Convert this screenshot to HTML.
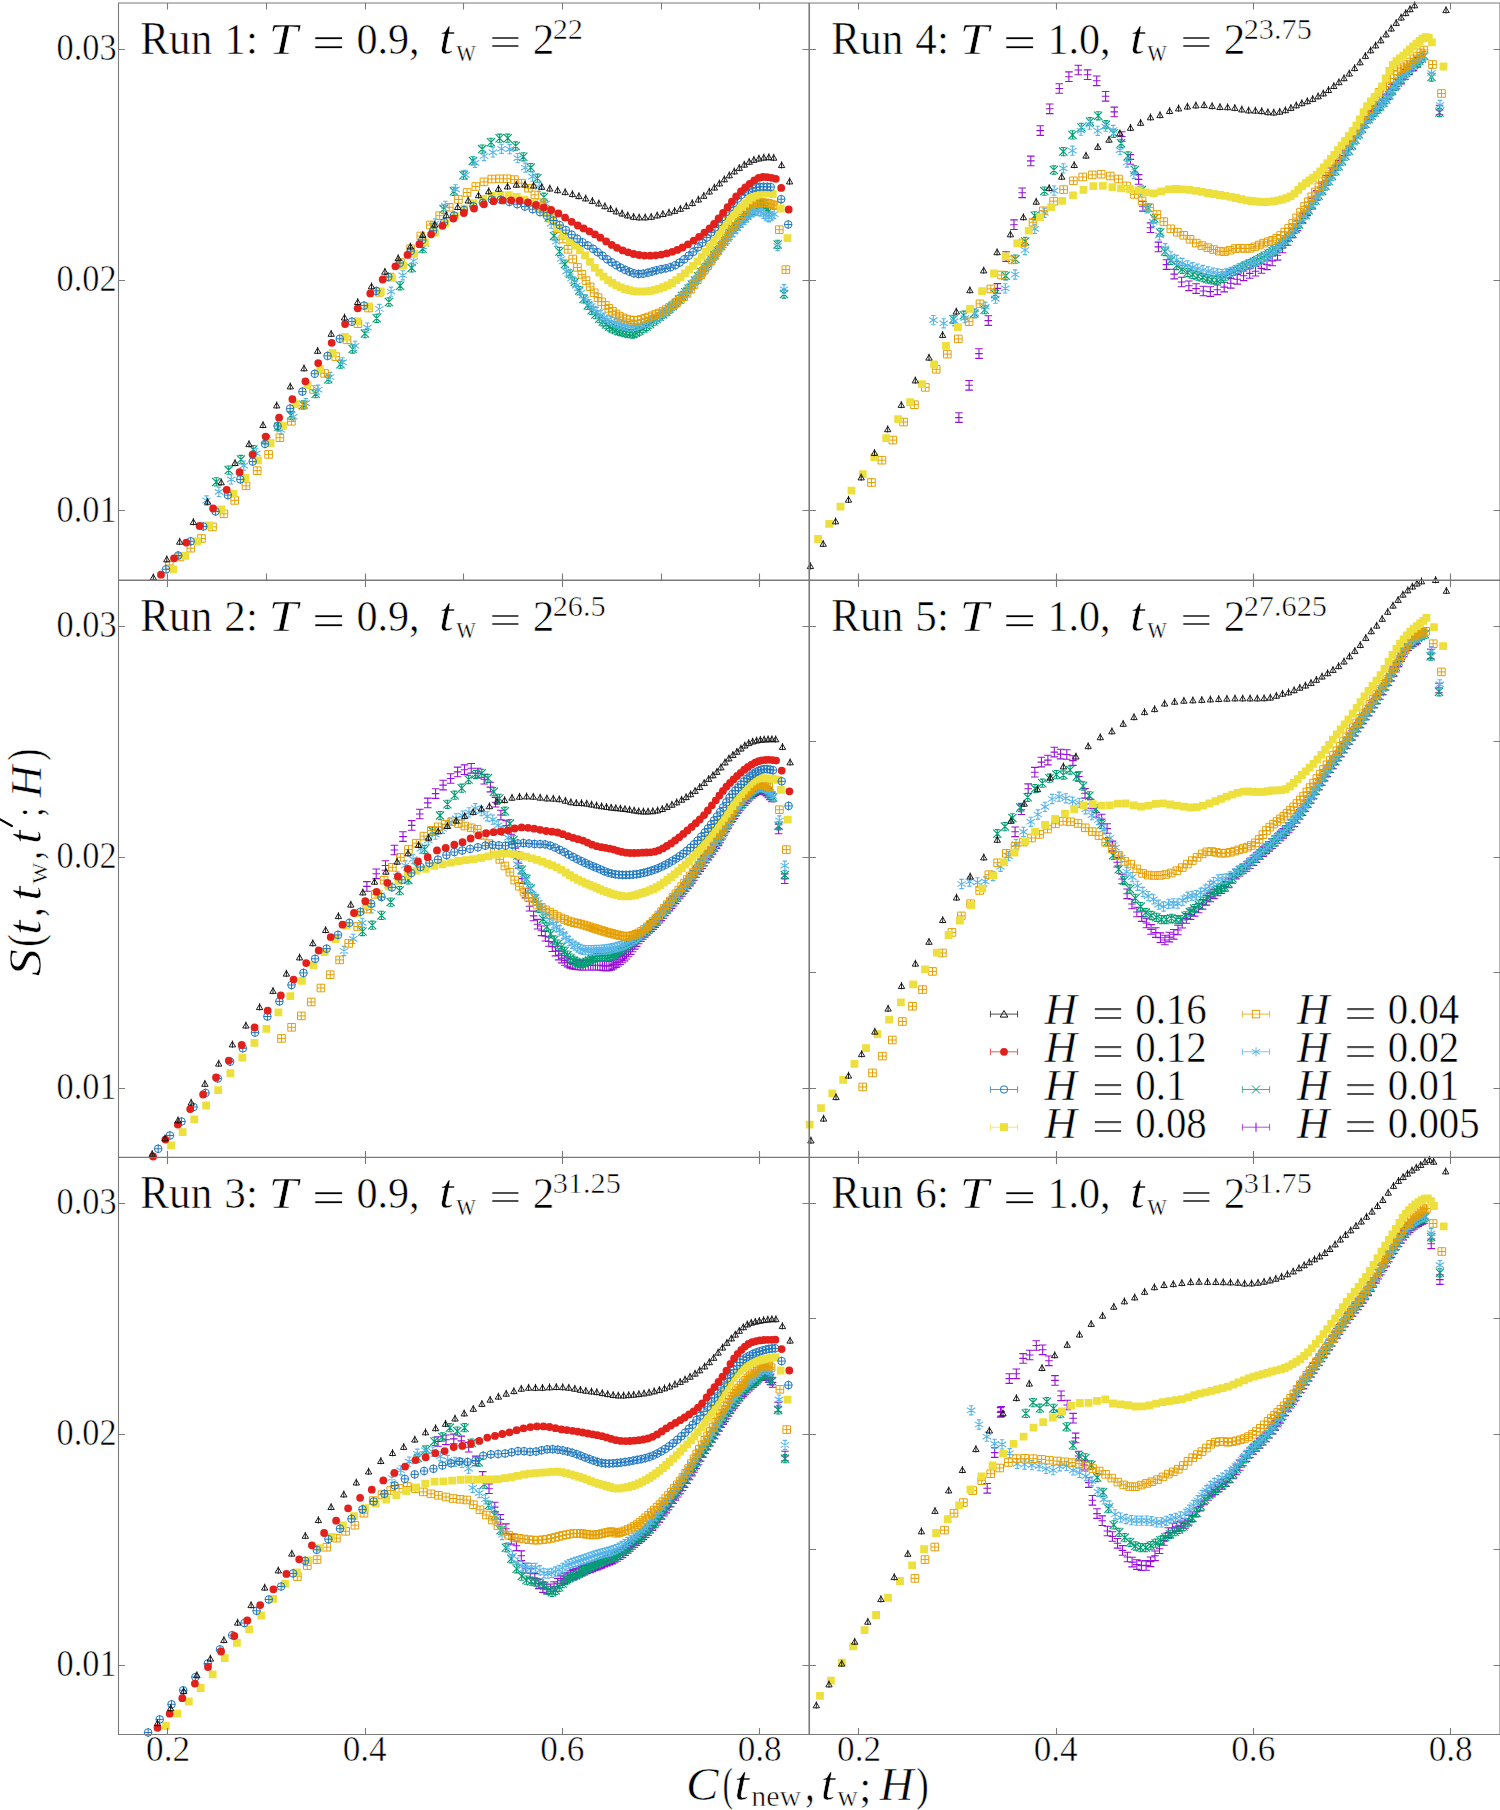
<!DOCTYPE html>
<html><head><meta charset="utf-8"><style>html,body{margin:0;padding:0;background:#fff;}svg{display:block;}</style></head>
<body><svg width="1500" height="1810" viewBox="0 0 1500 1810" font-family="Liberation Serif">
<defs><clipPath id="clipall"><rect x="100" y="0" width="1400" height="1750"/></clipPath></defs>
<g clip-path="url(#clipall)"><path fill="none" stroke="#009e73" stroke-width="1.1" d="M212.2 477.8l8.2 8.2m-8.2 0 8.2-8.2m-4.1 0v8.2m-2.4-8.2h4.8m-4.8 8.2h4.8M224.6 466l8.2 8.2m-8.2 0 8.2-8.2m-4.1 0v8.2m-2.4-8.2h4.8m-4.8 8.2h4.8M236.8 455.4l8.2 8.2m-8.2 0 8.2-8.2m-4.1 0v8.2m-2.4-8.2h4.8m-4.8 8.2h4.8M249.2 445.5l8.2 8.2m-8.2 0 8.2-8.2m-4.1 0v8.2m-2.4-8.2h4.8m-4.8 8.2h4.8M261.8 435.5l8.2 8.2m-8.2 0 8.2-8.2m-4.1 0v8.2m-2.4-8.2h4.8m-4.8 8.2h4.8M274.5 422.7l8.2 8.2m-8.2 0 8.2-8.2m-4.1 0v8.2m-2.4-8.2h4.8m-4.8 8.2h4.8M286.8 411.2l8.2 8.2m-8.2 0 8.2-8.2m-4.1 0v8.2m-2.4-8.2h4.8m-4.8 8.2h4.8M299.3 400.7l8.2 8.2m-8.2 0 8.2-8.2m-4.1 0v8.2m-2.4-8.2h4.8m-4.8 8.2h4.8M311.5 389.6l8.2 8.2m-8.2 0 8.2-8.2m-4.1 0v8.2m-2.4-8.2h4.8m-4.8 8.2h4.8M324.1 375.1l8.2 8.2m-8.2 0 8.2-8.2m-4.1 0v8.2m-2.4-8.2h4.8m-4.8 8.2h4.8M336.4 360.1l8.2 8.2m-8.2 0 8.2-8.2m-4.1 0v8.2m-2.4-8.2h4.8m-4.8 8.2h4.8M348.5 344.9l8.2 8.2m-8.2 0 8.2-8.2m-4.1 0v8.2m-2.4-8.2h4.8m-4.8 8.2h4.8M360.8 329.5l8.2 8.2m-8.2 0 8.2-8.2m-4.1 0v8.2m-2.4-8.2h4.8m-4.8 8.2h4.8M372.6 314.2l8.2 8.2m-8.2 0 8.2-8.2m-4.1 0v8.2m-2.4-8.2h4.8m-4.8 8.2h4.8M384.8 297.9l8.2 8.2m-8.2 0 8.2-8.2m-4.1 0v8.2m-2.4-8.2h4.8m-4.8 8.2h4.8M396 281.7l8.2 8.2m-8.2 0 8.2-8.2m-4.1 0v8.2m-2.4-8.2h4.8m-4.8 8.2h4.8M407.5 263.8l8.2 8.2m-8.2 0 8.2-8.2m-4.1 0v8.2m-2.4-8.2h4.8m-4.8 8.2h4.8M418.5 244.6l8.2 8.2m-8.2 0 8.2-8.2m-4.1 0v8.2m-2.4-8.2h4.8m-4.8 8.2h4.8M429.4 223.2l8.2 8.2m-8.2 0 8.2-8.2m-4.1 0v8.2m-2.4-8.2h4.8m-4.8 8.2h4.8M439.5 205l8.2 8.2m-8.2 0 8.2-8.2m-4.1 0v8.2m-2.4-8.2h4.8m-4.8 8.2h4.8M449.8 187.2l8.2 8.2m-8.2 0 8.2-8.2m-4.1 0v8.2m-2.4-8.2h4.8m-4.8 8.2h4.8M459.4 171.1l8.2 8.2m-8.2 0 8.2-8.2m-4.1 0v8.2m-2.4-8.2h4.8m-4.8 8.2h4.8M468.8 156.8l8.2 8.2m-8.2 0 8.2-8.2m-4.1 0v8.2m-2.4-8.2h4.8m-4.8 8.2h4.8M478.1 145l8.2 8.2m-8.2 0 8.2-8.2m-4.1 0v8.2m-2.4-8.2h4.8m-4.8 8.2h4.8M486.9 138.2l8.2 8.2m-8.2 0 8.2-8.2m-4.1 0v8.2m-2.4-8.2h4.8m-4.8 8.2h4.8M495.5 134.1l8.2 8.2m-8.2 0 8.2-8.2m-4.1 0v8.2m-2.4-8.2h4.8m-4.8 8.2h4.8M503.7 134.1l8.2 8.2m-8.2 0 8.2-8.2m-4.1 0v8.2m-2.4-8.2h4.8m-4.8 8.2h4.8M511.6 141.9l8.2 8.2m-8.2 0 8.2-8.2m-4.1 0v8.2m-2.4-8.2h4.8m-4.8 8.2h4.8M519.2 152.7l8.2 8.2m-8.2 0 8.2-8.2m-4.1 0v8.2m-2.4-8.2h4.8m-4.8 8.2h4.8M526.6 163.5l8.2 8.2m-8.2 0 8.2-8.2m-4.1 0v8.2m-2.4-8.2h4.8m-4.8 8.2h4.8M533.3 174.1l8.2 8.2m-8.2 0 8.2-8.2m-4.1 0v8.2m-2.4-8.2h4.8m-4.8 8.2h4.8M539.8 193.1l8.2 8.2m-8.2 0 8.2-8.2m-4.1 0v8.2m-2.4-8.2h4.8m-4.8 8.2h4.8M544.6 213.4l8.2 8.2m-8.2 0 8.2-8.2m-4.1 0v8.2m-2.4-8.2h4.8m-4.8 8.2h4.8M549.9 231.8l8.2 8.2m-8.2 0 8.2-8.2m-4.1 0v8.2m-2.4-8.2h4.8m-4.8 8.2h4.8M555.4 247.4l8.2 8.2m-8.2 0 8.2-8.2m-4.1 0v8.2m-2.4-8.2h4.8m-4.8 8.2h4.8M560.8 260l8.2 8.2m-8.2 0 8.2-8.2m-4.1 0v8.2m-2.4-8.2h4.8m-4.8 8.2h4.8M565.9 269.7l8.2 8.2m-8.2 0 8.2-8.2m-4.1 0v8.2m-2.4-8.2h4.8m-4.8 8.2h4.8M570.6 278l8.2 8.2m-8.2 0 8.2-8.2m-4.1 0v8.2m-2.4-8.2h4.8m-4.8 8.2h4.8M575.1 286.5l8.2 8.2m-8.2 0 8.2-8.2m-4.1 0v8.2m-2.4-8.2h4.8m-4.8 8.2h4.8M579.5 294.8l8.2 8.2m-8.2 0 8.2-8.2m-4.1 0v8.2m-2.4-8.2h4.8m-4.8 8.2h4.8M583.7 301.3l8.2 8.2m-8.2 0 8.2-8.2m-4.1 0v8.2m-2.4-8.2h4.8m-4.8 8.2h4.8M587.5 306.2l8.2 8.2m-8.2 0 8.2-8.2m-4.1 0v8.2m-2.4-8.2h4.8m-4.8 8.2h4.8M591.3 310.5l8.2 8.2m-8.2 0 8.2-8.2m-4.1 0v8.2m-2.4-8.2h4.8m-4.8 8.2h4.8M595.2 314.6l8.2 8.2m-8.2 0 8.2-8.2m-4.1 0v8.2m-2.4-8.2h4.8m-4.8 8.2h4.8M598.6 317.7l8.2 8.2m-8.2 0 8.2-8.2m-4.1 0v8.2m-2.4-8.2h4.8m-4.8 8.2h4.8M602 320.5l8.2 8.2m-8.2 0 8.2-8.2m-4.1 0v8.2m-2.4-8.2h4.8m-4.8 8.2h4.8M605.2 322.7l8.2 8.2m-8.2 0 8.2-8.2m-4.1 0v8.2m-2.4-8.2h4.8m-4.8 8.2h4.8M608.6 324.6l8.2 8.2m-8.2 0 8.2-8.2m-4.1 0v8.2m-2.4-8.2h4.8m-4.8 8.2h4.8M612 326l8.2 8.2m-8.2 0 8.2-8.2m-4.1 0v8.2m-2.4-8.2h4.8m-4.8 8.2h4.8M615.4 327.2l8.2 8.2m-8.2 0 8.2-8.2m-4.1 0v8.2m-2.4-8.2h4.8m-4.8 8.2h4.8M618.7 328.1l8.2 8.2m-8.2 0 8.2-8.2m-4.1 0v8.2m-2.4-8.2h4.8m-4.8 8.2h4.8M622.1 328.9l8.2 8.2m-8.2 0 8.2-8.2m-4.1 0v8.2m-2.4-8.2h4.8m-4.8 8.2h4.8M625.5 329.6l8.2 8.2m-8.2 0 8.2-8.2m-4.1 0v8.2m-2.4-8.2h4.8m-4.8 8.2h4.8M628.6 329.9l8.2 8.2m-8.2 0 8.2-8.2m-4.1 0v8.2m-2.4-8.2h4.8m-4.8 8.2h4.8M631.8 328.7l8.2 8.2m-8.2 0 8.2-8.2m-4.1 0v8.2m-2.4-8.2h4.8m-4.8 8.2h4.8M635.3 326.9l8.2 8.2m-8.2 0 8.2-8.2m-4.1 0v8.2m-2.4-8.2h4.8m-4.8 8.2h4.8M639 324.6l8.2 8.2m-8.2 0 8.2-8.2m-4.1 0v8.2m-2.4-8.2h4.8m-4.8 8.2h4.8M642.4 322.4l8.2 8.2m-8.2 0 8.2-8.2m-4.1 0v8.2m-2.4-8.2h4.8m-4.8 8.2h4.8M645.8 320l8.2 8.2m-8.2 0 8.2-8.2m-4.1 0v8.2m-2.4-8.2h4.8m-4.8 8.2h4.8M649.3 317.5l8.2 8.2m-8.2 0 8.2-8.2m-4.1 0v8.2m-2.4-8.2h4.8m-4.8 8.2h4.8M652.5 315l8.2 8.2m-8.2 0 8.2-8.2m-4.1 0v8.2m-2.4-8.2h4.8m-4.8 8.2h4.8M655.7 312.6l8.2 8.2m-8.2 0 8.2-8.2m-4.1 0v8.2m-2.4-8.2h4.8m-4.8 8.2h4.8M658.9 310.1l8.2 8.2m-8.2 0 8.2-8.2m-4.1 0v8.2m-2.4-8.2h4.8m-4.8 8.2h4.8M662.1 307.6l8.2 8.2m-8.2 0 8.2-8.2m-4.1 0v8.2m-2.4-8.2h4.8m-4.8 8.2h4.8M665.3 304.9l8.2 8.2m-8.2 0 8.2-8.2m-4.1 0v8.2m-2.4-8.2h4.8m-4.8 8.2h4.8M668.5 302l8.2 8.2m-8.2 0 8.2-8.2m-4.1 0v8.2m-2.4-8.2h4.8m-4.8 8.2h4.8M671.7 298.9l8.2 8.2m-8.2 0 8.2-8.2m-4.1 0v8.2m-2.4-8.2h4.8m-4.8 8.2h4.8M674.9 295.5l8.2 8.2m-8.2 0 8.2-8.2m-4.1 0v8.2m-2.4-8.2h4.8m-4.8 8.2h4.8M678.1 291.9l8.2 8.2m-8.2 0 8.2-8.2m-4.1 0v8.2m-2.4-8.2h4.8m-4.8 8.2h4.8M681.3 288.1l8.2 8.2m-8.2 0 8.2-8.2m-4.1 0v8.2m-2.4-8.2h4.8m-4.8 8.2h4.8M684.5 284.3l8.2 8.2m-8.2 0 8.2-8.2m-4.1 0v8.2m-2.4-8.2h4.8m-4.8 8.2h4.8M687.7 280.3l8.2 8.2m-8.2 0 8.2-8.2m-4.1 0v8.2m-2.4-8.2h4.8m-4.8 8.2h4.8M690.9 276.3l8.2 8.2m-8.2 0 8.2-8.2m-4.1 0v8.2m-2.4-8.2h4.8m-4.8 8.2h4.8M694.1 272.2l8.2 8.2m-8.2 0 8.2-8.2m-4.1 0v8.2m-2.4-8.2h4.8m-4.8 8.2h4.8M697.3 267.9l8.2 8.2m-8.2 0 8.2-8.2m-4.1 0v8.2m-2.4-8.2h4.8m-4.8 8.2h4.8M700.5 263.6l8.2 8.2m-8.2 0 8.2-8.2m-4.1 0v8.2m-2.4-8.2h4.8m-4.8 8.2h4.8M703.7 259.3l8.2 8.2m-8.2 0 8.2-8.2m-4.1 0v8.2m-2.4-8.2h4.8m-4.8 8.2h4.8M706.9 254.9l8.2 8.2m-8.2 0 8.2-8.2m-4.1 0v8.2m-2.4-8.2h4.8m-4.8 8.2h4.8M710.1 250.6l8.2 8.2m-8.2 0 8.2-8.2m-4.1 0v8.2m-2.4-8.2h4.8m-4.8 8.2h4.8M713.3 246.3l8.2 8.2m-8.2 0 8.2-8.2m-4.1 0v8.2m-2.4-8.2h4.8m-4.8 8.2h4.8M716.5 241.8l8.2 8.2m-8.2 0 8.2-8.2m-4.1 0v8.2m-2.4-8.2h4.8m-4.8 8.2h4.8M719.7 237.4l8.2 8.2m-8.2 0 8.2-8.2m-4.1 0v8.2m-2.4-8.2h4.8m-4.8 8.2h4.8M722.9 233.1l8.2 8.2m-8.2 0 8.2-8.2m-4.1 0v8.2m-2.4-8.2h4.8m-4.8 8.2h4.8M726.1 229l8.2 8.2m-8.2 0 8.2-8.2m-4.1 0v8.2m-2.4-8.2h4.8m-4.8 8.2h4.8M729.3 225.2l8.2 8.2m-8.2 0 8.2-8.2m-4.1 0v8.2m-2.4-8.2h4.8m-4.8 8.2h4.8M732 222.2l8.2 8.2m-8.2 0 8.2-8.2m-4.1 0v8.2m-2.4-8.2h4.8m-4.8 8.2h4.8M734.8 219.3l8.2 8.2m-8.2 0 8.2-8.2m-4.1 0v8.2m-2.4-8.2h4.8m-4.8 8.2h4.8M737.5 216.5l8.2 8.2m-8.2 0 8.2-8.2m-4.1 0v8.2m-2.4-8.2h4.8m-4.8 8.2h4.8M740.2 213.9l8.2 8.2m-8.2 0 8.2-8.2m-4.1 0v8.2m-2.4-8.2h4.8m-4.8 8.2h4.8M742.8 211.4l8.2 8.2m-8.2 0 8.2-8.2m-4.1 0v8.2m-2.4-8.2h4.8m-4.8 8.2h4.8M745.8 208.6l8.2 8.2m-8.2 0 8.2-8.2m-4.1 0v8.2m-2.4-8.2h4.8m-4.8 8.2h4.8M748.4 206.2l8.2 8.2m-8.2 0 8.2-8.2m-4.1 0v8.2m-2.4-8.2h4.8m-4.8 8.2h4.8M751.1 203.2l8.2 8.2m-8.2 0 8.2-8.2m-4.1 0v8.2m-2.4-8.2h4.8m-4.8 8.2h4.8M753.9 200.1l8.2 8.2m-8.2 0 8.2-8.2m-4.1 0v8.2m-2.4-8.2h4.8m-4.8 8.2h4.8M756.6 198.6l8.2 8.2m-8.2 0 8.2-8.2m-4.1 0v8.2m-2.4-8.2h4.8m-4.8 8.2h4.8M759.2 199.8l8.2 8.2m-8.2 0 8.2-8.2m-4.1 0v8.2m-2.4-8.2h4.8m-4.8 8.2h4.8M761.8 202.9l8.2 8.2m-8.2 0 8.2-8.2m-4.1 0v8.2m-2.4-8.2h4.8m-4.8 8.2h4.8M764.6 207.4l8.2 8.2m-8.2 0 8.2-8.2m-4.1 0v8.2m-2.4-8.2h4.8m-4.8 8.2h4.8M773.5 240.3l8.2 8.2m-8.2 0 8.2-8.2m-4.1 0v8.2m-2.4-8.2h4.8m-4.8 8.2h4.8M779.9 289.9l8.2 8.2m-8.2 0 8.2-8.2m-4.1 0v8.2m-2.4-8.2h4.8m-4.8 8.2h4.8"/>
<path fill="none" stroke="#56b4e9" stroke-width="1.1" d="M206.5 495.9v9.2m-4.2-7.2 8.4 5.2m-8.4 0 8.4-5.2m-6.4-2h4.4m-4.4 9.2h4.4M218.9 487.3v9.2m-4.2-7.2 8.4 5.2m-8.4 0 8.4-5.2m-6.4-2h4.4m-4.4 9.2h4.4M231.2 474.8v9.2m-4.2-7.2 8.4 5.2m-8.4 0 8.4-5.2m-6.4-2h4.4m-4.4 9.2h4.4M243.8 461v9.2m-4.2-7.2 8.4 5.2m-8.4 0 8.4-5.2m-6.4-2h4.4m-4.4 9.2h4.4M256.3 448.7v9.2m-4.2-7.2 8.4 5.2m-8.4 0 8.4-5.2m-6.4-2h4.4m-4.4 9.2h4.4M268.8 437.2v9.2m-4.2-7.2 8.4 5.2m-8.4 0 8.4-5.2m-6.4-2h4.4m-4.4 9.2h4.4M281 425.2v9.2m-4.2-7.2 8.4 5.2m-8.4 0 8.4-5.2m-6.4-2h4.4m-4.4 9.2h4.4M293.3 412.2v9.2m-4.2-7.2 8.4 5.2m-8.4 0 8.4-5.2m-6.4-2h4.4m-4.4 9.2h4.4M305.8 398.5v9.2m-4.2-7.2 8.4 5.2m-8.4 0 8.4-5.2m-6.4-2h4.4m-4.4 9.2h4.4M318.1 385.1v9.2m-4.2-7.2 8.4 5.2m-8.4 0 8.4-5.2m-6.4-2h4.4m-4.4 9.2h4.4M330.2 372.4v9.2m-4.2-7.2 8.4 5.2m-8.4 0 8.4-5.2m-6.4-2h4.4m-4.4 9.2h4.4M342.6 357.8v9.2m-4.2-7.2 8.4 5.2m-8.4 0 8.4-5.2m-6.4-2h4.4m-4.4 9.2h4.4M355.1 341.2v9.2m-4.2-7.2 8.4 5.2m-8.4 0 8.4-5.2m-6.4-2h4.4m-4.4 9.2h4.4M367.4 323v9.2m-4.2-7.2 8.4 5.2m-8.4 0 8.4-5.2m-6.4-2h4.4m-4.4 9.2h4.4M379.4 304.4v9.2m-4.2-7.2 8.4 5.2m-8.4 0 8.4-5.2m-6.4-2h4.4m-4.4 9.2h4.4M391.1 287.1v9.2m-4.2-7.2 8.4 5.2m-8.4 0 8.4-5.2m-6.4-2h4.4m-4.4 9.2h4.4M402.8 270.7v9.2m-4.2-7.2 8.4 5.2m-8.4 0 8.4-5.2m-6.4-2h4.4m-4.4 9.2h4.4M413.8 256.4v9.2m-4.2-7.2 8.4 5.2m-8.4 0 8.4-5.2m-6.4-2h4.4m-4.4 9.2h4.4M424.7 239.3v9.2m-4.2-7.2 8.4 5.2m-8.4 0 8.4-5.2m-6.4-2h4.4m-4.4 9.2h4.4M435.3 218.9v9.2m-4.2-7.2 8.4 5.2m-8.4 0 8.4-5.2m-6.4-2h4.4m-4.4 9.2h4.4M445.4 201.2v9.2m-4.2-7.2 8.4 5.2m-8.4 0 8.4-5.2m-6.4-2h4.4m-4.4 9.2h4.4M455.5 184.8v9.2m-4.2-7.2 8.4 5.2m-8.4 0 8.4-5.2m-6.4-2h4.4m-4.4 9.2h4.4M465.4 170.3v9.2m-4.2-7.2 8.4 5.2m-8.4 0 8.4-5.2m-6.4-2h4.4m-4.4 9.2h4.4M475 158.3v9.2m-4.2-7.2 8.4 5.2m-8.4 0 8.4-5.2m-6.4-2h4.4m-4.4 9.2h4.4M484.1 151.4v9.2m-4.2-7.2 8.4 5.2m-8.4 0 8.4-5.2m-6.4-2h4.4m-4.4 9.2h4.4M492.9 147.8v9.2m-4.2-7.2 8.4 5.2m-8.4 0 8.4-5.2m-6.4-2h4.4m-4.4 9.2h4.4M501.5 144.2v9.2m-4.2-7.2 8.4 5.2m-8.4 0 8.4-5.2m-6.4-2h4.4m-4.4 9.2h4.4M509.7 144.6v9.2m-4.2-7.2 8.4 5.2m-8.4 0 8.4-5.2m-6.4-2h4.4m-4.4 9.2h4.4M517.7 153.5v9.2m-4.2-7.2 8.4 5.2m-8.4 0 8.4-5.2m-6.4-2h4.4m-4.4 9.2h4.4M525.3 163.1v9.2m-4.2-7.2 8.4 5.2m-8.4 0 8.4-5.2m-6.4-2h4.4m-4.4 9.2h4.4M532.5 172v9.2m-4.2-7.2 8.4 5.2m-8.4 0 8.4-5.2m-6.4-2h4.4m-4.4 9.2h4.4M539.1 182.4v9.2m-4.2-7.2 8.4 5.2m-8.4 0 8.4-5.2m-6.4-2h4.4m-4.4 9.2h4.4M545.6 199v9.2m-4.2-7.2 8.4 5.2m-8.4 0 8.4-5.2m-6.4-2h4.4m-4.4 9.2h4.4M551.2 219v9.2m-4.2-7.2 8.4 5.2m-8.4 0 8.4-5.2m-6.4-2h4.4m-4.4 9.2h4.4M556 237.2v9.2m-4.2-7.2 8.4 5.2m-8.4 0 8.4-5.2m-6.4-2h4.4m-4.4 9.2h4.4M561.1 254.4v9.2m-4.2-7.2 8.4 5.2m-8.4 0 8.4-5.2m-6.4-2h4.4m-4.4 9.2h4.4M566.5 266.8v9.2m-4.2-7.2 8.4 5.2m-8.4 0 8.4-5.2m-6.4-2h4.4m-4.4 9.2h4.4M571.4 273.9v9.2m-4.2-7.2 8.4 5.2m-8.4 0 8.4-5.2m-6.4-2h4.4m-4.4 9.2h4.4M576.2 281.1v9.2m-4.2-7.2 8.4 5.2m-8.4 0 8.4-5.2m-6.4-2h4.4m-4.4 9.2h4.4M580.9 288.4v9.2m-4.2-7.2 8.4 5.2m-8.4 0 8.4-5.2m-6.4-2h4.4m-4.4 9.2h4.4M585.3 294.6v9.2m-4.2-7.2 8.4 5.2m-8.4 0 8.4-5.2m-6.4-2h4.4m-4.4 9.2h4.4M589.3 299.6v9.2m-4.2-7.2 8.4 5.2m-8.4 0 8.4-5.2m-6.4-2h4.4m-4.4 9.2h4.4M593.4 304v9.2m-4.2-7.2 8.4 5.2m-8.4 0 8.4-5.2m-6.4-2h4.4m-4.4 9.2h4.4M597 307.5v9.2m-4.2-7.2 8.4 5.2m-8.4 0 8.4-5.2m-6.4-2h4.4m-4.4 9.2h4.4M600.8 310.7v9.2m-4.2-7.2 8.4 5.2m-8.4 0 8.4-5.2m-6.4-2h4.4m-4.4 9.2h4.4M604.2 313v9.2m-4.2-7.2 8.4 5.2m-8.4 0 8.4-5.2m-6.4-2h4.4m-4.4 9.2h4.4M607.9 315.1v9.2m-4.2-7.2 8.4 5.2m-8.4 0 8.4-5.2m-6.4-2h4.4m-4.4 9.2h4.4M611.3 316.6v9.2m-4.2-7.2 8.4 5.2m-8.4 0 8.4-5.2m-6.4-2h4.4m-4.4 9.2h4.4M614.8 317.8v9.2m-4.2-7.2 8.4 5.2m-8.4 0 8.4-5.2m-6.4-2h4.4m-4.4 9.2h4.4M618.2 318.9v9.2m-4.2-7.2 8.4 5.2m-8.4 0 8.4-5.2m-6.4-2h4.4m-4.4 9.2h4.4M621.3 319.9v9.2m-4.2-7.2 8.4 5.2m-8.4 0 8.4-5.2m-6.4-2h4.4m-4.4 9.2h4.4M624.5 320.7v9.2m-4.2-7.2 8.4 5.2m-8.4 0 8.4-5.2m-6.4-2h4.4m-4.4 9.2h4.4M627.6 321.6v9.2m-4.2-7.2 8.4 5.2m-8.4 0 8.4-5.2m-6.4-2h4.4m-4.4 9.2h4.4M630.9 321.8v9.2m-4.2-7.2 8.4 5.2m-8.4 0 8.4-5.2m-6.4-2h4.4m-4.4 9.2h4.4M634.1 321.3v9.2m-4.2-7.2 8.4 5.2m-8.4 0 8.4-5.2m-6.4-2h4.4m-4.4 9.2h4.4M637.4 320.5v9.2m-4.2-7.2 8.4 5.2m-8.4 0 8.4-5.2m-6.4-2h4.4m-4.4 9.2h4.4M640.6 319.7v9.2m-4.2-7.2 8.4 5.2m-8.4 0 8.4-5.2m-6.4-2h4.4m-4.4 9.2h4.4M644 318.6v9.2m-4.2-7.2 8.4 5.2m-8.4 0 8.4-5.2m-6.4-2h4.4m-4.4 9.2h4.4M647.4 317.4v9.2m-4.2-7.2 8.4 5.2m-8.4 0 8.4-5.2m-6.4-2h4.4m-4.4 9.2h4.4M650.8 315.9v9.2m-4.2-7.2 8.4 5.2m-8.4 0 8.4-5.2m-6.4-2h4.4m-4.4 9.2h4.4M654.1 314.3v9.2m-4.2-7.2 8.4 5.2m-8.4 0 8.4-5.2m-6.4-2h4.4m-4.4 9.2h4.4M657.3 312.6v9.2m-4.2-7.2 8.4 5.2m-8.4 0 8.4-5.2m-6.4-2h4.4m-4.4 9.2h4.4M660.5 310.7v9.2m-4.2-7.2 8.4 5.2m-8.4 0 8.4-5.2m-6.4-2h4.4m-4.4 9.2h4.4M663.7 308.6v9.2m-4.2-7.2 8.4 5.2m-8.4 0 8.4-5.2m-6.4-2h4.4m-4.4 9.2h4.4M666.9 306.4v9.2m-4.2-7.2 8.4 5.2m-8.4 0 8.4-5.2m-6.4-2h4.4m-4.4 9.2h4.4M670.1 303.8v9.2m-4.2-7.2 8.4 5.2m-8.4 0 8.4-5.2m-6.4-2h4.4m-4.4 9.2h4.4M673.3 301.1v9.2m-4.2-7.2 8.4 5.2m-8.4 0 8.4-5.2m-6.4-2h4.4m-4.4 9.2h4.4M676.5 298v9.2m-4.2-7.2 8.4 5.2m-8.4 0 8.4-5.2m-6.4-2h4.4m-4.4 9.2h4.4M679.7 294.6v9.2m-4.2-7.2 8.4 5.2m-8.4 0 8.4-5.2m-6.4-2h4.4m-4.4 9.2h4.4M682.9 291.1v9.2m-4.2-7.2 8.4 5.2m-8.4 0 8.4-5.2m-6.4-2h4.4m-4.4 9.2h4.4M686.1 287.4v9.2m-4.2-7.2 8.4 5.2m-8.4 0 8.4-5.2m-6.4-2h4.4m-4.4 9.2h4.4M689.3 283.6v9.2m-4.2-7.2 8.4 5.2m-8.4 0 8.4-5.2m-6.4-2h4.4m-4.4 9.2h4.4M692.5 279.9v9.2m-4.2-7.2 8.4 5.2m-8.4 0 8.4-5.2m-6.4-2h4.4m-4.4 9.2h4.4M695.7 276.1v9.2m-4.2-7.2 8.4 5.2m-8.4 0 8.4-5.2m-6.4-2h4.4m-4.4 9.2h4.4M698.9 272.1v9.2m-4.2-7.2 8.4 5.2m-8.4 0 8.4-5.2m-6.4-2h4.4m-4.4 9.2h4.4M702.1 268.1v9.2m-4.2-7.2 8.4 5.2m-8.4 0 8.4-5.2m-6.4-2h4.4m-4.4 9.2h4.4M705.3 264v9.2m-4.2-7.2 8.4 5.2m-8.4 0 8.4-5.2m-6.4-2h4.4m-4.4 9.2h4.4M708.5 259.9v9.2m-4.2-7.2 8.4 5.2m-8.4 0 8.4-5.2m-6.4-2h4.4m-4.4 9.2h4.4M711.7 255.7v9.2m-4.2-7.2 8.4 5.2m-8.4 0 8.4-5.2m-6.4-2h4.4m-4.4 9.2h4.4M714.9 251.4v9.2m-4.2-7.2 8.4 5.2m-8.4 0 8.4-5.2m-6.4-2h4.4m-4.4 9.2h4.4M718.1 247v9.2m-4.2-7.2 8.4 5.2m-8.4 0 8.4-5.2m-6.4-2h4.4m-4.4 9.2h4.4M721.3 242.6v9.2m-4.2-7.2 8.4 5.2m-8.4 0 8.4-5.2m-6.4-2h4.4m-4.4 9.2h4.4M724.5 238.3v9.2m-4.2-7.2 8.4 5.2m-8.4 0 8.4-5.2m-6.4-2h4.4m-4.4 9.2h4.4M727.7 234.2v9.2m-4.2-7.2 8.4 5.2m-8.4 0 8.4-5.2m-6.4-2h4.4m-4.4 9.2h4.4M730.9 230.2v9.2m-4.2-7.2 8.4 5.2m-8.4 0 8.4-5.2m-6.4-2h4.4m-4.4 9.2h4.4M733.6 227.1v9.2m-4.2-7.2 8.4 5.2m-8.4 0 8.4-5.2m-6.4-2h4.4m-4.4 9.2h4.4M736.4 223.9v9.2m-4.2-7.2 8.4 5.2m-8.4 0 8.4-5.2m-6.4-2h4.4m-4.4 9.2h4.4M739.1 220.8v9.2m-4.2-7.2 8.4 5.2m-8.4 0 8.4-5.2m-6.4-2h4.4m-4.4 9.2h4.4M741.8 217.9v9.2m-4.2-7.2 8.4 5.2m-8.4 0 8.4-5.2m-6.4-2h4.4m-4.4 9.2h4.4M744.4 215.3v9.2m-4.2-7.2 8.4 5.2m-8.4 0 8.4-5.2m-6.4-2h4.4m-4.4 9.2h4.4M747.3 212.4v9.2m-4.2-7.2 8.4 5.2m-8.4 0 8.4-5.2m-6.4-2h4.4m-4.4 9.2h4.4M750.1 209.8v9.2m-4.2-7.2 8.4 5.2m-8.4 0 8.4-5.2m-6.4-2h4.4m-4.4 9.2h4.4M752.7 207.8v9.2m-4.2-7.2 8.4 5.2m-8.4 0 8.4-5.2m-6.4-2h4.4m-4.4 9.2h4.4M755.3 206.5v9.2m-4.2-7.2 8.4 5.2m-8.4 0 8.4-5.2m-6.4-2h4.4m-4.4 9.2h4.4M758.1 206.2v9.2m-4.2-7.2 8.4 5.2m-8.4 0 8.4-5.2m-6.4-2h4.4m-4.4 9.2h4.4M760.7 207.1v9.2m-4.2-7.2 8.4 5.2m-8.4 0 8.4-5.2m-6.4-2h4.4m-4.4 9.2h4.4M763.4 209.3v9.2m-4.2-7.2 8.4 5.2m-8.4 0 8.4-5.2m-6.4-2h4.4m-4.4 9.2h4.4M766 211.5v9.2m-4.2-7.2 8.4 5.2m-8.4 0 8.4-5.2m-6.4-2h4.4m-4.4 9.2h4.4M768.8 212.7v9.2m-4.2-7.2 8.4 5.2m-8.4 0 8.4-5.2m-6.4-2h4.4m-4.4 9.2h4.4M771.6 211.6v9.2m-4.2-7.2 8.4 5.2m-8.4 0 8.4-5.2m-6.4-2h4.4m-4.4 9.2h4.4M774.2 209.5v9.2m-4.2-7.2 8.4 5.2m-8.4 0 8.4-5.2m-6.4-2h4.4m-4.4 9.2h4.4M777.6 241.4v9.2m-4.2-7.2 8.4 5.2m-8.4 0 8.4-5.2m-6.4-2h4.4m-4.4 9.2h4.4M784 284.6v9.2m-4.2-7.2 8.4 5.2m-8.4 0 8.4-5.2m-6.4-2h4.4m-4.4 9.2h4.4"/>
<path fill="none" stroke="#e69f00" stroke-width="1.0" d="M165.5 561.2h7.6v7.6h-7.6zm3.8 0v7.6m-3.8-3.8h7.6M176.2 553.2h7.6v7.6h-7.6zm3.8 0v7.6m-3.8-3.8h7.6M187 544.4h7.6v7.6h-7.6zm3.8 0v7.6m-3.8-3.8h7.6M197.7 534.7h7.6v7.6h-7.6zm3.8 0v7.6m-3.8-3.8h7.6M208.7 523.1h7.6v7.6h-7.6zm3.8 0v7.6m-3.8-3.8h7.6M220.1 510h7.6v7.6h-7.6zm3.8 0v7.6m-3.8-3.8h7.6M230.9 496.6h7.6v7.6h-7.6zm3.8 0v7.6m-3.8-3.8h7.6M242.2 482h7.6v7.6h-7.6zm3.8 0v7.6m-3.8-3.8h7.6M253.4 466.9h7.6v7.6h-7.6zm3.8 0v7.6m-3.8-3.8h7.6M264.8 450.6h7.6v7.6h-7.6zm3.8 0v7.6m-3.8-3.8h7.6M276.1 433.9h7.6v7.6h-7.6zm3.8 0v7.6m-3.8-3.8h7.6M287.6 417.5h7.6v7.6h-7.6zm3.8 0v7.6m-3.8-3.8h7.6M298.7 401.6h7.6v7.6h-7.6zm3.8 0v7.6m-3.8-3.8h7.6M309.8 385.7h7.6v7.6h-7.6zm3.8 0v7.6m-3.8-3.8h7.6M320.8 369.6h7.6v7.6h-7.6zm3.8 0v7.6m-3.8-3.8h7.6M332 352.8h7.6v7.6h-7.6zm3.8 0v7.6m-3.8-3.8h7.6M343.2 336h7.6v7.6h-7.6zm3.8 0v7.6m-3.8-3.8h7.6M354.1 319.9h7.6v7.6h-7.6zm3.8 0v7.6m-3.8-3.8h7.6M364.8 304.2h7.6v7.6h-7.6zm3.8 0v7.6m-3.8-3.8h7.6M375.6 288.5h7.6v7.6h-7.6zm3.8 0v7.6m-3.8-3.8h7.6M386.3 273.3h7.6v7.6h-7.6zm3.8 0v7.6m-3.8-3.8h7.6M396.7 258.7h7.6v7.6h-7.6zm3.8 0v7.6m-3.8-3.8h7.6M406.8 245h7.6v7.6h-7.6zm3.8 0v7.6m-3.8-3.8h7.6M417 232.2h7.6v7.6h-7.6zm3.8 0v7.6m-3.8-3.8h7.6M426.6 221.2h7.6v7.6h-7.6zm3.8 0v7.6m-3.8-3.8h7.6M435.9 211.9h7.6v7.6h-7.6zm3.8 0v7.6m-3.8-3.8h7.6M445.4 203.5h7.6v7.6h-7.6zm3.8 0v7.6m-3.8-3.8h7.6M454.6 195.7h7.6v7.6h-7.6zm3.8 0v7.6m-3.8-3.8h7.6M463.3 188.7h7.6v7.6h-7.6zm3.8 0v7.6m-3.8-3.8h7.6M472 182.7h7.6v7.6h-7.6zm3.8 0v7.6m-3.8-3.8h7.6M480.2 178.1h7.6v7.6h-7.6zm3.8 0v7.6m-3.8-3.8h7.6M488 175.2h7.6v7.6h-7.6zm3.8 0v7.6m-3.8-3.8h7.6M495.8 175h7.6v7.6h-7.6zm3.8 0v7.6m-3.8-3.8h7.6M503.3 175h7.6v7.6h-7.6zm3.8 0v7.6m-3.8-3.8h7.6M510.6 175.8h7.6v7.6h-7.6zm3.8 0v7.6m-3.8-3.8h7.6M517.8 179.4h7.6v7.6h-7.6zm3.8 0v7.6m-3.8-3.8h7.6M524.6 184.4h7.6v7.6h-7.6zm3.8 0v7.6m-3.8-3.8h7.6M531.1 191.1h7.6v7.6h-7.6zm3.8 0v7.6m-3.8-3.8h7.6M537.1 199h7.6v7.6h-7.6zm3.8 0v7.6m-3.8-3.8h7.6M542.9 206.7h7.6v7.6h-7.6zm3.8 0v7.6m-3.8-3.8h7.6M548.4 214.9h7.6v7.6h-7.6zm3.8 0v7.6m-3.8-3.8h7.6M554 225h7.6v7.6h-7.6zm3.8 0v7.6m-3.8-3.8h7.6M559.1 235.2h7.6v7.6h-7.6zm3.8 0v7.6m-3.8-3.8h7.6M564.2 245.5h7.6v7.6h-7.6zm3.8 0v7.6m-3.8-3.8h7.6M568.9 255.2h7.6v7.6h-7.6zm3.8 0v7.6m-3.8-3.8h7.6M573.6 263.6h7.6v7.6h-7.6zm3.8 0v7.6m-3.8-3.8h7.6M578.1 270.6h7.6v7.6h-7.6zm3.8 0v7.6m-3.8-3.8h7.6M582.2 276.8h7.6v7.6h-7.6zm3.8 0v7.6m-3.8-3.8h7.6M586.3 283h7.6v7.6h-7.6zm3.8 0v7.6m-3.8-3.8h7.6M590.4 289h7.6v7.6h-7.6zm3.8 0v7.6m-3.8-3.8h7.6M594.2 293.8h7.6v7.6h-7.6zm3.8 0v7.6m-3.8-3.8h7.6M597.8 298h7.6v7.6h-7.6zm3.8 0v7.6m-3.8-3.8h7.6M601.5 301.6h7.6v7.6h-7.6zm3.8 0v7.6m-3.8-3.8h7.6M605 304.6h7.6v7.6h-7.6zm3.8 0v7.6m-3.8-3.8h7.6M608.7 307.6h7.6v7.6h-7.6zm3.8 0v7.6m-3.8-3.8h7.6M612.1 310.1h7.6v7.6h-7.6zm3.8 0v7.6m-3.8-3.8h7.6M615.6 312.3h7.6v7.6h-7.6zm3.8 0v7.6m-3.8-3.8h7.6M619.1 314h7.6v7.6h-7.6zm3.8 0v7.6m-3.8-3.8h7.6M622.8 315.3h7.6v7.6h-7.6zm3.8 0v7.6m-3.8-3.8h7.6M626.4 316.1h7.6v7.6h-7.6zm3.8 0v7.6m-3.8-3.8h7.6M630.1 316.6h7.6v7.6h-7.6zm3.8 0v7.6m-3.8-3.8h7.6M633.6 316.5h7.6v7.6h-7.6zm3.8 0v7.6m-3.8-3.8h7.6M637.3 315.7h7.6v7.6h-7.6zm3.8 0v7.6m-3.8-3.8h7.6M641.1 314.4h7.6v7.6h-7.6zm3.8 0v7.6m-3.8-3.8h7.6M644.7 313.3h7.6v7.6h-7.6zm3.8 0v7.6m-3.8-3.8h7.6M648.5 312h7.6v7.6h-7.6zm3.8 0v7.6m-3.8-3.8h7.6M651.9 310.7h7.6v7.6h-7.6zm3.8 0v7.6m-3.8-3.8h7.6M655.3 309.3h7.6v7.6h-7.6zm3.8 0v7.6m-3.8-3.8h7.6M659.1 307.6h7.6v7.6h-7.6zm3.8 0v7.6m-3.8-3.8h7.6M662.6 305.7h7.6v7.6h-7.6zm3.8 0v7.6m-3.8-3.8h7.6M665.9 303.6h7.6v7.6h-7.6zm3.8 0v7.6m-3.8-3.8h7.6M669.7 301h7.6v7.6h-7.6zm3.8 0v7.6m-3.8-3.8h7.6M673.1 298.5h7.6v7.6h-7.6zm3.8 0v7.6m-3.8-3.8h7.6M676.5 295.9h7.6v7.6h-7.6zm3.8 0v7.6m-3.8-3.8h7.6M679.9 292.9h7.6v7.6h-7.6zm3.8 0v7.6m-3.8-3.8h7.6M683.3 289.5h7.6v7.6h-7.6zm3.8 0v7.6m-3.8-3.8h7.6M686.8 285.5h7.6v7.6h-7.6zm3.8 0v7.6m-3.8-3.8h7.6M690.2 280.8h7.6v7.6h-7.6zm3.8 0v7.6m-3.8-3.8h7.6M693.6 275.9h7.6v7.6h-7.6zm3.8 0v7.6m-3.8-3.8h7.6M697 271h7.6v7.6h-7.6zm3.8 0v7.6m-3.8-3.8h7.6M700.4 266.4h7.6v7.6h-7.6zm3.8 0v7.6m-3.8-3.8h7.6M703.8 261.8h7.6v7.6h-7.6zm3.8 0v7.6m-3.8-3.8h7.6M707.2 257.1h7.6v7.6h-7.6zm3.8 0v7.6m-3.8-3.8h7.6M710.7 252.1h7.6v7.6h-7.6zm3.8 0v7.6m-3.8-3.8h7.6M713.6 247.3h7.6v7.6h-7.6zm3.8 0v7.6m-3.8-3.8h7.6M716.6 242.4h7.6v7.6h-7.6zm3.8 0v7.6m-3.8-3.8h7.6M719.6 237.4h7.6v7.6h-7.6zm3.8 0v7.6m-3.8-3.8h7.6M722.6 232.6h7.6v7.6h-7.6zm3.8 0v7.6m-3.8-3.8h7.6M725.6 227.9h7.6v7.6h-7.6zm3.8 0v7.6m-3.8-3.8h7.6M728.6 223.2h7.6v7.6h-7.6zm3.8 0v7.6m-3.8-3.8h7.6M731.6 218.6h7.6v7.6h-7.6zm3.8 0v7.6m-3.8-3.8h7.6M734.5 214.5h7.6v7.6h-7.6zm3.8 0v7.6m-3.8-3.8h7.6M737.5 210.8h7.6v7.6h-7.6zm3.8 0v7.6m-3.8-3.8h7.6M740.5 207.3h7.6v7.6h-7.6zm3.8 0v7.6m-3.8-3.8h7.6M743.5 204.2h7.6v7.6h-7.6zm3.8 0v7.6m-3.8-3.8h7.6M746.5 201.7h7.6v7.6h-7.6zm3.8 0v7.6m-3.8-3.8h7.6M749.5 200h7.6v7.6h-7.6zm3.8 0v7.6m-3.8-3.8h7.6M752.5 199.1h7.6v7.6h-7.6zm3.8 0v7.6m-3.8-3.8h7.6M755.5 198.8h7.6v7.6h-7.6zm3.8 0v7.6m-3.8-3.8h7.6M758.4 198.8h7.6v7.6h-7.6zm3.8 0v7.6m-3.8-3.8h7.6M761.4 199h7.6v7.6h-7.6zm3.8 0v7.6m-3.8-3.8h7.6M764.3 199.5h7.6v7.6h-7.6zm3.8 0v7.6m-3.8-3.8h7.6M767.2 200.2h7.6v7.6h-7.6zm3.8 0v7.6m-3.8-3.8h7.6M770 201.1h7.6v7.6h-7.6zm3.8 0v7.6m-3.8-3.8h7.6M773 202h7.6v7.6h-7.6zm3.8 0v7.6m-3.8-3.8h7.6M775.5 225.9h7.6v7.6h-7.6zm3.8 0v7.6m-3.8-3.8h7.6M782.1 265.8h7.6v7.6h-7.6zm3.8 0v7.6m-3.8-3.8h7.6"/>
<path fill="#eee03c" stroke="none" d="M169.4 565.4h7.8v7.8h-7.8zM181.4 551.9h7.8v7.8h-7.8zM193.3 537.6h7.8v7.8h-7.8zM205.1 521.6h7.8v7.8h-7.8zM217.3 505.4h7.8v7.8h-7.8zM229.6 490h7.8v7.8h-7.8zM241.6 473.9h7.8v7.8h-7.8zM254.1 456.4h7.8v7.8h-7.8zM266.7 439.1h7.8v7.8h-7.8zM279.1 422h7.8v7.8h-7.8zM291.4 400.3h7.8v7.8h-7.8zM303.6 381.3h7.8v7.8h-7.8zM316.1 365.1h7.8v7.8h-7.8zM328.6 348.9h7.8v7.8h-7.8zM341 332.9h7.8v7.8h-7.8zM353.3 317.2h7.8v7.8h-7.8zM364.9 302.4h7.8v7.8h-7.8zM376.9 287.6h7.8v7.8h-7.8zM388.1 274.3h7.8v7.8h-7.8zM399.3 261.8h7.8v7.8h-7.8zM410.2 249.9h7.8v7.8h-7.8zM421 238.6h7.8v7.8h-7.8zM431.1 228.7h7.8v7.8h-7.8zM441.4 219.4h7.8v7.8h-7.8zM451 211.7h7.8v7.8h-7.8zM460.3 204.8h7.8v7.8h-7.8zM469.7 199.2h7.8v7.8h-7.8zM479.2 195h7.8v7.8h-7.8zM488.1 192.1h7.8v7.8h-7.8zM496.4 190.9h7.8v7.8h-7.8zM504.8 191.3h7.8v7.8h-7.8zM512.9 193h7.8v7.8h-7.8zM520.4 195.7h7.8v7.8h-7.8zM527.7 199.3h7.8v7.8h-7.8zM534.5 203.3h7.8v7.8h-7.8zM541.4 208.8h7.8v7.8h-7.8zM547.6 215.7h7.8v7.8h-7.8zM553.9 223.9h7.8v7.8h-7.8zM560.1 231.4h7.8v7.8h-7.8zM565.9 237.1h7.8v7.8h-7.8zM571.1 241.7h7.8v7.8h-7.8zM576 246.1h7.8v7.8h-7.8zM581.2 251.5h7.8v7.8h-7.8zM586.1 258h7.8v7.8h-7.8zM590.9 264h7.8v7.8h-7.8zM595.4 268.7h7.8v7.8h-7.8zM599.7 272.7h7.8v7.8h-7.8zM604.2 276.2h7.8v7.8h-7.8zM608.3 279h7.8v7.8h-7.8zM612.5 281.4h7.8v7.8h-7.8zM616.8 283.5h7.8v7.8h-7.8zM621.2 285.1h7.8v7.8h-7.8zM625.4 286.3h7.8v7.8h-7.8zM629.7 287.2h7.8v7.8h-7.8zM634 287.6h7.8v7.8h-7.8zM638.2 287.7h7.8v7.8h-7.8zM642.5 287.5h7.8v7.8h-7.8zM646.8 286.9h7.8v7.8h-7.8zM651 286h7.8v7.8h-7.8zM655.3 284.8h7.8v7.8h-7.8zM659.6 283.3h7.8v7.8h-7.8zM663.8 281.4h7.8v7.8h-7.8zM668.1 279.1h7.8v7.8h-7.8zM672.4 276.3h7.8v7.8h-7.8zM676.7 273.1h7.8v7.8h-7.8zM681 269.5h7.8v7.8h-7.8zM685.2 265.8h7.8v7.8h-7.8zM689.2 262h7.8v7.8h-7.8zM693.6 257.5h7.8v7.8h-7.8zM697.8 252.8h7.8v7.8h-7.8zM701.9 247.9h7.8v7.8h-7.8zM705.8 242.6h7.8v7.8h-7.8zM709.6 237.1h7.8v7.8h-7.8zM713.3 231.9h7.8v7.8h-7.8zM716.7 226.9h7.8v7.8h-7.8zM720.3 221.5h7.8v7.8h-7.8zM723.7 217h7.8v7.8h-7.8zM727.4 212.8h7.8v7.8h-7.8zM730.8 209.4h7.8v7.8h-7.8zM734.3 206.1h7.8v7.8h-7.8zM737.8 202.9h7.8v7.8h-7.8zM741.2 199.6h7.8v7.8h-7.8zM744.6 196.3h7.8v7.8h-7.8zM748 193.6h7.8v7.8h-7.8zM751.5 191.6h7.8v7.8h-7.8zM755.1 190.5h7.8v7.8h-7.8zM758.7 189.8h7.8v7.8h-7.8zM762.2 189.3h7.8v7.8h-7.8zM765.6 189.3h7.8v7.8h-7.8zM768.9 190.1h7.8v7.8h-7.8zM776.8 204.6h7.8v7.8h-7.8zM783.6 234.2h7.8v7.8h-7.8z"/>
<path fill="none" stroke="#1f78c1" stroke-width="1.0" d="M162.2 569.3a3.8 3.8 0 1 0 7.6 0a3.8 3.8 0 1 0-7.6 0zh7.6m-3.8-4.4v8.8M174.4 555.5a3.8 3.8 0 1 0 7.6 0a3.8 3.8 0 1 0-7.6 0zh7.6m-3.8-4.4v8.8M186.9 541.3a3.8 3.8 0 1 0 7.6 0a3.8 3.8 0 1 0-7.6 0zh7.6m-3.8-4.4v8.8M199.5 526.5a3.8 3.8 0 1 0 7.6 0a3.8 3.8 0 1 0-7.6 0zh7.6m-3.8-4.4v8.8M211.8 511.4a3.8 3.8 0 1 0 7.6 0a3.8 3.8 0 1 0-7.6 0zh7.6m-3.8-4.4v8.8M224.1 495.1a3.8 3.8 0 1 0 7.6 0a3.8 3.8 0 1 0-7.6 0zh7.6m-3.8-4.4v8.8M236.5 479.4a3.8 3.8 0 1 0 7.6 0a3.8 3.8 0 1 0-7.6 0zh7.6m-3.8-4.4v8.8M248.9 461.6a3.8 3.8 0 1 0 7.6 0a3.8 3.8 0 1 0-7.6 0zh7.6m-3.8-4.4v8.8M261.2 443.9a3.8 3.8 0 1 0 7.6 0a3.8 3.8 0 1 0-7.6 0zh7.6m-3.8-4.4v8.8M273.8 426a3.8 3.8 0 1 0 7.6 0a3.8 3.8 0 1 0-7.6 0zh7.6m-3.8-4.4v8.8M286.3 408.6a3.8 3.8 0 1 0 7.6 0a3.8 3.8 0 1 0-7.6 0zh7.6m-3.8-4.4v8.8M298.6 391.6a3.8 3.8 0 1 0 7.6 0a3.8 3.8 0 1 0-7.6 0zh7.6m-3.8-4.4v8.8M311 373.8a3.8 3.8 0 1 0 7.6 0a3.8 3.8 0 1 0-7.6 0zh7.6m-3.8-4.4v8.8M323.8 355.9a3.8 3.8 0 1 0 7.6 0a3.8 3.8 0 1 0-7.6 0zh7.6m-3.8-4.4v8.8M336 338.8a3.8 3.8 0 1 0 7.6 0a3.8 3.8 0 1 0-7.6 0zh7.6m-3.8-4.4v8.8M348.1 321.7a3.8 3.8 0 1 0 7.6 0a3.8 3.8 0 1 0-7.6 0zh7.6m-3.8-4.4v8.8M360.2 305.6a3.8 3.8 0 1 0 7.6 0a3.8 3.8 0 1 0-7.6 0zh7.6m-3.8-4.4v8.8M372.5 290.9a3.8 3.8 0 1 0 7.6 0a3.8 3.8 0 1 0-7.6 0zh7.6m-3.8-4.4v8.8M384.5 276.9a3.8 3.8 0 1 0 7.6 0a3.8 3.8 0 1 0-7.6 0zh7.6m-3.8-4.4v8.8M396 263.1a3.8 3.8 0 1 0 7.6 0a3.8 3.8 0 1 0-7.6 0zh7.6m-3.8-4.4v8.8M407 251.1a3.8 3.8 0 1 0 7.6 0a3.8 3.8 0 1 0-7.6 0zh7.6m-3.8-4.4v8.8M418.5 240a3.8 3.8 0 1 0 7.6 0a3.8 3.8 0 1 0-7.6 0zh7.6m-3.8-4.4v8.8M429.4 230.7a3.8 3.8 0 1 0 7.6 0a3.8 3.8 0 1 0-7.6 0zh7.6m-3.8-4.4v8.8M440.3 222.3a3.8 3.8 0 1 0 7.6 0a3.8 3.8 0 1 0-7.6 0zh7.6m-3.8-4.4v8.8M450.2 215.5a3.8 3.8 0 1 0 7.6 0a3.8 3.8 0 1 0-7.6 0zh7.6m-3.8-4.4v8.8M460.2 210a3.8 3.8 0 1 0 7.6 0a3.8 3.8 0 1 0-7.6 0zh7.6m-3.8-4.4v8.8M469.6 206.3a3.8 3.8 0 1 0 7.6 0a3.8 3.8 0 1 0-7.6 0zh7.6m-3.8-4.4v8.8M479.1 202.9a3.8 3.8 0 1 0 7.6 0a3.8 3.8 0 1 0-7.6 0zh7.6m-3.8-4.4v8.8M488.1 199.6a3.8 3.8 0 1 0 7.6 0a3.8 3.8 0 1 0-7.6 0zh7.6m-3.8-4.4v8.8M497 199.8a3.8 3.8 0 1 0 7.6 0a3.8 3.8 0 1 0-7.6 0zh7.6m-3.8-4.4v8.8M505.5 201.9a3.8 3.8 0 1 0 7.6 0a3.8 3.8 0 1 0-7.6 0zh7.6m-3.8-4.4v8.8M513.4 204.2a3.8 3.8 0 1 0 7.6 0a3.8 3.8 0 1 0-7.6 0zh7.6m-3.8-4.4v8.8M521.1 206.6a3.8 3.8 0 1 0 7.6 0a3.8 3.8 0 1 0-7.6 0zh7.6m-3.8-4.4v8.8M528.9 209.2a3.8 3.8 0 1 0 7.6 0a3.8 3.8 0 1 0-7.6 0zh7.6m-3.8-4.4v8.8M536.2 212.1a3.8 3.8 0 1 0 7.6 0a3.8 3.8 0 1 0-7.6 0zh7.6m-3.8-4.4v8.8M543.2 215.9a3.8 3.8 0 1 0 7.6 0a3.8 3.8 0 1 0-7.6 0zh7.6m-3.8-4.4v8.8M549.7 220.5a3.8 3.8 0 1 0 7.6 0a3.8 3.8 0 1 0-7.6 0zh7.6m-3.8-4.4v8.8M555.9 225.1a3.8 3.8 0 1 0 7.6 0a3.8 3.8 0 1 0-7.6 0zh7.6m-3.8-4.4v8.8M562.1 230.1a3.8 3.8 0 1 0 7.6 0a3.8 3.8 0 1 0-7.6 0zh7.6m-3.8-4.4v8.8M567.9 234.7a3.8 3.8 0 1 0 7.6 0a3.8 3.8 0 1 0-7.6 0zh7.6m-3.8-4.4v8.8M573.4 238.8a3.8 3.8 0 1 0 7.6 0a3.8 3.8 0 1 0-7.6 0zh7.6m-3.8-4.4v8.8M578.7 242.3a3.8 3.8 0 1 0 7.6 0a3.8 3.8 0 1 0-7.6 0zh7.6m-3.8-4.4v8.8M584 245.5a3.8 3.8 0 1 0 7.6 0a3.8 3.8 0 1 0-7.6 0zh7.6m-3.8-4.4v8.8M589.2 248.8a3.8 3.8 0 1 0 7.6 0a3.8 3.8 0 1 0-7.6 0zh7.6m-3.8-4.4v8.8M593.9 252.2a3.8 3.8 0 1 0 7.6 0a3.8 3.8 0 1 0-7.6 0zh7.6m-3.8-4.4v8.8M598.7 255.7a3.8 3.8 0 1 0 7.6 0a3.8 3.8 0 1 0-7.6 0zh7.6m-3.8-4.4v8.8M603.4 259.3a3.8 3.8 0 1 0 7.6 0a3.8 3.8 0 1 0-7.6 0zh7.6m-3.8-4.4v8.8M608 262.4a3.8 3.8 0 1 0 7.6 0a3.8 3.8 0 1 0-7.6 0zh7.6m-3.8-4.4v8.8M612.4 265.1a3.8 3.8 0 1 0 7.6 0a3.8 3.8 0 1 0-7.6 0zh7.6m-3.8-4.4v8.8M616.8 267.6a3.8 3.8 0 1 0 7.6 0a3.8 3.8 0 1 0-7.6 0zh7.6m-3.8-4.4v8.8M621.4 269.9a3.8 3.8 0 1 0 7.6 0a3.8 3.8 0 1 0-7.6 0zh7.6m-3.8-4.4v8.8M625.7 271.7a3.8 3.8 0 1 0 7.6 0a3.8 3.8 0 1 0-7.6 0zh7.6m-3.8-4.4v8.8M630.1 273.3a3.8 3.8 0 1 0 7.6 0a3.8 3.8 0 1 0-7.6 0zh7.6m-3.8-4.4v8.8M634.7 274a3.8 3.8 0 1 0 7.6 0a3.8 3.8 0 1 0-7.6 0zh7.6m-3.8-4.4v8.8M639.4 273.7a3.8 3.8 0 1 0 7.6 0a3.8 3.8 0 1 0-7.6 0zh7.6m-3.8-4.4v8.8M644.1 272.7a3.8 3.8 0 1 0 7.6 0a3.8 3.8 0 1 0-7.6 0zh7.6m-3.8-4.4v8.8M648.4 271.5a3.8 3.8 0 1 0 7.6 0a3.8 3.8 0 1 0-7.6 0zh7.6m-3.8-4.4v8.8M652.6 270.3a3.8 3.8 0 1 0 7.6 0a3.8 3.8 0 1 0-7.6 0zh7.6m-3.8-4.4v8.8M657.3 269.2a3.8 3.8 0 1 0 7.6 0a3.8 3.8 0 1 0-7.6 0zh7.6m-3.8-4.4v8.8M661.9 268.4a3.8 3.8 0 1 0 7.6 0a3.8 3.8 0 1 0-7.6 0zh7.6m-3.8-4.4v8.8M666.6 267.2a3.8 3.8 0 1 0 7.6 0a3.8 3.8 0 1 0-7.6 0zh7.6m-3.8-4.4v8.8M671.4 265.2a3.8 3.8 0 1 0 7.6 0a3.8 3.8 0 1 0-7.6 0zh7.6m-3.8-4.4v8.8M675.8 262.6a3.8 3.8 0 1 0 7.6 0a3.8 3.8 0 1 0-7.6 0zh7.6m-3.8-4.4v8.8M680.4 259.3a3.8 3.8 0 1 0 7.6 0a3.8 3.8 0 1 0-7.6 0zh7.6m-3.8-4.4v8.8M685 255.7a3.8 3.8 0 1 0 7.6 0a3.8 3.8 0 1 0-7.6 0zh7.6m-3.8-4.4v8.8M689.4 251.9a3.8 3.8 0 1 0 7.6 0a3.8 3.8 0 1 0-7.6 0zh7.6m-3.8-4.4v8.8M694.1 247.4a3.8 3.8 0 1 0 7.6 0a3.8 3.8 0 1 0-7.6 0zh7.6m-3.8-4.4v8.8M698.6 242.7a3.8 3.8 0 1 0 7.6 0a3.8 3.8 0 1 0-7.6 0zh7.6m-3.8-4.4v8.8M703 237.6a3.8 3.8 0 1 0 7.6 0a3.8 3.8 0 1 0-7.6 0zh7.6m-3.8-4.4v8.8M707.4 232.4a3.8 3.8 0 1 0 7.6 0a3.8 3.8 0 1 0-7.6 0zh7.6m-3.8-4.4v8.8M711.2 227.5a3.8 3.8 0 1 0 7.6 0a3.8 3.8 0 1 0-7.6 0zh7.6m-3.8-4.4v8.8M714.9 222.3a3.8 3.8 0 1 0 7.6 0a3.8 3.8 0 1 0-7.6 0zh7.6m-3.8-4.4v8.8M718.6 217.1a3.8 3.8 0 1 0 7.6 0a3.8 3.8 0 1 0-7.6 0zh7.6m-3.8-4.4v8.8M722.3 212.1a3.8 3.8 0 1 0 7.6 0a3.8 3.8 0 1 0-7.6 0zh7.6m-3.8-4.4v8.8M726.1 207.5a3.8 3.8 0 1 0 7.6 0a3.8 3.8 0 1 0-7.6 0zh7.6m-3.8-4.4v8.8M730 202.9a3.8 3.8 0 1 0 7.6 0a3.8 3.8 0 1 0-7.6 0zh7.6m-3.8-4.4v8.8M733.8 198.6a3.8 3.8 0 1 0 7.6 0a3.8 3.8 0 1 0-7.6 0zh7.6m-3.8-4.4v8.8M737.5 194.9a3.8 3.8 0 1 0 7.6 0a3.8 3.8 0 1 0-7.6 0zh7.6m-3.8-4.4v8.8M741.2 191.8a3.8 3.8 0 1 0 7.6 0a3.8 3.8 0 1 0-7.6 0zh7.6m-3.8-4.4v8.8M744.9 189.7a3.8 3.8 0 1 0 7.6 0a3.8 3.8 0 1 0-7.6 0zh7.6m-3.8-4.4v8.8M748.7 188.3a3.8 3.8 0 1 0 7.6 0a3.8 3.8 0 1 0-7.6 0zh7.6m-3.8-4.4v8.8M752.2 187.4a3.8 3.8 0 1 0 7.6 0a3.8 3.8 0 1 0-7.6 0zh7.6m-3.8-4.4v8.8M756 186.9a3.8 3.8 0 1 0 7.6 0a3.8 3.8 0 1 0-7.6 0zh7.6m-3.8-4.4v8.8M759.8 186.8a3.8 3.8 0 1 0 7.6 0a3.8 3.8 0 1 0-7.6 0zh7.6m-3.8-4.4v8.8M763.4 186.8a3.8 3.8 0 1 0 7.6 0a3.8 3.8 0 1 0-7.6 0zh7.6m-3.8-4.4v8.8M766.9 187.1a3.8 3.8 0 1 0 7.6 0a3.8 3.8 0 1 0-7.6 0zh7.6m-3.8-4.4v8.8M777.4 199.2a3.8 3.8 0 1 0 7.6 0a3.8 3.8 0 1 0-7.6 0zh7.6m-3.8-4.4v8.8M784.4 224.5a3.8 3.8 0 1 0 7.6 0a3.8 3.8 0 1 0-7.6 0zh7.6m-3.8-4.4v8.8"/>
<path fill="#e3211c" stroke="none" d="M157.1 574.7a3.9 3.9 0 1 0 7.8 0a3.9 3.9 0 1 0-7.8 0zM170.1 558.3a3.9 3.9 0 1 0 7.8 0a3.9 3.9 0 1 0-7.8 0zM182.4 542.6a3.9 3.9 0 1 0 7.8 0a3.9 3.9 0 1 0-7.8 0zM195.7 526a3.9 3.9 0 1 0 7.8 0a3.9 3.9 0 1 0-7.8 0zM209.2 508.5a3.9 3.9 0 1 0 7.8 0a3.9 3.9 0 1 0-7.8 0zM222.8 489.8a3.9 3.9 0 1 0 7.8 0a3.9 3.9 0 1 0-7.8 0zM235.7 472.2a3.9 3.9 0 1 0 7.8 0a3.9 3.9 0 1 0-7.8 0zM248.7 454.6a3.9 3.9 0 1 0 7.8 0a3.9 3.9 0 1 0-7.8 0zM261.8 436.6a3.9 3.9 0 1 0 7.8 0a3.9 3.9 0 1 0-7.8 0zM275.2 417.7a3.9 3.9 0 1 0 7.8 0a3.9 3.9 0 1 0-7.8 0zM288.5 399.2a3.9 3.9 0 1 0 7.8 0a3.9 3.9 0 1 0-7.8 0zM301.5 381.3a3.9 3.9 0 1 0 7.8 0a3.9 3.9 0 1 0-7.8 0zM314.3 363.1a3.9 3.9 0 1 0 7.8 0a3.9 3.9 0 1 0-7.8 0zM327.8 342.8a3.9 3.9 0 1 0 7.8 0a3.9 3.9 0 1 0-7.8 0zM341.2 324.1a3.9 3.9 0 1 0 7.8 0a3.9 3.9 0 1 0-7.8 0zM353.8 308.3a3.9 3.9 0 1 0 7.8 0a3.9 3.9 0 1 0-7.8 0zM366.4 293.4a3.9 3.9 0 1 0 7.8 0a3.9 3.9 0 1 0-7.8 0zM378.8 279.5a3.9 3.9 0 1 0 7.8 0a3.9 3.9 0 1 0-7.8 0zM391.5 266.3a3.9 3.9 0 1 0 7.8 0a3.9 3.9 0 1 0-7.8 0zM403.6 254.9a3.9 3.9 0 1 0 7.8 0a3.9 3.9 0 1 0-7.8 0zM415.5 244.2a3.9 3.9 0 1 0 7.8 0a3.9 3.9 0 1 0-7.8 0zM427.2 234.3a3.9 3.9 0 1 0 7.8 0a3.9 3.9 0 1 0-7.8 0zM438.5 225.8a3.9 3.9 0 1 0 7.8 0a3.9 3.9 0 1 0-7.8 0zM449.4 218.6a3.9 3.9 0 1 0 7.8 0a3.9 3.9 0 1 0-7.8 0zM459.9 213a3.9 3.9 0 1 0 7.8 0a3.9 3.9 0 1 0-7.8 0zM470.1 208.6a3.9 3.9 0 1 0 7.8 0a3.9 3.9 0 1 0-7.8 0zM480 204.3a3.9 3.9 0 1 0 7.8 0a3.9 3.9 0 1 0-7.8 0zM489.6 201.2a3.9 3.9 0 1 0 7.8 0a3.9 3.9 0 1 0-7.8 0zM498.7 200.4a3.9 3.9 0 1 0 7.8 0a3.9 3.9 0 1 0-7.8 0zM507.3 200.4a3.9 3.9 0 1 0 7.8 0a3.9 3.9 0 1 0-7.8 0zM515.7 200.7a3.9 3.9 0 1 0 7.8 0a3.9 3.9 0 1 0-7.8 0zM524.1 202.3a3.9 3.9 0 1 0 7.8 0a3.9 3.9 0 1 0-7.8 0zM532.1 205a3.9 3.9 0 1 0 7.8 0a3.9 3.9 0 1 0-7.8 0zM539.8 207.5a3.9 3.9 0 1 0 7.8 0a3.9 3.9 0 1 0-7.8 0zM547.3 210a3.9 3.9 0 1 0 7.8 0a3.9 3.9 0 1 0-7.8 0zM554.5 213.5a3.9 3.9 0 1 0 7.8 0a3.9 3.9 0 1 0-7.8 0zM561.2 217.6a3.9 3.9 0 1 0 7.8 0a3.9 3.9 0 1 0-7.8 0zM567.8 221.8a3.9 3.9 0 1 0 7.8 0a3.9 3.9 0 1 0-7.8 0zM573.9 225.5a3.9 3.9 0 1 0 7.8 0a3.9 3.9 0 1 0-7.8 0zM579.7 228.4a3.9 3.9 0 1 0 7.8 0a3.9 3.9 0 1 0-7.8 0zM585.5 231.3a3.9 3.9 0 1 0 7.8 0a3.9 3.9 0 1 0-7.8 0zM591.1 234.4a3.9 3.9 0 1 0 7.8 0a3.9 3.9 0 1 0-7.8 0zM596.5 237.7a3.9 3.9 0 1 0 7.8 0a3.9 3.9 0 1 0-7.8 0zM602.3 241.4a3.9 3.9 0 1 0 7.8 0a3.9 3.9 0 1 0-7.8 0zM607.9 244.9a3.9 3.9 0 1 0 7.8 0a3.9 3.9 0 1 0-7.8 0zM613.2 247.8a3.9 3.9 0 1 0 7.8 0a3.9 3.9 0 1 0-7.8 0zM618.8 250.4a3.9 3.9 0 1 0 7.8 0a3.9 3.9 0 1 0-7.8 0zM624.3 252.4a3.9 3.9 0 1 0 7.8 0a3.9 3.9 0 1 0-7.8 0zM629.7 254a3.9 3.9 0 1 0 7.8 0a3.9 3.9 0 1 0-7.8 0zM635.2 255a3.9 3.9 0 1 0 7.8 0a3.9 3.9 0 1 0-7.8 0zM640.7 255.6a3.9 3.9 0 1 0 7.8 0a3.9 3.9 0 1 0-7.8 0zM646.3 255.7a3.9 3.9 0 1 0 7.8 0a3.9 3.9 0 1 0-7.8 0zM651.8 255.3a3.9 3.9 0 1 0 7.8 0a3.9 3.9 0 1 0-7.8 0zM657.4 254.6a3.9 3.9 0 1 0 7.8 0a3.9 3.9 0 1 0-7.8 0zM662.9 253.4a3.9 3.9 0 1 0 7.8 0a3.9 3.9 0 1 0-7.8 0zM668.3 251.8a3.9 3.9 0 1 0 7.8 0a3.9 3.9 0 1 0-7.8 0zM673.4 249.9a3.9 3.9 0 1 0 7.8 0a3.9 3.9 0 1 0-7.8 0zM678.6 247.5a3.9 3.9 0 1 0 7.8 0a3.9 3.9 0 1 0-7.8 0zM684.1 244.4a3.9 3.9 0 1 0 7.8 0a3.9 3.9 0 1 0-7.8 0zM689.8 240.6a3.9 3.9 0 1 0 7.8 0a3.9 3.9 0 1 0-7.8 0zM695.2 236.8a3.9 3.9 0 1 0 7.8 0a3.9 3.9 0 1 0-7.8 0zM700.5 232.7a3.9 3.9 0 1 0 7.8 0a3.9 3.9 0 1 0-7.8 0zM705.7 228.4a3.9 3.9 0 1 0 7.8 0a3.9 3.9 0 1 0-7.8 0zM710.2 224a3.9 3.9 0 1 0 7.8 0a3.9 3.9 0 1 0-7.8 0zM714.7 218.5a3.9 3.9 0 1 0 7.8 0a3.9 3.9 0 1 0-7.8 0zM719.2 212.9a3.9 3.9 0 1 0 7.8 0a3.9 3.9 0 1 0-7.8 0zM723.7 207.2a3.9 3.9 0 1 0 7.8 0a3.9 3.9 0 1 0-7.8 0zM728 201.7a3.9 3.9 0 1 0 7.8 0a3.9 3.9 0 1 0-7.8 0zM732.3 196.5a3.9 3.9 0 1 0 7.8 0a3.9 3.9 0 1 0-7.8 0zM737.1 191.4a3.9 3.9 0 1 0 7.8 0a3.9 3.9 0 1 0-7.8 0zM741.4 187.4a3.9 3.9 0 1 0 7.8 0a3.9 3.9 0 1 0-7.8 0zM745.8 183.8a3.9 3.9 0 1 0 7.8 0a3.9 3.9 0 1 0-7.8 0zM750.4 180.4a3.9 3.9 0 1 0 7.8 0a3.9 3.9 0 1 0-7.8 0zM754.7 177.9a3.9 3.9 0 1 0 7.8 0a3.9 3.9 0 1 0-7.8 0zM759 177a3.9 3.9 0 1 0 7.8 0a3.9 3.9 0 1 0-7.8 0zM763.3 177.2a3.9 3.9 0 1 0 7.8 0a3.9 3.9 0 1 0-7.8 0zM767.7 177.8a3.9 3.9 0 1 0 7.8 0a3.9 3.9 0 1 0-7.8 0zM771.9 178.8a3.9 3.9 0 1 0 7.8 0a3.9 3.9 0 1 0-7.8 0zM777.3 187.9a3.9 3.9 0 1 0 7.8 0a3.9 3.9 0 1 0-7.8 0zM784.8 209.5a3.9 3.9 0 1 0 7.8 0a3.9 3.9 0 1 0-7.8 0z"/>
<path fill="none" stroke="#111111" stroke-width="0.95" d="M150.1 579.9l3.2-5.4 3.2 5.4zm3.2-6.4v7.2M163.6 561.8l3.2-5.4 3.2 5.4zm3.2-6.4v7.2M176.5 544.2l3.2-5.4 3.2 5.4zm3.2-6.4v7.2M190.2 524.5l3.2-5.4 3.2 5.4zm3.2-6.4v7.2M204.4 504.2l3.2-5.4 3.2 5.4zm3.2-6.4v7.2M218 484.8l3.2-5.4 3.2 5.4zm3.2-6.4v7.2M231.8 465.5l3.2-5.4 3.2 5.4zm3.2-6.4v7.2M245.8 446.6l3.2-5.4 3.2 5.4zm3.2-6.4v7.2M259.8 427.5l3.2-5.4 3.2 5.4zm3.2-6.4v7.2M273.5 407.9l3.2-5.4 3.2 5.4zm3.2-6.4v7.2M287.1 388.9l3.2-5.4 3.2 5.4zm3.2-6.4v7.2M300.8 370.8l3.2-5.4 3.2 5.4zm3.2-6.4v7.2M314.4 353.3l3.2-5.4 3.2 5.4zm3.2-6.4v7.2M328 336.3l3.2-5.4 3.2 5.4zm3.2-6.4v7.2M341.3 320l3.2-5.4 3.2 5.4zm3.2-6.4v7.2M354.5 304.5l3.2-5.4 3.2 5.4zm3.2-6.4v7.2M368.3 288.8l3.2-5.4 3.2 5.4zm3.2-6.4v7.2M381.7 274.2l3.2-5.4 3.2 5.4zm3.2-6.4v7.2M395 260.7l3.2-5.4 3.2 5.4zm3.2-6.4v7.2M407.2 249l3.2-5.4 3.2 5.4zm3.2-6.4v7.2M419.6 237.5l3.2-5.4 3.2 5.4zm3.2-6.4v7.2M431.5 227.1l3.2-5.4 3.2 5.4zm3.2-6.4v7.2M443.1 217.8l3.2-5.4 3.2 5.4zm3.2-6.4v7.2M454.5 209.5l3.2-5.4 3.2 5.4zm3.2-6.4v7.2M465 203l3.2-5.4 3.2 5.4zm3.2-6.4v7.2M475.3 197.7l3.2-5.4 3.2 5.4zm3.2-6.4v7.2M485.5 193.8l3.2-5.4 3.2 5.4zm3.2-6.4v7.2M495.3 191.2l3.2-5.4 3.2 5.4zm3.2-6.4v7.2M504.3 188.9l3.2-5.4 3.2 5.4zm3.2-6.4v7.2M513.1 187.2l3.2-5.4 3.2 5.4zm3.2-6.4v7.2M521.8 187l3.2-5.4 3.2 5.4zm3.2-6.4v7.2M530.4 188l3.2-5.4 3.2 5.4zm3.2-6.4v7.2M538.5 189.3l3.2-5.4 3.2 5.4zm3.2-6.4v7.2M546.6 191l3.2-5.4 3.2 5.4zm3.2-6.4v7.2M554.4 192.7l3.2-5.4 3.2 5.4zm3.2-6.4v7.2M562 194.6l3.2-5.4 3.2 5.4zm3.2-6.4v7.2M569.2 196.6l3.2-5.4 3.2 5.4zm3.2-6.4v7.2M575.7 198.6l3.2-5.4 3.2 5.4zm3.2-6.4v7.2M582.5 200.9l3.2-5.4 3.2 5.4zm3.2-6.4v7.2M589.2 203.4l3.2-5.4 3.2 5.4zm3.2-6.4v7.2M595.6 205.9l3.2-5.4 3.2 5.4zm3.2-6.4v7.2M601.7 208.7l3.2-5.4 3.2 5.4zm3.2-6.4v7.2M607.4 211.4l3.2-5.4 3.2 5.4zm3.2-6.4v7.2M613.1 213.9l3.2-5.4 3.2 5.4zm3.2-6.4v7.2M618.9 216l3.2-5.4 3.2 5.4zm3.2-6.4v7.2M624.5 217.9l3.2-5.4 3.2 5.4zm3.2-6.4v7.2M630.4 219.3l3.2-5.4 3.2 5.4zm3.2-6.4v7.2M636 219.9l3.2-5.4 3.2 5.4zm3.2-6.4v7.2M642 219.9l3.2-5.4 3.2 5.4zm3.2-6.4v7.2M648 219.3l3.2-5.4 3.2 5.4zm3.2-6.4v7.2M654 217.9l3.2-5.4 3.2 5.4zm3.2-6.4v7.2M659.7 216.5l3.2-5.4 3.2 5.4zm3.2-6.4v7.2M665.8 215l3.2-5.4 3.2 5.4zm3.2-6.4v7.2M671.4 213.4l3.2-5.4 3.2 5.4zm3.2-6.4v7.2M677.2 211.3l3.2-5.4 3.2 5.4zm3.2-6.4v7.2M683.1 208.6l3.2-5.4 3.2 5.4zm3.2-6.4v7.2M689.1 205.6l3.2-5.4 3.2 5.4zm3.2-6.4v7.2M695.2 202l3.2-5.4 3.2 5.4zm3.2-6.4v7.2M700.6 198.3l3.2-5.4 3.2 5.4zm3.2-6.4v7.2M706.1 194l3.2-5.4 3.2 5.4zm3.2-6.4v7.2M711.2 190l3.2-5.4 3.2 5.4zm3.2-6.4v7.2M716.2 185.9l3.2-5.4 3.2 5.4zm3.2-6.4v7.2M721.1 181.8l3.2-5.4 3.2 5.4zm3.2-6.4v7.2M726.1 177.8l3.2-5.4 3.2 5.4zm3.2-6.4v7.2M731.1 173.9l3.2-5.4 3.2 5.4zm3.2-6.4v7.2M736.1 170.4l3.2-5.4 3.2 5.4zm3.2-6.4v7.2M741.1 167.1l3.2-5.4 3.2 5.4zm3.2-6.4v7.2M746 164.3l3.2-5.4 3.2 5.4zm3.2-6.4v7.2M750.7 162.3l3.2-5.4 3.2 5.4zm3.2-6.4v7.2M755.7 161l3.2-5.4 3.2 5.4zm3.2-6.4v7.2M760.6 160.1l3.2-5.4 3.2 5.4zm3.2-6.4v7.2M765.6 159.7l3.2-5.4 3.2 5.4zm3.2-6.4v7.2M770.5 160.2l3.2-5.4 3.2 5.4zm3.2-6.4v7.2M778.4 167.6l3.2-5.4 3.2 5.4zm3.2-6.4v7.2M786.4 183.9l3.2-5.4 3.2 5.4zm3.2-6.4v7.2"/>
<path fill="none" stroke="#9a0fd6" stroke-width="1.1" d="M958.9 412.8v9.6m-3.8-9.6h7.6m-7.6 9.6h7.6m-7.6-4.8h7.6M969.1 380.5v9.6m-3.8-9.6h7.6m-7.6 9.6h7.6m-7.6-4.8h7.6M979 348.8v9.6m-3.8-9.6h7.6m-7.6 9.6h7.6m-7.6-4.8h7.6M988.3 315.8v9.6m-3.8-9.6h7.6m-7.6 9.6h7.6m-7.6-4.8h7.6M997.4 283.6v9.6m-3.8-9.6h7.6m-7.6 9.6h7.6m-7.6-4.8h7.6M1006.1 251.8v9.6m-3.8-9.6h7.6m-7.6 9.6h7.6m-7.6-4.8h7.6M1014 219.9v9.6m-3.8-9.6h7.6m-7.6 9.6h7.6m-7.6-4.8h7.6M1022.2 188v9.6m-3.8-9.6h7.6m-7.6 9.6h7.6m-7.6-4.8h7.6M1030.8 156.1v9.6m-3.8-9.6h7.6m-7.6 9.6h7.6m-7.6-4.8h7.6M1040.3 125.8v9.6m-3.8-9.6h7.6m-7.6 9.6h7.6m-7.6-4.8h7.6M1049.7 104v9.6m-3.8-9.6h7.6m-7.6 9.6h7.6m-7.6-4.8h7.6M1059.3 83.7v9.6m-3.8-9.6h7.6m-7.6 9.6h7.6m-7.6-4.8h7.6M1068.9 71.9v9.6m-3.8-9.6h7.6m-7.6 9.6h7.6m-7.6-4.8h7.6M1078.3 65.2v9.6m-3.8-9.6h7.6m-7.6 9.6h7.6m-7.6-4.8h7.6M1087.6 69.9v9.6m-3.8-9.6h7.6m-7.6 9.6h7.6m-7.6-4.8h7.6M1096.7 76v9.6m-3.8-9.6h7.6m-7.6 9.6h7.6m-7.6-4.8h7.6M1105.6 91.5v9.6m-3.8-9.6h7.6m-7.6 9.6h7.6m-7.6-4.8h7.6M1114.3 107.1v9.6m-3.8-9.6h7.6m-7.6 9.6h7.6m-7.6-4.8h7.6M1121.8 131.7v9.6m-3.8-9.6h7.6m-7.6 9.6h7.6m-7.6-4.8h7.6M1130.4 154.6v9.6m-3.8-9.6h7.6m-7.6 9.6h7.6m-7.6-4.8h7.6M1138.6 174.6v9.6m-3.8-9.6h7.6m-7.6 9.6h7.6m-7.6-4.8h7.6M1142.9 201.5v9.6m-3.8-9.6h7.6m-7.6 9.6h7.6m-7.6-4.8h7.6M1150.5 222.9v9.6m-3.8-9.6h7.6m-7.6 9.6h7.6m-7.6-4.8h7.6M1158.4 242.1v9.6m-3.8-9.6h7.6m-7.6 9.6h7.6m-7.6-4.8h7.6M1166.5 259.8v9.6m-3.8-9.6h7.6m-7.6 9.6h7.6m-7.6-4.8h7.6M1174.2 269.3v9.6m-3.8-9.6h7.6m-7.6 9.6h7.6m-7.6-4.8h7.6M1181.6 277.2v9.6m-3.8-9.6h7.6m-7.6 9.6h7.6m-7.6-4.8h7.6M1188.9 281v9.6m-3.8-9.6h7.6m-7.6 9.6h7.6m-7.6-4.8h7.6M1196.1 283.8v9.6m-3.8-9.6h7.6m-7.6 9.6h7.6m-7.6-4.8h7.6M1203.3 286.2v9.6m-3.8-9.6h7.6m-7.6 9.6h7.6m-7.6-4.8h7.6M1210.3 286.8v9.6m-3.8-9.6h7.6m-7.6 9.6h7.6m-7.6-4.8h7.6M1217.3 285v9.6m-3.8-9.6h7.6m-7.6 9.6h7.6m-7.6-4.8h7.6M1224.2 282.3v9.6m-3.8-9.6h7.6m-7.6 9.6h7.6m-7.6-4.8h7.6M1230.8 278.5v9.6m-3.8-9.6h7.6m-7.6 9.6h7.6m-7.6-4.8h7.6M1237.2 274.5v9.6m-3.8-9.6h7.6m-7.6 9.6h7.6m-7.6-4.8h7.6M1243.6 271v9.6m-3.8-9.6h7.6m-7.6 9.6h7.6m-7.6-4.8h7.6M1249.7 268.6v9.6m-3.8-9.6h7.6m-7.6 9.6h7.6m-7.6-4.8h7.6M1255.5 266.4v9.6m-3.8-9.6h7.6m-7.6 9.6h7.6m-7.6-4.8h7.6M1261.4 263.6v9.6m-3.8-9.6h7.6m-7.6 9.6h7.6m-7.6-4.8h7.6M1267 260v9.6m-3.8-9.6h7.6m-7.6 9.6h7.6m-7.6-4.8h7.6M1272.2 256.2v9.6m-3.8-9.6h7.6m-7.6 9.6h7.6m-7.6-4.8h7.6M1277.5 250.5v9.6m-3.8-9.6h7.6m-7.6 9.6h7.6m-7.6-4.8h7.6M1282.5 243.1v9.6m-3.8-9.6h7.6m-7.6 9.6h7.6m-7.6-4.8h7.6M1287.6 235.7v9.6m-3.8-9.6h7.6m-7.6 9.6h7.6m-7.6-4.8h7.6M1292.7 228.2v9.6m-3.8-9.6h7.6m-7.6 9.6h7.6m-7.6-4.8h7.6M1297.5 221v9.6m-3.8-9.6h7.6m-7.6 9.6h7.6m-7.6-4.8h7.6M1302.5 213.3v9.6m-3.8-9.6h7.6m-7.6 9.6h7.6m-7.6-4.8h7.6M1307.1 206v9.6m-3.8-9.6h7.6m-7.6 9.6h7.6m-7.6-4.8h7.6M1311.8 198.4v9.6m-3.8-9.6h7.6m-7.6 9.6h7.6m-7.6-4.8h7.6M1316.6 190.6v9.6m-3.8-9.6h7.6m-7.6 9.6h7.6m-7.6-4.8h7.6M1321.3 183.1v9.6m-3.8-9.6h7.6m-7.6 9.6h7.6m-7.6-4.8h7.6M1326 175.5v9.6m-3.8-9.6h7.6m-7.6 9.6h7.6m-7.6-4.8h7.6M1330.7 168v9.6m-3.8-9.6h7.6m-7.6 9.6h7.6m-7.6-4.8h7.6M1335.3 160.5v9.6m-3.8-9.6h7.6m-7.6 9.6h7.6m-7.6-4.8h7.6M1340 153.2v9.6m-3.8-9.6h7.6m-7.6 9.6h7.6m-7.6-4.8h7.6M1344.7 146v9.6m-3.8-9.6h7.6m-7.6 9.6h7.6m-7.6-4.8h7.6M1349.3 138.8v9.6m-3.8-9.6h7.6m-7.6 9.6h7.6m-7.6-4.8h7.6M1354 131.8v9.6m-3.8-9.6h7.6m-7.6 9.6h7.6m-7.6-4.8h7.6M1358.7 125.1v9.6m-3.8-9.6h7.6m-7.6 9.6h7.6m-7.6-4.8h7.6M1363.4 118.5v9.6m-3.8-9.6h7.6m-7.6 9.6h7.6m-7.6-4.8h7.6M1368.2 112.1v9.6m-3.8-9.6h7.6m-7.6 9.6h7.6m-7.6-4.8h7.6M1372.9 106v9.6m-3.8-9.6h7.6m-7.6 9.6h7.6m-7.6-4.8h7.6M1377.5 100.2v9.6m-3.8-9.6h7.6m-7.6 9.6h7.6m-7.6-4.8h7.6M1382.4 94.4v9.6m-3.8-9.6h7.6m-7.6 9.6h7.6m-7.6-4.8h7.6M1387.1 89.3v9.6m-3.8-9.6h7.6m-7.6 9.6h7.6m-7.6-4.8h7.6M1392 84.1v9.6m-3.8-9.6h7.6m-7.6 9.6h7.6m-7.6-4.8h7.6M1396.7 79.2v9.6m-3.8-9.6h7.6m-7.6 9.6h7.6m-7.6-4.8h7.6M1401.1 74.3v9.6m-3.8-9.6h7.6m-7.6 9.6h7.6m-7.6-4.8h7.6M1405.2 69.6v9.6m-3.8-9.6h7.6m-7.6 9.6h7.6m-7.6-4.8h7.6M1409.2 65v9.6m-3.8-9.6h7.6m-7.6 9.6h7.6m-7.6-4.8h7.6M1413.3 61v9.6m-3.8-9.6h7.6m-7.6 9.6h7.6m-7.6-4.8h7.6M1417.4 57.6v9.6m-3.8-9.6h7.6m-7.6 9.6h7.6m-7.6-4.8h7.6M1439.5 105.2v9.6m-3.8-9.6h7.6m-7.6 9.6h7.6m-7.6-4.8h7.6"/>
<path fill="none" stroke="#009e73" stroke-width="1.1" d="M949.4 315.2l8.2 8.2m-8.2 0 8.2-8.2m-4.1 0v8.2m-2.4-8.2h4.8m-4.8 8.2h4.8M959.7 311.1l8.2 8.2m-8.2 0 8.2-8.2m-4.1 0v8.2m-2.4-8.2h4.8m-4.8 8.2h4.8M970.2 309.3l8.2 8.2m-8.2 0 8.2-8.2m-4.1 0v8.2m-2.4-8.2h4.8m-4.8 8.2h4.8M980.5 305.6l8.2 8.2m-8.2 0 8.2-8.2m-4.1 0v8.2m-2.4-8.2h4.8m-4.8 8.2h4.8M991 289.9l8.2 8.2m-8.2 0 8.2-8.2m-4.1 0v8.2m-2.4-8.2h4.8m-4.8 8.2h4.8M1001.5 271.7l8.2 8.2m-8.2 0 8.2-8.2m-4.1 0v8.2m-2.4-8.2h4.8m-4.8 8.2h4.8M1011.3 255l8.2 8.2m-8.2 0 8.2-8.2m-4.1 0v8.2m-2.4-8.2h4.8m-4.8 8.2h4.8M1021.1 237.3l8.2 8.2m-8.2 0 8.2-8.2m-4.1 0v8.2m-2.4-8.2h4.8m-4.8 8.2h4.8M1030.6 211.7l8.2 8.2m-8.2 0 8.2-8.2m-4.1 0v8.2m-2.4-8.2h4.8m-4.8 8.2h4.8M1040.2 187l8.2 8.2m-8.2 0 8.2-8.2m-4.1 0v8.2m-2.4-8.2h4.8m-4.8 8.2h4.8M1049.8 165.9l8.2 8.2m-8.2 0 8.2-8.2m-4.1 0v8.2m-2.4-8.2h4.8m-4.8 8.2h4.8M1059.2 147.5l8.2 8.2m-8.2 0 8.2-8.2m-4.1 0v8.2m-2.4-8.2h4.8m-4.8 8.2h4.8M1068.4 130.8l8.2 8.2m-8.2 0 8.2-8.2m-4.1 0v8.2m-2.4-8.2h4.8m-4.8 8.2h4.8M1077.3 123.3l8.2 8.2m-8.2 0 8.2-8.2m-4.1 0v8.2m-2.4-8.2h4.8m-4.8 8.2h4.8M1085.9 117.6l8.2 8.2m-8.2 0 8.2-8.2m-4.1 0v8.2m-2.4-8.2h4.8m-4.8 8.2h4.8M1094.1 111.7l8.2 8.2m-8.2 0 8.2-8.2m-4.1 0v8.2m-2.4-8.2h4.8m-4.8 8.2h4.8M1101.9 120.6l8.2 8.2m-8.2 0 8.2-8.2m-4.1 0v8.2m-2.4-8.2h4.8m-4.8 8.2h4.8M1109.5 129.2l8.2 8.2m-8.2 0 8.2-8.2m-4.1 0v8.2m-2.4-8.2h4.8m-4.8 8.2h4.8M1116.9 139.2l8.2 8.2m-8.2 0 8.2-8.2m-4.1 0v8.2m-2.4-8.2h4.8m-4.8 8.2h4.8M1123.9 151.9l8.2 8.2m-8.2 0 8.2-8.2m-4.1 0v8.2m-2.4-8.2h4.8m-4.8 8.2h4.8M1130.7 165.8l8.2 8.2m-8.2 0 8.2-8.2m-4.1 0v8.2m-2.4-8.2h4.8m-4.8 8.2h4.8M1137.6 186l8.2 8.2m-8.2 0 8.2-8.2m-4.1 0v8.2m-2.4-8.2h4.8m-4.8 8.2h4.8M1143.9 203.8l8.2 8.2m-8.2 0 8.2-8.2m-4.1 0v8.2m-2.4-8.2h4.8m-4.8 8.2h4.8M1150.2 214.4l8.2 8.2m-8.2 0 8.2-8.2m-4.1 0v8.2m-2.4-8.2h4.8m-4.8 8.2h4.8M1156.1 228.3l8.2 8.2m-8.2 0 8.2-8.2m-4.1 0v8.2m-2.4-8.2h4.8m-4.8 8.2h4.8M1160.9 247.4l8.2 8.2m-8.2 0 8.2-8.2m-4.1 0v8.2m-2.4-8.2h4.8m-4.8 8.2h4.8M1166.8 256.3l8.2 8.2m-8.2 0 8.2-8.2m-4.1 0v8.2m-2.4-8.2h4.8m-4.8 8.2h4.8M1172.7 261.4l8.2 8.2m-8.2 0 8.2-8.2m-4.1 0v8.2m-2.4-8.2h4.8m-4.8 8.2h4.8M1178.1 265.2l8.2 8.2m-8.2 0 8.2-8.2m-4.1 0v8.2m-2.4-8.2h4.8m-4.8 8.2h4.8M1183.6 268.4l8.2 8.2m-8.2 0 8.2-8.2m-4.1 0v8.2m-2.4-8.2h4.8m-4.8 8.2h4.8M1188.7 270.4l8.2 8.2m-8.2 0 8.2-8.2m-4.1 0v8.2m-2.4-8.2h4.8m-4.8 8.2h4.8M1193.7 271.9l8.2 8.2m-8.2 0 8.2-8.2m-4.1 0v8.2m-2.4-8.2h4.8m-4.8 8.2h4.8M1198.7 273.5l8.2 8.2m-8.2 0 8.2-8.2m-4.1 0v8.2m-2.4-8.2h4.8m-4.8 8.2h4.8M1203.3 274.8l8.2 8.2m-8.2 0 8.2-8.2m-4.1 0v8.2m-2.4-8.2h4.8m-4.8 8.2h4.8M1207.8 275.8l8.2 8.2m-8.2 0 8.2-8.2m-4.1 0v8.2m-2.4-8.2h4.8m-4.8 8.2h4.8M1212.6 275.9l8.2 8.2m-8.2 0 8.2-8.2m-4.1 0v8.2m-2.4-8.2h4.8m-4.8 8.2h4.8M1216.8 274.6l8.2 8.2m-8.2 0 8.2-8.2m-4.1 0v8.2m-2.4-8.2h4.8m-4.8 8.2h4.8M1221.2 272.1l8.2 8.2m-8.2 0 8.2-8.2m-4.1 0v8.2m-2.4-8.2h4.8m-4.8 8.2h4.8M1225.5 269.4l8.2 8.2m-8.2 0 8.2-8.2m-4.1 0v8.2m-2.4-8.2h4.8m-4.8 8.2h4.8M1229.7 267.3l8.2 8.2m-8.2 0 8.2-8.2m-4.1 0v8.2m-2.4-8.2h4.8m-4.8 8.2h4.8M1233.8 265.3l8.2 8.2m-8.2 0 8.2-8.2m-4.1 0v8.2m-2.4-8.2h4.8m-4.8 8.2h4.8M1238.1 263.1l8.2 8.2m-8.2 0 8.2-8.2m-4.1 0v8.2m-2.4-8.2h4.8m-4.8 8.2h4.8M1242.1 261.2l8.2 8.2m-8.2 0 8.2-8.2m-4.1 0v8.2m-2.4-8.2h4.8m-4.8 8.2h4.8M1245.9 259.5l8.2 8.2m-8.2 0 8.2-8.2m-4.1 0v8.2m-2.4-8.2h4.8m-4.8 8.2h4.8M1249.9 257.6l8.2 8.2m-8.2 0 8.2-8.2m-4.1 0v8.2m-2.4-8.2h4.8m-4.8 8.2h4.8M1253.4 255.8l8.2 8.2m-8.2 0 8.2-8.2m-4.1 0v8.2m-2.4-8.2h4.8m-4.8 8.2h4.8M1257 253.9l8.2 8.2m-8.2 0 8.2-8.2m-4.1 0v8.2m-2.4-8.2h4.8m-4.8 8.2h4.8M1260.7 251.7l8.2 8.2m-8.2 0 8.2-8.2m-4.1 0v8.2m-2.4-8.2h4.8m-4.8 8.2h4.8M1264.5 249.4l8.2 8.2m-8.2 0 8.2-8.2m-4.1 0v8.2m-2.4-8.2h4.8m-4.8 8.2h4.8M1268.5 246.9l8.2 8.2m-8.2 0 8.2-8.2m-4.1 0v8.2m-2.4-8.2h4.8m-4.8 8.2h4.8M1271.7 244.8l8.2 8.2m-8.2 0 8.2-8.2m-4.1 0v8.2m-2.4-8.2h4.8m-4.8 8.2h4.8M1274.9 242.5l8.2 8.2m-8.2 0 8.2-8.2m-4.1 0v8.2m-2.4-8.2h4.8m-4.8 8.2h4.8M1278.1 240l8.2 8.2m-8.2 0 8.2-8.2m-4.1 0v8.2m-2.4-8.2h4.8m-4.8 8.2h4.8M1281.1 237.3l8.2 8.2m-8.2 0 8.2-8.2m-4.1 0v8.2m-2.4-8.2h4.8m-4.8 8.2h4.8M1284.7 233.6l8.2 8.2m-8.2 0 8.2-8.2m-4.1 0v8.2m-2.4-8.2h4.8m-4.8 8.2h4.8M1288.2 229.5l8.2 8.2m-8.2 0 8.2-8.2m-4.1 0v8.2m-2.4-8.2h4.8m-4.8 8.2h4.8M1291.5 225l8.2 8.2m-8.2 0 8.2-8.2m-4.1 0v8.2m-2.4-8.2h4.8m-4.8 8.2h4.8M1294.8 220.3l8.2 8.2m-8.2 0 8.2-8.2m-4.1 0v8.2m-2.4-8.2h4.8m-4.8 8.2h4.8M1298 215.6l8.2 8.2m-8.2 0 8.2-8.2m-4.1 0v8.2m-2.4-8.2h4.8m-4.8 8.2h4.8M1301.3 210.8l8.2 8.2m-8.2 0 8.2-8.2m-4.1 0v8.2m-2.4-8.2h4.8m-4.8 8.2h4.8M1304.6 206.1l8.2 8.2m-8.2 0 8.2-8.2m-4.1 0v8.2m-2.4-8.2h4.8m-4.8 8.2h4.8M1307.9 201.3l8.2 8.2m-8.2 0 8.2-8.2m-4.1 0v8.2m-2.4-8.2h4.8m-4.8 8.2h4.8M1311.3 196.5l8.2 8.2m-8.2 0 8.2-8.2m-4.1 0v8.2m-2.4-8.2h4.8m-4.8 8.2h4.8M1314.6 191.7l8.2 8.2m-8.2 0 8.2-8.2m-4.1 0v8.2m-2.4-8.2h4.8m-4.8 8.2h4.8M1317.9 186.8l8.2 8.2m-8.2 0 8.2-8.2m-4.1 0v8.2m-2.4-8.2h4.8m-4.8 8.2h4.8M1321.3 181.9l8.2 8.2m-8.2 0 8.2-8.2m-4.1 0v8.2m-2.4-8.2h4.8m-4.8 8.2h4.8M1324.6 176.9l8.2 8.2m-8.2 0 8.2-8.2m-4.1 0v8.2m-2.4-8.2h4.8m-4.8 8.2h4.8M1327.9 172l8.2 8.2m-8.2 0 8.2-8.2m-4.1 0v8.2m-2.4-8.2h4.8m-4.8 8.2h4.8M1331.3 167.1l8.2 8.2m-8.2 0 8.2-8.2m-4.1 0v8.2m-2.4-8.2h4.8m-4.8 8.2h4.8M1334.6 162.1l8.2 8.2m-8.2 0 8.2-8.2m-4.1 0v8.2m-2.4-8.2h4.8m-4.8 8.2h4.8M1337.9 157.1l8.2 8.2m-8.2 0 8.2-8.2m-4.1 0v8.2m-2.4-8.2h4.8m-4.8 8.2h4.8M1341.3 152l8.2 8.2m-8.2 0 8.2-8.2m-4.1 0v8.2m-2.4-8.2h4.8m-4.8 8.2h4.8M1344.6 146.7l8.2 8.2m-8.2 0 8.2-8.2m-4.1 0v8.2m-2.4-8.2h4.8m-4.8 8.2h4.8M1347.9 141.3l8.2 8.2m-8.2 0 8.2-8.2m-4.1 0v8.2m-2.4-8.2h4.8m-4.8 8.2h4.8M1351.3 135.7l8.2 8.2m-8.2 0 8.2-8.2m-4.1 0v8.2m-2.4-8.2h4.8m-4.8 8.2h4.8M1354.6 130.1l8.2 8.2m-8.2 0 8.2-8.2m-4.1 0v8.2m-2.4-8.2h4.8m-4.8 8.2h4.8M1357.9 124.8l8.2 8.2m-8.2 0 8.2-8.2m-4.1 0v8.2m-2.4-8.2h4.8m-4.8 8.2h4.8M1361.3 119.8l8.2 8.2m-8.2 0 8.2-8.2m-4.1 0v8.2m-2.4-8.2h4.8m-4.8 8.2h4.8M1364.6 115.2l8.2 8.2m-8.2 0 8.2-8.2m-4.1 0v8.2m-2.4-8.2h4.8m-4.8 8.2h4.8M1367.5 111.7l8.2 8.2m-8.2 0 8.2-8.2m-4.1 0v8.2m-2.4-8.2h4.8m-4.8 8.2h4.8M1370.4 108.5l8.2 8.2m-8.2 0 8.2-8.2m-4.1 0v8.2m-2.4-8.2h4.8m-4.8 8.2h4.8M1373.2 105.3l8.2 8.2m-8.2 0 8.2-8.2m-4.1 0v8.2m-2.4-8.2h4.8m-4.8 8.2h4.8M1376 102.4l8.2 8.2m-8.2 0 8.2-8.2m-4.1 0v8.2m-2.4-8.2h4.8m-4.8 8.2h4.8M1379.2 98.8l8.2 8.2m-8.2 0 8.2-8.2m-4.1 0v8.2m-2.4-8.2h4.8m-4.8 8.2h4.8M1382.1 95.5l8.2 8.2m-8.2 0 8.2-8.2m-4.1 0v8.2m-2.4-8.2h4.8m-4.8 8.2h4.8M1385.2 91.4l8.2 8.2m-8.2 0 8.2-8.2m-4.1 0v8.2m-2.4-8.2h4.8m-4.8 8.2h4.8M1388 86.9l8.2 8.2m-8.2 0 8.2-8.2m-4.1 0v8.2m-2.4-8.2h4.8m-4.8 8.2h4.8M1390.9 82.3l8.2 8.2m-8.2 0 8.2-8.2m-4.1 0v8.2m-2.4-8.2h4.8m-4.8 8.2h4.8M1393.8 78.4l8.2 8.2m-8.2 0 8.2-8.2m-4.1 0v8.2m-2.4-8.2h4.8m-4.8 8.2h4.8M1396.5 75.2l8.2 8.2m-8.2 0 8.2-8.2m-4.1 0v8.2m-2.4-8.2h4.8m-4.8 8.2h4.8M1399.3 72l8.2 8.2m-8.2 0 8.2-8.2m-4.1 0v8.2m-2.4-8.2h4.8m-4.8 8.2h4.8M1402.1 68.9l8.2 8.2m-8.2 0 8.2-8.2m-4.1 0v8.2m-2.4-8.2h4.8m-4.8 8.2h4.8M1404.7 66.1l8.2 8.2m-8.2 0 8.2-8.2m-4.1 0v8.2m-2.4-8.2h4.8m-4.8 8.2h4.8M1407.3 63.5l8.2 8.2m-8.2 0 8.2-8.2m-4.1 0v8.2m-2.4-8.2h4.8m-4.8 8.2h4.8M1410 61.1l8.2 8.2m-8.2 0 8.2-8.2m-4.1 0v8.2m-2.4-8.2h4.8m-4.8 8.2h4.8M1412.6 58.9l8.2 8.2m-8.2 0 8.2-8.2m-4.1 0v8.2m-2.4-8.2h4.8m-4.8 8.2h4.8M1415.1 56.7l8.2 8.2m-8.2 0 8.2-8.2m-4.1 0v8.2m-2.4-8.2h4.8m-4.8 8.2h4.8M1417.6 54.3l8.2 8.2m-8.2 0 8.2-8.2m-4.1 0v8.2m-2.4-8.2h4.8m-4.8 8.2h4.8M1420 51.8l8.2 8.2m-8.2 0 8.2-8.2m-4.1 0v8.2m-2.4-8.2h4.8m-4.8 8.2h4.8M1427.4 72.9l8.2 8.2m-8.2 0 8.2-8.2m-4.1 0v8.2m-2.4-8.2h4.8m-4.8 8.2h4.8M1435.4 108.4l8.2 8.2m-8.2 0 8.2-8.2m-4.1 0v8.2m-2.4-8.2h4.8m-4.8 8.2h4.8"/>
<path fill="none" stroke="#56b4e9" stroke-width="1.1" d="M933.4 315.5v9.2m-4.2-7.2 8.4 5.2m-8.4 0 8.4-5.2m-6.4-2h4.4m-4.4 9.2h4.4M943.7 318.7v9.2m-4.2-7.2 8.4 5.2m-8.4 0 8.4-5.2m-6.4-2h4.4m-4.4 9.2h4.4M954.2 316.7v9.2m-4.2-7.2 8.4 5.2m-8.4 0 8.4-5.2m-6.4-2h4.4m-4.4 9.2h4.4M964.7 313.5v9.2m-4.2-7.2 8.4 5.2m-8.4 0 8.4-5.2m-6.4-2h4.4m-4.4 9.2h4.4M975 308.7v9.2m-4.2-7.2 8.4 5.2m-8.4 0 8.4-5.2m-6.4-2h4.4m-4.4 9.2h4.4M985.3 302.1v9.2m-4.2-7.2 8.4 5.2m-8.4 0 8.4-5.2m-6.4-2h4.4m-4.4 9.2h4.4M995.4 294v9.2m-4.2-7.2 8.4 5.2m-8.4 0 8.4-5.2m-6.4-2h4.4m-4.4 9.2h4.4M1005.3 283.8v9.2m-4.2-7.2 8.4 5.2m-8.4 0 8.4-5.2m-6.4-2h4.4m-4.4 9.2h4.4M1015.2 269.9v9.2m-4.2-7.2 8.4 5.2m-8.4 0 8.4-5.2m-6.4-2h4.4m-4.4 9.2h4.4M1025 245.4v9.2m-4.2-7.2 8.4 5.2m-8.4 0 8.4-5.2m-6.4-2h4.4m-4.4 9.2h4.4M1034.8 224.3v9.2m-4.2-7.2 8.4 5.2m-8.4 0 8.4-5.2m-6.4-2h4.4m-4.4 9.2h4.4M1044.4 208.2v9.2m-4.2-7.2 8.4 5.2m-8.4 0 8.4-5.2m-6.4-2h4.4m-4.4 9.2h4.4M1054.1 186v9.2m-4.2-7.2 8.4 5.2m-8.4 0 8.4-5.2m-6.4-2h4.4m-4.4 9.2h4.4M1063.3 163.8v9.2m-4.2-7.2 8.4 5.2m-8.4 0 8.4-5.2m-6.4-2h4.4m-4.4 9.2h4.4M1072.4 146.1v9.2m-4.2-7.2 8.4 5.2m-8.4 0 8.4-5.2m-6.4-2h4.4m-4.4 9.2h4.4M1081 126.1v9.2m-4.2-7.2 8.4 5.2m-8.4 0 8.4-5.2m-6.4-2h4.4m-4.4 9.2h4.4M1089.5 120v9.2m-4.2-7.2 8.4 5.2m-8.4 0 8.4-5.2m-6.4-2h4.4m-4.4 9.2h4.4M1097.7 126.2v9.2m-4.2-7.2 8.4 5.2m-8.4 0 8.4-5.2m-6.4-2h4.4m-4.4 9.2h4.4M1105.6 122v9.2m-4.2-7.2 8.4 5.2m-8.4 0 8.4-5.2m-6.4-2h4.4m-4.4 9.2h4.4M1113.2 125.4v9.2m-4.2-7.2 8.4 5.2m-8.4 0 8.4-5.2m-6.4-2h4.4m-4.4 9.2h4.4M1120 145.5v9.2m-4.2-7.2 8.4 5.2m-8.4 0 8.4-5.2m-6.4-2h4.4m-4.4 9.2h4.4M1127.1 157.9v9.2m-4.2-7.2 8.4 5.2m-8.4 0 8.4-5.2m-6.4-2h4.4m-4.4 9.2h4.4M1133.9 169.2v9.2m-4.2-7.2 8.4 5.2m-8.4 0 8.4-5.2m-6.4-2h4.4m-4.4 9.2h4.4M1140.5 187.1v9.2m-4.2-7.2 8.4 5.2m-8.4 0 8.4-5.2m-6.4-2h4.4m-4.4 9.2h4.4M1146.9 203.8v9.2m-4.2-7.2 8.4 5.2m-8.4 0 8.4-5.2m-6.4-2h4.4m-4.4 9.2h4.4M1153.2 217.3v9.2m-4.2-7.2 8.4 5.2m-8.4 0 8.4-5.2m-6.4-2h4.4m-4.4 9.2h4.4M1159.4 230.8v9.2m-4.2-7.2 8.4 5.2m-8.4 0 8.4-5.2m-6.4-2h4.4m-4.4 9.2h4.4M1165.3 243.6v9.2m-4.2-7.2 8.4 5.2m-8.4 0 8.4-5.2m-6.4-2h4.4m-4.4 9.2h4.4M1171 251.7v9.2m-4.2-7.2 8.4 5.2m-8.4 0 8.4-5.2m-6.4-2h4.4m-4.4 9.2h4.4M1176.7 255.4v9.2m-4.2-7.2 8.4 5.2m-8.4 0 8.4-5.2m-6.4-2h4.4m-4.4 9.2h4.4M1182.3 258.4v9.2m-4.2-7.2 8.4 5.2m-8.4 0 8.4-5.2m-6.4-2h4.4m-4.4 9.2h4.4M1187.7 260.8v9.2m-4.2-7.2 8.4 5.2m-8.4 0 8.4-5.2m-6.4-2h4.4m-4.4 9.2h4.4M1192.6 262.5v9.2m-4.2-7.2 8.4 5.2m-8.4 0 8.4-5.2m-6.4-2h4.4m-4.4 9.2h4.4M1197.8 264v9.2m-4.2-7.2 8.4 5.2m-8.4 0 8.4-5.2m-6.4-2h4.4m-4.4 9.2h4.4M1203 265.4v9.2m-4.2-7.2 8.4 5.2m-8.4 0 8.4-5.2m-6.4-2h4.4m-4.4 9.2h4.4M1208.2 266.8v9.2m-4.2-7.2 8.4 5.2m-8.4 0 8.4-5.2m-6.4-2h4.4m-4.4 9.2h4.4M1213.2 268v9.2m-4.2-7.2 8.4 5.2m-8.4 0 8.4-5.2m-6.4-2h4.4m-4.4 9.2h4.4M1217.6 268.9v9.2m-4.2-7.2 8.4 5.2m-8.4 0 8.4-5.2m-6.4-2h4.4m-4.4 9.2h4.4M1222 269.5v9.2m-4.2-7.2 8.4 5.2m-8.4 0 8.4-5.2m-6.4-2h4.4m-4.4 9.2h4.4M1226.2 268.8v9.2m-4.2-7.2 8.4 5.2m-8.4 0 8.4-5.2m-6.4-2h4.4m-4.4 9.2h4.4M1230.7 267.3v9.2m-4.2-7.2 8.4 5.2m-8.4 0 8.4-5.2m-6.4-2h4.4m-4.4 9.2h4.4M1234.7 265.7v9.2m-4.2-7.2 8.4 5.2m-8.4 0 8.4-5.2m-6.4-2h4.4m-4.4 9.2h4.4M1238.9 263.8v9.2m-4.2-7.2 8.4 5.2m-8.4 0 8.4-5.2m-6.4-2h4.4m-4.4 9.2h4.4M1243.3 261.9v9.2m-4.2-7.2 8.4 5.2m-8.4 0 8.4-5.2m-6.4-2h4.4m-4.4 9.2h4.4M1247.4 260.1v9.2m-4.2-7.2 8.4 5.2m-8.4 0 8.4-5.2m-6.4-2h4.4m-4.4 9.2h4.4M1251.4 258.7v9.2m-4.2-7.2 8.4 5.2m-8.4 0 8.4-5.2m-6.4-2h4.4m-4.4 9.2h4.4M1255.4 257.3v9.2m-4.2-7.2 8.4 5.2m-8.4 0 8.4-5.2m-6.4-2h4.4m-4.4 9.2h4.4M1259.4 255.9v9.2m-4.2-7.2 8.4 5.2m-8.4 0 8.4-5.2m-6.4-2h4.4m-4.4 9.2h4.4M1263.4 254.1v9.2m-4.2-7.2 8.4 5.2m-8.4 0 8.4-5.2m-6.4-2h4.4m-4.4 9.2h4.4M1266.7 252.1v9.2m-4.2-7.2 8.4 5.2m-8.4 0 8.4-5.2m-6.4-2h4.4m-4.4 9.2h4.4M1270 249.7v9.2m-4.2-7.2 8.4 5.2m-8.4 0 8.4-5.2m-6.4-2h4.4m-4.4 9.2h4.4M1273.4 247v9.2m-4.2-7.2 8.4 5.2m-8.4 0 8.4-5.2m-6.4-2h4.4m-4.4 9.2h4.4M1276.7 244v9.2m-4.2-7.2 8.4 5.2m-8.4 0 8.4-5.2m-6.4-2h4.4m-4.4 9.2h4.4M1280 240.8v9.2m-4.2-7.2 8.4 5.2m-8.4 0 8.4-5.2m-6.4-2h4.4m-4.4 9.2h4.4M1283.4 237.4v9.2m-4.2-7.2 8.4 5.2m-8.4 0 8.4-5.2m-6.4-2h4.4m-4.4 9.2h4.4M1286.7 233.7v9.2m-4.2-7.2 8.4 5.2m-8.4 0 8.4-5.2m-6.4-2h4.4m-4.4 9.2h4.4M1290 229.8v9.2m-4.2-7.2 8.4 5.2m-8.4 0 8.4-5.2m-6.4-2h4.4m-4.4 9.2h4.4M1293.4 225.5v9.2m-4.2-7.2 8.4 5.2m-8.4 0 8.4-5.2m-6.4-2h4.4m-4.4 9.2h4.4M1296.7 221v9.2m-4.2-7.2 8.4 5.2m-8.4 0 8.4-5.2m-6.4-2h4.4m-4.4 9.2h4.4M1300 216.4v9.2m-4.2-7.2 8.4 5.2m-8.4 0 8.4-5.2m-6.4-2h4.4m-4.4 9.2h4.4M1303.4 211.7v9.2m-4.2-7.2 8.4 5.2m-8.4 0 8.4-5.2m-6.4-2h4.4m-4.4 9.2h4.4M1306.7 207.1v9.2m-4.2-7.2 8.4 5.2m-8.4 0 8.4-5.2m-6.4-2h4.4m-4.4 9.2h4.4M1310 202.5v9.2m-4.2-7.2 8.4 5.2m-8.4 0 8.4-5.2m-6.4-2h4.4m-4.4 9.2h4.4M1313.4 197.8v9.2m-4.2-7.2 8.4 5.2m-8.4 0 8.4-5.2m-6.4-2h4.4m-4.4 9.2h4.4M1316.7 193.1v9.2m-4.2-7.2 8.4 5.2m-8.4 0 8.4-5.2m-6.4-2h4.4m-4.4 9.2h4.4M1320 188.4v9.2m-4.2-7.2 8.4 5.2m-8.4 0 8.4-5.2m-6.4-2h4.4m-4.4 9.2h4.4M1323.4 183.5v9.2m-4.2-7.2 8.4 5.2m-8.4 0 8.4-5.2m-6.4-2h4.4m-4.4 9.2h4.4M1326.7 178.7v9.2m-4.2-7.2 8.4 5.2m-8.4 0 8.4-5.2m-6.4-2h4.4m-4.4 9.2h4.4M1330 173.8v9.2m-4.2-7.2 8.4 5.2m-8.4 0 8.4-5.2m-6.4-2h4.4m-4.4 9.2h4.4M1333.4 168.9v9.2m-4.2-7.2 8.4 5.2m-8.4 0 8.4-5.2m-6.4-2h4.4m-4.4 9.2h4.4M1336.7 163.9v9.2m-4.2-7.2 8.4 5.2m-8.4 0 8.4-5.2m-6.4-2h4.4m-4.4 9.2h4.4M1340 158.9v9.2m-4.2-7.2 8.4 5.2m-8.4 0 8.4-5.2m-6.4-2h4.4m-4.4 9.2h4.4M1343.4 153.8v9.2m-4.2-7.2 8.4 5.2m-8.4 0 8.4-5.2m-6.4-2h4.4m-4.4 9.2h4.4M1346.7 148.7v9.2m-4.2-7.2 8.4 5.2m-8.4 0 8.4-5.2m-6.4-2h4.4m-4.4 9.2h4.4M1350 143.4v9.2m-4.2-7.2 8.4 5.2m-8.4 0 8.4-5.2m-6.4-2h4.4m-4.4 9.2h4.4M1353.4 138v9.2m-4.2-7.2 8.4 5.2m-8.4 0 8.4-5.2m-6.4-2h4.4m-4.4 9.2h4.4M1356.7 132.5v9.2m-4.2-7.2 8.4 5.2m-8.4 0 8.4-5.2m-6.4-2h4.4m-4.4 9.2h4.4M1360 127.1v9.2m-4.2-7.2 8.4 5.2m-8.4 0 8.4-5.2m-6.4-2h4.4m-4.4 9.2h4.4M1363.4 121.9v9.2m-4.2-7.2 8.4 5.2m-8.4 0 8.4-5.2m-6.4-2h4.4m-4.4 9.2h4.4M1366.7 117.1v9.2m-4.2-7.2 8.4 5.2m-8.4 0 8.4-5.2m-6.4-2h4.4m-4.4 9.2h4.4M1370.1 112.6v9.2m-4.2-7.2 8.4 5.2m-8.4 0 8.4-5.2m-6.4-2h4.4m-4.4 9.2h4.4M1373 109.2v9.2m-4.2-7.2 8.4 5.2m-8.4 0 8.4-5.2m-6.4-2h4.4m-4.4 9.2h4.4M1375.9 105.9v9.2m-4.2-7.2 8.4 5.2m-8.4 0 8.4-5.2m-6.4-2h4.4m-4.4 9.2h4.4M1378.7 102.8v9.2m-4.2-7.2 8.4 5.2m-8.4 0 8.4-5.2m-6.4-2h4.4m-4.4 9.2h4.4M1382.1 99.1v9.2m-4.2-7.2 8.4 5.2m-8.4 0 8.4-5.2m-6.4-2h4.4m-4.4 9.2h4.4M1385.1 95.7v9.2m-4.2-7.2 8.4 5.2m-8.4 0 8.4-5.2m-6.4-2h4.4m-4.4 9.2h4.4M1388.1 91.9v9.2m-4.2-7.2 8.4 5.2m-8.4 0 8.4-5.2m-6.4-2h4.4m-4.4 9.2h4.4M1391 87.6v9.2m-4.2-7.2 8.4 5.2m-8.4 0 8.4-5.2m-6.4-2h4.4m-4.4 9.2h4.4M1393.8 83v9.2m-4.2-7.2 8.4 5.2m-8.4 0 8.4-5.2m-6.4-2h4.4m-4.4 9.2h4.4M1396.7 78.7v9.2m-4.2-7.2 8.4 5.2m-8.4 0 8.4-5.2m-6.4-2h4.4m-4.4 9.2h4.4M1399.7 75v9.2m-4.2-7.2 8.4 5.2m-8.4 0 8.4-5.2m-6.4-2h4.4m-4.4 9.2h4.4M1402.5 71.7v9.2m-4.2-7.2 8.4 5.2m-8.4 0 8.4-5.2m-6.4-2h4.4m-4.4 9.2h4.4M1405.3 68.5v9.2m-4.2-7.2 8.4 5.2m-8.4 0 8.4-5.2m-6.4-2h4.4m-4.4 9.2h4.4M1408 65.5v9.2m-4.2-7.2 8.4 5.2m-8.4 0 8.4-5.2m-6.4-2h4.4m-4.4 9.2h4.4M1410.4 63v9.2m-4.2-7.2 8.4 5.2m-8.4 0 8.4-5.2m-6.4-2h4.4m-4.4 9.2h4.4M1412.8 60.7v9.2m-4.2-7.2 8.4 5.2m-8.4 0 8.4-5.2m-6.4-2h4.4m-4.4 9.2h4.4M1415.2 58.6v9.2m-4.2-7.2 8.4 5.2m-8.4 0 8.4-5.2m-6.4-2h4.4m-4.4 9.2h4.4M1417.7 56.5v9.2m-4.2-7.2 8.4 5.2m-8.4 0 8.4-5.2m-6.4-2h4.4m-4.4 9.2h4.4M1420.2 54.2v9.2m-4.2-7.2 8.4 5.2m-8.4 0 8.4-5.2m-6.4-2h4.4m-4.4 9.2h4.4M1422.8 51.7v9.2m-4.2-7.2 8.4 5.2m-8.4 0 8.4-5.2m-6.4-2h4.4m-4.4 9.2h4.4M1431.5 68.4v9.2m-4.2-7.2 8.4 5.2m-8.4 0 8.4-5.2m-6.4-2h4.4m-4.4 9.2h4.4M1440 100.4v9.2m-4.2-7.2 8.4 5.2m-8.4 0 8.4-5.2m-6.4-2h4.4m-4.4 9.2h4.4"/>
<path fill="none" stroke="#e69f00" stroke-width="1.0" d="M867.7 478.7h7.6v7.6h-7.6zm3.8 0v7.6m-3.8-3.8h7.6M878.1 456.4h7.6v7.6h-7.6zm3.8 0v7.6m-3.8-3.8h7.6M889 436.3h7.6v7.6h-7.6zm3.8 0v7.6m-3.8-3.8h7.6M899.8 418.2h7.6v7.6h-7.6zm3.8 0v7.6m-3.8-3.8h7.6M910.6 400.9h7.6v7.6h-7.6zm3.8 0v7.6m-3.8-3.8h7.6M921.5 383.6h7.6v7.6h-7.6zm3.8 0v7.6m-3.8-3.8h7.6M932.4 365.5h7.6v7.6h-7.6zm3.8 0v7.6m-3.8-3.8h7.6M943.5 350.3h7.6v7.6h-7.6zm3.8 0v7.6m-3.8-3.8h7.6M954.5 335.1h7.6v7.6h-7.6zm3.8 0v7.6m-3.8-3.8h7.6M965.3 317.9h7.6v7.6h-7.6zm3.8 0v7.6m-3.8-3.8h7.6M976.2 300h7.6v7.6h-7.6zm3.8 0v7.6m-3.8-3.8h7.6M987 285.1h7.6v7.6h-7.6zm3.8 0v7.6m-3.8-3.8h7.6M997.7 271.2h7.6v7.6h-7.6zm3.8 0v7.6m-3.8-3.8h7.6M1008.3 256.1h7.6v7.6h-7.6zm3.8 0v7.6m-3.8-3.8h7.6M1018.8 239.1h7.6v7.6h-7.6zm3.8 0v7.6m-3.8-3.8h7.6M1029.2 218.4h7.6v7.6h-7.6zm3.8 0v7.6m-3.8-3.8h7.6M1039.5 207h7.6v7.6h-7.6zm3.8 0v7.6m-3.8-3.8h7.6M1049.8 197.4h7.6v7.6h-7.6zm3.8 0v7.6m-3.8-3.8h7.6M1059.8 185.8h7.6v7.6h-7.6zm3.8 0v7.6m-3.8-3.8h7.6M1069.6 177h7.6v7.6h-7.6zm3.8 0v7.6m-3.8-3.8h7.6M1078.9 173.2h7.6v7.6h-7.6zm3.8 0v7.6m-3.8-3.8h7.6M1088.4 171.1h7.6v7.6h-7.6zm3.8 0v7.6m-3.8-3.8h7.6M1097.4 170.4h7.6v7.6h-7.6zm3.8 0v7.6m-3.8-3.8h7.6M1106.4 172.2h7.6v7.6h-7.6zm3.8 0v7.6m-3.8-3.8h7.6M1114.7 175.2h7.6v7.6h-7.6zm3.8 0v7.6m-3.8-3.8h7.6M1122.8 182.1h7.6v7.6h-7.6zm3.8 0v7.6m-3.8-3.8h7.6M1130.7 190.6h7.6v7.6h-7.6zm3.8 0v7.6m-3.8-3.8h7.6M1138.3 197.1h7.6v7.6h-7.6zm3.8 0v7.6m-3.8-3.8h7.6M1145.8 203.8h7.6v7.6h-7.6zm3.8 0v7.6m-3.8-3.8h7.6M1153.1 210.7h7.6v7.6h-7.6zm3.8 0v7.6m-3.8-3.8h7.6M1160 217.8h7.6v7.6h-7.6zm3.8 0v7.6m-3.8-3.8h7.6M1167 225h7.6v7.6h-7.6zm3.8 0v7.6m-3.8-3.8h7.6M1173.5 228.4h7.6v7.6h-7.6zm3.8 0v7.6m-3.8-3.8h7.6M1179.9 231.5h7.6v7.6h-7.6zm3.8 0v7.6m-3.8-3.8h7.6M1186.2 235.5h7.6v7.6h-7.6zm3.8 0v7.6m-3.8-3.8h7.6M1192.5 239.3h7.6v7.6h-7.6zm3.8 0v7.6m-3.8-3.8h7.6M1198.2 241.8h7.6v7.6h-7.6zm3.8 0v7.6m-3.8-3.8h7.6M1204 243.8h7.6v7.6h-7.6zm3.8 0v7.6m-3.8-3.8h7.6M1209.7 245.7h7.6v7.6h-7.6zm3.8 0v7.6m-3.8-3.8h7.6M1215.5 247.4h7.6v7.6h-7.6zm3.8 0v7.6m-3.8-3.8h7.6M1220.8 247.8h7.6v7.6h-7.6zm3.8 0v7.6m-3.8-3.8h7.6M1226.2 246.4h7.6v7.6h-7.6zm3.8 0v7.6m-3.8-3.8h7.6M1231.6 244.7h7.6v7.6h-7.6zm3.8 0v7.6m-3.8-3.8h7.6M1236.5 244.4h7.6v7.6h-7.6zm3.8 0v7.6m-3.8-3.8h7.6M1241.3 244.7h7.6v7.6h-7.6zm3.8 0v7.6m-3.8-3.8h7.6M1246.2 244.5h7.6v7.6h-7.6zm3.8 0v7.6m-3.8-3.8h7.6M1251.1 243h7.6v7.6h-7.6zm3.8 0v7.6m-3.8-3.8h7.6M1255.5 241.2h7.6v7.6h-7.6zm3.8 0v7.6m-3.8-3.8h7.6M1259.9 239.3h7.6v7.6h-7.6zm3.8 0v7.6m-3.8-3.8h7.6M1264.4 237.9h7.6v7.6h-7.6zm3.8 0v7.6m-3.8-3.8h7.6M1268.9 236.5h7.6v7.6h-7.6zm3.8 0v7.6m-3.8-3.8h7.6M1272.9 234.5h7.6v7.6h-7.6zm3.8 0v7.6m-3.8-3.8h7.6M1276.9 231.7h7.6v7.6h-7.6zm3.8 0v7.6m-3.8-3.8h7.6M1280.9 228.3h7.6v7.6h-7.6zm3.8 0v7.6m-3.8-3.8h7.6M1284.9 224.4h7.6v7.6h-7.6zm3.8 0v7.6m-3.8-3.8h7.6M1288.9 219.7h7.6v7.6h-7.6zm3.8 0v7.6m-3.8-3.8h7.6M1292.8 214.1h7.6v7.6h-7.6zm3.8 0v7.6m-3.8-3.8h7.6M1296.8 208.3h7.6v7.6h-7.6zm3.8 0v7.6m-3.8-3.8h7.6M1300.8 202.7h7.6v7.6h-7.6zm3.8 0v7.6m-3.8-3.8h7.6M1304.4 197.9h7.6v7.6h-7.6zm3.8 0v7.6m-3.8-3.8h7.6M1308 193h7.6v7.6h-7.6zm3.8 0v7.6m-3.8-3.8h7.6M1311.6 188.1h7.6v7.6h-7.6zm3.8 0v7.6m-3.8-3.8h7.6M1315.1 183h7.6v7.6h-7.6zm3.8 0v7.6m-3.8-3.8h7.6M1318.7 177.7h7.6v7.6h-7.6zm3.8 0v7.6m-3.8-3.8h7.6M1322.2 172.4h7.6v7.6h-7.6zm3.8 0v7.6m-3.8-3.8h7.6M1325.8 166.9h7.6v7.6h-7.6zm3.8 0v7.6m-3.8-3.8h7.6M1329.3 161.2h7.6v7.6h-7.6zm3.8 0v7.6m-3.8-3.8h7.6M1332.8 155.3h7.6v7.6h-7.6zm3.8 0v7.6m-3.8-3.8h7.6M1336.4 149.5h7.6v7.6h-7.6zm3.8 0v7.6m-3.8-3.8h7.6M1339.9 143.8h7.6v7.6h-7.6zm3.8 0v7.6m-3.8-3.8h7.6M1343.5 138.4h7.6v7.6h-7.6zm3.8 0v7.6m-3.8-3.8h7.6M1347.1 133.2h7.6v7.6h-7.6zm3.8 0v7.6m-3.8-3.8h7.6M1350.7 127.9h7.6v7.6h-7.6zm3.8 0v7.6m-3.8-3.8h7.6M1354.2 122.4h7.6v7.6h-7.6zm3.8 0v7.6m-3.8-3.8h7.6M1357.8 116.6h7.6v7.6h-7.6zm3.8 0v7.6m-3.8-3.8h7.6M1361.3 110.8h7.6v7.6h-7.6zm3.8 0v7.6m-3.8-3.8h7.6M1364.9 105h7.6v7.6h-7.6zm3.8 0v7.6m-3.8-3.8h7.6M1368.4 99.4h7.6v7.6h-7.6zm3.8 0v7.6m-3.8-3.8h7.6M1372 93.9h7.6v7.6h-7.6zm3.8 0v7.6m-3.8-3.8h7.6M1375.5 88.5h7.6v7.6h-7.6zm3.8 0v7.6m-3.8-3.8h7.6M1379.1 83.5h7.6v7.6h-7.6zm3.8 0v7.6m-3.8-3.8h7.6M1382.7 78.9h7.6v7.6h-7.6zm3.8 0v7.6m-3.8-3.8h7.6M1386.4 74.6h7.6v7.6h-7.6zm3.8 0v7.6m-3.8-3.8h7.6M1390 70.7h7.6v7.6h-7.6zm3.8 0v7.6m-3.8-3.8h7.6M1393.7 67.2h7.6v7.6h-7.6zm3.8 0v7.6m-3.8-3.8h7.6M1397.1 65h7.6v7.6h-7.6zm3.8 0v7.6m-3.8-3.8h7.6M1400.6 63.1h7.6v7.6h-7.6zm3.8 0v7.6m-3.8-3.8h7.6M1403.7 60.8h7.6v7.6h-7.6zm3.8 0v7.6m-3.8-3.8h7.6M1406.7 58.2h7.6v7.6h-7.6zm3.8 0v7.6m-3.8-3.8h7.6M1410.3 55h7.6v7.6h-7.6zm3.8 0v7.6m-3.8-3.8h7.6M1413.3 52.3h7.6v7.6h-7.6zm3.8 0v7.6m-3.8-3.8h7.6M1417 49h7.6v7.6h-7.6zm3.8 0v7.6m-3.8-3.8h7.6M1420 46.2h7.6v7.6h-7.6zm3.8 0v7.6m-3.8-3.8h7.6M1428.7 60.7h7.6v7.6h-7.6zm3.8 0v7.6m-3.8-3.8h7.6M1437.7 89.7h7.6v7.6h-7.6zm3.8 0v7.6m-3.8-3.8h7.6"/>
<path fill="#eee03c" stroke="none" d="M814.2 535.1h7.8v7.8h-7.8zM825.3 519.9h7.8v7.8h-7.8zM836.6 502.7h7.8v7.8h-7.8zM847.6 486.8h7.8v7.8h-7.8zM858.9 470.2h7.8v7.8h-7.8zM870.4 453.2h7.8v7.8h-7.8zM882.3 434.3h7.8v7.8h-7.8zM894.2 415.3h7.8v7.8h-7.8zM906.2 398.2h7.8v7.8h-7.8zM918.1 380.3h7.8v7.8h-7.8zM930.2 360.5h7.8v7.8h-7.8zM942.1 341.9h7.8v7.8h-7.8zM954 323.3h7.8v7.8h-7.8zM966.1 304.9h7.8v7.8h-7.8zM978.2 287.2h7.8v7.8h-7.8zM990.1 269.6h7.8v7.8h-7.8zM1001.7 252.4h7.8v7.8h-7.8zM1013.3 239.5h7.8v7.8h-7.8zM1024.8 226.8h7.8v7.8h-7.8zM1036.1 213.3h7.8v7.8h-7.8zM1047.3 203.3h7.8v7.8h-7.8zM1058.3 197h7.8v7.8h-7.8zM1069.1 191.4h7.8v7.8h-7.8zM1079.6 185.9h7.8v7.8h-7.8zM1089.5 182.2h7.8v7.8h-7.8zM1099 181.9h7.8v7.8h-7.8zM1108.4 183.2h7.8v7.8h-7.8zM1117.2 184.5h7.8v7.8h-7.8zM1126.1 185.3h7.8v7.8h-7.8zM1134.5 186.4h7.8v7.8h-7.8zM1142.2 188.4h7.8v7.8h-7.8zM1150 189.4h7.8v7.8h-7.8zM1157.5 187.5h7.8v7.8h-7.8zM1164.9 185.4h7.8v7.8h-7.8zM1171.9 185.1h7.8v7.8h-7.8zM1178.6 185.4h7.8v7.8h-7.8zM1185.4 186h7.8v7.8h-7.8zM1192.1 186.9h7.8v7.8h-7.8zM1198.1 188h7.8v7.8h-7.8zM1204.1 189.1h7.8v7.8h-7.8zM1210.1 190.1h7.8v7.8h-7.8zM1216.1 191.1h7.8v7.8h-7.8zM1221.4 192h7.8v7.8h-7.8zM1226.8 192.9h7.8v7.8h-7.8zM1232.1 194.1h7.8v7.8h-7.8zM1237.4 195.3h7.8v7.8h-7.8zM1242.8 196.4h7.8v7.8h-7.8zM1247.4 197.1h7.8v7.8h-7.8zM1252.1 197.6h7.8v7.8h-7.8zM1256.8 198h7.8v7.8h-7.8zM1261.4 198.1h7.8v7.8h-7.8zM1266.1 197.8h7.8v7.8h-7.8zM1270.2 197.3h7.8v7.8h-7.8zM1274.4 196.5h7.8v7.8h-7.8zM1278.6 195.6h7.8v7.8h-7.8zM1282.5 194.3h7.8v7.8h-7.8zM1286.6 192.5h7.8v7.8h-7.8zM1290.6 189.7h7.8v7.8h-7.8zM1294.4 186h7.8v7.8h-7.8zM1298.1 182.2h7.8v7.8h-7.8zM1302.1 179.1h7.8v7.8h-7.8zM1305.7 176.6h7.8v7.8h-7.8zM1309.2 174.1h7.8v7.8h-7.8zM1312.8 171.1h7.8v7.8h-7.8zM1316.4 167.5h7.8v7.8h-7.8zM1319.9 163.5h7.8v7.8h-7.8zM1323.4 159.3h7.8v7.8h-7.8zM1327 155h7.8v7.8h-7.8zM1330.5 150.7h7.8v7.8h-7.8zM1334.1 146.3h7.8v7.8h-7.8zM1337.6 141.7h7.8v7.8h-7.8zM1341.2 137h7.8v7.8h-7.8zM1344.9 132.2h7.8v7.8h-7.8zM1348.6 127.3h7.8v7.8h-7.8zM1352.4 121.7h7.8v7.8h-7.8zM1355.9 115.6h7.8v7.8h-7.8zM1359.7 108.2h7.8v7.8h-7.8zM1363.2 102.2h7.8v7.8h-7.8zM1367 97.4h7.8v7.8h-7.8zM1370.7 93.2h7.8v7.8h-7.8zM1374.4 88.7h7.8v7.8h-7.8zM1378.2 82.4h7.8v7.8h-7.8zM1381.8 74.6h7.8v7.8h-7.8zM1385.4 66.9h7.8v7.8h-7.8zM1388.9 61h7.8v7.8h-7.8zM1392.5 57.2h7.8v7.8h-7.8zM1396 54.5h7.8v7.8h-7.8zM1399.5 51.7h7.8v7.8h-7.8zM1402.9 48.5h7.8v7.8h-7.8zM1406 45.5h7.8v7.8h-7.8zM1409.2 42.6h7.8v7.8h-7.8zM1412.5 39.8h7.8v7.8h-7.8zM1415.7 37.1h7.8v7.8h-7.8zM1418.7 34.8h7.8v7.8h-7.8zM1421.8 33.2h7.8v7.8h-7.8zM1424.9 34h7.8v7.8h-7.8zM1428 38.4h7.8v7.8h-7.8zM1439.6 62.6h7.8v7.8h-7.8z"/>
<path fill="none" stroke="#111111" stroke-width="0.95" d="M807.2 568.6l3.2-5.4 3.2 5.4zm3.2-6.4v7.2M820 546.3l3.2-5.4 3.2 5.4zm3.2-6.4v7.2M832.4 523.8l3.2-5.4 3.2 5.4zm3.2-6.4v7.2M845.3 502.2l3.2-5.4 3.2 5.4zm3.2-6.4v7.2M858 479.9l3.2-5.4 3.2 5.4zm3.2-6.4v7.2M871.3 455.4l3.2-5.4 3.2 5.4zm3.2-6.4v7.2M884.5 431.7l3.2-5.4 3.2 5.4zm3.2-6.4v7.2M898.1 407.4l3.2-5.4 3.2 5.4zm3.2-6.4v7.2M912.1 382.9l3.2-5.4 3.2 5.4zm3.2-6.4v7.2M925.8 360.1l3.2-5.4 3.2 5.4zm3.2-6.4v7.2M939.4 337.4l3.2-5.4 3.2 5.4zm3.2-6.4v7.2M953.1 314l3.2-5.4 3.2 5.4zm3.2-6.4v7.2M966.7 292.7l3.2-5.4 3.2 5.4zm3.2-6.4v7.2M980.5 272.9l3.2-5.4 3.2 5.4zm3.2-6.4v7.2M993.9 254.7l3.2-5.4 3.2 5.4zm3.2-6.4v7.2M1007.2 236.8l3.2-5.4 3.2 5.4zm3.2-6.4v7.2M1020.2 219.7l3.2-5.4 3.2 5.4zm3.2-6.4v7.2M1033 204.2l3.2-5.4 3.2 5.4zm3.2-6.4v7.2M1046 190.6l3.2-5.4 3.2 5.4zm3.2-6.4v7.2M1058.5 179.2l3.2-5.4 3.2 5.4zm3.2-6.4v7.2M1071 167.5l3.2-5.4 3.2 5.4zm3.2-6.4v7.2M1082.8 158.1l3.2-5.4 3.2 5.4zm3.2-6.4v7.2M1094.6 149.4l3.2-5.4 3.2 5.4zm3.2-6.4v7.2M1105.8 142.2l3.2-5.4 3.2 5.4zm3.2-6.4v7.2M1116.7 135.8l3.2-5.4 3.2 5.4zm3.2-6.4v7.2M1127.3 130.3l3.2-5.4 3.2 5.4zm3.2-6.4v7.2M1137.4 125.3l3.2-5.4 3.2 5.4zm3.2-6.4v7.2M1147.3 119.8l3.2-5.4 3.2 5.4zm3.2-6.4v7.2M1156.8 117.6l3.2-5.4 3.2 5.4zm3.2-6.4v7.2M1166.4 113.5l3.2-5.4 3.2 5.4zm3.2-6.4v7.2M1175.4 110.9l3.2-5.4 3.2 5.4zm3.2-6.4v7.2M1184.2 109l3.2-5.4 3.2 5.4zm3.2-6.4v7.2M1192.7 107.9l3.2-5.4 3.2 5.4zm3.2-6.4v7.2M1200.9 107.6l3.2-5.4 3.2 5.4zm3.2-6.4v7.2M1208.9 108.6l3.2-5.4 3.2 5.4zm3.2-6.4v7.2M1216.8 109.5l3.2-5.4 3.2 5.4zm3.2-6.4v7.2M1224.4 109.7l3.2-5.4 3.2 5.4zm3.2-6.4v7.2M1231.6 110.4l3.2-5.4 3.2 5.4zm3.2-6.4v7.2M1238.6 111.9l3.2-5.4 3.2 5.4zm3.2-6.4v7.2M1245.4 112.9l3.2-5.4 3.2 5.4zm3.2-6.4v7.2M1252.2 113.1l3.2-5.4 3.2 5.4zm3.2-6.4v7.2M1258.5 113.6l3.2-5.4 3.2 5.4zm3.2-6.4v7.2M1264.7 114.7l3.2-5.4 3.2 5.4zm3.2-6.4v7.2M1270.6 115l3.2-5.4 3.2 5.4zm3.2-6.4v7.2M1276.5 114.2l3.2-5.4 3.2 5.4zm3.2-6.4v7.2M1282.2 112.7l3.2-5.4 3.2 5.4zm3.2-6.4v7.2M1287.7 110.4l3.2-5.4 3.2 5.4zm3.2-6.4v7.2M1293.1 107.8l3.2-5.4 3.2 5.4zm3.2-6.4v7.2M1298.6 105.7l3.2-5.4 3.2 5.4zm3.2-6.4v7.2M1304.1 103.7l3.2-5.4 3.2 5.4zm3.2-6.4v7.2M1309.5 101.4l3.2-5.4 3.2 5.4zm3.2-6.4v7.2M1314.9 98.8l3.2-5.4 3.2 5.4zm3.2-6.4v7.2M1320.1 95.9l3.2-5.4 3.2 5.4zm3.2-6.4v7.2M1325.3 92.5l3.2-5.4 3.2 5.4zm3.2-6.4v7.2M1330.6 88.5l3.2-5.4 3.2 5.4zm3.2-6.4v7.2M1335.7 84.7l3.2-5.4 3.2 5.4zm3.2-6.4v7.2M1340.8 80.7l3.2-5.4 3.2 5.4zm3.2-6.4v7.2M1346.1 76l3.2-5.4 3.2 5.4zm3.2-6.4v7.2M1351.4 70.6l3.2-5.4 3.2 5.4zm3.2-6.4v7.2M1356.8 64.8l3.2-5.4 3.2 5.4zm3.2-6.4v7.2M1362.2 58.4l3.2-5.4 3.2 5.4zm3.2-6.4v7.2M1367.4 52.8l3.2-5.4 3.2 5.4zm3.2-6.4v7.2M1372.4 47.9l3.2-5.4 3.2 5.4zm3.2-6.4v7.2M1377.6 42.8l3.2-5.4 3.2 5.4zm3.2-6.4v7.2M1382.8 36.9l3.2-5.4 3.2 5.4zm3.2-6.4v7.2M1388 31l3.2-5.4 3.2 5.4zm3.2-6.4v7.2M1393 25.4l3.2-5.4 3.2 5.4zm3.2-6.4v7.2M1397.9 20l3.2-5.4 3.2 5.4zm3.2-6.4v7.2M1402.5 15.6l3.2-5.4 3.2 5.4zm3.2-6.4v7.2M1406.8 11.7l3.2-5.4 3.2 5.4zm3.2-6.4v7.2M1411.4 7.8l3.2-5.4 3.2 5.4zm3.2-6.4v7.2M1442.8 12.6l3.2-5.4 3.2 5.4zm3.2-6.4v7.2"/>
<path fill="none" stroke="#9a0fd6" stroke-width="1.1" d="M366.9 881.6v9.6m-3.8-9.6h7.6m-7.6 9.6h7.6m-7.6-4.8h7.6M376.2 869v9.6m-3.8-9.6h7.6m-7.6 9.6h7.6m-7.6-4.8h7.6M385.5 860.7v9.6m-3.8-9.6h7.6m-7.6 9.6h7.6m-7.6-4.8h7.6M394.4 845.2v9.6m-3.8-9.6h7.6m-7.6 9.6h7.6m-7.6-4.8h7.6M403 831.8v9.6m-3.8-9.6h7.6m-7.6 9.6h7.6m-7.6-4.8h7.6M411.7 820.6v9.6m-3.8-9.6h7.6m-7.6 9.6h7.6m-7.6-4.8h7.6M419.8 809.2v9.6m-3.8-9.6h7.6m-7.6 9.6h7.6m-7.6-4.8h7.6M427.8 798.1v9.6m-3.8-9.6h7.6m-7.6 9.6h7.6m-7.6-4.8h7.6M435.6 788.8v9.6m-3.8-9.6h7.6m-7.6 9.6h7.6m-7.6-4.8h7.6M443.1 780.3v9.6m-3.8-9.6h7.6m-7.6 9.6h7.6m-7.6-4.8h7.6M450.6 773.7v9.6m-3.8-9.6h7.6m-7.6 9.6h7.6m-7.6-4.8h7.6M457.6 767.1v9.6m-3.8-9.6h7.6m-7.6 9.6h7.6m-7.6-4.8h7.6M464.5 764.9v9.6m-3.8-9.6h7.6m-7.6 9.6h7.6m-7.6-4.8h7.6M471.2 763.5v9.6m-3.8-9.6h7.6m-7.6 9.6h7.6m-7.6-4.8h7.6M477.9 768.3v9.6m-3.8-9.6h7.6m-7.6 9.6h7.6m-7.6-4.8h7.6M484.3 774.4v9.6m-3.8-9.6h7.6m-7.6 9.6h7.6m-7.6-4.8h7.6M490.4 782.3v9.6m-3.8-9.6h7.6m-7.6 9.6h7.6m-7.6-4.8h7.6M495.5 797.4v9.6m-3.8-9.6h7.6m-7.6 9.6h7.6m-7.6-4.8h7.6M500.9 810.2v9.6m-3.8-9.6h7.6m-7.6 9.6h7.6m-7.6-4.8h7.6M506.2 820.7v9.6m-3.8-9.6h7.6m-7.6 9.6h7.6m-7.6-4.8h7.6M511.1 829.4v9.6m-3.8-9.6h7.6m-7.6 9.6h7.6m-7.6-4.8h7.6M515.3 843.5v9.6m-3.8-9.6h7.6m-7.6 9.6h7.6m-7.6-4.8h7.6M518.6 858.5v9.6m-3.8-9.6h7.6m-7.6 9.6h7.6m-7.6-4.8h7.6M522 873.8v9.6m-3.8-9.6h7.6m-7.6 9.6h7.6m-7.6-4.8h7.6M525.4 888.3v9.6m-3.8-9.6h7.6m-7.6 9.6h7.6m-7.6-4.8h7.6M529.5 901.4v9.6m-3.8-9.6h7.6m-7.6 9.6h7.6m-7.6-4.8h7.6M533.6 911.1v9.6m-3.8-9.6h7.6m-7.6 9.6h7.6m-7.6-4.8h7.6M537.6 919.4v9.6m-3.8-9.6h7.6m-7.6 9.6h7.6m-7.6-4.8h7.6M541.5 926v9.6m-3.8-9.6h7.6m-7.6 9.6h7.6m-7.6-4.8h7.6M545.3 931.4v9.6m-3.8-9.6h7.6m-7.6 9.6h7.6m-7.6-4.8h7.6M548.8 936.7v9.6m-3.8-9.6h7.6m-7.6 9.6h7.6m-7.6-4.8h7.6M552.3 941.9v9.6m-3.8-9.6h7.6m-7.6 9.6h7.6m-7.6-4.8h7.6M555.5 946.3v9.6m-3.8-9.6h7.6m-7.6 9.6h7.6m-7.6-4.8h7.6M558.7 950.3v9.6m-3.8-9.6h7.6m-7.6 9.6h7.6m-7.6-4.8h7.6M561.7 953.3v9.6m-3.8-9.6h7.6m-7.6 9.6h7.6m-7.6-4.8h7.6M564.7 955.6v9.6m-3.8-9.6h7.6m-7.6 9.6h7.6m-7.6-4.8h7.6M567.5 957.3v9.6m-3.8-9.6h7.6m-7.6 9.6h7.6m-7.6-4.8h7.6M570.2 958.5v9.6m-3.8-9.6h7.6m-7.6 9.6h7.6m-7.6-4.8h7.6M572.7 959.3v9.6m-3.8-9.6h7.6m-7.6 9.6h7.6m-7.6-4.8h7.6M575.2 959.9v9.6m-3.8-9.6h7.6m-7.6 9.6h7.6m-7.6-4.8h7.6M577.7 960.2v9.6m-3.8-9.6h7.6m-7.6 9.6h7.6m-7.6-4.8h7.6M580.3 960.4v9.6m-3.8-9.6h7.6m-7.6 9.6h7.6m-7.6-4.8h7.6M583 960.5v9.6m-3.8-9.6h7.6m-7.6 9.6h7.6m-7.6-4.8h7.6M585.5 960.6v9.6m-3.8-9.6h7.6m-7.6 9.6h7.6m-7.6-4.8h7.6M588.3 960.6v9.6m-3.8-9.6h7.6m-7.6 9.6h7.6m-7.6-4.8h7.6M590.7 960.6v9.6m-3.8-9.6h7.6m-7.6 9.6h7.6m-7.6-4.8h7.6M593.1 960.5v9.6m-3.8-9.6h7.6m-7.6 9.6h7.6m-7.6-4.8h7.6M595.4 960.5v9.6m-3.8-9.6h7.6m-7.6 9.6h7.6m-7.6-4.8h7.6M597.6 960.5v9.6m-3.8-9.6h7.6m-7.6 9.6h7.6m-7.6-4.8h7.6M600 960.5v9.6m-3.8-9.6h7.6m-7.6 9.6h7.6m-7.6-4.8h7.6M602.4 960.8v9.6m-3.8-9.6h7.6m-7.6 9.6h7.6m-7.6-4.8h7.6M604.6 961.2v9.6m-3.8-9.6h7.6m-7.6 9.6h7.6m-7.6-4.8h7.6M606.7 961.4v9.6m-3.8-9.6h7.6m-7.6 9.6h7.6m-7.6-4.8h7.6M609 961.1v9.6m-3.8-9.6h7.6m-7.6 9.6h7.6m-7.6-4.8h7.6M611.2 960.4v9.6m-3.8-9.6h7.6m-7.6 9.6h7.6m-7.6-4.8h7.6M613.5 959.3v9.6m-3.8-9.6h7.6m-7.6 9.6h7.6m-7.6-4.8h7.6M616 957.8v9.6m-3.8-9.6h7.6m-7.6 9.6h7.6m-7.6-4.8h7.6M618.1 956.4v9.6m-3.8-9.6h7.6m-7.6 9.6h7.6m-7.6-4.8h7.6M620.2 954.9v9.6m-3.8-9.6h7.6m-7.6 9.6h7.6m-7.6-4.8h7.6M622.4 953.2v9.6m-3.8-9.6h7.6m-7.6 9.6h7.6m-7.6-4.8h7.6M624.5 951.3v9.6m-3.8-9.6h7.6m-7.6 9.6h7.6m-7.6-4.8h7.6M626.5 949.4v9.6m-3.8-9.6h7.6m-7.6 9.6h7.6m-7.6-4.8h7.6M628.5 947.2v9.6m-3.8-9.6h7.6m-7.6 9.6h7.6m-7.6-4.8h7.6M630.6 944.8v9.6m-3.8-9.6h7.6m-7.6 9.6h7.6m-7.6-4.8h7.6M632.6 942.2v9.6m-3.8-9.6h7.6m-7.6 9.6h7.6m-7.6-4.8h7.6M634.7 939.5v9.6m-3.8-9.6h7.6m-7.6 9.6h7.6m-7.6-4.8h7.6M636.7 936.8v9.6m-3.8-9.6h7.6m-7.6 9.6h7.6m-7.6-4.8h7.6M638.7 934.2v9.6m-3.8-9.6h7.6m-7.6 9.6h7.6m-7.6-4.8h7.6M640.8 931.8v9.6m-3.8-9.6h7.6m-7.6 9.6h7.6m-7.6-4.8h7.6M642.8 929.6v9.6m-3.8-9.6h7.6m-7.6 9.6h7.6m-7.6-4.8h7.6M644.9 927.5v9.6m-3.8-9.6h7.6m-7.6 9.6h7.6m-7.6-4.8h7.6M646.9 925.6v9.6m-3.8-9.6h7.6m-7.6 9.6h7.6m-7.6-4.8h7.6M649 923.7v9.6m-3.8-9.6h7.6m-7.6 9.6h7.6m-7.6-4.8h7.6M651.1 921.8v9.6m-3.8-9.6h7.6m-7.6 9.6h7.6m-7.6-4.8h7.6M653.1 919.8v9.6m-3.8-9.6h7.6m-7.6 9.6h7.6m-7.6-4.8h7.6M655.2 917.8v9.6m-3.8-9.6h7.6m-7.6 9.6h7.6m-7.6-4.8h7.6M657.2 915.6v9.6m-3.8-9.6h7.6m-7.6 9.6h7.6m-7.6-4.8h7.6M659.3 913.4v9.6m-3.8-9.6h7.6m-7.6 9.6h7.6m-7.6-4.8h7.6M661.3 911v9.6m-3.8-9.6h7.6m-7.6 9.6h7.6m-7.6-4.8h7.6M663.3 908.6v9.6m-3.8-9.6h7.6m-7.6 9.6h7.6m-7.6-4.8h7.6M665.4 906.2v9.6m-3.8-9.6h7.6m-7.6 9.6h7.6m-7.6-4.8h7.6M667.4 903.7v9.6m-3.8-9.6h7.6m-7.6 9.6h7.6m-7.6-4.8h7.6M669.4 901.3v9.6m-3.8-9.6h7.6m-7.6 9.6h7.6m-7.6-4.8h7.6M671.5 898.8v9.6m-3.8-9.6h7.6m-7.6 9.6h7.6m-7.6-4.8h7.6M673.5 896.4v9.6m-3.8-9.6h7.6m-7.6 9.6h7.6m-7.6-4.8h7.6M675.6 894v9.6m-3.8-9.6h7.6m-7.6 9.6h7.6m-7.6-4.8h7.6M677.6 891.6v9.6m-3.8-9.6h7.6m-7.6 9.6h7.6m-7.6-4.8h7.6M679.7 889.2v9.6m-3.8-9.6h7.6m-7.6 9.6h7.6m-7.6-4.8h7.6M681.8 886.7v9.6m-3.8-9.6h7.6m-7.6 9.6h7.6m-7.6-4.8h7.6M683.8 884.2v9.6m-3.8-9.6h7.6m-7.6 9.6h7.6m-7.6-4.8h7.6M685.9 881.7v9.6m-3.8-9.6h7.6m-7.6 9.6h7.6m-7.6-4.8h7.6M687.9 879v9.6m-3.8-9.6h7.6m-7.6 9.6h7.6m-7.6-4.8h7.6M690 876.3v9.6m-3.8-9.6h7.6m-7.6 9.6h7.6m-7.6-4.8h7.6M692 873.5v9.6m-3.8-9.6h7.6m-7.6 9.6h7.6m-7.6-4.8h7.6M694 870.6v9.6m-3.8-9.6h7.6m-7.6 9.6h7.6m-7.6-4.8h7.6M696.1 867.7v9.6m-3.8-9.6h7.6m-7.6 9.6h7.6m-7.6-4.8h7.6M698.1 864.7v9.6m-3.8-9.6h7.6m-7.6 9.6h7.6m-7.6-4.8h7.6M700.2 861.8v9.6m-3.8-9.6h7.6m-7.6 9.6h7.6m-7.6-4.8h7.6M702.2 858.9v9.6m-3.8-9.6h7.6m-7.6 9.6h7.6m-7.6-4.8h7.6M704.2 856.1v9.6m-3.8-9.6h7.6m-7.6 9.6h7.6m-7.6-4.8h7.6M706.3 853.2v9.6m-3.8-9.6h7.6m-7.6 9.6h7.6m-7.6-4.8h7.6M708.4 850.3v9.6m-3.8-9.6h7.6m-7.6 9.6h7.6m-7.6-4.8h7.6M710.5 847.5v9.6m-3.8-9.6h7.6m-7.6 9.6h7.6m-7.6-4.8h7.6M712.6 844.6v9.6m-3.8-9.6h7.6m-7.6 9.6h7.6m-7.6-4.8h7.6M714.6 841.7v9.6m-3.8-9.6h7.6m-7.6 9.6h7.6m-7.6-4.8h7.6M716.6 838.9v9.6m-3.8-9.6h7.6m-7.6 9.6h7.6m-7.6-4.8h7.6M718.5 836v9.6m-3.8-9.6h7.6m-7.6 9.6h7.6m-7.6-4.8h7.6M720.2 833.1v9.6m-3.8-9.6h7.6m-7.6 9.6h7.6m-7.6-4.8h7.6M722.3 829.4v9.6m-3.8-9.6h7.6m-7.6 9.6h7.6m-7.6-4.8h7.6M724.3 825.7v9.6m-3.8-9.6h7.6m-7.6 9.6h7.6m-7.6-4.8h7.6M726.3 822v9.6m-3.8-9.6h7.6m-7.6 9.6h7.6m-7.6-4.8h7.6M728.3 818.5v9.6m-3.8-9.6h7.6m-7.6 9.6h7.6m-7.6-4.8h7.6M730.3 815.2v9.6m-3.8-9.6h7.6m-7.6 9.6h7.6m-7.6-4.8h7.6M732.4 812v9.6m-3.8-9.6h7.6m-7.6 9.6h7.6m-7.6-4.8h7.6M734.4 809v9.6m-3.8-9.6h7.6m-7.6 9.6h7.6m-7.6-4.8h7.6M736.5 806.1v9.6m-3.8-9.6h7.6m-7.6 9.6h7.6m-7.6-4.8h7.6M738.5 803.3v9.6m-3.8-9.6h7.6m-7.6 9.6h7.6m-7.6-4.8h7.6M740.6 800.7v9.6m-3.8-9.6h7.6m-7.6 9.6h7.6m-7.6-4.8h7.6M742.6 798.2v9.6m-3.8-9.6h7.6m-7.6 9.6h7.6m-7.6-4.8h7.6M744.7 795.8v9.6m-3.8-9.6h7.6m-7.6 9.6h7.6m-7.6-4.8h7.6M746.4 793.9v9.6m-3.8-9.6h7.6m-7.6 9.6h7.6m-7.6-4.8h7.6M748.1 792.1v9.6m-3.8-9.6h7.6m-7.6 9.6h7.6m-7.6-4.8h7.6M749.7 790.4v9.6m-3.8-9.6h7.6m-7.6 9.6h7.6m-7.6-4.8h7.6M751.8 788.5v9.6m-3.8-9.6h7.6m-7.6 9.6h7.6m-7.6-4.8h7.6M753.7 787v9.6m-3.8-9.6h7.6m-7.6 9.6h7.6m-7.6-4.8h7.6M755.5 785.8v9.6m-3.8-9.6h7.6m-7.6 9.6h7.6m-7.6-4.8h7.6M757.5 784.8v9.6m-3.8-9.6h7.6m-7.6 9.6h7.6m-7.6-4.8h7.6M759.3 784.2v9.6m-3.8-9.6h7.6m-7.6 9.6h7.6m-7.6-4.8h7.6M761 784v9.6m-3.8-9.6h7.6m-7.6 9.6h7.6m-7.6-4.8h7.6M762.8 784.3v9.6m-3.8-9.6h7.6m-7.6 9.6h7.6m-7.6-4.8h7.6M764.6 785v9.6m-3.8-9.6h7.6m-7.6 9.6h7.6m-7.6-4.8h7.6M766.4 786.3v9.6m-3.8-9.6h7.6m-7.6 9.6h7.6m-7.6-4.8h7.6M768.2 788.1v9.6m-3.8-9.6h7.6m-7.6 9.6h7.6m-7.6-4.8h7.6M769.9 790v9.6m-3.8-9.6h7.6m-7.6 9.6h7.6m-7.6-4.8h7.6M771.8 792.2v9.6m-3.8-9.6h7.6m-7.6 9.6h7.6m-7.6-4.8h7.6M778.6 824.1v9.6m-3.8-9.6h7.6m-7.6 9.6h7.6m-7.6-4.8h7.6M784.8 873.9v9.6m-3.8-9.6h7.6m-7.6 9.6h7.6m-7.6-4.8h7.6"/>
<path fill="none" stroke="#009e73" stroke-width="1.1" d="M358.4 927.4l8.2 8.2m-8.2 0 8.2-8.2m-4.1 0v8.2m-2.4-8.2h4.8m-4.8 8.2h4.8M368.1 921.1l8.2 8.2m-8.2 0 8.2-8.2m-4.1 0v8.2m-2.4-8.2h4.8m-4.8 8.2h4.8M377.4 911.3l8.2 8.2m-8.2 0 8.2-8.2m-4.1 0v8.2m-2.4-8.2h4.8m-4.8 8.2h4.8M386.6 898l8.2 8.2m-8.2 0 8.2-8.2m-4.1 0v8.2m-2.4-8.2h4.8m-4.8 8.2h4.8M395.5 886.5l8.2 8.2m-8.2 0 8.2-8.2m-4.1 0v8.2m-2.4-8.2h4.8m-4.8 8.2h4.8M404.2 875.8l8.2 8.2m-8.2 0 8.2-8.2m-4.1 0v8.2m-2.4-8.2h4.8m-4.8 8.2h4.8M412.5 862.6l8.2 8.2m-8.2 0 8.2-8.2m-4.1 0v8.2m-2.4-8.2h4.8m-4.8 8.2h4.8M420.5 845.4l8.2 8.2m-8.2 0 8.2-8.2m-4.1 0v8.2m-2.4-8.2h4.8m-4.8 8.2h4.8M428.5 827l8.2 8.2m-8.2 0 8.2-8.2m-4.1 0v8.2m-2.4-8.2h4.8m-4.8 8.2h4.8M436 811.5l8.2 8.2m-8.2 0 8.2-8.2m-4.1 0v8.2m-2.4-8.2h4.8m-4.8 8.2h4.8M443.3 800.2l8.2 8.2m-8.2 0 8.2-8.2m-4.1 0v8.2m-2.4-8.2h4.8m-4.8 8.2h4.8M450.6 791.1l8.2 8.2m-8.2 0 8.2-8.2m-4.1 0v8.2m-2.4-8.2h4.8m-4.8 8.2h4.8M457.6 784.1l8.2 8.2m-8.2 0 8.2-8.2m-4.1 0v8.2m-2.4-8.2h4.8m-4.8 8.2h4.8M464.5 775.4l8.2 8.2m-8.2 0 8.2-8.2m-4.1 0v8.2m-2.4-8.2h4.8m-4.8 8.2h4.8M471.3 770.4l8.2 8.2m-8.2 0 8.2-8.2m-4.1 0v8.2m-2.4-8.2h4.8m-4.8 8.2h4.8M477.7 769.2l8.2 8.2m-8.2 0 8.2-8.2m-4.1 0v8.2m-2.4-8.2h4.8m-4.8 8.2h4.8M483.8 774.2l8.2 8.2m-8.2 0 8.2-8.2m-4.1 0v8.2m-2.4-8.2h4.8m-4.8 8.2h4.8M489.7 787.6l8.2 8.2m-8.2 0 8.2-8.2m-4.1 0v8.2m-2.4-8.2h4.8m-4.8 8.2h4.8M495.3 794.3l8.2 8.2m-8.2 0 8.2-8.2m-4.1 0v8.2m-2.4-8.2h4.8m-4.8 8.2h4.8M500.8 807.1l8.2 8.2m-8.2 0 8.2-8.2m-4.1 0v8.2m-2.4-8.2h4.8m-4.8 8.2h4.8M505.8 819.5l8.2 8.2m-8.2 0 8.2-8.2m-4.1 0v8.2m-2.4-8.2h4.8m-4.8 8.2h4.8M509.5 835.8l8.2 8.2m-8.2 0 8.2-8.2m-4.1 0v8.2m-2.4-8.2h4.8m-4.8 8.2h4.8M513.4 851.5l8.2 8.2m-8.2 0 8.2-8.2m-4.1 0v8.2m-2.4-8.2h4.8m-4.8 8.2h4.8M517.7 865.7l8.2 8.2m-8.2 0 8.2-8.2m-4.1 0v8.2m-2.4-8.2h4.8m-4.8 8.2h4.8M522.3 874.7l8.2 8.2m-8.2 0 8.2-8.2m-4.1 0v8.2m-2.4-8.2h4.8m-4.8 8.2h4.8M526.6 884.4l8.2 8.2m-8.2 0 8.2-8.2m-4.1 0v8.2m-2.4-8.2h4.8m-4.8 8.2h4.8M530.9 894.3l8.2 8.2m-8.2 0 8.2-8.2m-4.1 0v8.2m-2.4-8.2h4.8m-4.8 8.2h4.8M534.9 904.2l8.2 8.2m-8.2 0 8.2-8.2m-4.1 0v8.2m-2.4-8.2h4.8m-4.8 8.2h4.8M538.9 914.8l8.2 8.2m-8.2 0 8.2-8.2m-4.1 0v8.2m-2.4-8.2h4.8m-4.8 8.2h4.8M542.8 922.7l8.2 8.2m-8.2 0 8.2-8.2m-4.1 0v8.2m-2.4-8.2h4.8m-4.8 8.2h4.8M546.5 929.8l8.2 8.2m-8.2 0 8.2-8.2m-4.1 0v8.2m-2.4-8.2h4.8m-4.8 8.2h4.8M550.1 935.9l8.2 8.2m-8.2 0 8.2-8.2m-4.1 0v8.2m-2.4-8.2h4.8m-4.8 8.2h4.8M553.6 940l8.2 8.2m-8.2 0 8.2-8.2m-4.1 0v8.2m-2.4-8.2h4.8m-4.8 8.2h4.8M557 943.2l8.2 8.2m-8.2 0 8.2-8.2m-4.1 0v8.2m-2.4-8.2h4.8m-4.8 8.2h4.8M560.3 947.1l8.2 8.2m-8.2 0 8.2-8.2m-4.1 0v8.2m-2.4-8.2h4.8m-4.8 8.2h4.8M563.3 951l8.2 8.2m-8.2 0 8.2-8.2m-4.1 0v8.2m-2.4-8.2h4.8m-4.8 8.2h4.8M566.3 954l8.2 8.2m-8.2 0 8.2-8.2m-4.1 0v8.2m-2.4-8.2h4.8m-4.8 8.2h4.8M569.3 956.3l8.2 8.2m-8.2 0 8.2-8.2m-4.1 0v8.2m-2.4-8.2h4.8m-4.8 8.2h4.8M572 957.9l8.2 8.2m-8.2 0 8.2-8.2m-4.1 0v8.2m-2.4-8.2h4.8m-4.8 8.2h4.8M574.7 959.3l8.2 8.2m-8.2 0 8.2-8.2m-4.1 0v8.2m-2.4-8.2h4.8m-4.8 8.2h4.8M577.3 959.7l8.2 8.2m-8.2 0 8.2-8.2m-4.1 0v8.2m-2.4-8.2h4.8m-4.8 8.2h4.8M579.9 959.1l8.2 8.2m-8.2 0 8.2-8.2m-4.1 0v8.2m-2.4-8.2h4.8m-4.8 8.2h4.8M582.6 957.7l8.2 8.2m-8.2 0 8.2-8.2m-4.1 0v8.2m-2.4-8.2h4.8m-4.8 8.2h4.8M585.2 956.3l8.2 8.2m-8.2 0 8.2-8.2m-4.1 0v8.2m-2.4-8.2h4.8m-4.8 8.2h4.8M587.9 954.8l8.2 8.2m-8.2 0 8.2-8.2m-4.1 0v8.2m-2.4-8.2h4.8m-4.8 8.2h4.8M590.7 953.7l8.2 8.2m-8.2 0 8.2-8.2m-4.1 0v8.2m-2.4-8.2h4.8m-4.8 8.2h4.8M593.1 953.2l8.2 8.2m-8.2 0 8.2-8.2m-4.1 0v8.2m-2.4-8.2h4.8m-4.8 8.2h4.8M595.6 953.1l8.2 8.2m-8.2 0 8.2-8.2m-4.1 0v8.2m-2.4-8.2h4.8m-4.8 8.2h4.8M598.2 953.1l8.2 8.2m-8.2 0 8.2-8.2m-4.1 0v8.2m-2.4-8.2h4.8m-4.8 8.2h4.8M600.8 953l8.2 8.2m-8.2 0 8.2-8.2m-4.1 0v8.2m-2.4-8.2h4.8m-4.8 8.2h4.8M603.5 952.8l8.2 8.2m-8.2 0 8.2-8.2m-4.1 0v8.2m-2.4-8.2h4.8m-4.8 8.2h4.8M606.1 952.3l8.2 8.2m-8.2 0 8.2-8.2m-4.1 0v8.2m-2.4-8.2h4.8m-4.8 8.2h4.8M608.6 951.3l8.2 8.2m-8.2 0 8.2-8.2m-4.1 0v8.2m-2.4-8.2h4.8m-4.8 8.2h4.8M611.2 950l8.2 8.2m-8.2 0 8.2-8.2m-4.1 0v8.2m-2.4-8.2h4.8m-4.8 8.2h4.8M613.7 948.5l8.2 8.2m-8.2 0 8.2-8.2m-4.1 0v8.2m-2.4-8.2h4.8m-4.8 8.2h4.8M616.3 946.8l8.2 8.2m-8.2 0 8.2-8.2m-4.1 0v8.2m-2.4-8.2h4.8m-4.8 8.2h4.8M618.8 945l8.2 8.2m-8.2 0 8.2-8.2m-4.1 0v8.2m-2.4-8.2h4.8m-4.8 8.2h4.8M621.4 943.3l8.2 8.2m-8.2 0 8.2-8.2m-4.1 0v8.2m-2.4-8.2h4.8m-4.8 8.2h4.8M623.9 941.5l8.2 8.2m-8.2 0 8.2-8.2m-4.1 0v8.2m-2.4-8.2h4.8m-4.8 8.2h4.8M626.5 939.6l8.2 8.2m-8.2 0 8.2-8.2m-4.1 0v8.2m-2.4-8.2h4.8m-4.8 8.2h4.8M629 937.7l8.2 8.2m-8.2 0 8.2-8.2m-4.1 0v8.2m-2.4-8.2h4.8m-4.8 8.2h4.8M631.6 935.6l8.2 8.2m-8.2 0 8.2-8.2m-4.1 0v8.2m-2.4-8.2h4.8m-4.8 8.2h4.8M634.1 933.5l8.2 8.2m-8.2 0 8.2-8.2m-4.1 0v8.2m-2.4-8.2h4.8m-4.8 8.2h4.8M636.7 931.3l8.2 8.2m-8.2 0 8.2-8.2m-4.1 0v8.2m-2.4-8.2h4.8m-4.8 8.2h4.8M639.2 929.1l8.2 8.2m-8.2 0 8.2-8.2m-4.1 0v8.2m-2.4-8.2h4.8m-4.8 8.2h4.8M641.8 926.7l8.2 8.2m-8.2 0 8.2-8.2m-4.1 0v8.2m-2.4-8.2h4.8m-4.8 8.2h4.8M644.4 924.3l8.2 8.2m-8.2 0 8.2-8.2m-4.1 0v8.2m-2.4-8.2h4.8m-4.8 8.2h4.8M647 921.7l8.2 8.2m-8.2 0 8.2-8.2m-4.1 0v8.2m-2.4-8.2h4.8m-4.8 8.2h4.8M649.5 919.1l8.2 8.2m-8.2 0 8.2-8.2m-4.1 0v8.2m-2.4-8.2h4.8m-4.8 8.2h4.8M652.1 916.4l8.2 8.2m-8.2 0 8.2-8.2m-4.1 0v8.2m-2.4-8.2h4.8m-4.8 8.2h4.8M654.6 913.7l8.2 8.2m-8.2 0 8.2-8.2m-4.1 0v8.2m-2.4-8.2h4.8m-4.8 8.2h4.8M657.2 910.7l8.2 8.2m-8.2 0 8.2-8.2m-4.1 0v8.2m-2.4-8.2h4.8m-4.8 8.2h4.8M659.7 907.7l8.2 8.2m-8.2 0 8.2-8.2m-4.1 0v8.2m-2.4-8.2h4.8m-4.8 8.2h4.8M662.3 904.7l8.2 8.2m-8.2 0 8.2-8.2m-4.1 0v8.2m-2.4-8.2h4.8m-4.8 8.2h4.8M664.8 901.6l8.2 8.2m-8.2 0 8.2-8.2m-4.1 0v8.2m-2.4-8.2h4.8m-4.8 8.2h4.8M667.4 898.5l8.2 8.2m-8.2 0 8.2-8.2m-4.1 0v8.2m-2.4-8.2h4.8m-4.8 8.2h4.8M669.9 895.5l8.2 8.2m-8.2 0 8.2-8.2m-4.1 0v8.2m-2.4-8.2h4.8m-4.8 8.2h4.8M672.5 892.5l8.2 8.2m-8.2 0 8.2-8.2m-4.1 0v8.2m-2.4-8.2h4.8m-4.8 8.2h4.8M675.1 889.5l8.2 8.2m-8.2 0 8.2-8.2m-4.1 0v8.2m-2.4-8.2h4.8m-4.8 8.2h4.8M677.7 886.4l8.2 8.2m-8.2 0 8.2-8.2m-4.1 0v8.2m-2.4-8.2h4.8m-4.8 8.2h4.8M680.2 883.3l8.2 8.2m-8.2 0 8.2-8.2m-4.1 0v8.2m-2.4-8.2h4.8m-4.8 8.2h4.8M682.8 880.1l8.2 8.2m-8.2 0 8.2-8.2m-4.1 0v8.2m-2.4-8.2h4.8m-4.8 8.2h4.8M685.3 876.7l8.2 8.2m-8.2 0 8.2-8.2m-4.1 0v8.2m-2.4-8.2h4.8m-4.8 8.2h4.8M687.9 873.2l8.2 8.2m-8.2 0 8.2-8.2m-4.1 0v8.2m-2.4-8.2h4.8m-4.8 8.2h4.8M690.4 869.6l8.2 8.2m-8.2 0 8.2-8.2m-4.1 0v8.2m-2.4-8.2h4.8m-4.8 8.2h4.8M693 865.9l8.2 8.2m-8.2 0 8.2-8.2m-4.1 0v8.2m-2.4-8.2h4.8m-4.8 8.2h4.8M695.5 862.2l8.2 8.2m-8.2 0 8.2-8.2m-4.1 0v8.2m-2.4-8.2h4.8m-4.8 8.2h4.8M698.1 858.6l8.2 8.2m-8.2 0 8.2-8.2m-4.1 0v8.2m-2.4-8.2h4.8m-4.8 8.2h4.8M700.7 855l8.2 8.2m-8.2 0 8.2-8.2m-4.1 0v8.2m-2.4-8.2h4.8m-4.8 8.2h4.8M703.3 851.4l8.2 8.2m-8.2 0 8.2-8.2m-4.1 0v8.2m-2.4-8.2h4.8m-4.8 8.2h4.8M705.4 848.6l8.2 8.2m-8.2 0 8.2-8.2m-4.1 0v8.2m-2.4-8.2h4.8m-4.8 8.2h4.8M707.5 845.7l8.2 8.2m-8.2 0 8.2-8.2m-4.1 0v8.2m-2.4-8.2h4.8m-4.8 8.2h4.8M709.5 842.9l8.2 8.2m-8.2 0 8.2-8.2m-4.1 0v8.2m-2.4-8.2h4.8m-4.8 8.2h4.8M711.5 840l8.2 8.2m-8.2 0 8.2-8.2m-4.1 0v8.2m-2.4-8.2h4.8m-4.8 8.2h4.8M713.9 836.4l8.2 8.2m-8.2 0 8.2-8.2m-4.1 0v8.2m-2.4-8.2h4.8m-4.8 8.2h4.8M716.1 832.8l8.2 8.2m-8.2 0 8.2-8.2m-4.1 0v8.2m-2.4-8.2h4.8m-4.8 8.2h4.8M718.2 829.1l8.2 8.2m-8.2 0 8.2-8.2m-4.1 0v8.2m-2.4-8.2h4.8m-4.8 8.2h4.8M720.2 825.4l8.2 8.2m-8.2 0 8.2-8.2m-4.1 0v8.2m-2.4-8.2h4.8m-4.8 8.2h4.8M722.2 821.7l8.2 8.2m-8.2 0 8.2-8.2m-4.1 0v8.2m-2.4-8.2h4.8m-4.8 8.2h4.8M724.2 818.2l8.2 8.2m-8.2 0 8.2-8.2m-4.1 0v8.2m-2.4-8.2h4.8m-4.8 8.2h4.8M726.2 814.9l8.2 8.2m-8.2 0 8.2-8.2m-4.1 0v8.2m-2.4-8.2h4.8m-4.8 8.2h4.8M728.3 811.7l8.2 8.2m-8.2 0 8.2-8.2m-4.1 0v8.2m-2.4-8.2h4.8m-4.8 8.2h4.8M730.3 808.7l8.2 8.2m-8.2 0 8.2-8.2m-4.1 0v8.2m-2.4-8.2h4.8m-4.8 8.2h4.8M732.4 805.8l8.2 8.2m-8.2 0 8.2-8.2m-4.1 0v8.2m-2.4-8.2h4.8m-4.8 8.2h4.8M734.4 803l8.2 8.2m-8.2 0 8.2-8.2m-4.1 0v8.2m-2.4-8.2h4.8m-4.8 8.2h4.8M736.5 800.4l8.2 8.2m-8.2 0 8.2-8.2m-4.1 0v8.2m-2.4-8.2h4.8m-4.8 8.2h4.8M738.5 797.9l8.2 8.2m-8.2 0 8.2-8.2m-4.1 0v8.2m-2.4-8.2h4.8m-4.8 8.2h4.8M740.6 795.5l8.2 8.2m-8.2 0 8.2-8.2m-4.1 0v8.2m-2.4-8.2h4.8m-4.8 8.2h4.8M742.7 793.1l8.2 8.2m-8.2 0 8.2-8.2m-4.1 0v8.2m-2.4-8.2h4.8m-4.8 8.2h4.8M744.8 790.9l8.2 8.2m-8.2 0 8.2-8.2m-4.1 0v8.2m-2.4-8.2h4.8m-4.8 8.2h4.8M746.9 788.9l8.2 8.2m-8.2 0 8.2-8.2m-4.1 0v8.2m-2.4-8.2h4.8m-4.8 8.2h4.8M748.8 787.2l8.2 8.2m-8.2 0 8.2-8.2m-4.1 0v8.2m-2.4-8.2h4.8m-4.8 8.2h4.8M750.7 785.9l8.2 8.2m-8.2 0 8.2-8.2m-4.1 0v8.2m-2.4-8.2h4.8m-4.8 8.2h4.8M752.7 784.8l8.2 8.2m-8.2 0 8.2-8.2m-4.1 0v8.2m-2.4-8.2h4.8m-4.8 8.2h4.8M754.6 784l8.2 8.2m-8.2 0 8.2-8.2m-4.1 0v8.2m-2.4-8.2h4.8m-4.8 8.2h4.8M756.6 783.7l8.2 8.2m-8.2 0 8.2-8.2m-4.1 0v8.2m-2.4-8.2h4.8m-4.8 8.2h4.8M758.7 784l8.2 8.2m-8.2 0 8.2-8.2m-4.1 0v8.2m-2.4-8.2h4.8m-4.8 8.2h4.8M760.9 784.9l8.2 8.2m-8.2 0 8.2-8.2m-4.1 0v8.2m-2.4-8.2h4.8m-4.8 8.2h4.8M763 786.7l8.2 8.2m-8.2 0 8.2-8.2m-4.1 0v8.2m-2.4-8.2h4.8m-4.8 8.2h4.8M765.1 788.9l8.2 8.2m-8.2 0 8.2-8.2m-4.1 0v8.2m-2.4-8.2h4.8m-4.8 8.2h4.8M767.1 791.2l8.2 8.2m-8.2 0 8.2-8.2m-4.1 0v8.2m-2.4-8.2h4.8m-4.8 8.2h4.8M769 793.4l8.2 8.2m-8.2 0 8.2-8.2m-4.1 0v8.2m-2.4-8.2h4.8m-4.8 8.2h4.8M774.5 821.7l8.2 8.2m-8.2 0 8.2-8.2m-4.1 0v8.2m-2.4-8.2h4.8m-4.8 8.2h4.8M780.7 870.8l8.2 8.2m-8.2 0 8.2-8.2m-4.1 0v8.2m-2.4-8.2h4.8m-4.8 8.2h4.8"/>
<path fill="none" stroke="#56b4e9" stroke-width="1.1" d="M344 946.4v9.2m-4.2-7.2 8.4 5.2m-8.4 0 8.4-5.2m-6.4-2h4.4m-4.4 9.2h4.4M353.2 934.3v9.2m-4.2-7.2 8.4 5.2m-8.4 0 8.4-5.2m-6.4-2h4.4m-4.4 9.2h4.4M362.3 918.3v9.2m-4.2-7.2 8.4 5.2m-8.4 0 8.4-5.2m-6.4-2h4.4m-4.4 9.2h4.4M371.4 903.7v9.2m-4.2-7.2 8.4 5.2m-8.4 0 8.4-5.2m-6.4-2h4.4m-4.4 9.2h4.4M380.4 890.6v9.2m-4.2-7.2 8.4 5.2m-8.4 0 8.4-5.2m-6.4-2h4.4m-4.4 9.2h4.4M388.9 880.5v9.2m-4.2-7.2 8.4 5.2m-8.4 0 8.4-5.2m-6.4-2h4.4m-4.4 9.2h4.4M397.3 871.8v9.2m-4.2-7.2 8.4 5.2m-8.4 0 8.4-5.2m-6.4-2h4.4m-4.4 9.2h4.4M405.3 860.9v9.2m-4.2-7.2 8.4 5.2m-8.4 0 8.4-5.2m-6.4-2h4.4m-4.4 9.2h4.4M413.1 854.5v9.2m-4.2-7.2 8.4 5.2m-8.4 0 8.4-5.2m-6.4-2h4.4m-4.4 9.2h4.4M420.8 844.1v9.2m-4.2-7.2 8.4 5.2m-8.4 0 8.4-5.2m-6.4-2h4.4m-4.4 9.2h4.4M428.3 835.8v9.2m-4.2-7.2 8.4 5.2m-8.4 0 8.4-5.2m-6.4-2h4.4m-4.4 9.2h4.4M435.4 830v9.2m-4.2-7.2 8.4 5.2m-8.4 0 8.4-5.2m-6.4-2h4.4m-4.4 9.2h4.4M442.7 824.2v9.2m-4.2-7.2 8.4 5.2m-8.4 0 8.4-5.2m-6.4-2h4.4m-4.4 9.2h4.4M449.4 818.7v9.2m-4.2-7.2 8.4 5.2m-8.4 0 8.4-5.2m-6.4-2h4.4m-4.4 9.2h4.4M456.1 813.8v9.2m-4.2-7.2 8.4 5.2m-8.4 0 8.4-5.2m-6.4-2h4.4m-4.4 9.2h4.4M462.6 811v9.2m-4.2-7.2 8.4 5.2m-8.4 0 8.4-5.2m-6.4-2h4.4m-4.4 9.2h4.4M469 807.8v9.2m-4.2-7.2 8.4 5.2m-8.4 0 8.4-5.2m-6.4-2h4.4m-4.4 9.2h4.4M475.3 803.6v9.2m-4.2-7.2 8.4 5.2m-8.4 0 8.4-5.2m-6.4-2h4.4m-4.4 9.2h4.4M481.4 806.6v9.2m-4.2-7.2 8.4 5.2m-8.4 0 8.4-5.2m-6.4-2h4.4m-4.4 9.2h4.4M487.2 811.7v9.2m-4.2-7.2 8.4 5.2m-8.4 0 8.4-5.2m-6.4-2h4.4m-4.4 9.2h4.4M492.8 815v9.2m-4.2-7.2 8.4 5.2m-8.4 0 8.4-5.2m-6.4-2h4.4m-4.4 9.2h4.4M498.2 820.7v9.2m-4.2-7.2 8.4 5.2m-8.4 0 8.4-5.2m-6.4-2h4.4m-4.4 9.2h4.4M503.2 826.3v9.2m-4.2-7.2 8.4 5.2m-8.4 0 8.4-5.2m-6.4-2h4.4m-4.4 9.2h4.4M508.2 833.2v9.2m-4.2-7.2 8.4 5.2m-8.4 0 8.4-5.2m-6.4-2h4.4m-4.4 9.2h4.4M512.7 848.1v9.2m-4.2-7.2 8.4 5.2m-8.4 0 8.4-5.2m-6.4-2h4.4m-4.4 9.2h4.4M517.3 859.5v9.2m-4.2-7.2 8.4 5.2m-8.4 0 8.4-5.2m-6.4-2h4.4m-4.4 9.2h4.4M521.8 867.4v9.2m-4.2-7.2 8.4 5.2m-8.4 0 8.4-5.2m-6.4-2h4.4m-4.4 9.2h4.4M526.1 875.3v9.2m-4.2-7.2 8.4 5.2m-8.4 0 8.4-5.2m-6.4-2h4.4m-4.4 9.2h4.4M530.4 884.1v9.2m-4.2-7.2 8.4 5.2m-8.4 0 8.4-5.2m-6.4-2h4.4m-4.4 9.2h4.4M534.5 892.1v9.2m-4.2-7.2 8.4 5.2m-8.4 0 8.4-5.2m-6.4-2h4.4m-4.4 9.2h4.4M538.4 898v9.2m-4.2-7.2 8.4 5.2m-8.4 0 8.4-5.2m-6.4-2h4.4m-4.4 9.2h4.4M542.2 903.6v9.2m-4.2-7.2 8.4 5.2m-8.4 0 8.4-5.2m-6.4-2h4.4m-4.4 9.2h4.4M545.9 909.2v9.2m-4.2-7.2 8.4 5.2m-8.4 0 8.4-5.2m-6.4-2h4.4m-4.4 9.2h4.4M549.6 914.4v9.2m-4.2-7.2 8.4 5.2m-8.4 0 8.4-5.2m-6.4-2h4.4m-4.4 9.2h4.4M553.1 918.7v9.2m-4.2-7.2 8.4 5.2m-8.4 0 8.4-5.2m-6.4-2h4.4m-4.4 9.2h4.4M556.5 922.5v9.2m-4.2-7.2 8.4 5.2m-8.4 0 8.4-5.2m-6.4-2h4.4m-4.4 9.2h4.4M559.7 925.6v9.2m-4.2-7.2 8.4 5.2m-8.4 0 8.4-5.2m-6.4-2h4.4m-4.4 9.2h4.4M563 929.2v9.2m-4.2-7.2 8.4 5.2m-8.4 0 8.4-5.2m-6.4-2h4.4m-4.4 9.2h4.4M566 933.1v9.2m-4.2-7.2 8.4 5.2m-8.4 0 8.4-5.2m-6.4-2h4.4m-4.4 9.2h4.4M569 936.6v9.2m-4.2-7.2 8.4 5.2m-8.4 0 8.4-5.2m-6.4-2h4.4m-4.4 9.2h4.4M572 939.2v9.2m-4.2-7.2 8.4 5.2m-8.4 0 8.4-5.2m-6.4-2h4.4m-4.4 9.2h4.4M574.8 941v9.2m-4.2-7.2 8.4 5.2m-8.4 0 8.4-5.2m-6.4-2h4.4m-4.4 9.2h4.4M577.6 942.9v9.2m-4.2-7.2 8.4 5.2m-8.4 0 8.4-5.2m-6.4-2h4.4m-4.4 9.2h4.4M580.3 944.4v9.2m-4.2-7.2 8.4 5.2m-8.4 0 8.4-5.2m-6.4-2h4.4m-4.4 9.2h4.4M582.9 945.2v9.2m-4.2-7.2 8.4 5.2m-8.4 0 8.4-5.2m-6.4-2h4.4m-4.4 9.2h4.4M585.5 945.5v9.2m-4.2-7.2 8.4 5.2m-8.4 0 8.4-5.2m-6.4-2h4.4m-4.4 9.2h4.4M588.4 945.6v9.2m-4.2-7.2 8.4 5.2m-8.4 0 8.4-5.2m-6.4-2h4.4m-4.4 9.2h4.4M591.1 945.6v9.2m-4.2-7.2 8.4 5.2m-8.4 0 8.4-5.2m-6.4-2h4.4m-4.4 9.2h4.4M593.9 945.6v9.2m-4.2-7.2 8.4 5.2m-8.4 0 8.4-5.2m-6.4-2h4.4m-4.4 9.2h4.4M596.7 945.4v9.2m-4.2-7.2 8.4 5.2m-8.4 0 8.4-5.2m-6.4-2h4.4m-4.4 9.2h4.4M599.2 945.3v9.2m-4.2-7.2 8.4 5.2m-8.4 0 8.4-5.2m-6.4-2h4.4m-4.4 9.2h4.4M601.8 945.1v9.2m-4.2-7.2 8.4 5.2m-8.4 0 8.4-5.2m-6.4-2h4.4m-4.4 9.2h4.4M604.4 944.9v9.2m-4.2-7.2 8.4 5.2m-8.4 0 8.4-5.2m-6.4-2h4.4m-4.4 9.2h4.4M607.1 944.5v9.2m-4.2-7.2 8.4 5.2m-8.4 0 8.4-5.2m-6.4-2h4.4m-4.4 9.2h4.4M609.7 944.1v9.2m-4.2-7.2 8.4 5.2m-8.4 0 8.4-5.2m-6.4-2h4.4m-4.4 9.2h4.4M612.2 943.6v9.2m-4.2-7.2 8.4 5.2m-8.4 0 8.4-5.2m-6.4-2h4.4m-4.4 9.2h4.4M614.8 943v9.2m-4.2-7.2 8.4 5.2m-8.4 0 8.4-5.2m-6.4-2h4.4m-4.4 9.2h4.4M617.3 942.4v9.2m-4.2-7.2 8.4 5.2m-8.4 0 8.4-5.2m-6.4-2h4.4m-4.4 9.2h4.4M619.9 941.6v9.2m-4.2-7.2 8.4 5.2m-8.4 0 8.4-5.2m-6.4-2h4.4m-4.4 9.2h4.4M622.4 940.8v9.2m-4.2-7.2 8.4 5.2m-8.4 0 8.4-5.2m-6.4-2h4.4m-4.4 9.2h4.4M625 939.7v9.2m-4.2-7.2 8.4 5.2m-8.4 0 8.4-5.2m-6.4-2h4.4m-4.4 9.2h4.4M627.5 938.6v9.2m-4.2-7.2 8.4 5.2m-8.4 0 8.4-5.2m-6.4-2h4.4m-4.4 9.2h4.4M630.1 937.3v9.2m-4.2-7.2 8.4 5.2m-8.4 0 8.4-5.2m-6.4-2h4.4m-4.4 9.2h4.4M632.6 936v9.2m-4.2-7.2 8.4 5.2m-8.4 0 8.4-5.2m-6.4-2h4.4m-4.4 9.2h4.4M635.2 934.4v9.2m-4.2-7.2 8.4 5.2m-8.4 0 8.4-5.2m-6.4-2h4.4m-4.4 9.2h4.4M637.7 932.8v9.2m-4.2-7.2 8.4 5.2m-8.4 0 8.4-5.2m-6.4-2h4.4m-4.4 9.2h4.4M640.3 930.9v9.2m-4.2-7.2 8.4 5.2m-8.4 0 8.4-5.2m-6.4-2h4.4m-4.4 9.2h4.4M642.8 928.8v9.2m-4.2-7.2 8.4 5.2m-8.4 0 8.4-5.2m-6.4-2h4.4m-4.4 9.2h4.4M645.4 926.5v9.2m-4.2-7.2 8.4 5.2m-8.4 0 8.4-5.2m-6.4-2h4.4m-4.4 9.2h4.4M648 924.1v9.2m-4.2-7.2 8.4 5.2m-8.4 0 8.4-5.2m-6.4-2h4.4m-4.4 9.2h4.4M650.5 921.4v9.2m-4.2-7.2 8.4 5.2m-8.4 0 8.4-5.2m-6.4-2h4.4m-4.4 9.2h4.4M653.1 918.7v9.2m-4.2-7.2 8.4 5.2m-8.4 0 8.4-5.2m-6.4-2h4.4m-4.4 9.2h4.4M655.7 915.9v9.2m-4.2-7.2 8.4 5.2m-8.4 0 8.4-5.2m-6.4-2h4.4m-4.4 9.2h4.4M658.2 913.1v9.2m-4.2-7.2 8.4 5.2m-8.4 0 8.4-5.2m-6.4-2h4.4m-4.4 9.2h4.4M660.8 910.1v9.2m-4.2-7.2 8.4 5.2m-8.4 0 8.4-5.2m-6.4-2h4.4m-4.4 9.2h4.4M663.3 907v9.2m-4.2-7.2 8.4 5.2m-8.4 0 8.4-5.2m-6.4-2h4.4m-4.4 9.2h4.4M665.9 903.9v9.2m-4.2-7.2 8.4 5.2m-8.4 0 8.4-5.2m-6.4-2h4.4m-4.4 9.2h4.4M668.4 900.8v9.2m-4.2-7.2 8.4 5.2m-8.4 0 8.4-5.2m-6.4-2h4.4m-4.4 9.2h4.4M671 897.6v9.2m-4.2-7.2 8.4 5.2m-8.4 0 8.4-5.2m-6.4-2h4.4m-4.4 9.2h4.4M673.5 894.6v9.2m-4.2-7.2 8.4 5.2m-8.4 0 8.4-5.2m-6.4-2h4.4m-4.4 9.2h4.4M676.1 891.6v9.2m-4.2-7.2 8.4 5.2m-8.4 0 8.4-5.2m-6.4-2h4.4m-4.4 9.2h4.4M678.7 888.6v9.2m-4.2-7.2 8.4 5.2m-8.4 0 8.4-5.2m-6.4-2h4.4m-4.4 9.2h4.4M681.2 885.6v9.2m-4.2-7.2 8.4 5.2m-8.4 0 8.4-5.2m-6.4-2h4.4m-4.4 9.2h4.4M683.8 882.5v9.2m-4.2-7.2 8.4 5.2m-8.4 0 8.4-5.2m-6.4-2h4.4m-4.4 9.2h4.4M686.4 879.3v9.2m-4.2-7.2 8.4 5.2m-8.4 0 8.4-5.2m-6.4-2h4.4m-4.4 9.2h4.4M688.9 876v9.2m-4.2-7.2 8.4 5.2m-8.4 0 8.4-5.2m-6.4-2h4.4m-4.4 9.2h4.4M691.5 872.5v9.2m-4.2-7.2 8.4 5.2m-8.4 0 8.4-5.2m-6.4-2h4.4m-4.4 9.2h4.4M694 868.9v9.2m-4.2-7.2 8.4 5.2m-8.4 0 8.4-5.2m-6.4-2h4.4m-4.4 9.2h4.4M696.6 865.2v9.2m-4.2-7.2 8.4 5.2m-8.4 0 8.4-5.2m-6.4-2h4.4m-4.4 9.2h4.4M699.1 861.6v9.2m-4.2-7.2 8.4 5.2m-8.4 0 8.4-5.2m-6.4-2h4.4m-4.4 9.2h4.4M701.7 857.9v9.2m-4.2-7.2 8.4 5.2m-8.4 0 8.4-5.2m-6.4-2h4.4m-4.4 9.2h4.4M704.2 854.3v9.2m-4.2-7.2 8.4 5.2m-8.4 0 8.4-5.2m-6.4-2h4.4m-4.4 9.2h4.4M706.9 850.8v9.2m-4.2-7.2 8.4 5.2m-8.4 0 8.4-5.2m-6.4-2h4.4m-4.4 9.2h4.4M709 847.9v9.2m-4.2-7.2 8.4 5.2m-8.4 0 8.4-5.2m-6.4-2h4.4m-4.4 9.2h4.4M711.1 845v9.2m-4.2-7.2 8.4 5.2m-8.4 0 8.4-5.2m-6.4-2h4.4m-4.4 9.2h4.4M713.1 842.2v9.2m-4.2-7.2 8.4 5.2m-8.4 0 8.4-5.2m-6.4-2h4.4m-4.4 9.2h4.4M715.1 839.3v9.2m-4.2-7.2 8.4 5.2m-8.4 0 8.4-5.2m-6.4-2h4.4m-4.4 9.2h4.4M717.5 835.7v9.2m-4.2-7.2 8.4 5.2m-8.4 0 8.4-5.2m-6.4-2h4.4m-4.4 9.2h4.4M719.8 832.1v9.2m-4.2-7.2 8.4 5.2m-8.4 0 8.4-5.2m-6.4-2h4.4m-4.4 9.2h4.4M721.9 828.4v9.2m-4.2-7.2 8.4 5.2m-8.4 0 8.4-5.2m-6.4-2h4.4m-4.4 9.2h4.4M723.9 824.7v9.2m-4.2-7.2 8.4 5.2m-8.4 0 8.4-5.2m-6.4-2h4.4m-4.4 9.2h4.4M725.9 821.1v9.2m-4.2-7.2 8.4 5.2m-8.4 0 8.4-5.2m-6.4-2h4.4m-4.4 9.2h4.4M727.9 817.6v9.2m-4.2-7.2 8.4 5.2m-8.4 0 8.4-5.2m-6.4-2h4.4m-4.4 9.2h4.4M729.9 814.2v9.2m-4.2-7.2 8.4 5.2m-8.4 0 8.4-5.2m-6.4-2h4.4m-4.4 9.2h4.4M731.9 811.1v9.2m-4.2-7.2 8.4 5.2m-8.4 0 8.4-5.2m-6.4-2h4.4m-4.4 9.2h4.4M734 808.1v9.2m-4.2-7.2 8.4 5.2m-8.4 0 8.4-5.2m-6.4-2h4.4m-4.4 9.2h4.4M736 805.1v9.2m-4.2-7.2 8.4 5.2m-8.4 0 8.4-5.2m-6.4-2h4.4m-4.4 9.2h4.4M738.1 802.4v9.2m-4.2-7.2 8.4 5.2m-8.4 0 8.4-5.2m-6.4-2h4.4m-4.4 9.2h4.4M740.1 799.7v9.2m-4.2-7.2 8.4 5.2m-8.4 0 8.4-5.2m-6.4-2h4.4m-4.4 9.2h4.4M742.2 797.2v9.2m-4.2-7.2 8.4 5.2m-8.4 0 8.4-5.2m-6.4-2h4.4m-4.4 9.2h4.4M744.3 794.7v9.2m-4.2-7.2 8.4 5.2m-8.4 0 8.4-5.2m-6.4-2h4.4m-4.4 9.2h4.4M746.4 792.3v9.2m-4.2-7.2 8.4 5.2m-8.4 0 8.4-5.2m-6.4-2h4.4m-4.4 9.2h4.4M748.5 790v9.2m-4.2-7.2 8.4 5.2m-8.4 0 8.4-5.2m-6.4-2h4.4m-4.4 9.2h4.4M750.6 787.9v9.2m-4.2-7.2 8.4 5.2m-8.4 0 8.4-5.2m-6.4-2h4.4m-4.4 9.2h4.4M752.6 786.1v9.2m-4.2-7.2 8.4 5.2m-8.4 0 8.4-5.2m-6.4-2h4.4m-4.4 9.2h4.4M754.4 784.6v9.2m-4.2-7.2 8.4 5.2m-8.4 0 8.4-5.2m-6.4-2h4.4m-4.4 9.2h4.4M756.5 783.4v9.2m-4.2-7.2 8.4 5.2m-8.4 0 8.4-5.2m-6.4-2h4.4m-4.4 9.2h4.4M758.4 782.6v9.2m-4.2-7.2 8.4 5.2m-8.4 0 8.4-5.2m-6.4-2h4.4m-4.4 9.2h4.4M760.5 782.2v9.2m-4.2-7.2 8.4 5.2m-8.4 0 8.4-5.2m-6.4-2h4.4m-4.4 9.2h4.4M762.5 782.4v9.2m-4.2-7.2 8.4 5.2m-8.4 0 8.4-5.2m-6.4-2h4.4m-4.4 9.2h4.4M764.6 783.2v9.2m-4.2-7.2 8.4 5.2m-8.4 0 8.4-5.2m-6.4-2h4.4m-4.4 9.2h4.4M766.7 784.8v9.2m-4.2-7.2 8.4 5.2m-8.4 0 8.4-5.2m-6.4-2h4.4m-4.4 9.2h4.4M768.9 787v9.2m-4.2-7.2 8.4 5.2m-8.4 0 8.4-5.2m-6.4-2h4.4m-4.4 9.2h4.4M770.9 789.3v9.2m-4.2-7.2 8.4 5.2m-8.4 0 8.4-5.2m-6.4-2h4.4m-4.4 9.2h4.4M772.9 791.7v9.2m-4.2-7.2 8.4 5.2m-8.4 0 8.4-5.2m-6.4-2h4.4m-4.4 9.2h4.4M779.4 815.9v9.2m-4.2-7.2 8.4 5.2m-8.4 0 8.4-5.2m-6.4-2h4.4m-4.4 9.2h4.4M784.8 861.1v9.2m-4.2-7.2 8.4 5.2m-8.4 0 8.4-5.2m-6.4-2h4.4m-4.4 9.2h4.4"/>
<path fill="none" stroke="#e69f00" stroke-width="1.0" d="M277.7 1034.6h7.6v7.6h-7.6zm3.8 0v7.6m-3.8-3.8h7.6M287.8 1023.5h7.6v7.6h-7.6zm3.8 0v7.6m-3.8-3.8h7.6M297.5 1012.1h7.6v7.6h-7.6zm3.8 0v7.6m-3.8-3.8h7.6M307.4 998.2h7.6v7.6h-7.6zm3.8 0v7.6m-3.8-3.8h7.6M317.1 984.2h7.6v7.6h-7.6zm3.8 0v7.6m-3.8-3.8h7.6M326.4 970.9h7.6v7.6h-7.6zm3.8 0v7.6m-3.8-3.8h7.6M335.8 956.1h7.6v7.6h-7.6zm3.8 0v7.6m-3.8-3.8h7.6M344.9 939.6h7.6v7.6h-7.6zm3.8 0v7.6m-3.8-3.8h7.6M353.9 922.7h7.6v7.6h-7.6zm3.8 0v7.6m-3.8-3.8h7.6M362.9 905.3h7.6v7.6h-7.6zm3.8 0v7.6m-3.8-3.8h7.6M371.5 890.6h7.6v7.6h-7.6zm3.8 0v7.6m-3.8-3.8h7.6M380.3 876.4h7.6v7.6h-7.6zm3.8 0v7.6m-3.8-3.8h7.6M388.6 863.5h7.6v7.6h-7.6zm3.8 0v7.6m-3.8-3.8h7.6M396.6 853.5h7.6v7.6h-7.6zm3.8 0v7.6m-3.8-3.8h7.6M404.7 845.7h7.6v7.6h-7.6zm3.8 0v7.6m-3.8-3.8h7.6M412.5 839.4h7.6v7.6h-7.6zm3.8 0v7.6m-3.8-3.8h7.6M420.1 832.3h7.6v7.6h-7.6zm3.8 0v7.6m-3.8-3.8h7.6M427.5 826.6h7.6v7.6h-7.6zm3.8 0v7.6m-3.8-3.8h7.6M434.5 823h7.6v7.6h-7.6zm3.8 0v7.6m-3.8-3.8h7.6M441.4 820.6h7.6v7.6h-7.6zm3.8 0v7.6m-3.8-3.8h7.6M448 817.8h7.6v7.6h-7.6zm3.8 0v7.6m-3.8-3.8h7.6M454.6 819.8h7.6v7.6h-7.6zm3.8 0v7.6m-3.8-3.8h7.6M461 822.2h7.6v7.6h-7.6zm3.8 0v7.6m-3.8-3.8h7.6M467.4 824h7.6v7.6h-7.6zm3.8 0v7.6m-3.8-3.8h7.6M473.5 825.5h7.6v7.6h-7.6zm3.8 0v7.6m-3.8-3.8h7.6M479.4 831.6h7.6v7.6h-7.6zm3.8 0v7.6m-3.8-3.8h7.6M485.2 839.8h7.6v7.6h-7.6zm3.8 0v7.6m-3.8-3.8h7.6M490.7 848.3h7.6v7.6h-7.6zm3.8 0v7.6m-3.8-3.8h7.6M496 855.6h7.6v7.6h-7.6zm3.8 0v7.6m-3.8-3.8h7.6M501.1 862.2h7.6v7.6h-7.6zm3.8 0v7.6m-3.8-3.8h7.6M506.1 868.3h7.6v7.6h-7.6zm3.8 0v7.6m-3.8-3.8h7.6M510.9 876.3h7.6v7.6h-7.6zm3.8 0v7.6m-3.8-3.8h7.6M515.6 882.5h7.6v7.6h-7.6zm3.8 0v7.6m-3.8-3.8h7.6M520.2 888.3h7.6v7.6h-7.6zm3.8 0v7.6m-3.8-3.8h7.6M524.7 893.7h7.6v7.6h-7.6zm3.8 0v7.6m-3.8-3.8h7.6M529.1 898.1h7.6v7.6h-7.6zm3.8 0v7.6m-3.8-3.8h7.6M533.3 901.2h7.6v7.6h-7.6zm3.8 0v7.6m-3.8-3.8h7.6M537.6 903.6h7.6v7.6h-7.6zm3.8 0v7.6m-3.8-3.8h7.6M541.8 906.1h7.6v7.6h-7.6zm3.8 0v7.6m-3.8-3.8h7.6M545.7 908.3h7.6v7.6h-7.6zm3.8 0v7.6m-3.8-3.8h7.6M549.7 910.5h7.6v7.6h-7.6zm3.8 0v7.6m-3.8-3.8h7.6M553.4 912.3h7.6v7.6h-7.6zm3.8 0v7.6m-3.8-3.8h7.6M557.1 914.1h7.6v7.6h-7.6zm3.8 0v7.6m-3.8-3.8h7.6M560.8 915.7h7.6v7.6h-7.6zm3.8 0v7.6m-3.8-3.8h7.6M564.1 917h7.6v7.6h-7.6zm3.8 0v7.6m-3.8-3.8h7.6M567.3 918h7.6v7.6h-7.6zm3.8 0v7.6m-3.8-3.8h7.6M570.6 918.9h7.6v7.6h-7.6zm3.8 0v7.6m-3.8-3.8h7.6M573.8 919.6h7.6v7.6h-7.6zm3.8 0v7.6m-3.8-3.8h7.6M577 920.3h7.6v7.6h-7.6zm3.8 0v7.6m-3.8-3.8h7.6M580.1 921.2h7.6v7.6h-7.6zm3.8 0v7.6m-3.8-3.8h7.6M583 922.1h7.6v7.6h-7.6zm3.8 0v7.6m-3.8-3.8h7.6M585.9 923h7.6v7.6h-7.6zm3.8 0v7.6m-3.8-3.8h7.6M588.8 924h7.6v7.6h-7.6zm3.8 0v7.6m-3.8-3.8h7.6M591.5 924.8h7.6v7.6h-7.6zm3.8 0v7.6m-3.8-3.8h7.6M594.4 925.7h7.6v7.6h-7.6zm3.8 0v7.6m-3.8-3.8h7.6M597.5 926.7h7.6v7.6h-7.6zm3.8 0v7.6m-3.8-3.8h7.6M600.1 927.5h7.6v7.6h-7.6zm3.8 0v7.6m-3.8-3.8h7.6M602.7 928.3h7.6v7.6h-7.6zm3.8 0v7.6m-3.8-3.8h7.6M605.4 929h7.6v7.6h-7.6zm3.8 0v7.6m-3.8-3.8h7.6M607.9 929.7h7.6v7.6h-7.6zm3.8 0v7.6m-3.8-3.8h7.6M610.5 930.4h7.6v7.6h-7.6zm3.8 0v7.6m-3.8-3.8h7.6M613.2 931h7.6v7.6h-7.6zm3.8 0v7.6m-3.8-3.8h7.6M615.8 931.7h7.6v7.6h-7.6zm3.8 0v7.6m-3.8-3.8h7.6M618.3 932.2h7.6v7.6h-7.6zm3.8 0v7.6m-3.8-3.8h7.6M621.3 932.5h7.6v7.6h-7.6zm3.8 0v7.6m-3.8-3.8h7.6M624 932.4h7.6v7.6h-7.6zm3.8 0v7.6m-3.8-3.8h7.6M626.5 932.2h7.6v7.6h-7.6zm3.8 0v7.6m-3.8-3.8h7.6M629.3 931.5h7.6v7.6h-7.6zm3.8 0v7.6m-3.8-3.8h7.6M632.1 930.5h7.6v7.6h-7.6zm3.8 0v7.6m-3.8-3.8h7.6M634.9 929.2h7.6v7.6h-7.6zm3.8 0v7.6m-3.8-3.8h7.6M637.8 927.5h7.6v7.6h-7.6zm3.8 0v7.6m-3.8-3.8h7.6M640.7 925.5h7.6v7.6h-7.6zm3.8 0v7.6m-3.8-3.8h7.6M643.5 923.1h7.6v7.6h-7.6zm3.8 0v7.6m-3.8-3.8h7.6M646.4 920.6h7.6v7.6h-7.6zm3.8 0v7.6m-3.8-3.8h7.6M649.2 917.8h7.6v7.6h-7.6zm3.8 0v7.6m-3.8-3.8h7.6M652.1 914.6h7.6v7.6h-7.6zm3.8 0v7.6m-3.8-3.8h7.6M654.9 911.3h7.6v7.6h-7.6zm3.8 0v7.6m-3.8-3.8h7.6M657.8 907.9h7.6v7.6h-7.6zm3.8 0v7.6m-3.8-3.8h7.6M660.6 904.4h7.6v7.6h-7.6zm3.8 0v7.6m-3.8-3.8h7.6M663.5 900.9h7.6v7.6h-7.6zm3.8 0v7.6m-3.8-3.8h7.6M666.4 897.2h7.6v7.6h-7.6zm3.8 0v7.6m-3.8-3.8h7.6M669.2 893.6h7.6v7.6h-7.6zm3.8 0v7.6m-3.8-3.8h7.6M672.1 890h7.6v7.6h-7.6zm3.8 0v7.6m-3.8-3.8h7.6M675 886.4h7.6v7.6h-7.6zm3.8 0v7.6m-3.8-3.8h7.6M677.9 882.8h7.6v7.6h-7.6zm3.8 0v7.6m-3.8-3.8h7.6M680.7 879.3h7.6v7.6h-7.6zm3.8 0v7.6m-3.8-3.8h7.6M683.6 875.7h7.6v7.6h-7.6zm3.8 0v7.6m-3.8-3.8h7.6M686.5 872.2h7.6v7.6h-7.6zm3.8 0v7.6m-3.8-3.8h7.6M689.3 868.8h7.6v7.6h-7.6zm3.8 0v7.6m-3.8-3.8h7.6M692.1 865.3h7.6v7.6h-7.6zm3.8 0v7.6m-3.8-3.8h7.6M695 861.6h7.6v7.6h-7.6zm3.8 0v7.6m-3.8-3.8h7.6M697.4 858h7.6v7.6h-7.6zm3.8 0v7.6m-3.8-3.8h7.6M699.9 854h7.6v7.6h-7.6zm3.8 0v7.6m-3.8-3.8h7.6M702.4 849.9h7.6v7.6h-7.6zm3.8 0v7.6m-3.8-3.8h7.6M704.8 845.7h7.6v7.6h-7.6zm3.8 0v7.6m-3.8-3.8h7.6M707.3 841.7h7.6v7.6h-7.6zm3.8 0v7.6m-3.8-3.8h7.6M709.7 837.9h7.6v7.6h-7.6zm3.8 0v7.6m-3.8-3.8h7.6M712.2 834.2h7.6v7.6h-7.6zm3.8 0v7.6m-3.8-3.8h7.6M714.7 830.6h7.6v7.6h-7.6zm3.8 0v7.6m-3.8-3.8h7.6M717.1 827h7.6v7.6h-7.6zm3.8 0v7.6m-3.8-3.8h7.6M719.6 823.3h7.6v7.6h-7.6zm3.8 0v7.6m-3.8-3.8h7.6M722 819.4h7.6v7.6h-7.6zm3.8 0v7.6m-3.8-3.8h7.6M724.5 815.3h7.6v7.6h-7.6zm3.8 0v7.6m-3.8-3.8h7.6M727 811.1h7.6v7.6h-7.6zm3.8 0v7.6m-3.8-3.8h7.6M729.4 807h7.6v7.6h-7.6zm3.8 0v7.6m-3.8-3.8h7.6M731.8 803.3h7.6v7.6h-7.6zm3.8 0v7.6m-3.8-3.8h7.6M734.1 799.9h7.6v7.6h-7.6zm3.8 0v7.6m-3.8-3.8h7.6M736.3 796.8h7.6v7.6h-7.6zm3.8 0v7.6m-3.8-3.8h7.6M738.4 794h7.6v7.6h-7.6zm3.8 0v7.6m-3.8-3.8h7.6M740.6 791.4h7.6v7.6h-7.6zm3.8 0v7.6m-3.8-3.8h7.6M742.7 789h7.6v7.6h-7.6zm3.8 0v7.6m-3.8-3.8h7.6M744.8 786.9h7.6v7.6h-7.6zm3.8 0v7.6m-3.8-3.8h7.6M746.9 784.9h7.6v7.6h-7.6zm3.8 0v7.6m-3.8-3.8h7.6M749 783.1h7.6v7.6h-7.6zm3.8 0v7.6m-3.8-3.8h7.6M751.1 781.7h7.6v7.6h-7.6zm3.8 0v7.6m-3.8-3.8h7.6M753.3 780.8h7.6v7.6h-7.6zm3.8 0v7.6m-3.8-3.8h7.6M755.8 780.5h7.6v7.6h-7.6zm3.8 0v7.6m-3.8-3.8h7.6M758.1 780.8h7.6v7.6h-7.6zm3.8 0v7.6m-3.8-3.8h7.6M760.4 781.5h7.6v7.6h-7.6zm3.8 0v7.6m-3.8-3.8h7.6M762.7 782.3h7.6v7.6h-7.6zm3.8 0v7.6m-3.8-3.8h7.6M765 783.2h7.6v7.6h-7.6zm3.8 0v7.6m-3.8-3.8h7.6M775.6 805.9h7.6v7.6h-7.6zm3.8 0v7.6m-3.8-3.8h7.6M782.5 845.8h7.6v7.6h-7.6zm3.8 0v7.6m-3.8-3.8h7.6"/>
<path fill="#eee03c" stroke="none" d="M167.2 1141.5h7.8v7.8h-7.8zM178.7 1128.2h7.8v7.8h-7.8zM190.4 1115.4h7.8v7.8h-7.8zM202.2 1101.6h7.8v7.8h-7.8zM214.3 1086.2h7.8v7.8h-7.8zM226.5 1069.3h7.8v7.8h-7.8zM238.5 1053.7h7.8v7.8h-7.8zM250.5 1038.9h7.8v7.8h-7.8zM262.5 1024.9h7.8v7.8h-7.8zM274.5 1008.5h7.8v7.8h-7.8zM286.5 992.3h7.8v7.8h-7.8zM298.1 976.9h7.8v7.8h-7.8zM309.6 961.5h7.8v7.8h-7.8zM320.8 948.3h7.8v7.8h-7.8zM331.9 935.1h7.8v7.8h-7.8zM342.8 921.8h7.8v7.8h-7.8zM353.4 909.4h7.8v7.8h-7.8zM363.9 900.6h7.8v7.8h-7.8zM374.5 889.9h7.8v7.8h-7.8zM384.6 882.4h7.8v7.8h-7.8zM394.4 876.9h7.8v7.8h-7.8zM403.8 871.3h7.8v7.8h-7.8zM412.8 866.8h7.8v7.8h-7.8zM421.7 865h7.8v7.8h-7.8zM430.4 862h7.8v7.8h-7.8zM438.7 860.5h7.8v7.8h-7.8zM446.7 858.7h7.8v7.8h-7.8zM454.5 857.1h7.8v7.8h-7.8zM462 856.2h7.8v7.8h-7.8zM469.5 855.3h7.8v7.8h-7.8zM477.2 854h7.8v7.8h-7.8zM484.3 852.4h7.8v7.8h-7.8zM491.3 850.8h7.8v7.8h-7.8zM497.6 849.7h7.8v7.8h-7.8zM503.9 849.7h7.8v7.8h-7.8zM510.1 850.4h7.8v7.8h-7.8zM516.2 851.5h7.8v7.8h-7.8zM522.1 852.8h7.8v7.8h-7.8zM527.9 854.4h7.8v7.8h-7.8zM533.1 856h7.8v7.8h-7.8zM538.3 857.8h7.8v7.8h-7.8zM543.5 859.7h7.8v7.8h-7.8zM548.1 861.4h7.8v7.8h-7.8zM552.8 863.5h7.8v7.8h-7.8zM557.4 865.9h7.8v7.8h-7.8zM562 868.7h7.8v7.8h-7.8zM566 871.3h7.8v7.8h-7.8zM570.1 873.7h7.8v7.8h-7.8zM574.1 875.9h7.8v7.8h-7.8zM578.1 877.8h7.8v7.8h-7.8zM582.2 879.6h7.8v7.8h-7.8zM585.6 881h7.8v7.8h-7.8zM589.1 882.5h7.8v7.8h-7.8zM592.7 884h7.8v7.8h-7.8zM596.3 885.5h7.8v7.8h-7.8zM599.9 887h7.8v7.8h-7.8zM603.4 888.3h7.8v7.8h-7.8zM606.8 889.4h7.8v7.8h-7.8zM610 890.4h7.8v7.8h-7.8zM613.6 891.3h7.8v7.8h-7.8zM617.1 892.1h7.8v7.8h-7.8zM620.6 892.5h7.8v7.8h-7.8zM624.1 892.4h7.8v7.8h-7.8zM627.7 891.9h7.8v7.8h-7.8zM631.3 891.2h7.8v7.8h-7.8zM634.8 890.2h7.8v7.8h-7.8zM638.4 889.1h7.8v7.8h-7.8zM642 887.9h7.8v7.8h-7.8zM645.6 886.6h7.8v7.8h-7.8zM649.2 885.1h7.8v7.8h-7.8zM652.8 883.3h7.8v7.8h-7.8zM656.4 881.2h7.8v7.8h-7.8zM659.9 878.7h7.8v7.8h-7.8zM663.5 876.1h7.8v7.8h-7.8zM667.1 873.3h7.8v7.8h-7.8zM670.7 870.4h7.8v7.8h-7.8zM674.3 867.3h7.8v7.8h-7.8zM677.9 864.1h7.8v7.8h-7.8zM681.5 860.7h7.8v7.8h-7.8zM685 857.2h7.8v7.8h-7.8zM688.6 853.4h7.8v7.8h-7.8zM692.2 849.6h7.8v7.8h-7.8zM695.7 845.5h7.8v7.8h-7.8zM698.8 841.9h7.8v7.8h-7.8zM701.9 838.1h7.8v7.8h-7.8zM705.1 834h7.8v7.8h-7.8zM708.2 829.8h7.8v7.8h-7.8zM711.2 825.7h7.8v7.8h-7.8zM714.1 821.9h7.8v7.8h-7.8zM717.2 817.8h7.8v7.8h-7.8zM720 813.9h7.8v7.8h-7.8zM722.8 810h7.8v7.8h-7.8zM725.6 806.2h7.8v7.8h-7.8zM728.5 802.2h7.8v7.8h-7.8zM731.3 798.1h7.8v7.8h-7.8zM734.2 794.1h7.8v7.8h-7.8zM737.1 790.2h7.8v7.8h-7.8zM739.9 786.7h7.8v7.8h-7.8zM742.8 783.4h7.8v7.8h-7.8zM745.6 780.2h7.8v7.8h-7.8zM748.5 777.6h7.8v7.8h-7.8zM751.3 775.7h7.8v7.8h-7.8zM754.2 774.6h7.8v7.8h-7.8zM757.1 774.3h7.8v7.8h-7.8zM760 774.3h7.8v7.8h-7.8zM762.8 774.4h7.8v7.8h-7.8zM765.6 774.5h7.8v7.8h-7.8zM768.6 774.9h7.8v7.8h-7.8zM771.3 775.4h7.8v7.8h-7.8zM774 775.9h7.8v7.8h-7.8zM777 785.9h7.8v7.8h-7.8zM783.9 815.8h7.8v7.8h-7.8z"/>
<path fill="none" stroke="#1f78c1" stroke-width="1.0" d="M154.4 1148.8a3.8 3.8 0 1 0 7.6 0a3.8 3.8 0 1 0-7.6 0zh7.6m-3.8-4.4v8.8M166.1 1135.5a3.8 3.8 0 1 0 7.6 0a3.8 3.8 0 1 0-7.6 0zh7.6m-3.8-4.4v8.8M177.7 1121.5a3.8 3.8 0 1 0 7.6 0a3.8 3.8 0 1 0-7.6 0zh7.6m-3.8-4.4v8.8M189.7 1107a3.8 3.8 0 1 0 7.6 0a3.8 3.8 0 1 0-7.6 0zh7.6m-3.8-4.4v8.8M201.7 1093a3.8 3.8 0 1 0 7.6 0a3.8 3.8 0 1 0-7.6 0zh7.6m-3.8-4.4v8.8M214 1078.5a3.8 3.8 0 1 0 7.6 0a3.8 3.8 0 1 0-7.6 0zh7.6m-3.8-4.4v8.8M226.4 1061.7a3.8 3.8 0 1 0 7.6 0a3.8 3.8 0 1 0-7.6 0zh7.6m-3.8-4.4v8.8M239 1048.3a3.8 3.8 0 1 0 7.6 0a3.8 3.8 0 1 0-7.6 0zh7.6m-3.8-4.4v8.8M251.2 1032.6a3.8 3.8 0 1 0 7.6 0a3.8 3.8 0 1 0-7.6 0zh7.6m-3.8-4.4v8.8M263.6 1016.5a3.8 3.8 0 1 0 7.6 0a3.8 3.8 0 1 0-7.6 0zh7.6m-3.8-4.4v8.8M275.6 1001.4a3.8 3.8 0 1 0 7.6 0a3.8 3.8 0 1 0-7.6 0zh7.6m-3.8-4.4v8.8M287.7 985a3.8 3.8 0 1 0 7.6 0a3.8 3.8 0 1 0-7.6 0zh7.6m-3.8-4.4v8.8M299.7 972.9a3.8 3.8 0 1 0 7.6 0a3.8 3.8 0 1 0-7.6 0zh7.6m-3.8-4.4v8.8M311.3 958.8a3.8 3.8 0 1 0 7.6 0a3.8 3.8 0 1 0-7.6 0zh7.6m-3.8-4.4v8.8M322.8 948.7a3.8 3.8 0 1 0 7.6 0a3.8 3.8 0 1 0-7.6 0zh7.6m-3.8-4.4v8.8M334.2 934.9a3.8 3.8 0 1 0 7.6 0a3.8 3.8 0 1 0-7.6 0zh7.6m-3.8-4.4v8.8M345.5 922.9a3.8 3.8 0 1 0 7.6 0a3.8 3.8 0 1 0-7.6 0zh7.6m-3.8-4.4v8.8M356.6 911.8a3.8 3.8 0 1 0 7.6 0a3.8 3.8 0 1 0-7.6 0zh7.6m-3.8-4.4v8.8M367.2 903.6a3.8 3.8 0 1 0 7.6 0a3.8 3.8 0 1 0-7.6 0zh7.6m-3.8-4.4v8.8M377.7 897a3.8 3.8 0 1 0 7.6 0a3.8 3.8 0 1 0-7.6 0zh7.6m-3.8-4.4v8.8M388.1 887.4a3.8 3.8 0 1 0 7.6 0a3.8 3.8 0 1 0-7.6 0zh7.6m-3.8-4.4v8.8M398 879.8a3.8 3.8 0 1 0 7.6 0a3.8 3.8 0 1 0-7.6 0zh7.6m-3.8-4.4v8.8M407.5 873a3.8 3.8 0 1 0 7.6 0a3.8 3.8 0 1 0-7.6 0zh7.6m-3.8-4.4v8.8M416.7 867a3.8 3.8 0 1 0 7.6 0a3.8 3.8 0 1 0-7.6 0zh7.6m-3.8-4.4v8.8M425.6 863.1a3.8 3.8 0 1 0 7.6 0a3.8 3.8 0 1 0-7.6 0zh7.6m-3.8-4.4v8.8M434.1 859.6a3.8 3.8 0 1 0 7.6 0a3.8 3.8 0 1 0-7.6 0zh7.6m-3.8-4.4v8.8M442.6 855.1a3.8 3.8 0 1 0 7.6 0a3.8 3.8 0 1 0-7.6 0zh7.6m-3.8-4.4v8.8M450.6 852a3.8 3.8 0 1 0 7.6 0a3.8 3.8 0 1 0-7.6 0zh7.6m-3.8-4.4v8.8M458.5 850.5a3.8 3.8 0 1 0 7.6 0a3.8 3.8 0 1 0-7.6 0zh7.6m-3.8-4.4v8.8M466.3 848.9a3.8 3.8 0 1 0 7.6 0a3.8 3.8 0 1 0-7.6 0zh7.6m-3.8-4.4v8.8M474.1 847.3a3.8 3.8 0 1 0 7.6 0a3.8 3.8 0 1 0-7.6 0zh7.6m-3.8-4.4v8.8M481.6 845.7a3.8 3.8 0 1 0 7.6 0a3.8 3.8 0 1 0-7.6 0zh7.6m-3.8-4.4v8.8M488.7 844.9a3.8 3.8 0 1 0 7.6 0a3.8 3.8 0 1 0-7.6 0zh7.6m-3.8-4.4v8.8M495.2 845.4a3.8 3.8 0 1 0 7.6 0a3.8 3.8 0 1 0-7.6 0zh7.6m-3.8-4.4v8.8M501.7 845.7a3.8 3.8 0 1 0 7.6 0a3.8 3.8 0 1 0-7.6 0zh7.6m-3.8-4.4v8.8M508.1 844.6a3.8 3.8 0 1 0 7.6 0a3.8 3.8 0 1 0-7.6 0zh7.6m-3.8-4.4v8.8M514 843.4a3.8 3.8 0 1 0 7.6 0a3.8 3.8 0 1 0-7.6 0zh7.6m-3.8-4.4v8.8M519.7 843.1a3.8 3.8 0 1 0 7.6 0a3.8 3.8 0 1 0-7.6 0zh7.6m-3.8-4.4v8.8M525.2 843.5a3.8 3.8 0 1 0 7.6 0a3.8 3.8 0 1 0-7.6 0zh7.6m-3.8-4.4v8.8M530.8 844a3.8 3.8 0 1 0 7.6 0a3.8 3.8 0 1 0-7.6 0zh7.6m-3.8-4.4v8.8M536.3 844.1a3.8 3.8 0 1 0 7.6 0a3.8 3.8 0 1 0-7.6 0zh7.6m-3.8-4.4v8.8M541.4 844.4a3.8 3.8 0 1 0 7.6 0a3.8 3.8 0 1 0-7.6 0zh7.6m-3.8-4.4v8.8M546.5 845.6a3.8 3.8 0 1 0 7.6 0a3.8 3.8 0 1 0-7.6 0zh7.6m-3.8-4.4v8.8M551.3 847.6a3.8 3.8 0 1 0 7.6 0a3.8 3.8 0 1 0-7.6 0zh7.6m-3.8-4.4v8.8M555.8 849.8a3.8 3.8 0 1 0 7.6 0a3.8 3.8 0 1 0-7.6 0zh7.6m-3.8-4.4v8.8M560.4 852.1a3.8 3.8 0 1 0 7.6 0a3.8 3.8 0 1 0-7.6 0zh7.6m-3.8-4.4v8.8M564.8 854.6a3.8 3.8 0 1 0 7.6 0a3.8 3.8 0 1 0-7.6 0zh7.6m-3.8-4.4v8.8M569.3 857a3.8 3.8 0 1 0 7.6 0a3.8 3.8 0 1 0-7.6 0zh7.6m-3.8-4.4v8.8M573.3 859.1a3.8 3.8 0 1 0 7.6 0a3.8 3.8 0 1 0-7.6 0zh7.6m-3.8-4.4v8.8M577.5 861.1a3.8 3.8 0 1 0 7.6 0a3.8 3.8 0 1 0-7.6 0zh7.6m-3.8-4.4v8.8M581.4 863a3.8 3.8 0 1 0 7.6 0a3.8 3.8 0 1 0-7.6 0zh7.6m-3.8-4.4v8.8M585.3 864.7a3.8 3.8 0 1 0 7.6 0a3.8 3.8 0 1 0-7.6 0zh7.6m-3.8-4.4v8.8M589.2 866.3a3.8 3.8 0 1 0 7.6 0a3.8 3.8 0 1 0-7.6 0zh7.6m-3.8-4.4v8.8M592.8 867.8a3.8 3.8 0 1 0 7.6 0a3.8 3.8 0 1 0-7.6 0zh7.6m-3.8-4.4v8.8M596.8 869.5a3.8 3.8 0 1 0 7.6 0a3.8 3.8 0 1 0-7.6 0zh7.6m-3.8-4.4v8.8M600.5 871.2a3.8 3.8 0 1 0 7.6 0a3.8 3.8 0 1 0-7.6 0zh7.6m-3.8-4.4v8.8M604.3 872.6a3.8 3.8 0 1 0 7.6 0a3.8 3.8 0 1 0-7.6 0zh7.6m-3.8-4.4v8.8M607.9 873.6a3.8 3.8 0 1 0 7.6 0a3.8 3.8 0 1 0-7.6 0zh7.6m-3.8-4.4v8.8M611.5 874.3a3.8 3.8 0 1 0 7.6 0a3.8 3.8 0 1 0-7.6 0zh7.6m-3.8-4.4v8.8M615.1 874.7a3.8 3.8 0 1 0 7.6 0a3.8 3.8 0 1 0-7.6 0zh7.6m-3.8-4.4v8.8M618.6 874.9a3.8 3.8 0 1 0 7.6 0a3.8 3.8 0 1 0-7.6 0zh7.6m-3.8-4.4v8.8M622.2 874.9a3.8 3.8 0 1 0 7.6 0a3.8 3.8 0 1 0-7.6 0zh7.6m-3.8-4.4v8.8M625.8 874.8a3.8 3.8 0 1 0 7.6 0a3.8 3.8 0 1 0-7.6 0zh7.6m-3.8-4.4v8.8M629.3 874.6a3.8 3.8 0 1 0 7.6 0a3.8 3.8 0 1 0-7.6 0zh7.6m-3.8-4.4v8.8M632.9 874.2a3.8 3.8 0 1 0 7.6 0a3.8 3.8 0 1 0-7.6 0zh7.6m-3.8-4.4v8.8M636.5 873.6a3.8 3.8 0 1 0 7.6 0a3.8 3.8 0 1 0-7.6 0zh7.6m-3.8-4.4v8.8M640.1 872.8a3.8 3.8 0 1 0 7.6 0a3.8 3.8 0 1 0-7.6 0zh7.6m-3.8-4.4v8.8M643.7 871.9a3.8 3.8 0 1 0 7.6 0a3.8 3.8 0 1 0-7.6 0zh7.6m-3.8-4.4v8.8M647.3 870.8a3.8 3.8 0 1 0 7.6 0a3.8 3.8 0 1 0-7.6 0zh7.6m-3.8-4.4v8.8M650.9 869.6a3.8 3.8 0 1 0 7.6 0a3.8 3.8 0 1 0-7.6 0zh7.6m-3.8-4.4v8.8M654.4 868.2a3.8 3.8 0 1 0 7.6 0a3.8 3.8 0 1 0-7.6 0zh7.6m-3.8-4.4v8.8M658 866.6a3.8 3.8 0 1 0 7.6 0a3.8 3.8 0 1 0-7.6 0zh7.6m-3.8-4.4v8.8M661.6 864.8a3.8 3.8 0 1 0 7.6 0a3.8 3.8 0 1 0-7.6 0zh7.6m-3.8-4.4v8.8M665.1 862.9a3.8 3.8 0 1 0 7.6 0a3.8 3.8 0 1 0-7.6 0zh7.6m-3.8-4.4v8.8M668.7 860.8a3.8 3.8 0 1 0 7.6 0a3.8 3.8 0 1 0-7.6 0zh7.6m-3.8-4.4v8.8M672.3 858.6a3.8 3.8 0 1 0 7.6 0a3.8 3.8 0 1 0-7.6 0zh7.6m-3.8-4.4v8.8M675.9 856.2a3.8 3.8 0 1 0 7.6 0a3.8 3.8 0 1 0-7.6 0zh7.6m-3.8-4.4v8.8M679.5 853.7a3.8 3.8 0 1 0 7.6 0a3.8 3.8 0 1 0-7.6 0zh7.6m-3.8-4.4v8.8M683.1 850.8a3.8 3.8 0 1 0 7.6 0a3.8 3.8 0 1 0-7.6 0zh7.6m-3.8-4.4v8.8M686.7 847.7a3.8 3.8 0 1 0 7.6 0a3.8 3.8 0 1 0-7.6 0zh7.6m-3.8-4.4v8.8M690.2 844.3a3.8 3.8 0 1 0 7.6 0a3.8 3.8 0 1 0-7.6 0zh7.6m-3.8-4.4v8.8M693.8 840.6a3.8 3.8 0 1 0 7.6 0a3.8 3.8 0 1 0-7.6 0zh7.6m-3.8-4.4v8.8M697.4 836.7a3.8 3.8 0 1 0 7.6 0a3.8 3.8 0 1 0-7.6 0zh7.6m-3.8-4.4v8.8M701 832.6a3.8 3.8 0 1 0 7.6 0a3.8 3.8 0 1 0-7.6 0zh7.6m-3.8-4.4v8.8M704.1 828.6a3.8 3.8 0 1 0 7.6 0a3.8 3.8 0 1 0-7.6 0zh7.6m-3.8-4.4v8.8M707.3 824.5a3.8 3.8 0 1 0 7.6 0a3.8 3.8 0 1 0-7.6 0zh7.6m-3.8-4.4v8.8M710.3 820.4a3.8 3.8 0 1 0 7.6 0a3.8 3.8 0 1 0-7.6 0zh7.6m-3.8-4.4v8.8M713.3 816.4a3.8 3.8 0 1 0 7.6 0a3.8 3.8 0 1 0-7.6 0zh7.6m-3.8-4.4v8.8M716.4 811.9a3.8 3.8 0 1 0 7.6 0a3.8 3.8 0 1 0-7.6 0zh7.6m-3.8-4.4v8.8M719.3 807.4a3.8 3.8 0 1 0 7.6 0a3.8 3.8 0 1 0-7.6 0zh7.6m-3.8-4.4v8.8M722.5 802.4a3.8 3.8 0 1 0 7.6 0a3.8 3.8 0 1 0-7.6 0zh7.6m-3.8-4.4v8.8M725.7 797.8a3.8 3.8 0 1 0 7.6 0a3.8 3.8 0 1 0-7.6 0zh7.6m-3.8-4.4v8.8M728.6 794.1a3.8 3.8 0 1 0 7.6 0a3.8 3.8 0 1 0-7.6 0zh7.6m-3.8-4.4v8.8M731.5 790.6a3.8 3.8 0 1 0 7.6 0a3.8 3.8 0 1 0-7.6 0zh7.6m-3.8-4.4v8.8M734.4 787.4a3.8 3.8 0 1 0 7.6 0a3.8 3.8 0 1 0-7.6 0zh7.6m-3.8-4.4v8.8M737.2 784.5a3.8 3.8 0 1 0 7.6 0a3.8 3.8 0 1 0-7.6 0zh7.6m-3.8-4.4v8.8M740.3 781.4a3.8 3.8 0 1 0 7.6 0a3.8 3.8 0 1 0-7.6 0zh7.6m-3.8-4.4v8.8M743.2 778.7a3.8 3.8 0 1 0 7.6 0a3.8 3.8 0 1 0-7.6 0zh7.6m-3.8-4.4v8.8M746 776.3a3.8 3.8 0 1 0 7.6 0a3.8 3.8 0 1 0-7.6 0zh7.6m-3.8-4.4v8.8M748.8 774.2a3.8 3.8 0 1 0 7.6 0a3.8 3.8 0 1 0-7.6 0zh7.6m-3.8-4.4v8.8M751.6 772.4a3.8 3.8 0 1 0 7.6 0a3.8 3.8 0 1 0-7.6 0zh7.6m-3.8-4.4v8.8M754.5 770.9a3.8 3.8 0 1 0 7.6 0a3.8 3.8 0 1 0-7.6 0zh7.6m-3.8-4.4v8.8M757.3 769.8a3.8 3.8 0 1 0 7.6 0a3.8 3.8 0 1 0-7.6 0zh7.6m-3.8-4.4v8.8M760.2 769.1a3.8 3.8 0 1 0 7.6 0a3.8 3.8 0 1 0-7.6 0zh7.6m-3.8-4.4v8.8M763.4 769.1a3.8 3.8 0 1 0 7.6 0a3.8 3.8 0 1 0-7.6 0zh7.6m-3.8-4.4v8.8M766.3 769.6a3.8 3.8 0 1 0 7.6 0a3.8 3.8 0 1 0-7.6 0zh7.6m-3.8-4.4v8.8M769.2 770.2a3.8 3.8 0 1 0 7.6 0a3.8 3.8 0 1 0-7.6 0zh7.6m-3.8-4.4v8.8M777.9 781.3a3.8 3.8 0 1 0 7.6 0a3.8 3.8 0 1 0-7.6 0zh7.6m-3.8-4.4v8.8M784.8 805.9a3.8 3.8 0 1 0 7.6 0a3.8 3.8 0 1 0-7.6 0zh7.6m-3.8-4.4v8.8"/>
<path fill="#e3211c" stroke="none" d="M149.2 1156.5a3.9 3.9 0 1 0 7.8 0a3.9 3.9 0 1 0-7.8 0zM161.5 1139.6a3.9 3.9 0 1 0 7.8 0a3.9 3.9 0 1 0-7.8 0zM173.9 1124.5a3.9 3.9 0 1 0 7.8 0a3.9 3.9 0 1 0-7.8 0zM186.3 1109.1a3.9 3.9 0 1 0 7.8 0a3.9 3.9 0 1 0-7.8 0zM199.2 1094.5a3.9 3.9 0 1 0 7.8 0a3.9 3.9 0 1 0-7.8 0zM212.1 1077.5a3.9 3.9 0 1 0 7.8 0a3.9 3.9 0 1 0-7.8 0zM224.9 1060.6a3.9 3.9 0 1 0 7.8 0a3.9 3.9 0 1 0-7.8 0zM237.8 1045a3.9 3.9 0 1 0 7.8 0a3.9 3.9 0 1 0-7.8 0zM250.7 1027.4a3.9 3.9 0 1 0 7.8 0a3.9 3.9 0 1 0-7.8 0zM263.8 1010.7a3.9 3.9 0 1 0 7.8 0a3.9 3.9 0 1 0-7.8 0zM276.9 995.4a3.9 3.9 0 1 0 7.8 0a3.9 3.9 0 1 0-7.8 0zM289.7 979.6a3.9 3.9 0 1 0 7.8 0a3.9 3.9 0 1 0-7.8 0zM302.3 963.1a3.9 3.9 0 1 0 7.8 0a3.9 3.9 0 1 0-7.8 0zM314.8 950.5a3.9 3.9 0 1 0 7.8 0a3.9 3.9 0 1 0-7.8 0zM326.8 937.1a3.9 3.9 0 1 0 7.8 0a3.9 3.9 0 1 0-7.8 0zM338.6 924.7a3.9 3.9 0 1 0 7.8 0a3.9 3.9 0 1 0-7.8 0zM350.1 913a3.9 3.9 0 1 0 7.8 0a3.9 3.9 0 1 0-7.8 0zM361.4 901.2a3.9 3.9 0 1 0 7.8 0a3.9 3.9 0 1 0-7.8 0zM372.7 891.8a3.9 3.9 0 1 0 7.8 0a3.9 3.9 0 1 0-7.8 0zM383.5 882.8a3.9 3.9 0 1 0 7.8 0a3.9 3.9 0 1 0-7.8 0zM394 876.4a3.9 3.9 0 1 0 7.8 0a3.9 3.9 0 1 0-7.8 0zM404 868.8a3.9 3.9 0 1 0 7.8 0a3.9 3.9 0 1 0-7.8 0zM414.1 861.3a3.9 3.9 0 1 0 7.8 0a3.9 3.9 0 1 0-7.8 0zM423.8 857.2a3.9 3.9 0 1 0 7.8 0a3.9 3.9 0 1 0-7.8 0zM433.1 850.4a3.9 3.9 0 1 0 7.8 0a3.9 3.9 0 1 0-7.8 0zM441.8 847.9a3.9 3.9 0 1 0 7.8 0a3.9 3.9 0 1 0-7.8 0zM450.4 844.7a3.9 3.9 0 1 0 7.8 0a3.9 3.9 0 1 0-7.8 0zM458.6 842.2a3.9 3.9 0 1 0 7.8 0a3.9 3.9 0 1 0-7.8 0zM466.7 838.5a3.9 3.9 0 1 0 7.8 0a3.9 3.9 0 1 0-7.8 0zM474.5 835.3a3.9 3.9 0 1 0 7.8 0a3.9 3.9 0 1 0-7.8 0zM482.2 833.2a3.9 3.9 0 1 0 7.8 0a3.9 3.9 0 1 0-7.8 0zM489.7 832.2a3.9 3.9 0 1 0 7.8 0a3.9 3.9 0 1 0-7.8 0zM496.9 831.5a3.9 3.9 0 1 0 7.8 0a3.9 3.9 0 1 0-7.8 0zM503.9 830.3a3.9 3.9 0 1 0 7.8 0a3.9 3.9 0 1 0-7.8 0zM510.8 828.5a3.9 3.9 0 1 0 7.8 0a3.9 3.9 0 1 0-7.8 0zM517.7 827.4a3.9 3.9 0 1 0 7.8 0a3.9 3.9 0 1 0-7.8 0zM524.1 827.8a3.9 3.9 0 1 0 7.8 0a3.9 3.9 0 1 0-7.8 0zM530.3 828.7a3.9 3.9 0 1 0 7.8 0a3.9 3.9 0 1 0-7.8 0zM536.3 829.8a3.9 3.9 0 1 0 7.8 0a3.9 3.9 0 1 0-7.8 0zM542.3 831a3.9 3.9 0 1 0 7.8 0a3.9 3.9 0 1 0-7.8 0zM548.1 831.7a3.9 3.9 0 1 0 7.8 0a3.9 3.9 0 1 0-7.8 0zM553.7 832.5a3.9 3.9 0 1 0 7.8 0a3.9 3.9 0 1 0-7.8 0zM558.9 834.2a3.9 3.9 0 1 0 7.8 0a3.9 3.9 0 1 0-7.8 0zM564.2 836.2a3.9 3.9 0 1 0 7.8 0a3.9 3.9 0 1 0-7.8 0zM569.4 837.9a3.9 3.9 0 1 0 7.8 0a3.9 3.9 0 1 0-7.8 0zM574.2 839.2a3.9 3.9 0 1 0 7.8 0a3.9 3.9 0 1 0-7.8 0zM579.1 840.6a3.9 3.9 0 1 0 7.8 0a3.9 3.9 0 1 0-7.8 0zM583.6 842.6a3.9 3.9 0 1 0 7.8 0a3.9 3.9 0 1 0-7.8 0zM588.2 844.7a3.9 3.9 0 1 0 7.8 0a3.9 3.9 0 1 0-7.8 0zM592.8 846.2a3.9 3.9 0 1 0 7.8 0a3.9 3.9 0 1 0-7.8 0zM597.4 847.1a3.9 3.9 0 1 0 7.8 0a3.9 3.9 0 1 0-7.8 0zM601.6 847.8a3.9 3.9 0 1 0 7.8 0a3.9 3.9 0 1 0-7.8 0zM605.8 848.6a3.9 3.9 0 1 0 7.8 0a3.9 3.9 0 1 0-7.8 0zM609.9 849.6a3.9 3.9 0 1 0 7.8 0a3.9 3.9 0 1 0-7.8 0zM613.9 850.8a3.9 3.9 0 1 0 7.8 0a3.9 3.9 0 1 0-7.8 0zM618 851.9a3.9 3.9 0 1 0 7.8 0a3.9 3.9 0 1 0-7.8 0zM622.1 852.7a3.9 3.9 0 1 0 7.8 0a3.9 3.9 0 1 0-7.8 0zM626.2 853a3.9 3.9 0 1 0 7.8 0a3.9 3.9 0 1 0-7.8 0zM630.3 853a3.9 3.9 0 1 0 7.8 0a3.9 3.9 0 1 0-7.8 0zM634.3 852.9a3.9 3.9 0 1 0 7.8 0a3.9 3.9 0 1 0-7.8 0zM638.4 852.7a3.9 3.9 0 1 0 7.8 0a3.9 3.9 0 1 0-7.8 0zM642.5 852.5a3.9 3.9 0 1 0 7.8 0a3.9 3.9 0 1 0-7.8 0zM646.6 852.3a3.9 3.9 0 1 0 7.8 0a3.9 3.9 0 1 0-7.8 0zM650.8 851.7a3.9 3.9 0 1 0 7.8 0a3.9 3.9 0 1 0-7.8 0zM654.8 850.4a3.9 3.9 0 1 0 7.8 0a3.9 3.9 0 1 0-7.8 0zM658.9 848.4a3.9 3.9 0 1 0 7.8 0a3.9 3.9 0 1 0-7.8 0zM663 846a3.9 3.9 0 1 0 7.8 0a3.9 3.9 0 1 0-7.8 0zM667.1 843.4a3.9 3.9 0 1 0 7.8 0a3.9 3.9 0 1 0-7.8 0zM671.2 840.5a3.9 3.9 0 1 0 7.8 0a3.9 3.9 0 1 0-7.8 0zM675.3 837.3a3.9 3.9 0 1 0 7.8 0a3.9 3.9 0 1 0-7.8 0zM679.4 833.9a3.9 3.9 0 1 0 7.8 0a3.9 3.9 0 1 0-7.8 0zM683.5 830.4a3.9 3.9 0 1 0 7.8 0a3.9 3.9 0 1 0-7.8 0zM687.7 826.9a3.9 3.9 0 1 0 7.8 0a3.9 3.9 0 1 0-7.8 0zM691.9 823.2a3.9 3.9 0 1 0 7.8 0a3.9 3.9 0 1 0-7.8 0zM695.9 819.5a3.9 3.9 0 1 0 7.8 0a3.9 3.9 0 1 0-7.8 0zM700.2 815.1a3.9 3.9 0 1 0 7.8 0a3.9 3.9 0 1 0-7.8 0zM704 810.5a3.9 3.9 0 1 0 7.8 0a3.9 3.9 0 1 0-7.8 0zM708 805.3a3.9 3.9 0 1 0 7.8 0a3.9 3.9 0 1 0-7.8 0zM711.9 800.3a3.9 3.9 0 1 0 7.8 0a3.9 3.9 0 1 0-7.8 0zM715.5 795.5a3.9 3.9 0 1 0 7.8 0a3.9 3.9 0 1 0-7.8 0zM719 790.9a3.9 3.9 0 1 0 7.8 0a3.9 3.9 0 1 0-7.8 0zM722.5 786.7a3.9 3.9 0 1 0 7.8 0a3.9 3.9 0 1 0-7.8 0zM726.1 782.9a3.9 3.9 0 1 0 7.8 0a3.9 3.9 0 1 0-7.8 0zM729.6 779.4a3.9 3.9 0 1 0 7.8 0a3.9 3.9 0 1 0-7.8 0zM733.2 776a3.9 3.9 0 1 0 7.8 0a3.9 3.9 0 1 0-7.8 0zM736.8 772.8a3.9 3.9 0 1 0 7.8 0a3.9 3.9 0 1 0-7.8 0zM740.4 769.7a3.9 3.9 0 1 0 7.8 0a3.9 3.9 0 1 0-7.8 0zM744 767a3.9 3.9 0 1 0 7.8 0a3.9 3.9 0 1 0-7.8 0zM747.7 764.6a3.9 3.9 0 1 0 7.8 0a3.9 3.9 0 1 0-7.8 0zM751.3 762.6a3.9 3.9 0 1 0 7.8 0a3.9 3.9 0 1 0-7.8 0zM754.7 761.2a3.9 3.9 0 1 0 7.8 0a3.9 3.9 0 1 0-7.8 0zM758.1 760.3a3.9 3.9 0 1 0 7.8 0a3.9 3.9 0 1 0-7.8 0zM761.7 760a3.9 3.9 0 1 0 7.8 0a3.9 3.9 0 1 0-7.8 0zM765.2 759.9a3.9 3.9 0 1 0 7.8 0a3.9 3.9 0 1 0-7.8 0zM768.7 760.2a3.9 3.9 0 1 0 7.8 0a3.9 3.9 0 1 0-7.8 0zM772.2 760.6a3.9 3.9 0 1 0 7.8 0a3.9 3.9 0 1 0-7.8 0zM777.8 770.6a3.9 3.9 0 1 0 7.8 0a3.9 3.9 0 1 0-7.8 0zM785.5 791.3a3.9 3.9 0 1 0 7.8 0a3.9 3.9 0 1 0-7.8 0z"/>
<path fill="none" stroke="#111111" stroke-width="0.95" d="M149 1156.5l3.2-5.4 3.2 5.4zm3.2-6.4v7.2M161.8 1140.9l3.2-5.4 3.2 5.4zm3.2-6.4v7.2M174.8 1122.8l3.2-5.4 3.2 5.4zm3.2-6.4v7.2M188 1105.1l3.2-5.4 3.2 5.4zm3.2-6.4v7.2M201.7 1086.3l3.2-5.4 3.2 5.4zm3.2-6.4v7.2M215.5 1066.1l3.2-5.4 3.2 5.4zm3.2-6.4v7.2M229.2 1046.9l3.2-5.4 3.2 5.4zm3.2-6.4v7.2M242.7 1028l3.2-5.4 3.2 5.4zm3.2-6.4v7.2M256.4 1009.6l3.2-5.4 3.2 5.4zm3.2-6.4v7.2M269.8 993.4l3.2-5.4 3.2 5.4zm3.2-6.4v7.2M283.2 976.1l3.2-5.4 3.2 5.4zm3.2-6.4v7.2M296.4 959.9l3.2-5.4 3.2 5.4zm3.2-6.4v7.2M309.6 945.7l3.2-5.4 3.2 5.4zm3.2-6.4v7.2M322.4 932.5l3.2-5.4 3.2 5.4zm3.2-6.4v7.2M335.2 918.6l3.2-5.4 3.2 5.4zm3.2-6.4v7.2M347.6 907.1l3.2-5.4 3.2 5.4zm3.2-6.4v7.2M359.6 894.9l3.2-5.4 3.2 5.4zm3.2-6.4v7.2M371.3 884.2l3.2-5.4 3.2 5.4zm3.2-6.4v7.2M382.7 874.2l3.2-5.4 3.2 5.4zm3.2-6.4v7.2M393.9 864.2l3.2-5.4 3.2 5.4zm3.2-6.4v7.2M404.8 855.8l3.2-5.4 3.2 5.4zm3.2-6.4v7.2M415.3 847.5l3.2-5.4 3.2 5.4zm3.2-6.4v7.2M425.4 840.2l3.2-5.4 3.2 5.4zm3.2-6.4v7.2M435 833.8l3.2-5.4 3.2 5.4zm3.2-6.4v7.2M444.1 828.5l3.2-5.4 3.2 5.4zm3.2-6.4v7.2M453 823.1l3.2-5.4 3.2 5.4zm3.2-6.4v7.2M461.5 818.6l3.2-5.4 3.2 5.4zm3.2-6.4v7.2M470 814.6l3.2-5.4 3.2 5.4zm3.2-6.4v7.2M478.2 811.1l3.2-5.4 3.2 5.4zm3.2-6.4v7.2M486.2 808.7l3.2-5.4 3.2 5.4zm3.2-6.4v7.2M493.9 804l3.2-5.4 3.2 5.4zm3.2-6.4v7.2M501.4 802.6l3.2-5.4 3.2 5.4zm3.2-6.4v7.2M508.8 800.2l3.2-5.4 3.2 5.4zm3.2-6.4v7.2M516.3 799.2l3.2-5.4 3.2 5.4zm3.2-6.4v7.2M523.4 798.9l3.2-5.4 3.2 5.4zm3.2-6.4v7.2M530.1 799.2l3.2-5.4 3.2 5.4zm3.2-6.4v7.2M537 800.1l3.2-5.4 3.2 5.4zm3.2-6.4v7.2M543.7 800.9l3.2-5.4 3.2 5.4zm3.2-6.4v7.2M550.1 801.1l3.2-5.4 3.2 5.4zm3.2-6.4v7.2M556.1 801.7l3.2-5.4 3.2 5.4zm3.2-6.4v7.2M562.2 803.2l3.2-5.4 3.2 5.4zm3.2-6.4v7.2M567.7 804.7l3.2-5.4 3.2 5.4zm3.2-6.4v7.2M573.1 805.4l3.2-5.4 3.2 5.4zm3.2-6.4v7.2M578.3 805.6l3.2-5.4 3.2 5.4zm3.2-6.4v7.2M583.5 806.1l3.2-5.4 3.2 5.4zm3.2-6.4v7.2M588.4 807l3.2-5.4 3.2 5.4zm3.2-6.4v7.2M593.4 807.9l3.2-5.4 3.2 5.4zm3.2-6.4v7.2M598.4 808.7l3.2-5.4 3.2 5.4zm3.2-6.4v7.2M603.3 809.4l3.2-5.4 3.2 5.4zm3.2-6.4v7.2M608 810.1l3.2-5.4 3.2 5.4zm3.2-6.4v7.2M612.6 810.6l3.2-5.4 3.2 5.4zm3.2-6.4v7.2M617.2 811l3.2-5.4 3.2 5.4zm3.2-6.4v7.2M621.8 811.5l3.2-5.4 3.2 5.4zm3.2-6.4v7.2M626.4 812.2l3.2-5.4 3.2 5.4zm3.2-6.4v7.2M631 813l3.2-5.4 3.2 5.4zm3.2-6.4v7.2M635.5 813.7l3.2-5.4 3.2 5.4zm3.2-6.4v7.2M640.2 814l3.2-5.4 3.2 5.4zm3.2-6.4v7.2M644.9 814l3.2-5.4 3.2 5.4zm3.2-6.4v7.2M649.6 813.7l3.2-5.4 3.2 5.4zm3.2-6.4v7.2M654.4 812.9l3.2-5.4 3.2 5.4zm3.2-6.4v7.2M659.1 811.5l3.2-5.4 3.2 5.4zm3.2-6.4v7.2M663.8 809.4l3.2-5.4 3.2 5.4zm3.2-6.4v7.2M668.7 807.2l3.2-5.4 3.2 5.4zm3.2-6.4v7.2M673.5 804.8l3.2-5.4 3.2 5.4zm3.2-6.4v7.2M678.4 802.2l3.2-5.4 3.2 5.4zm3.2-6.4v7.2M682.9 799.6l3.2-5.4 3.2 5.4zm3.2-6.4v7.2M687.4 796.7l3.2-5.4 3.2 5.4zm3.2-6.4v7.2M691.9 793.4l3.2-5.4 3.2 5.4zm3.2-6.4v7.2M696.5 789.5l3.2-5.4 3.2 5.4zm3.2-6.4v7.2M701 785.4l3.2-5.4 3.2 5.4zm3.2-6.4v7.2M705.5 781.4l3.2-5.4 3.2 5.4zm3.2-6.4v7.2M709.7 777.8l3.2-5.4 3.2 5.4zm3.2-6.4v7.2M713.7 774.3l3.2-5.4 3.2 5.4zm3.2-6.4v7.2M717.7 769.9l3.2-5.4 3.2 5.4zm3.2-6.4v7.2M721.8 764.9l3.2-5.4 3.2 5.4zm3.2-6.4v7.2M725.7 760.9l3.2-5.4 3.2 5.4zm3.2-6.4v7.2M729.7 757.4l3.2-5.4 3.2 5.4zm3.2-6.4v7.2M733.7 754.2l3.2-5.4 3.2 5.4zm3.2-6.4v7.2M737.7 751l3.2-5.4 3.2 5.4zm3.2-6.4v7.2M741.6 748l3.2-5.4 3.2 5.4zm3.2-6.4v7.2M745.5 745.6l3.2-5.4 3.2 5.4zm3.2-6.4v7.2M749.5 744l3.2-5.4 3.2 5.4zm3.2-6.4v7.2M753.4 743l3.2-5.4 3.2 5.4zm3.2-6.4v7.2M757.2 742.3l3.2-5.4 3.2 5.4zm3.2-6.4v7.2M761 742l3.2-5.4 3.2 5.4zm3.2-6.4v7.2M764.9 741.8l3.2-5.4 3.2 5.4zm3.2-6.4v7.2M768.7 741.7l3.2-5.4 3.2 5.4zm3.2-6.4v7.2M772.5 741.8l3.2-5.4 3.2 5.4zm3.2-6.4v7.2M779.3 749.4l3.2-5.4 3.2 5.4zm3.2-6.4v7.2M786.9 764.8l3.2-5.4 3.2 5.4zm3.2-6.4v7.2"/>
<path fill="none" stroke="#9a0fd6" stroke-width="1.1" d="M1015.1 827v9.6m-3.8-9.6h7.6m-7.6 9.6h7.6m-7.6-4.8h7.6M1021.4 804.9v9.6m-3.8-9.6h7.6m-7.6 9.6h7.6m-7.6-4.8h7.6M1028.2 783.9v9.6m-3.8-9.6h7.6m-7.6 9.6h7.6m-7.6-4.8h7.6M1034.8 767.4v9.6m-3.8-9.6h7.6m-7.6 9.6h7.6m-7.6-4.8h7.6M1041.4 757.3v9.6m-3.8-9.6h7.6m-7.6 9.6h7.6m-7.6-4.8h7.6M1047.9 755.3v9.6m-3.8-9.6h7.6m-7.6 9.6h7.6m-7.6-4.8h7.6M1054.3 747.3v9.6m-3.8-9.6h7.6m-7.6 9.6h7.6m-7.6-4.8h7.6M1060.6 749.3v9.6m-3.8-9.6h7.6m-7.6 9.6h7.6m-7.6-4.8h7.6M1066.8 749.7v9.6m-3.8-9.6h7.6m-7.6 9.6h7.6m-7.6-4.8h7.6M1072.9 755.8v9.6m-3.8-9.6h7.6m-7.6 9.6h7.6m-7.6-4.8h7.6M1078.9 771.7v9.6m-3.8-9.6h7.6m-7.6 9.6h7.6m-7.6-4.8h7.6M1085 788.5v9.6m-3.8-9.6h7.6m-7.6 9.6h7.6m-7.6-4.8h7.6M1090.8 799.2v9.6m-3.8-9.6h7.6m-7.6 9.6h7.6m-7.6-4.8h7.6M1096.3 807.7v9.6m-3.8-9.6h7.6m-7.6 9.6h7.6m-7.6-4.8h7.6M1101.7 814.3v9.6m-3.8-9.6h7.6m-7.6 9.6h7.6m-7.6-4.8h7.6M1107.1 823.8v9.6m-3.8-9.6h7.6m-7.6 9.6h7.6m-7.6-4.8h7.6M1112.4 841.1v9.6m-3.8-9.6h7.6m-7.6 9.6h7.6m-7.6-4.8h7.6M1117.2 857.4v9.6m-3.8-9.6h7.6m-7.6 9.6h7.6m-7.6-4.8h7.6M1122.1 874.2v9.6m-3.8-9.6h7.6m-7.6 9.6h7.6m-7.6-4.8h7.6M1127.1 889v9.6m-3.8-9.6h7.6m-7.6 9.6h7.6m-7.6-4.8h7.6M1132 899.2v9.6m-3.8-9.6h7.6m-7.6 9.6h7.6m-7.6-4.8h7.6M1136.9 907.2v9.6m-3.8-9.6h7.6m-7.6 9.6h7.6m-7.6-4.8h7.6M1141.7 911.8v9.6m-3.8-9.6h7.6m-7.6 9.6h7.6m-7.6-4.8h7.6M1146.4 918.2v9.6m-3.8-9.6h7.6m-7.6 9.6h7.6m-7.6-4.8h7.6M1151.1 924.6v9.6m-3.8-9.6h7.6m-7.6 9.6h7.6m-7.6-4.8h7.6M1155.8 927.8v9.6m-3.8-9.6h7.6m-7.6 9.6h7.6m-7.6-4.8h7.6M1160.4 932.9v9.6m-3.8-9.6h7.6m-7.6 9.6h7.6m-7.6-4.8h7.6M1164.9 935.2v9.6m-3.8-9.6h7.6m-7.6 9.6h7.6m-7.6-4.8h7.6M1169.3 932.3v9.6m-3.8-9.6h7.6m-7.6 9.6h7.6m-7.6-4.8h7.6M1173.8 929.5v9.6m-3.8-9.6h7.6m-7.6 9.6h7.6m-7.6-4.8h7.6M1178 925.2v9.6m-3.8-9.6h7.6m-7.6 9.6h7.6m-7.6-4.8h7.6M1182.2 918.4v9.6m-3.8-9.6h7.6m-7.6 9.6h7.6m-7.6-4.8h7.6M1186.3 913.6v9.6m-3.8-9.6h7.6m-7.6 9.6h7.6m-7.6-4.8h7.6M1190.5 909.8v9.6m-3.8-9.6h7.6m-7.6 9.6h7.6m-7.6-4.8h7.6M1194.6 906.5v9.6m-3.8-9.6h7.6m-7.6 9.6h7.6m-7.6-4.8h7.6M1198.6 903.2v9.6m-3.8-9.6h7.6m-7.6 9.6h7.6m-7.6-4.8h7.6M1202.4 899.5v9.6m-3.8-9.6h7.6m-7.6 9.6h7.6m-7.6-4.8h7.6M1206.4 895.5v9.6m-3.8-9.6h7.6m-7.6 9.6h7.6m-7.6-4.8h7.6M1210.2 892.1v9.6m-3.8-9.6h7.6m-7.6 9.6h7.6m-7.6-4.8h7.6M1214 889v9.6m-3.8-9.6h7.6m-7.6 9.6h7.6m-7.6-4.8h7.6M1217.7 886.2v9.6m-3.8-9.6h7.6m-7.6 9.6h7.6m-7.6-4.8h7.6M1221.4 883.9v9.6m-3.8-9.6h7.6m-7.6 9.6h7.6m-7.6-4.8h7.6M1225 881.6v9.6m-3.8-9.6h7.6m-7.6 9.6h7.6m-7.6-4.8h7.6M1228.7 878.1v9.6m-3.8-9.6h7.6m-7.6 9.6h7.6m-7.6-4.8h7.6M1232.4 873.6v9.6m-3.8-9.6h7.6m-7.6 9.6h7.6m-7.6-4.8h7.6M1236 869.3v9.6m-3.8-9.6h7.6m-7.6 9.6h7.6m-7.6-4.8h7.6M1239.6 866.4v9.6m-3.8-9.6h7.6m-7.6 9.6h7.6m-7.6-4.8h7.6M1243.1 864.2v9.6m-3.8-9.6h7.6m-7.6 9.6h7.6m-7.6-4.8h7.6M1246.7 861.7v9.6m-3.8-9.6h7.6m-7.6 9.6h7.6m-7.6-4.8h7.6M1249.9 858.9v9.6m-3.8-9.6h7.6m-7.6 9.6h7.6m-7.6-4.8h7.6M1253.4 855.8v9.6m-3.8-9.6h7.6m-7.6 9.6h7.6m-7.6-4.8h7.6M1256.6 852.8v9.6m-3.8-9.6h7.6m-7.6 9.6h7.6m-7.6-4.8h7.6M1260 849.7v9.6m-3.8-9.6h7.6m-7.6 9.6h7.6m-7.6-4.8h7.6M1263.1 846.9v9.6m-3.8-9.6h7.6m-7.6 9.6h7.6m-7.6-4.8h7.6M1266.4 844v9.6m-3.8-9.6h7.6m-7.6 9.6h7.6m-7.6-4.8h7.6M1269.2 841.5v9.6m-3.8-9.6h7.6m-7.6 9.6h7.6m-7.6-4.8h7.6M1272.1 838.9v9.6m-3.8-9.6h7.6m-7.6 9.6h7.6m-7.6-4.8h7.6M1274.9 836.3v9.6m-3.8-9.6h7.6m-7.6 9.6h7.6m-7.6-4.8h7.6M1277.7 833.7v9.6m-3.8-9.6h7.6m-7.6 9.6h7.6m-7.6-4.8h7.6M1280.5 831.1v9.6m-3.8-9.6h7.6m-7.6 9.6h7.6m-7.6-4.8h7.6M1283.2 828.5v9.6m-3.8-9.6h7.6m-7.6 9.6h7.6m-7.6-4.8h7.6M1285.9 825.9v9.6m-3.8-9.6h7.6m-7.6 9.6h7.6m-7.6-4.8h7.6M1288.7 823.1v9.6m-3.8-9.6h7.6m-7.6 9.6h7.6m-7.6-4.8h7.6M1291.4 820.1v9.6m-3.8-9.6h7.6m-7.6 9.6h7.6m-7.6-4.8h7.6M1294.2 816.9v9.6m-3.8-9.6h7.6m-7.6 9.6h7.6m-7.6-4.8h7.6M1297 813.4v9.6m-3.8-9.6h7.6m-7.6 9.6h7.6m-7.6-4.8h7.6M1299.7 809.6v9.6m-3.8-9.6h7.6m-7.6 9.6h7.6m-7.6-4.8h7.6M1302.5 805.8v9.6m-3.8-9.6h7.6m-7.6 9.6h7.6m-7.6-4.8h7.6M1305.3 801.8v9.6m-3.8-9.6h7.6m-7.6 9.6h7.6m-7.6-4.8h7.6M1308 797.7v9.6m-3.8-9.6h7.6m-7.6 9.6h7.6m-7.6-4.8h7.6M1310.8 793.5v9.6m-3.8-9.6h7.6m-7.6 9.6h7.6m-7.6-4.8h7.6M1313.6 789.2v9.6m-3.8-9.6h7.6m-7.6 9.6h7.6m-7.6-4.8h7.6M1316.3 784.7v9.6m-3.8-9.6h7.6m-7.6 9.6h7.6m-7.6-4.8h7.6M1319.1 780.2v9.6m-3.8-9.6h7.6m-7.6 9.6h7.6m-7.6-4.8h7.6M1321.9 775.7v9.6m-3.8-9.6h7.6m-7.6 9.6h7.6m-7.6-4.8h7.6M1324.6 771.3v9.6m-3.8-9.6h7.6m-7.6 9.6h7.6m-7.6-4.8h7.6M1327.4 767v9.6m-3.8-9.6h7.6m-7.6 9.6h7.6m-7.6-4.8h7.6M1330.2 762.9v9.6m-3.8-9.6h7.6m-7.6 9.6h7.6m-7.6-4.8h7.6M1332.9 759v9.6m-3.8-9.6h7.6m-7.6 9.6h7.6m-7.6-4.8h7.6M1335.6 755v9.6m-3.8-9.6h7.6m-7.6 9.6h7.6m-7.6-4.8h7.6M1338.4 751.1v9.6m-3.8-9.6h7.6m-7.6 9.6h7.6m-7.6-4.8h7.6M1341.1 747.1v9.6m-3.8-9.6h7.6m-7.6 9.6h7.6m-7.6-4.8h7.6M1343.9 743.1v9.6m-3.8-9.6h7.6m-7.6 9.6h7.6m-7.6-4.8h7.6M1346.7 738.9v9.6m-3.8-9.6h7.6m-7.6 9.6h7.6m-7.6-4.8h7.6M1349.4 734.7v9.6m-3.8-9.6h7.6m-7.6 9.6h7.6m-7.6-4.8h7.6M1352.2 730.5v9.6m-3.8-9.6h7.6m-7.6 9.6h7.6m-7.6-4.8h7.6M1355 726.3v9.6m-3.8-9.6h7.6m-7.6 9.6h7.6m-7.6-4.8h7.6M1357.7 722.2v9.6m-3.8-9.6h7.6m-7.6 9.6h7.6m-7.6-4.8h7.6M1360.5 718.1v9.6m-3.8-9.6h7.6m-7.6 9.6h7.6m-7.6-4.8h7.6M1363.3 714.1v9.6m-3.8-9.6h7.6m-7.6 9.6h7.6m-7.6-4.8h7.6M1366 710.2v9.6m-3.8-9.6h7.6m-7.6 9.6h7.6m-7.6-4.8h7.6M1368.8 706.3v9.6m-3.8-9.6h7.6m-7.6 9.6h7.6m-7.6-4.8h7.6M1371.6 702.3v9.6m-3.8-9.6h7.6m-7.6 9.6h7.6m-7.6-4.8h7.6M1374.3 698.2v9.6m-3.8-9.6h7.6m-7.6 9.6h7.6m-7.6-4.8h7.6M1377.1 694v9.6m-3.8-9.6h7.6m-7.6 9.6h7.6m-7.6-4.8h7.6M1379.9 689.6v9.6m-3.8-9.6h7.6m-7.6 9.6h7.6m-7.6-4.8h7.6M1382.8 685v9.6m-3.8-9.6h7.6m-7.6 9.6h7.6m-7.6-4.8h7.6M1385.6 680.4v9.6m-3.8-9.6h7.6m-7.6 9.6h7.6m-7.6-4.8h7.6M1388.4 675.8v9.6m-3.8-9.6h7.6m-7.6 9.6h7.6m-7.6-4.8h7.6M1391.1 671.3v9.6m-3.8-9.6h7.6m-7.6 9.6h7.6m-7.6-4.8h7.6M1393.6 666.9v9.6m-3.8-9.6h7.6m-7.6 9.6h7.6m-7.6-4.8h7.6M1395.9 662.4v9.6m-3.8-9.6h7.6m-7.6 9.6h7.6m-7.6-4.8h7.6M1398.6 657v9.6m-3.8-9.6h7.6m-7.6 9.6h7.6m-7.6-4.8h7.6M1401.1 651.8v9.6m-3.8-9.6h7.6m-7.6 9.6h7.6m-7.6-4.8h7.6M1403.6 647v9.6m-3.8-9.6h7.6m-7.6 9.6h7.6m-7.6-4.8h7.6M1405.8 643.7v9.6m-3.8-9.6h7.6m-7.6 9.6h7.6m-7.6-4.8h7.6M1408.2 640.9v9.6m-3.8-9.6h7.6m-7.6 9.6h7.6m-7.6-4.8h7.6M1410.7 638.6v9.6m-3.8-9.6h7.6m-7.6 9.6h7.6m-7.6-4.8h7.6M1412.8 637v9.6m-3.8-9.6h7.6m-7.6 9.6h7.6m-7.6-4.8h7.6M1415.2 635.3v9.6m-3.8-9.6h7.6m-7.6 9.6h7.6m-7.6-4.8h7.6M1417.3 634v9.6m-3.8-9.6h7.6m-7.6 9.6h7.6m-7.6-4.8h7.6M1430.7 649.2v9.6m-3.8-9.6h7.6m-7.6 9.6h7.6m-7.6-4.8h7.6M1439 683.2v9.6m-3.8-9.6h7.6m-7.6 9.6h7.6m-7.6-4.8h7.6"/>
<path fill="none" stroke="#009e73" stroke-width="1.1" d="M993.2 829.6l8.2 8.2m-8.2 0 8.2-8.2m-4.1 0v8.2m-2.4-8.2h4.8m-4.8 8.2h4.8M1000.8 822.5l8.2 8.2m-8.2 0 8.2-8.2m-4.1 0v8.2m-2.4-8.2h4.8m-4.8 8.2h4.8M1008.3 813.8l8.2 8.2m-8.2 0 8.2-8.2m-4.1 0v8.2m-2.4-8.2h4.8m-4.8 8.2h4.8M1016.1 803.4l8.2 8.2m-8.2 0 8.2-8.2m-4.1 0v8.2m-2.4-8.2h4.8m-4.8 8.2h4.8M1023.6 793.2l8.2 8.2m-8.2 0 8.2-8.2m-4.1 0v8.2m-2.4-8.2h4.8m-4.8 8.2h4.8M1030.9 784.5l8.2 8.2m-8.2 0 8.2-8.2m-4.1 0v8.2m-2.4-8.2h4.8m-4.8 8.2h4.8M1038.2 779.1l8.2 8.2m-8.2 0 8.2-8.2m-4.1 0v8.2m-2.4-8.2h4.8m-4.8 8.2h4.8M1045.3 774.1l8.2 8.2m-8.2 0 8.2-8.2m-4.1 0v8.2m-2.4-8.2h4.8m-4.8 8.2h4.8M1052.3 770.5l8.2 8.2m-8.2 0 8.2-8.2m-4.1 0v8.2m-2.4-8.2h4.8m-4.8 8.2h4.8M1059.2 770.9l8.2 8.2m-8.2 0 8.2-8.2m-4.1 0v8.2m-2.4-8.2h4.8m-4.8 8.2h4.8M1066 765.9l8.2 8.2m-8.2 0 8.2-8.2m-4.1 0v8.2m-2.4-8.2h4.8m-4.8 8.2h4.8M1072.6 772.5l8.2 8.2m-8.2 0 8.2-8.2m-4.1 0v8.2m-2.4-8.2h4.8m-4.8 8.2h4.8M1079 781.9l8.2 8.2m-8.2 0 8.2-8.2m-4.1 0v8.2m-2.4-8.2h4.8m-4.8 8.2h4.8M1085.3 791.7l8.2 8.2m-8.2 0 8.2-8.2m-4.1 0v8.2m-2.4-8.2h4.8m-4.8 8.2h4.8M1091.5 804.7l8.2 8.2m-8.2 0 8.2-8.2m-4.1 0v8.2m-2.4-8.2h4.8m-4.8 8.2h4.8M1097.4 820.4l8.2 8.2m-8.2 0 8.2-8.2m-4.1 0v8.2m-2.4-8.2h4.8m-4.8 8.2h4.8M1103.3 837.6l8.2 8.2m-8.2 0 8.2-8.2m-4.1 0v8.2m-2.4-8.2h4.8m-4.8 8.2h4.8M1109 851.2l8.2 8.2m-8.2 0 8.2-8.2m-4.1 0v8.2m-2.4-8.2h4.8m-4.8 8.2h4.8M1114.6 865.2l8.2 8.2m-8.2 0 8.2-8.2m-4.1 0v8.2m-2.4-8.2h4.8m-4.8 8.2h4.8M1120.2 876.4l8.2 8.2m-8.2 0 8.2-8.2m-4.1 0v8.2m-2.4-8.2h4.8m-4.8 8.2h4.8M1125.8 884.9l8.2 8.2m-8.2 0 8.2-8.2m-4.1 0v8.2m-2.4-8.2h4.8m-4.8 8.2h4.8M1131.2 894.2l8.2 8.2m-8.2 0 8.2-8.2m-4.1 0v8.2m-2.4-8.2h4.8m-4.8 8.2h4.8M1136.6 902.5l8.2 8.2m-8.2 0 8.2-8.2m-4.1 0v8.2m-2.4-8.2h4.8m-4.8 8.2h4.8M1141.8 908.5l8.2 8.2m-8.2 0 8.2-8.2m-4.1 0v8.2m-2.4-8.2h4.8m-4.8 8.2h4.8M1147 911.4l8.2 8.2m-8.2 0 8.2-8.2m-4.1 0v8.2m-2.4-8.2h4.8m-4.8 8.2h4.8M1152.3 913.2l8.2 8.2m-8.2 0 8.2-8.2m-4.1 0v8.2m-2.4-8.2h4.8m-4.8 8.2h4.8M1157.3 915.5l8.2 8.2m-8.2 0 8.2-8.2m-4.1 0v8.2m-2.4-8.2h4.8m-4.8 8.2h4.8M1162.3 915.5l8.2 8.2m-8.2 0 8.2-8.2m-4.1 0v8.2m-2.4-8.2h4.8m-4.8 8.2h4.8M1167.3 914.2l8.2 8.2m-8.2 0 8.2-8.2m-4.1 0v8.2m-2.4-8.2h4.8m-4.8 8.2h4.8M1172 915.5l8.2 8.2m-8.2 0 8.2-8.2m-4.1 0v8.2m-2.4-8.2h4.8m-4.8 8.2h4.8M1176.7 915.6l8.2 8.2m-8.2 0 8.2-8.2m-4.1 0v8.2m-2.4-8.2h4.8m-4.8 8.2h4.8M1181.4 911.7l8.2 8.2m-8.2 0 8.2-8.2m-4.1 0v8.2m-2.4-8.2h4.8m-4.8 8.2h4.8M1185.8 907.9l8.2 8.2m-8.2 0 8.2-8.2m-4.1 0v8.2m-2.4-8.2h4.8m-4.8 8.2h4.8M1190.2 904.5l8.2 8.2m-8.2 0 8.2-8.2m-4.1 0v8.2m-2.4-8.2h4.8m-4.8 8.2h4.8M1194.8 900.8l8.2 8.2m-8.2 0 8.2-8.2m-4.1 0v8.2m-2.4-8.2h4.8m-4.8 8.2h4.8M1199.2 897.1l8.2 8.2m-8.2 0 8.2-8.2m-4.1 0v8.2m-2.4-8.2h4.8m-4.8 8.2h4.8M1203.6 893.4l8.2 8.2m-8.2 0 8.2-8.2m-4.1 0v8.2m-2.4-8.2h4.8m-4.8 8.2h4.8M1207.9 889.5l8.2 8.2m-8.2 0 8.2-8.2m-4.1 0v8.2m-2.4-8.2h4.8m-4.8 8.2h4.8M1212.3 886.1l8.2 8.2m-8.2 0 8.2-8.2m-4.1 0v8.2m-2.4-8.2h4.8m-4.8 8.2h4.8M1216.3 884.1l8.2 8.2m-8.2 0 8.2-8.2m-4.1 0v8.2m-2.4-8.2h4.8m-4.8 8.2h4.8M1220.3 882.5l8.2 8.2m-8.2 0 8.2-8.2m-4.1 0v8.2m-2.4-8.2h4.8m-4.8 8.2h4.8M1224.3 879.2l8.2 8.2m-8.2 0 8.2-8.2m-4.1 0v8.2m-2.4-8.2h4.8m-4.8 8.2h4.8M1228.3 874.1l8.2 8.2m-8.2 0 8.2-8.2m-4.1 0v8.2m-2.4-8.2h4.8m-4.8 8.2h4.8M1232.3 869.2l8.2 8.2m-8.2 0 8.2-8.2m-4.1 0v8.2m-2.4-8.2h4.8m-4.8 8.2h4.8M1236.1 866.2l8.2 8.2m-8.2 0 8.2-8.2m-4.1 0v8.2m-2.4-8.2h4.8m-4.8 8.2h4.8M1240 863.8l8.2 8.2m-8.2 0 8.2-8.2m-4.1 0v8.2m-2.4-8.2h4.8m-4.8 8.2h4.8M1243.8 860.9l8.2 8.2m-8.2 0 8.2-8.2m-4.1 0v8.2m-2.4-8.2h4.8m-4.8 8.2h4.8M1247.5 857.6l8.2 8.2m-8.2 0 8.2-8.2m-4.1 0v8.2m-2.4-8.2h4.8m-4.8 8.2h4.8M1251.1 854.3l8.2 8.2m-8.2 0 8.2-8.2m-4.1 0v8.2m-2.4-8.2h4.8m-4.8 8.2h4.8M1254.9 850.8l8.2 8.2m-8.2 0 8.2-8.2m-4.1 0v8.2m-2.4-8.2h4.8m-4.8 8.2h4.8M1258.5 847.6l8.2 8.2m-8.2 0 8.2-8.2m-4.1 0v8.2m-2.4-8.2h4.8m-4.8 8.2h4.8M1261.7 844.7l8.2 8.2m-8.2 0 8.2-8.2m-4.1 0v8.2m-2.4-8.2h4.8m-4.8 8.2h4.8M1265.1 841.7l8.2 8.2m-8.2 0 8.2-8.2m-4.1 0v8.2m-2.4-8.2h4.8m-4.8 8.2h4.8M1268.6 838.6l8.2 8.2m-8.2 0 8.2-8.2m-4.1 0v8.2m-2.4-8.2h4.8m-4.8 8.2h4.8M1271.9 835.4l8.2 8.2m-8.2 0 8.2-8.2m-4.1 0v8.2m-2.4-8.2h4.8m-4.8 8.2h4.8M1275.3 832.3l8.2 8.2m-8.2 0 8.2-8.2m-4.1 0v8.2m-2.4-8.2h4.8m-4.8 8.2h4.8M1278.6 829.2l8.2 8.2m-8.2 0 8.2-8.2m-4.1 0v8.2m-2.4-8.2h4.8m-4.8 8.2h4.8M1281.8 826.1l8.2 8.2m-8.2 0 8.2-8.2m-4.1 0v8.2m-2.4-8.2h4.8m-4.8 8.2h4.8M1285.1 822.7l8.2 8.2m-8.2 0 8.2-8.2m-4.1 0v8.2m-2.4-8.2h4.8m-4.8 8.2h4.8M1288.4 819.1l8.2 8.2m-8.2 0 8.2-8.2m-4.1 0v8.2m-2.4-8.2h4.8m-4.8 8.2h4.8M1291.8 815l8.2 8.2m-8.2 0 8.2-8.2m-4.1 0v8.2m-2.4-8.2h4.8m-4.8 8.2h4.8M1294.5 811.3l8.2 8.2m-8.2 0 8.2-8.2m-4.1 0v8.2m-2.4-8.2h4.8m-4.8 8.2h4.8M1297.3 807.5l8.2 8.2m-8.2 0 8.2-8.2m-4.1 0v8.2m-2.4-8.2h4.8m-4.8 8.2h4.8M1300.1 803.6l8.2 8.2m-8.2 0 8.2-8.2m-4.1 0v8.2m-2.4-8.2h4.8m-4.8 8.2h4.8M1302.8 799.5l8.2 8.2m-8.2 0 8.2-8.2m-4.1 0v8.2m-2.4-8.2h4.8m-4.8 8.2h4.8M1305.6 795.4l8.2 8.2m-8.2 0 8.2-8.2m-4.1 0v8.2m-2.4-8.2h4.8m-4.8 8.2h4.8M1308.4 791.2l8.2 8.2m-8.2 0 8.2-8.2m-4.1 0v8.2m-2.4-8.2h4.8m-4.8 8.2h4.8M1311.1 786.7l8.2 8.2m-8.2 0 8.2-8.2m-4.1 0v8.2m-2.4-8.2h4.8m-4.8 8.2h4.8M1313.9 782.2l8.2 8.2m-8.2 0 8.2-8.2m-4.1 0v8.2m-2.4-8.2h4.8m-4.8 8.2h4.8M1316.7 777.7l8.2 8.2m-8.2 0 8.2-8.2m-4.1 0v8.2m-2.4-8.2h4.8m-4.8 8.2h4.8M1319.4 773.2l8.2 8.2m-8.2 0 8.2-8.2m-4.1 0v8.2m-2.4-8.2h4.8m-4.8 8.2h4.8M1322.2 768.9l8.2 8.2m-8.2 0 8.2-8.2m-4.1 0v8.2m-2.4-8.2h4.8m-4.8 8.2h4.8M1325 764.8l8.2 8.2m-8.2 0 8.2-8.2m-4.1 0v8.2m-2.4-8.2h4.8m-4.8 8.2h4.8M1327.7 760.8l8.2 8.2m-8.2 0 8.2-8.2m-4.1 0v8.2m-2.4-8.2h4.8m-4.8 8.2h4.8M1330.5 756.8l8.2 8.2m-8.2 0 8.2-8.2m-4.1 0v8.2m-2.4-8.2h4.8m-4.8 8.2h4.8M1333.2 752.9l8.2 8.2m-8.2 0 8.2-8.2m-4.1 0v8.2m-2.4-8.2h4.8m-4.8 8.2h4.8M1335.9 748.9l8.2 8.2m-8.2 0 8.2-8.2m-4.1 0v8.2m-2.4-8.2h4.8m-4.8 8.2h4.8M1338.7 744.9l8.2 8.2m-8.2 0 8.2-8.2m-4.1 0v8.2m-2.4-8.2h4.8m-4.8 8.2h4.8M1341.5 740.8l8.2 8.2m-8.2 0 8.2-8.2m-4.1 0v8.2m-2.4-8.2h4.8m-4.8 8.2h4.8M1344.2 736.6l8.2 8.2m-8.2 0 8.2-8.2m-4.1 0v8.2m-2.4-8.2h4.8m-4.8 8.2h4.8M1347 732.4l8.2 8.2m-8.2 0 8.2-8.2m-4.1 0v8.2m-2.4-8.2h4.8m-4.8 8.2h4.8M1349.8 728.2l8.2 8.2m-8.2 0 8.2-8.2m-4.1 0v8.2m-2.4-8.2h4.8m-4.8 8.2h4.8M1352.5 724l8.2 8.2m-8.2 0 8.2-8.2m-4.1 0v8.2m-2.4-8.2h4.8m-4.8 8.2h4.8M1355.3 719.9l8.2 8.2m-8.2 0 8.2-8.2m-4.1 0v8.2m-2.4-8.2h4.8m-4.8 8.2h4.8M1358.1 715.9l8.2 8.2m-8.2 0 8.2-8.2m-4.1 0v8.2m-2.4-8.2h4.8m-4.8 8.2h4.8M1360.8 711.9l8.2 8.2m-8.2 0 8.2-8.2m-4.1 0v8.2m-2.4-8.2h4.8m-4.8 8.2h4.8M1363.6 708l8.2 8.2m-8.2 0 8.2-8.2m-4.1 0v8.2m-2.4-8.2h4.8m-4.8 8.2h4.8M1366.4 704.1l8.2 8.2m-8.2 0 8.2-8.2m-4.1 0v8.2m-2.4-8.2h4.8m-4.8 8.2h4.8M1369.1 700.1l8.2 8.2m-8.2 0 8.2-8.2m-4.1 0v8.2m-2.4-8.2h4.8m-4.8 8.2h4.8M1371.9 695.9l8.2 8.2m-8.2 0 8.2-8.2m-4.1 0v8.2m-2.4-8.2h4.8m-4.8 8.2h4.8M1374.7 691.6l8.2 8.2m-8.2 0 8.2-8.2m-4.1 0v8.2m-2.4-8.2h4.8m-4.8 8.2h4.8M1377.6 687l8.2 8.2m-8.2 0 8.2-8.2m-4.1 0v8.2m-2.4-8.2h4.8m-4.8 8.2h4.8M1380.4 682.5l8.2 8.2m-8.2 0 8.2-8.2m-4.1 0v8.2m-2.4-8.2h4.8m-4.8 8.2h4.8M1383.2 677.9l8.2 8.2m-8.2 0 8.2-8.2m-4.1 0v8.2m-2.4-8.2h4.8m-4.8 8.2h4.8M1385.9 673.3l8.2 8.2m-8.2 0 8.2-8.2m-4.1 0v8.2m-2.4-8.2h4.8m-4.8 8.2h4.8M1389 668l8.2 8.2m-8.2 0 8.2-8.2m-4.1 0v8.2m-2.4-8.2h4.8m-4.8 8.2h4.8M1391.8 662.6l8.2 8.2m-8.2 0 8.2-8.2m-4.1 0v8.2m-2.4-8.2h4.8m-4.8 8.2h4.8M1394.5 657.2l8.2 8.2m-8.2 0 8.2-8.2m-4.1 0v8.2m-2.4-8.2h4.8m-4.8 8.2h4.8M1397 652l8.2 8.2m-8.2 0 8.2-8.2m-4.1 0v8.2m-2.4-8.2h4.8m-4.8 8.2h4.8M1399.5 647.2l8.2 8.2m-8.2 0 8.2-8.2m-4.1 0v8.2m-2.4-8.2h4.8m-4.8 8.2h4.8M1402.1 643.3l8.2 8.2m-8.2 0 8.2-8.2m-4.1 0v8.2m-2.4-8.2h4.8m-4.8 8.2h4.8M1404.5 640.7l8.2 8.2m-8.2 0 8.2-8.2m-4.1 0v8.2m-2.4-8.2h4.8m-4.8 8.2h4.8M1406.9 638.5l8.2 8.2m-8.2 0 8.2-8.2m-4.1 0v8.2m-2.4-8.2h4.8m-4.8 8.2h4.8M1409.2 636.7l8.2 8.2m-8.2 0 8.2-8.2m-4.1 0v8.2m-2.4-8.2h4.8m-4.8 8.2h4.8M1411.5 635.2l8.2 8.2m-8.2 0 8.2-8.2m-4.1 0v8.2m-2.4-8.2h4.8m-4.8 8.2h4.8M1413.9 633.6l8.2 8.2m-8.2 0 8.2-8.2m-4.1 0v8.2m-2.4-8.2h4.8m-4.8 8.2h4.8M1416.3 632.1l8.2 8.2m-8.2 0 8.2-8.2m-4.1 0v8.2m-2.4-8.2h4.8m-4.8 8.2h4.8M1418.7 630.9l8.2 8.2m-8.2 0 8.2-8.2m-4.1 0v8.2m-2.4-8.2h4.8m-4.8 8.2h4.8M1421 630.1l8.2 8.2m-8.2 0 8.2-8.2m-4.1 0v8.2m-2.4-8.2h4.8m-4.8 8.2h4.8M1426.6 652.1l8.2 8.2m-8.2 0 8.2-8.2m-4.1 0v8.2m-2.4-8.2h4.8m-4.8 8.2h4.8M1434.9 687.7l8.2 8.2m-8.2 0 8.2-8.2m-4.1 0v8.2m-2.4-8.2h4.8m-4.8 8.2h4.8"/>
<path fill="none" stroke="#56b4e9" stroke-width="1.1" d="M961.6 879.4v9.2m-4.2-7.2 8.4 5.2m-8.4 0 8.4-5.2m-6.4-2h4.4m-4.4 9.2h4.4M969.5 876.9v9.2m-4.2-7.2 8.4 5.2m-8.4 0 8.4-5.2m-6.4-2h4.4m-4.4 9.2h4.4M977.5 877.8v9.2m-4.2-7.2 8.4 5.2m-8.4 0 8.4-5.2m-6.4-2h4.4m-4.4 9.2h4.4M985.2 876.9v9.2m-4.2-7.2 8.4 5.2m-8.4 0 8.4-5.2m-6.4-2h4.4m-4.4 9.2h4.4M993 871.4v9.2m-4.2-7.2 8.4 5.2m-8.4 0 8.4-5.2m-6.4-2h4.4m-4.4 9.2h4.4M1000.6 862.2v9.2m-4.2-7.2 8.4 5.2m-8.4 0 8.4-5.2m-6.4-2h4.4m-4.4 9.2h4.4M1008.5 851.5v9.2m-4.2-7.2 8.4 5.2m-8.4 0 8.4-5.2m-6.4-2h4.4m-4.4 9.2h4.4M1016 839.5v9.2m-4.2-7.2 8.4 5.2m-8.4 0 8.4-5.2m-6.4-2h4.4m-4.4 9.2h4.4M1023.5 827.3v9.2m-4.2-7.2 8.4 5.2m-8.4 0 8.4-5.2m-6.4-2h4.4m-4.4 9.2h4.4M1030.8 817.2v9.2m-4.2-7.2 8.4 5.2m-8.4 0 8.4-5.2m-6.4-2h4.4m-4.4 9.2h4.4M1037.9 809.9v9.2m-4.2-7.2 8.4 5.2m-8.4 0 8.4-5.2m-6.4-2h4.4m-4.4 9.2h4.4M1045 802.3v9.2m-4.2-7.2 8.4 5.2m-8.4 0 8.4-5.2m-6.4-2h4.4m-4.4 9.2h4.4M1052.1 794.4v9.2m-4.2-7.2 8.4 5.2m-8.4 0 8.4-5.2m-6.4-2h4.4m-4.4 9.2h4.4M1059.1 792.1v9.2m-4.2-7.2 8.4 5.2m-8.4 0 8.4-5.2m-6.4-2h4.4m-4.4 9.2h4.4M1065.8 793.7v9.2m-4.2-7.2 8.4 5.2m-8.4 0 8.4-5.2m-6.4-2h4.4m-4.4 9.2h4.4M1072.5 797.1v9.2m-4.2-7.2 8.4 5.2m-8.4 0 8.4-5.2m-6.4-2h4.4m-4.4 9.2h4.4M1079.2 798.2v9.2m-4.2-7.2 8.4 5.2m-8.4 0 8.4-5.2m-6.4-2h4.4m-4.4 9.2h4.4M1085.6 804.7v9.2m-4.2-7.2 8.4 5.2m-8.4 0 8.4-5.2m-6.4-2h4.4m-4.4 9.2h4.4M1091.9 810.6v9.2m-4.2-7.2 8.4 5.2m-8.4 0 8.4-5.2m-6.4-2h4.4m-4.4 9.2h4.4M1098.1 815.4v9.2m-4.2-7.2 8.4 5.2m-8.4 0 8.4-5.2m-6.4-2h4.4m-4.4 9.2h4.4M1104 824.7v9.2m-4.2-7.2 8.4 5.2m-8.4 0 8.4-5.2m-6.4-2h4.4m-4.4 9.2h4.4M1109.8 833.4v9.2m-4.2-7.2 8.4 5.2m-8.4 0 8.4-5.2m-6.4-2h4.4m-4.4 9.2h4.4M1115.5 843v9.2m-4.2-7.2 8.4 5.2m-8.4 0 8.4-5.2m-6.4-2h4.4m-4.4 9.2h4.4M1121.2 853v9.2m-4.2-7.2 8.4 5.2m-8.4 0 8.4-5.2m-6.4-2h4.4m-4.4 9.2h4.4M1126.7 867.1v9.2m-4.2-7.2 8.4 5.2m-8.4 0 8.4-5.2m-6.4-2h4.4m-4.4 9.2h4.4M1132.2 872.5v9.2m-4.2-7.2 8.4 5.2m-8.4 0 8.4-5.2m-6.4-2h4.4m-4.4 9.2h4.4M1137.5 881.2v9.2m-4.2-7.2 8.4 5.2m-8.4 0 8.4-5.2m-6.4-2h4.4m-4.4 9.2h4.4M1142.9 887.4v9.2m-4.2-7.2 8.4 5.2m-8.4 0 8.4-5.2m-6.4-2h4.4m-4.4 9.2h4.4M1148.2 891.5v9.2m-4.2-7.2 8.4 5.2m-8.4 0 8.4-5.2m-6.4-2h4.4m-4.4 9.2h4.4M1153.5 894.8v9.2m-4.2-7.2 8.4 5.2m-8.4 0 8.4-5.2m-6.4-2h4.4m-4.4 9.2h4.4M1158.6 900.1v9.2m-4.2-7.2 8.4 5.2m-8.4 0 8.4-5.2m-6.4-2h4.4m-4.4 9.2h4.4M1163.6 901.9v9.2m-4.2-7.2 8.4 5.2m-8.4 0 8.4-5.2m-6.4-2h4.4m-4.4 9.2h4.4M1168.6 899.2v9.2m-4.2-7.2 8.4 5.2m-8.4 0 8.4-5.2m-6.4-2h4.4m-4.4 9.2h4.4M1173.3 898.7v9.2m-4.2-7.2 8.4 5.2m-8.4 0 8.4-5.2m-6.4-2h4.4m-4.4 9.2h4.4M1178 899v9.2m-4.2-7.2 8.4 5.2m-8.4 0 8.4-5.2m-6.4-2h4.4m-4.4 9.2h4.4M1182.8 896v9.2m-4.2-7.2 8.4 5.2m-8.4 0 8.4-5.2m-6.4-2h4.4m-4.4 9.2h4.4M1187.5 892.1v9.2m-4.2-7.2 8.4 5.2m-8.4 0 8.4-5.2m-6.4-2h4.4m-4.4 9.2h4.4M1192 891.3v9.2m-4.2-7.2 8.4 5.2m-8.4 0 8.4-5.2m-6.4-2h4.4m-4.4 9.2h4.4M1196.4 890.5v9.2m-4.2-7.2 8.4 5.2m-8.4 0 8.4-5.2m-6.4-2h4.4m-4.4 9.2h4.4M1200.6 888.2v9.2m-4.2-7.2 8.4 5.2m-8.4 0 8.4-5.2m-6.4-2h4.4m-4.4 9.2h4.4M1205 885v9.2m-4.2-7.2 8.4 5.2m-8.4 0 8.4-5.2m-6.4-2h4.4m-4.4 9.2h4.4M1209.4 881.4v9.2m-4.2-7.2 8.4 5.2m-8.4 0 8.4-5.2m-6.4-2h4.4m-4.4 9.2h4.4M1213.7 877.5v9.2m-4.2-7.2 8.4 5.2m-8.4 0 8.4-5.2m-6.4-2h4.4m-4.4 9.2h4.4M1218 874.9v9.2m-4.2-7.2 8.4 5.2m-8.4 0 8.4-5.2m-6.4-2h4.4m-4.4 9.2h4.4M1222 874.4v9.2m-4.2-7.2 8.4 5.2m-8.4 0 8.4-5.2m-6.4-2h4.4m-4.4 9.2h4.4M1226 873.9v9.2m-4.2-7.2 8.4 5.2m-8.4 0 8.4-5.2m-6.4-2h4.4m-4.4 9.2h4.4M1230 871.9v9.2m-4.2-7.2 8.4 5.2m-8.4 0 8.4-5.2m-6.4-2h4.4m-4.4 9.2h4.4M1234 869v9.2m-4.2-7.2 8.4 5.2m-8.4 0 8.4-5.2m-6.4-2h4.4m-4.4 9.2h4.4M1238 866.3v9.2m-4.2-7.2 8.4 5.2m-8.4 0 8.4-5.2m-6.4-2h4.4m-4.4 9.2h4.4M1241.8 863.9v9.2m-4.2-7.2 8.4 5.2m-8.4 0 8.4-5.2m-6.4-2h4.4m-4.4 9.2h4.4M1245.6 861.3v9.2m-4.2-7.2 8.4 5.2m-8.4 0 8.4-5.2m-6.4-2h4.4m-4.4 9.2h4.4M1249.1 858.4v9.2m-4.2-7.2 8.4 5.2m-8.4 0 8.4-5.2m-6.4-2h4.4m-4.4 9.2h4.4M1252.9 855.1v9.2m-4.2-7.2 8.4 5.2m-8.4 0 8.4-5.2m-6.4-2h4.4m-4.4 9.2h4.4M1256.6 851.8v9.2m-4.2-7.2 8.4 5.2m-8.4 0 8.4-5.2m-6.4-2h4.4m-4.4 9.2h4.4M1260 848.7v9.2m-4.2-7.2 8.4 5.2m-8.4 0 8.4-5.2m-6.4-2h4.4m-4.4 9.2h4.4M1263.6 845.5v9.2m-4.2-7.2 8.4 5.2m-8.4 0 8.4-5.2m-6.4-2h4.4m-4.4 9.2h4.4M1267 842.6v9.2m-4.2-7.2 8.4 5.2m-8.4 0 8.4-5.2m-6.4-2h4.4m-4.4 9.2h4.4M1270.4 839.5v9.2m-4.2-7.2 8.4 5.2m-8.4 0 8.4-5.2m-6.4-2h4.4m-4.4 9.2h4.4M1273.8 836.4v9.2m-4.2-7.2 8.4 5.2m-8.4 0 8.4-5.2m-6.4-2h4.4m-4.4 9.2h4.4M1277.2 833.3v9.2m-4.2-7.2 8.4 5.2m-8.4 0 8.4-5.2m-6.4-2h4.4m-4.4 9.2h4.4M1280.5 830.2v9.2m-4.2-7.2 8.4 5.2m-8.4 0 8.4-5.2m-6.4-2h4.4m-4.4 9.2h4.4M1283.8 827.1v9.2m-4.2-7.2 8.4 5.2m-8.4 0 8.4-5.2m-6.4-2h4.4m-4.4 9.2h4.4M1287 823.9v9.2m-4.2-7.2 8.4 5.2m-8.4 0 8.4-5.2m-6.4-2h4.4m-4.4 9.2h4.4M1290.3 820.5v9.2m-4.2-7.2 8.4 5.2m-8.4 0 8.4-5.2m-6.4-2h4.4m-4.4 9.2h4.4M1293.7 816.6v9.2m-4.2-7.2 8.4 5.2m-8.4 0 8.4-5.2m-6.4-2h4.4m-4.4 9.2h4.4M1296.4 813.1v9.2m-4.2-7.2 8.4 5.2m-8.4 0 8.4-5.2m-6.4-2h4.4m-4.4 9.2h4.4M1299.2 809.4v9.2m-4.2-7.2 8.4 5.2m-8.4 0 8.4-5.2m-6.4-2h4.4m-4.4 9.2h4.4M1301.9 805.5v9.2m-4.2-7.2 8.4 5.2m-8.4 0 8.4-5.2m-6.4-2h4.4m-4.4 9.2h4.4M1304.7 801.5v9.2m-4.2-7.2 8.4 5.2m-8.4 0 8.4-5.2m-6.4-2h4.4m-4.4 9.2h4.4M1307.5 797.4v9.2m-4.2-7.2 8.4 5.2m-8.4 0 8.4-5.2m-6.4-2h4.4m-4.4 9.2h4.4M1310.3 793.3v9.2m-4.2-7.2 8.4 5.2m-8.4 0 8.4-5.2m-6.4-2h4.4m-4.4 9.2h4.4M1313 788.9v9.2m-4.2-7.2 8.4 5.2m-8.4 0 8.4-5.2m-6.4-2h4.4m-4.4 9.2h4.4M1315.8 784.5v9.2m-4.2-7.2 8.4 5.2m-8.4 0 8.4-5.2m-6.4-2h4.4m-4.4 9.2h4.4M1318.6 779.9v9.2m-4.2-7.2 8.4 5.2m-8.4 0 8.4-5.2m-6.4-2h4.4m-4.4 9.2h4.4M1321.3 775.3v9.2m-4.2-7.2 8.4 5.2m-8.4 0 8.4-5.2m-6.4-2h4.4m-4.4 9.2h4.4M1324.1 770.9v9.2m-4.2-7.2 8.4 5.2m-8.4 0 8.4-5.2m-6.4-2h4.4m-4.4 9.2h4.4M1326.9 766.6v9.2m-4.2-7.2 8.4 5.2m-8.4 0 8.4-5.2m-6.4-2h4.4m-4.4 9.2h4.4M1329.6 762.4v9.2m-4.2-7.2 8.4 5.2m-8.4 0 8.4-5.2m-6.4-2h4.4m-4.4 9.2h4.4M1332.4 758.4v9.2m-4.2-7.2 8.4 5.2m-8.4 0 8.4-5.2m-6.4-2h4.4m-4.4 9.2h4.4M1335.1 754.5v9.2m-4.2-7.2 8.4 5.2m-8.4 0 8.4-5.2m-6.4-2h4.4m-4.4 9.2h4.4M1337.8 750.6v9.2m-4.2-7.2 8.4 5.2m-8.4 0 8.4-5.2m-6.4-2h4.4m-4.4 9.2h4.4M1340.6 746.6v9.2m-4.2-7.2 8.4 5.2m-8.4 0 8.4-5.2m-6.4-2h4.4m-4.4 9.2h4.4M1343.4 742.6v9.2m-4.2-7.2 8.4 5.2m-8.4 0 8.4-5.2m-6.4-2h4.4m-4.4 9.2h4.4M1346.1 738.4v9.2m-4.2-7.2 8.4 5.2m-8.4 0 8.4-5.2m-6.4-2h4.4m-4.4 9.2h4.4M1348.9 734.3v9.2m-4.2-7.2 8.4 5.2m-8.4 0 8.4-5.2m-6.4-2h4.4m-4.4 9.2h4.4M1351.6 730.1v9.2m-4.2-7.2 8.4 5.2m-8.4 0 8.4-5.2m-6.4-2h4.4m-4.4 9.2h4.4M1354.4 725.9v9.2m-4.2-7.2 8.4 5.2m-8.4 0 8.4-5.2m-6.4-2h4.4m-4.4 9.2h4.4M1357.2 721.7v9.2m-4.2-7.2 8.4 5.2m-8.4 0 8.4-5.2m-6.4-2h4.4m-4.4 9.2h4.4M1360 717.6v9.2m-4.2-7.2 8.4 5.2m-8.4 0 8.4-5.2m-6.4-2h4.4m-4.4 9.2h4.4M1362.7 713.6v9.2m-4.2-7.2 8.4 5.2m-8.4 0 8.4-5.2m-6.4-2h4.4m-4.4 9.2h4.4M1365.5 709.7v9.2m-4.2-7.2 8.4 5.2m-8.4 0 8.4-5.2m-6.4-2h4.4m-4.4 9.2h4.4M1368.3 705.7v9.2m-4.2-7.2 8.4 5.2m-8.4 0 8.4-5.2m-6.4-2h4.4m-4.4 9.2h4.4M1371 701.8v9.2m-4.2-7.2 8.4 5.2m-8.4 0 8.4-5.2m-6.4-2h4.4m-4.4 9.2h4.4M1373.8 697.7v9.2m-4.2-7.2 8.4 5.2m-8.4 0 8.4-5.2m-6.4-2h4.4m-4.4 9.2h4.4M1376.6 693.5v9.2m-4.2-7.2 8.4 5.2m-8.4 0 8.4-5.2m-6.4-2h4.4m-4.4 9.2h4.4M1379.4 689.2v9.2m-4.2-7.2 8.4 5.2m-8.4 0 8.4-5.2m-6.4-2h4.4m-4.4 9.2h4.4M1382.2 684.6v9.2m-4.2-7.2 8.4 5.2m-8.4 0 8.4-5.2m-6.4-2h4.4m-4.4 9.2h4.4M1385.1 680v9.2m-4.2-7.2 8.4 5.2m-8.4 0 8.4-5.2m-6.4-2h4.4m-4.4 9.2h4.4M1387.9 675.4v9.2m-4.2-7.2 8.4 5.2m-8.4 0 8.4-5.2m-6.4-2h4.4m-4.4 9.2h4.4M1390.6 670.9v9.2m-4.2-7.2 8.4 5.2m-8.4 0 8.4-5.2m-6.4-2h4.4m-4.4 9.2h4.4M1393.6 665.6v9.2m-4.2-7.2 8.4 5.2m-8.4 0 8.4-5.2m-6.4-2h4.4m-4.4 9.2h4.4M1396.4 660.2v9.2m-4.2-7.2 8.4 5.2m-8.4 0 8.4-5.2m-6.4-2h4.4m-4.4 9.2h4.4M1399 654.8v9.2m-4.2-7.2 8.4 5.2m-8.4 0 8.4-5.2m-6.4-2h4.4m-4.4 9.2h4.4M1401.5 649.6v9.2m-4.2-7.2 8.4 5.2m-8.4 0 8.4-5.2m-6.4-2h4.4m-4.4 9.2h4.4M1404.1 645v9.2m-4.2-7.2 8.4 5.2m-8.4 0 8.4-5.2m-6.4-2h4.4m-4.4 9.2h4.4M1406.7 641.2v9.2m-4.2-7.2 8.4 5.2m-8.4 0 8.4-5.2m-6.4-2h4.4m-4.4 9.2h4.4M1409 638.7v9.2m-4.2-7.2 8.4 5.2m-8.4 0 8.4-5.2m-6.4-2h4.4m-4.4 9.2h4.4M1411.4 636.6v9.2m-4.2-7.2 8.4 5.2m-8.4 0 8.4-5.2m-6.4-2h4.4m-4.4 9.2h4.4M1413.8 634.9v9.2m-4.2-7.2 8.4 5.2m-8.4 0 8.4-5.2m-6.4-2h4.4m-4.4 9.2h4.4M1416.5 633.1v9.2m-4.2-7.2 8.4 5.2m-8.4 0 8.4-5.2m-6.4-2h4.4m-4.4 9.2h4.4M1418.8 631.6v9.2m-4.2-7.2 8.4 5.2m-8.4 0 8.4-5.2m-6.4-2h4.4m-4.4 9.2h4.4M1421.2 630.1v9.2m-4.2-7.2 8.4 5.2m-8.4 0 8.4-5.2m-6.4-2h4.4m-4.4 9.2h4.4M1423.7 629.1v9.2m-4.2-7.2 8.4 5.2m-8.4 0 8.4-5.2m-6.4-2h4.4m-4.4 9.2h4.4M1431.5 646.6v9.2m-4.2-7.2 8.4 5.2m-8.4 0 8.4-5.2m-6.4-2h4.4m-4.4 9.2h4.4M1439.8 679.7v9.2m-4.2-7.2 8.4 5.2m-8.4 0 8.4-5.2m-6.4-2h4.4m-4.4 9.2h4.4"/>
<path fill="none" stroke="#e69f00" stroke-width="1.0" d="M858.9 1083.2h7.6v7.6h-7.6zm3.8 0v7.6m-3.8-3.8h7.6M868.7 1069.1h7.6v7.6h-7.6zm3.8 0v7.6m-3.8-3.8h7.6M878.6 1052.3h7.6v7.6h-7.6zm3.8 0v7.6m-3.8-3.8h7.6M888.5 1036.2h7.6v7.6h-7.6zm3.8 0v7.6m-3.8-3.8h7.6M898.6 1017.7h7.6v7.6h-7.6zm3.8 0v7.6m-3.8-3.8h7.6M908.7 1002.5h7.6v7.6h-7.6zm3.8 0v7.6m-3.8-3.8h7.6M918.7 985.8h7.6v7.6h-7.6zm3.8 0v7.6m-3.8-3.8h7.6M928.7 967.6h7.6v7.6h-7.6zm3.8 0v7.6m-3.8-3.8h7.6M938.6 949.2h7.6v7.6h-7.6zm3.8 0v7.6m-3.8-3.8h7.6M948.1 928.6h7.6v7.6h-7.6zm3.8 0v7.6m-3.8-3.8h7.6M957.5 912.1h7.6v7.6h-7.6zm3.8 0v7.6m-3.8-3.8h7.6M966.8 899.9h7.6v7.6h-7.6zm3.8 0v7.6m-3.8-3.8h7.6M975.9 886.7h7.6v7.6h-7.6zm3.8 0v7.6m-3.8-3.8h7.6M985 870.9h7.6v7.6h-7.6zm3.8 0v7.6m-3.8-3.8h7.6M993.8 859h7.6v7.6h-7.6zm3.8 0v7.6m-3.8-3.8h7.6M1002.5 849.5h7.6v7.6h-7.6zm3.8 0v7.6m-3.8-3.8h7.6M1011.2 842.4h7.6v7.6h-7.6zm3.8 0v7.6m-3.8-3.8h7.6M1019.6 838.3h7.6v7.6h-7.6zm3.8 0v7.6m-3.8-3.8h7.6M1027.7 834.2h7.6v7.6h-7.6zm3.8 0v7.6m-3.8-3.8h7.6M1035.8 830.6h7.6v7.6h-7.6zm3.8 0v7.6m-3.8-3.8h7.6M1043.7 825.3h7.6v7.6h-7.6zm3.8 0v7.6m-3.8-3.8h7.6M1051.7 820h7.6v7.6h-7.6zm3.8 0v7.6m-3.8-3.8h7.6M1059.3 817.5h7.6v7.6h-7.6zm3.8 0v7.6m-3.8-3.8h7.6M1066.8 818h7.6v7.6h-7.6zm3.8 0v7.6m-3.8-3.8h7.6M1074.2 819.7h7.6v7.6h-7.6zm3.8 0v7.6m-3.8-3.8h7.6M1081.5 824h7.6v7.6h-7.6zm3.8 0v7.6m-3.8-3.8h7.6M1088.5 827.8h7.6v7.6h-7.6zm3.8 0v7.6m-3.8-3.8h7.6M1095.2 831.8h7.6v7.6h-7.6zm3.8 0v7.6m-3.8-3.8h7.6M1101.9 838.6h7.6v7.6h-7.6zm3.8 0v7.6m-3.8-3.8h7.6M1108.3 844.9h7.6v7.6h-7.6zm3.8 0v7.6m-3.8-3.8h7.6M1114.7 851.4h7.6v7.6h-7.6zm3.8 0v7.6m-3.8-3.8h7.6M1121 857.7h7.6v7.6h-7.6zm3.8 0v7.6m-3.8-3.8h7.6M1126.9 860.3h7.6v7.6h-7.6zm3.8 0v7.6m-3.8-3.8h7.6M1133 865.1h7.6v7.6h-7.6zm3.8 0v7.6m-3.8-3.8h7.6M1138.8 869.6h7.6v7.6h-7.6zm3.8 0v7.6m-3.8-3.8h7.6M1144.5 871.3h7.6v7.6h-7.6zm3.8 0v7.6m-3.8-3.8h7.6M1150.6 871.7h7.6v7.6h-7.6zm3.8 0v7.6m-3.8-3.8h7.6M1156.3 871.6h7.6v7.6h-7.6zm3.8 0v7.6m-3.8-3.8h7.6M1162 870.7h7.6v7.6h-7.6zm3.8 0v7.6m-3.8-3.8h7.6M1167.5 869.2h7.6v7.6h-7.6zm3.8 0v7.6m-3.8-3.8h7.6M1173 866.9h7.6v7.6h-7.6zm3.8 0v7.6m-3.8-3.8h7.6M1178.5 863.8h7.6v7.6h-7.6zm3.8 0v7.6m-3.8-3.8h7.6M1183.6 860.3h7.6v7.6h-7.6zm3.8 0v7.6m-3.8-3.8h7.6M1188.5 856.8h7.6v7.6h-7.6zm3.8 0v7.6m-3.8-3.8h7.6M1193.3 853.6h7.6v7.6h-7.6zm3.8 0v7.6m-3.8-3.8h7.6M1198.4 850.1h7.6v7.6h-7.6zm3.8 0v7.6m-3.8-3.8h7.6M1203.2 848h7.6v7.6h-7.6zm3.8 0v7.6m-3.8-3.8h7.6M1207.8 847.7h7.6v7.6h-7.6zm3.8 0v7.6m-3.8-3.8h7.6M1212.6 848.6h7.6v7.6h-7.6zm3.8 0v7.6m-3.8-3.8h7.6M1217.4 849.5h7.6v7.6h-7.6zm3.8 0v7.6m-3.8-3.8h7.6M1222 849.3h7.6v7.6h-7.6zm3.8 0v7.6m-3.8-3.8h7.6M1226.5 848.5h7.6v7.6h-7.6zm3.8 0v7.6m-3.8-3.8h7.6M1230.9 847.3h7.6v7.6h-7.6zm3.8 0v7.6m-3.8-3.8h7.6M1235 846h7.6v7.6h-7.6zm3.8 0v7.6m-3.8-3.8h7.6M1239.5 844.7h7.6v7.6h-7.6zm3.8 0v7.6m-3.8-3.8h7.6M1243.5 843.4h7.6v7.6h-7.6zm3.8 0v7.6m-3.8-3.8h7.6M1247.5 841.7h7.6v7.6h-7.6zm3.8 0v7.6m-3.8-3.8h7.6M1251.7 839.1h7.6v7.6h-7.6zm3.8 0v7.6m-3.8-3.8h7.6M1255.3 835.6h7.6v7.6h-7.6zm3.8 0v7.6m-3.8-3.8h7.6M1259.1 830.9h7.6v7.6h-7.6zm3.8 0v7.6m-3.8-3.8h7.6M1262.6 826.7h7.6v7.6h-7.6zm3.8 0v7.6m-3.8-3.8h7.6M1266 823.3h7.6v7.6h-7.6zm3.8 0v7.6m-3.8-3.8h7.6M1269.8 820.3h7.6v7.6h-7.6zm3.8 0v7.6m-3.8-3.8h7.6M1273.2 817.7h7.6v7.6h-7.6zm3.8 0v7.6m-3.8-3.8h7.6M1276.6 815.1h7.6v7.6h-7.6zm3.8 0v7.6m-3.8-3.8h7.6M1280 812.4h7.6v7.6h-7.6zm3.8 0v7.6m-3.8-3.8h7.6M1283.3 809.4h7.6v7.6h-7.6zm3.8 0v7.6m-3.8-3.8h7.6M1286.6 806.3h7.6v7.6h-7.6zm3.8 0v7.6m-3.8-3.8h7.6M1289.9 803.1h7.6v7.6h-7.6zm3.8 0v7.6m-3.8-3.8h7.6M1293.2 799.7h7.6v7.6h-7.6zm3.8 0v7.6m-3.8-3.8h7.6M1296.5 796.2h7.6v7.6h-7.6zm3.8 0v7.6m-3.8-3.8h7.6M1299.8 792.3h7.6v7.6h-7.6zm3.8 0v7.6m-3.8-3.8h7.6M1303.1 788.1h7.6v7.6h-7.6zm3.8 0v7.6m-3.8-3.8h7.6M1306.4 783.8h7.6v7.6h-7.6zm3.8 0v7.6m-3.8-3.8h7.6M1309.8 779.3h7.6v7.6h-7.6zm3.8 0v7.6m-3.8-3.8h7.6M1313.1 774.8h7.6v7.6h-7.6zm3.8 0v7.6m-3.8-3.8h7.6M1316.4 770.3h7.6v7.6h-7.6zm3.8 0v7.6m-3.8-3.8h7.6M1319.7 765.7h7.6v7.6h-7.6zm3.8 0v7.6m-3.8-3.8h7.6M1323.1 761h7.6v7.6h-7.6zm3.8 0v7.6m-3.8-3.8h7.6M1326.4 756.3h7.6v7.6h-7.6zm3.8 0v7.6m-3.8-3.8h7.6M1329.7 751.6h7.6v7.6h-7.6zm3.8 0v7.6m-3.8-3.8h7.6M1333 747h7.6v7.6h-7.6zm3.8 0v7.6m-3.8-3.8h7.6M1336.3 742.4h7.6v7.6h-7.6zm3.8 0v7.6m-3.8-3.8h7.6M1339.6 737.7h7.6v7.6h-7.6zm3.8 0v7.6m-3.8-3.8h7.6M1342.9 733.1h7.6v7.6h-7.6zm3.8 0v7.6m-3.8-3.8h7.6M1346.2 728.4h7.6v7.6h-7.6zm3.8 0v7.6m-3.8-3.8h7.6M1349.5 723.8h7.6v7.6h-7.6zm3.8 0v7.6m-3.8-3.8h7.6M1352.8 719.2h7.6v7.6h-7.6zm3.8 0v7.6m-3.8-3.8h7.6M1356.1 714.6h7.6v7.6h-7.6zm3.8 0v7.6m-3.8-3.8h7.6M1359.5 710h7.6v7.6h-7.6zm3.8 0v7.6m-3.8-3.8h7.6M1362.8 705.3h7.6v7.6h-7.6zm3.8 0v7.6m-3.8-3.8h7.6M1366.1 700.5h7.6v7.6h-7.6zm3.8 0v7.6m-3.8-3.8h7.6M1369.4 695.6h7.6v7.6h-7.6zm3.8 0v7.6m-3.8-3.8h7.6M1372.8 690.7h7.6v7.6h-7.6zm3.8 0v7.6m-3.8-3.8h7.6M1376.1 685.7h7.6v7.6h-7.6zm3.8 0v7.6m-3.8-3.8h7.6M1379.4 680.6h7.6v7.6h-7.6zm3.8 0v7.6m-3.8-3.8h7.6M1382.7 675.4h7.6v7.6h-7.6zm3.8 0v7.6m-3.8-3.8h7.6M1386.2 669.9h7.6v7.6h-7.6zm3.8 0v7.6m-3.8-3.8h7.6M1389.1 665.2h7.6v7.6h-7.6zm3.8 0v7.6m-3.8-3.8h7.6M1391.9 660.7h7.6v7.6h-7.6zm3.8 0v7.6m-3.8-3.8h7.6M1395 655.5h7.6v7.6h-7.6zm3.8 0v7.6m-3.8-3.8h7.6M1397.9 650.9h7.6v7.6h-7.6zm3.8 0v7.6m-3.8-3.8h7.6M1400.8 645.9h7.6v7.6h-7.6zm3.8 0v7.6m-3.8-3.8h7.6M1403.4 641.4h7.6v7.6h-7.6zm3.8 0v7.6m-3.8-3.8h7.6M1405.9 637.4h7.6v7.6h-7.6zm3.8 0v7.6m-3.8-3.8h7.6M1408.6 634.1h7.6v7.6h-7.6zm3.8 0v7.6m-3.8-3.8h7.6M1411.4 631.9h7.6v7.6h-7.6zm3.8 0v7.6m-3.8-3.8h7.6M1413.9 630.5h7.6v7.6h-7.6zm3.8 0v7.6m-3.8-3.8h7.6M1416.5 629.5h7.6v7.6h-7.6zm3.8 0v7.6m-3.8-3.8h7.6M1419.3 628.5h7.6v7.6h-7.6zm3.8 0v7.6m-3.8-3.8h7.6M1421.9 627.5h7.6v7.6h-7.6zm3.8 0v7.6m-3.8-3.8h7.6M1429.4 639.9h7.6v7.6h-7.6zm3.8 0v7.6m-3.8-3.8h7.6M1437.6 668.1h7.6v7.6h-7.6zm3.8 0v7.6m-3.8-3.8h7.6"/>
<path fill="#eee03c" stroke="none" d="M805.8 1120.7h7.8v7.8h-7.8zM817.1 1104.3h7.8v7.8h-7.8zM828.4 1089.4h7.8v7.8h-7.8zM839.3 1076h7.8v7.8h-7.8zM850.6 1059.9h7.8v7.8h-7.8zM862.1 1044.2h7.8v7.8h-7.8zM873.6 1030.2h7.8v7.8h-7.8zM885.2 1015.8h7.8v7.8h-7.8zM897 998.4h7.8v7.8h-7.8zM909.2 980.5h7.8v7.8h-7.8zM921.1 965.5h7.8v7.8h-7.8zM932.9 948.8h7.8v7.8h-7.8zM944.7 931.1h7.8v7.8h-7.8zM956 916.6h7.8v7.8h-7.8zM967.1 901.2h7.8v7.8h-7.8zM978.3 884.8h7.8v7.8h-7.8zM989.2 871.4h7.8v7.8h-7.8zM1000.1 858.4h7.8v7.8h-7.8zM1010.7 848.6h7.8v7.8h-7.8zM1021.1 837.4h7.8v7.8h-7.8zM1031.1 827.8h7.8v7.8h-7.8zM1041.2 821h7.8v7.8h-7.8zM1051.2 815.1h7.8v7.8h-7.8zM1061.1 809.7h7.8v7.8h-7.8zM1070.4 805.3h7.8v7.8h-7.8zM1079.8 801.4h7.8v7.8h-7.8zM1088.9 800.2h7.8v7.8h-7.8zM1097.7 801.7h7.8v7.8h-7.8zM1105.9 801.4h7.8v7.8h-7.8zM1113.9 799.8h7.8v7.8h-7.8zM1121.8 799.6h7.8v7.8h-7.8zM1129.8 801.5h7.8v7.8h-7.8zM1137.2 802.8h7.8v7.8h-7.8zM1144.6 801.8h7.8v7.8h-7.8zM1151.9 799.9h7.8v7.8h-7.8zM1159.1 799.5h7.8v7.8h-7.8zM1166.1 800.6h7.8v7.8h-7.8zM1173 801.8h7.8v7.8h-7.8zM1179.8 802.8h7.8v7.8h-7.8zM1186.5 803.6h7.8v7.8h-7.8zM1193 803.3h7.8v7.8h-7.8zM1199.2 801.7h7.8v7.8h-7.8zM1205.6 799.6h7.8v7.8h-7.8zM1211.6 797.3h7.8v7.8h-7.8zM1217.2 795h7.8v7.8h-7.8zM1222.8 792.8h7.8v7.8h-7.8zM1228.3 790.8h7.8v7.8h-7.8zM1233.9 789h7.8v7.8h-7.8zM1239.4 787.8h7.8v7.8h-7.8zM1244.5 787.6h7.8v7.8h-7.8zM1249.7 787.9h7.8v7.8h-7.8zM1254.6 788.1h7.8v7.8h-7.8zM1259.4 787.9h7.8v7.8h-7.8zM1263.8 787.3h7.8v7.8h-7.8zM1268.5 786.6h7.8v7.8h-7.8zM1272.9 786.4h7.8v7.8h-7.8zM1277.2 786.3h7.8v7.8h-7.8zM1281.7 785.2h7.8v7.8h-7.8zM1285.9 782.6h7.8v7.8h-7.8zM1289.8 779.1h7.8v7.8h-7.8zM1293.9 775.2h7.8v7.8h-7.8zM1298 771.1h7.8v7.8h-7.8zM1301.8 767.5h7.8v7.8h-7.8zM1305.7 763.8h7.8v7.8h-7.8zM1309.6 759.9h7.8v7.8h-7.8zM1313.5 755.6h7.8v7.8h-7.8zM1317.4 751h7.8v7.8h-7.8zM1321.3 746h7.8v7.8h-7.8zM1325.2 740.9h7.8v7.8h-7.8zM1329 735.7h7.8v7.8h-7.8zM1332.9 730.6h7.8v7.8h-7.8zM1336.8 725.6h7.8v7.8h-7.8zM1340.7 720.5h7.8v7.8h-7.8zM1344.5 715.5h7.8v7.8h-7.8zM1348.8 709.7h7.8v7.8h-7.8zM1352.8 703.9h7.8v7.8h-7.8zM1356.7 698.2h7.8v7.8h-7.8zM1360.6 692.5h7.8v7.8h-7.8zM1364.6 687h7.8v7.8h-7.8zM1368.6 681.9h7.8v7.8h-7.8zM1372.6 676.8h7.8v7.8h-7.8zM1376.6 671.2h7.8v7.8h-7.8zM1380.6 664.9h7.8v7.8h-7.8zM1384.7 657.8h7.8v7.8h-7.8zM1388.6 650.9h7.8v7.8h-7.8zM1392.5 644.9h7.8v7.8h-7.8zM1396.1 639.8h7.8v7.8h-7.8zM1399.7 635.4h7.8v7.8h-7.8zM1403.1 631.4h7.8v7.8h-7.8zM1406.4 627.8h7.8v7.8h-7.8zM1409.8 624.8h7.8v7.8h-7.8zM1413 622.2h7.8v7.8h-7.8zM1416.2 619.6h7.8v7.8h-7.8zM1419.4 616.9h7.8v7.8h-7.8zM1422.6 614h7.8v7.8h-7.8zM1430.1 623.3h7.8v7.8h-7.8zM1439.2 642.3h7.8v7.8h-7.8z"/>
<path fill="none" stroke="#111111" stroke-width="0.95" d="M807.7 1143l3.2-5.4 3.2 5.4zm3.2-6.4v7.2M820.4 1121.1l3.2-5.4 3.2 5.4zm3.2-6.4v7.2M832.8 1099.6l3.2-5.4 3.2 5.4zm3.2-6.4v7.2M845.3 1078.1l3.2-5.4 3.2 5.4zm3.2-6.4v7.2M858.4 1056.6l3.2-5.4 3.2 5.4zm3.2-6.4v7.2M871.6 1034.1l3.2-5.4 3.2 5.4zm3.2-6.4v7.2M884.9 1011.1l3.2-5.4 3.2 5.4zm3.2-6.4v7.2M898.3 988.5l3.2-5.4 3.2 5.4zm3.2-6.4v7.2M912.2 966.1l3.2-5.4 3.2 5.4zm3.2-6.4v7.2M925.8 944.3l3.2-5.4 3.2 5.4zm3.2-6.4v7.2M939.5 922.5l3.2-5.4 3.2 5.4zm3.2-6.4v7.2M953.3 900l3.2-5.4 3.2 5.4zm3.2-6.4v7.2M967 879l3.2-5.4 3.2 5.4zm3.2-6.4v7.2M980.6 859.9l3.2-5.4 3.2 5.4zm3.2-6.4v7.2M994.1 842.3l3.2-5.4 3.2 5.4zm3.2-6.4v7.2M1007.8 823.3l3.2-5.4 3.2 5.4zm3.2-6.4v7.2M1021 806.2l3.2-5.4 3.2 5.4zm3.2-6.4v7.2M1034.3 791.7l3.2-5.4 3.2 5.4zm3.2-6.4v7.2M1047.2 780l3.2-5.4 3.2 5.4zm3.2-6.4v7.2M1060.2 768.9l3.2-5.4 3.2 5.4zm3.2-6.4v7.2M1072.7 759l3.2-5.4 3.2 5.4zm3.2-6.4v7.2M1085 748.7l3.2-5.4 3.2 5.4zm3.2-6.4v7.2M1097.1 739.7l3.2-5.4 3.2 5.4zm3.2-6.4v7.2M1108.7 733.8l3.2-5.4 3.2 5.4zm3.2-6.4v7.2M1120 726.3l3.2-5.4 3.2 5.4zm3.2-6.4v7.2M1130.8 719.6l3.2-5.4 3.2 5.4zm3.2-6.4v7.2M1141.3 714.6l3.2-5.4 3.2 5.4zm3.2-6.4v7.2M1151.4 711.6l3.2-5.4 3.2 5.4zm3.2-6.4v7.2M1161.4 706l3.2-5.4 3.2 5.4zm3.2-6.4v7.2M1171.4 704.2l3.2-5.4 3.2 5.4zm3.2-6.4v7.2M1180.7 703.2l3.2-5.4 3.2 5.4zm3.2-6.4v7.2M1189.7 702.8l3.2-5.4 3.2 5.4zm3.2-6.4v7.2M1198.6 702.4l3.2-5.4 3.2 5.4zm3.2-6.4v7.2M1207.2 701.9l3.2-5.4 3.2 5.4zm3.2-6.4v7.2M1215.5 701.5l3.2-5.4 3.2 5.4zm3.2-6.4v7.2M1223.7 701.2l3.2-5.4 3.2 5.4zm3.2-6.4v7.2M1231.8 700.9l3.2-5.4 3.2 5.4zm3.2-6.4v7.2M1239.5 700.9l3.2-5.4 3.2 5.4zm3.2-6.4v7.2M1246.9 700.9l3.2-5.4 3.2 5.4zm3.2-6.4v7.2M1254.1 700.9l3.2-5.4 3.2 5.4zm3.2-6.4v7.2M1260.9 700.7l3.2-5.4 3.2 5.4zm3.2-6.4v7.2M1267.1 700.1l3.2-5.4 3.2 5.4zm3.2-6.4v7.2M1273.2 698.2l3.2-5.4 3.2 5.4zm3.2-6.4v7.2M1279.3 696.2l3.2-5.4 3.2 5.4zm3.2-6.4v7.2M1285.3 694.8l3.2-5.4 3.2 5.4zm3.2-6.4v7.2M1290.9 692.7l3.2-5.4 3.2 5.4zm3.2-6.4v7.2M1296.6 690.2l3.2-5.4 3.2 5.4zm3.2-6.4v7.2M1302.2 688l3.2-5.4 3.2 5.4zm3.2-6.4v7.2M1307.8 685.4l3.2-5.4 3.2 5.4zm3.2-6.4v7.2M1313.2 682.3l3.2-5.4 3.2 5.4zm3.2-6.4v7.2M1318.8 679l3.2-5.4 3.2 5.4zm3.2-6.4v7.2M1324.4 675.7l3.2-5.4 3.2 5.4zm3.2-6.4v7.2M1329.8 672.4l3.2-5.4 3.2 5.4zm3.2-6.4v7.2M1335.4 668.6l3.2-5.4 3.2 5.4zm3.2-6.4v7.2M1340.8 664l3.2-5.4 3.2 5.4zm3.2-6.4v7.2M1346.3 658.8l3.2-5.4 3.2 5.4zm3.2-6.4v7.2M1351.6 653.4l3.2-5.4 3.2 5.4zm3.2-6.4v7.2M1357.1 647.5l3.2-5.4 3.2 5.4zm3.2-6.4v7.2M1362.6 640.4l3.2-5.4 3.2 5.4zm3.2-6.4v7.2M1368 633.7l3.2-5.4 3.2 5.4zm3.2-6.4v7.2M1373.5 628.1l3.2-5.4 3.2 5.4zm3.2-6.4v7.2M1379 621.3l3.2-5.4 3.2 5.4zm3.2-6.4v7.2M1384.5 614.3l3.2-5.4 3.2 5.4zm3.2-6.4v7.2M1389.8 608.1l3.2-5.4 3.2 5.4zm3.2-6.4v7.2M1394.9 602.4l3.2-5.4 3.2 5.4zm3.2-6.4v7.2M1399.7 597.1l3.2-5.4 3.2 5.4zm3.2-6.4v7.2M1404.6 592.8l3.2-5.4 3.2 5.4zm3.2-6.4v7.2M1409.2 589l3.2-5.4 3.2 5.4zm3.2-6.4v7.2M1413.8 586l3.2-5.4 3.2 5.4zm3.2-6.4v7.2M1418.3 583.8l3.2-5.4 3.2 5.4zm3.2-6.4v7.2M1432.4 582.5l3.2-5.4 3.2 5.4zm3.2-6.4v7.2M1443.2 593.3l3.2-5.4 3.2 5.4zm3.2-6.4v7.2"/>
<path fill="none" stroke="#9a0fd6" stroke-width="1.1" d="M438 1436.7v9.6m-3.8-9.6h7.6m-7.6 9.6h7.6m-7.6-4.8h7.6M446 1435v9.6m-3.8-9.6h7.6m-7.6 9.6h7.6m-7.6-4.8h7.6M453.8 1434.1v9.6m-3.8-9.6h7.6m-7.6 9.6h7.6m-7.6-4.8h7.6M461.3 1436.1v9.6m-3.8-9.6h7.6m-7.6 9.6h7.6m-7.6-4.8h7.6M468.7 1442.4v9.6m-3.8-9.6h7.6m-7.6 9.6h7.6m-7.6-4.8h7.6M475.7 1456.1v9.6m-3.8-9.6h7.6m-7.6 9.6h7.6m-7.6-4.8h7.6M482.6 1471.6v9.6m-3.8-9.6h7.6m-7.6 9.6h7.6m-7.6-4.8h7.6M489 1483.9v9.6m-3.8-9.6h7.6m-7.6 9.6h7.6m-7.6-4.8h7.6M494.7 1502.3v9.6m-3.8-9.6h7.6m-7.6 9.6h7.6m-7.6-4.8h7.6M500.4 1514.6v9.6m-3.8-9.6h7.6m-7.6 9.6h7.6m-7.6-4.8h7.6M505.9 1523.9v9.6m-3.8-9.6h7.6m-7.6 9.6h7.6m-7.6-4.8h7.6M511.3 1534.5v9.6m-3.8-9.6h7.6m-7.6 9.6h7.6m-7.6-4.8h7.6M516.4 1541v9.6m-3.8-9.6h7.6m-7.6 9.6h7.6m-7.6-4.8h7.6M521.3 1550.9v9.6m-3.8-9.6h7.6m-7.6 9.6h7.6m-7.6-4.8h7.6M525.8 1563.4v9.6m-3.8-9.6h7.6m-7.6 9.6h7.6m-7.6-4.8h7.6M530.3 1568.5v9.6m-3.8-9.6h7.6m-7.6 9.6h7.6m-7.6-4.8h7.6M534.8 1573.6v9.6m-3.8-9.6h7.6m-7.6 9.6h7.6m-7.6-4.8h7.6M538.8 1579v9.6m-3.8-9.6h7.6m-7.6 9.6h7.6m-7.6-4.8h7.6M542.9 1582.8v9.6m-3.8-9.6h7.6m-7.6 9.6h7.6m-7.6-4.8h7.6M546.9 1584.3v9.6m-3.8-9.6h7.6m-7.6 9.6h7.6m-7.6-4.8h7.6M550.6 1584v9.6m-3.8-9.6h7.6m-7.6 9.6h7.6m-7.6-4.8h7.6M554.1 1581.7v9.6m-3.8-9.6h7.6m-7.6 9.6h7.6m-7.6-4.8h7.6M557.6 1578.4v9.6m-3.8-9.6h7.6m-7.6 9.6h7.6m-7.6-4.8h7.6M560.9 1575.9v9.6m-3.8-9.6h7.6m-7.6 9.6h7.6m-7.6-4.8h7.6M564.2 1573.8v9.6m-3.8-9.6h7.6m-7.6 9.6h7.6m-7.6-4.8h7.6M567.2 1572.2v9.6m-3.8-9.6h7.6m-7.6 9.6h7.6m-7.6-4.8h7.6M570.4 1570.7v9.6m-3.8-9.6h7.6m-7.6 9.6h7.6m-7.6-4.8h7.6M573.1 1569.6v9.6m-3.8-9.6h7.6m-7.6 9.6h7.6m-7.6-4.8h7.6M576.1 1568.5v9.6m-3.8-9.6h7.6m-7.6 9.6h7.6m-7.6-4.8h7.6M579.2 1567.3v9.6m-3.8-9.6h7.6m-7.6 9.6h7.6m-7.6-4.8h7.6M581.7 1566.3v9.6m-3.8-9.6h7.6m-7.6 9.6h7.6m-7.6-4.8h7.6M584.1 1565.4v9.6m-3.8-9.6h7.6m-7.6 9.6h7.6m-7.6-4.8h7.6M587 1564.2v9.6m-3.8-9.6h7.6m-7.6 9.6h7.6m-7.6-4.8h7.6M590 1563.1v9.6m-3.8-9.6h7.6m-7.6 9.6h7.6m-7.6-4.8h7.6M592.3 1562.1v9.6m-3.8-9.6h7.6m-7.6 9.6h7.6m-7.6-4.8h7.6M594.6 1561.2v9.6m-3.8-9.6h7.6m-7.6 9.6h7.6m-7.6-4.8h7.6M597 1560.3v9.6m-3.8-9.6h7.6m-7.6 9.6h7.6m-7.6-4.8h7.6M599.2 1559.4v9.6m-3.8-9.6h7.6m-7.6 9.6h7.6m-7.6-4.8h7.6M601.5 1558.5v9.6m-3.8-9.6h7.6m-7.6 9.6h7.6m-7.6-4.8h7.6M604.2 1557.3v9.6m-3.8-9.6h7.6m-7.6 9.6h7.6m-7.6-4.8h7.6M606.9 1556.3v9.6m-3.8-9.6h7.6m-7.6 9.6h7.6m-7.6-4.8h7.6M609.5 1555.3v9.6m-3.8-9.6h7.6m-7.6 9.6h7.6m-7.6-4.8h7.6M612 1554.3v9.6m-3.8-9.6h7.6m-7.6 9.6h7.6m-7.6-4.8h7.6M614.6 1553.1v9.6m-3.8-9.6h7.6m-7.6 9.6h7.6m-7.6-4.8h7.6M617.1 1551.6v9.6m-3.8-9.6h7.6m-7.6 9.6h7.6m-7.6-4.8h7.6M619.8 1549.9v9.6m-3.8-9.6h7.6m-7.6 9.6h7.6m-7.6-4.8h7.6M622.4 1548v9.6m-3.8-9.6h7.6m-7.6 9.6h7.6m-7.6-4.8h7.6M625.1 1545.8v9.6m-3.8-9.6h7.6m-7.6 9.6h7.6m-7.6-4.8h7.6M627.8 1543.5v9.6m-3.8-9.6h7.6m-7.6 9.6h7.6m-7.6-4.8h7.6M629.9 1541.6v9.6m-3.8-9.6h7.6m-7.6 9.6h7.6m-7.6-4.8h7.6M632.1 1539.6v9.6m-3.8-9.6h7.6m-7.6 9.6h7.6m-7.6-4.8h7.6M634.3 1537.7v9.6m-3.8-9.6h7.6m-7.6 9.6h7.6m-7.6-4.8h7.6M636.5 1535.8v9.6m-3.8-9.6h7.6m-7.6 9.6h7.6m-7.6-4.8h7.6M638.8 1533.9v9.6m-3.8-9.6h7.6m-7.6 9.6h7.6m-7.6-4.8h7.6M641.1 1532v9.6m-3.8-9.6h7.6m-7.6 9.6h7.6m-7.6-4.8h7.6M643.4 1530v9.6m-3.8-9.6h7.6m-7.6 9.6h7.6m-7.6-4.8h7.6M645.7 1527.9v9.6m-3.8-9.6h7.6m-7.6 9.6h7.6m-7.6-4.8h7.6M648 1525.8v9.6m-3.8-9.6h7.6m-7.6 9.6h7.6m-7.6-4.8h7.6M650.3 1523.4v9.6m-3.8-9.6h7.6m-7.6 9.6h7.6m-7.6-4.8h7.6M652.5 1520.9v9.6m-3.8-9.6h7.6m-7.6 9.6h7.6m-7.6-4.8h7.6M654.8 1518.2v9.6m-3.8-9.6h7.6m-7.6 9.6h7.6m-7.6-4.8h7.6M657.1 1515.4v9.6m-3.8-9.6h7.6m-7.6 9.6h7.6m-7.6-4.8h7.6M659.4 1512.5v9.6m-3.8-9.6h7.6m-7.6 9.6h7.6m-7.6-4.8h7.6M661.7 1509.5v9.6m-3.8-9.6h7.6m-7.6 9.6h7.6m-7.6-4.8h7.6M663.9 1506.4v9.6m-3.8-9.6h7.6m-7.6 9.6h7.6m-7.6-4.8h7.6M666.2 1503.3v9.6m-3.8-9.6h7.6m-7.6 9.6h7.6m-7.6-4.8h7.6M668.5 1500.2v9.6m-3.8-9.6h7.6m-7.6 9.6h7.6m-7.6-4.8h7.6M670.8 1497.1v9.6m-3.8-9.6h7.6m-7.6 9.6h7.6m-7.6-4.8h7.6M673.1 1493.9v9.6m-3.8-9.6h7.6m-7.6 9.6h7.6m-7.6-4.8h7.6M675.5 1490.7v9.6m-3.8-9.6h7.6m-7.6 9.6h7.6m-7.6-4.8h7.6M677.8 1487.4v9.6m-3.8-9.6h7.6m-7.6 9.6h7.6m-7.6-4.8h7.6M680.2 1484.2v9.6m-3.8-9.6h7.6m-7.6 9.6h7.6m-7.6-4.8h7.6M682.4 1480.9v9.6m-3.8-9.6h7.6m-7.6 9.6h7.6m-7.6-4.8h7.6M684.6 1477.8v9.6m-3.8-9.6h7.6m-7.6 9.6h7.6m-7.6-4.8h7.6M687.1 1473.9v9.6m-3.8-9.6h7.6m-7.6 9.6h7.6m-7.6-4.8h7.6M689.5 1470.1v9.6m-3.8-9.6h7.6m-7.6 9.6h7.6m-7.6-4.8h7.6M691.8 1466.3v9.6m-3.8-9.6h7.6m-7.6 9.6h7.6m-7.6-4.8h7.6M694 1462.6v9.6m-3.8-9.6h7.6m-7.6 9.6h7.6m-7.6-4.8h7.6M696.2 1458.9v9.6m-3.8-9.6h7.6m-7.6 9.6h7.6m-7.6-4.8h7.6M698.4 1455.2v9.6m-3.8-9.6h7.6m-7.6 9.6h7.6m-7.6-4.8h7.6M700.7 1451.4v9.6m-3.8-9.6h7.6m-7.6 9.6h7.6m-7.6-4.8h7.6M703 1447.7v9.6m-3.8-9.6h7.6m-7.6 9.6h7.6m-7.6-4.8h7.6M705.3 1443.9v9.6m-3.8-9.6h7.6m-7.6 9.6h7.6m-7.6-4.8h7.6M707.6 1440.2v9.6m-3.8-9.6h7.6m-7.6 9.6h7.6m-7.6-4.8h7.6M709.9 1436.4v9.6m-3.8-9.6h7.6m-7.6 9.6h7.6m-7.6-4.8h7.6M712.2 1432.7v9.6m-3.8-9.6h7.6m-7.6 9.6h7.6m-7.6-4.8h7.6M714.5 1429v9.6m-3.8-9.6h7.6m-7.6 9.6h7.6m-7.6-4.8h7.6M716.8 1425.2v9.6m-3.8-9.6h7.6m-7.6 9.6h7.6m-7.6-4.8h7.6M719 1421.5v9.6m-3.8-9.6h7.6m-7.6 9.6h7.6m-7.6-4.8h7.6M721.3 1417.8v9.6m-3.8-9.6h7.6m-7.6 9.6h7.6m-7.6-4.8h7.6M723.1 1414.8v9.6m-3.8-9.6h7.6m-7.6 9.6h7.6m-7.6-4.8h7.6M725 1412v9.6m-3.8-9.6h7.6m-7.6 9.6h7.6m-7.6-4.8h7.6M726.8 1409.2v9.6m-3.8-9.6h7.6m-7.6 9.6h7.6m-7.6-4.8h7.6M728.6 1406.5v9.6m-3.8-9.6h7.6m-7.6 9.6h7.6m-7.6-4.8h7.6M730.5 1403.8v9.6m-3.8-9.6h7.6m-7.6 9.6h7.6m-7.6-4.8h7.6M732.3 1401.1v9.6m-3.8-9.6h7.6m-7.6 9.6h7.6m-7.6-4.8h7.6M734.1 1398.5v9.6m-3.8-9.6h7.6m-7.6 9.6h7.6m-7.6-4.8h7.6M735.9 1396v9.6m-3.8-9.6h7.6m-7.6 9.6h7.6m-7.6-4.8h7.6M737.8 1393.6v9.6m-3.8-9.6h7.6m-7.6 9.6h7.6m-7.6-4.8h7.6M739.6 1391.3v9.6m-3.8-9.6h7.6m-7.6 9.6h7.6m-7.6-4.8h7.6M741.4 1389.1v9.6m-3.8-9.6h7.6m-7.6 9.6h7.6m-7.6-4.8h7.6M743.3 1387v9.6m-3.8-9.6h7.6m-7.6 9.6h7.6m-7.6-4.8h7.6M745.2 1385.1v9.6m-3.8-9.6h7.6m-7.6 9.6h7.6m-7.6-4.8h7.6M747.1 1383.2v9.6m-3.8-9.6h7.6m-7.6 9.6h7.6m-7.6-4.8h7.6M749 1381.4v9.6m-3.8-9.6h7.6m-7.6 9.6h7.6m-7.6-4.8h7.6M750.8 1379.7v9.6m-3.8-9.6h7.6m-7.6 9.6h7.6m-7.6-4.8h7.6M753 1377.8v9.6m-3.8-9.6h7.6m-7.6 9.6h7.6m-7.6-4.8h7.6M755 1376v9.6m-3.8-9.6h7.6m-7.6 9.6h7.6m-7.6-4.8h7.6M756.9 1374.3v9.6m-3.8-9.6h7.6m-7.6 9.6h7.6m-7.6-4.8h7.6M758.9 1372.4v9.6m-3.8-9.6h7.6m-7.6 9.6h7.6m-7.6-4.8h7.6M760.9 1370.9v9.6m-3.8-9.6h7.6m-7.6 9.6h7.6m-7.6-4.8h7.6M762.8 1369.9v9.6m-3.8-9.6h7.6m-7.6 9.6h7.6m-7.6-4.8h7.6M764.7 1369.7v9.6m-3.8-9.6h7.6m-7.6 9.6h7.6m-7.6-4.8h7.6M766.7 1370.8v9.6m-3.8-9.6h7.6m-7.6 9.6h7.6m-7.6-4.8h7.6M768.7 1372.8v9.6m-3.8-9.6h7.6m-7.6 9.6h7.6m-7.6-4.8h7.6M770.5 1375v9.6m-3.8-9.6h7.6m-7.6 9.6h7.6m-7.6-4.8h7.6M772.5 1377.6v9.6m-3.8-9.6h7.6m-7.6 9.6h7.6m-7.6-4.8h7.6M778.1 1402.2v9.6m-3.8-9.6h7.6m-7.6 9.6h7.6m-7.6-4.8h7.6M785 1451.2v9.6m-3.8-9.6h7.6m-7.6 9.6h7.6m-7.6-4.8h7.6"/>
<path fill="none" stroke="#009e73" stroke-width="1.1" d="M413.9 1453.9l8.2 8.2m-8.2 0 8.2-8.2m-4.1 0v8.2m-2.4-8.2h4.8m-4.8 8.2h4.8M422.2 1445.6l8.2 8.2m-8.2 0 8.2-8.2m-4.1 0v8.2m-2.4-8.2h4.8m-4.8 8.2h4.8M430.2 1437.3l8.2 8.2m-8.2 0 8.2-8.2m-4.1 0v8.2m-2.4-8.2h4.8m-4.8 8.2h4.8M438.2 1432.9l8.2 8.2m-8.2 0 8.2-8.2m-4.1 0v8.2m-2.4-8.2h4.8m-4.8 8.2h4.8M445.8 1423.6l8.2 8.2m-8.2 0 8.2-8.2m-4.1 0v8.2m-2.4-8.2h4.8m-4.8 8.2h4.8M453.2 1427l8.2 8.2m-8.2 0 8.2-8.2m-4.1 0v8.2m-2.4-8.2h4.8m-4.8 8.2h4.8M460.5 1423.6l8.2 8.2m-8.2 0 8.2-8.2m-4.1 0v8.2m-2.4-8.2h4.8m-4.8 8.2h4.8M467.7 1439l8.2 8.2m-8.2 0 8.2-8.2m-4.1 0v8.2m-2.4-8.2h4.8m-4.8 8.2h4.8M474.7 1458.1l8.2 8.2m-8.2 0 8.2-8.2m-4.1 0v8.2m-2.4-8.2h4.8m-4.8 8.2h4.8M480 1480.1l8.2 8.2m-8.2 0 8.2-8.2m-4.1 0v8.2m-2.4-8.2h4.8m-4.8 8.2h4.8M484.6 1501.1l8.2 8.2m-8.2 0 8.2-8.2m-4.1 0v8.2m-2.4-8.2h4.8m-4.8 8.2h4.8M490.7 1511.1l8.2 8.2m-8.2 0 8.2-8.2m-4.1 0v8.2m-2.4-8.2h4.8m-4.8 8.2h4.8M496.5 1526.2l8.2 8.2m-8.2 0 8.2-8.2m-4.1 0v8.2m-2.4-8.2h4.8m-4.8 8.2h4.8M501.7 1543.6l8.2 8.2m-8.2 0 8.2-8.2m-4.1 0v8.2m-2.4-8.2h4.8m-4.8 8.2h4.8M507.2 1554.7l8.2 8.2m-8.2 0 8.2-8.2m-4.1 0v8.2m-2.4-8.2h4.8m-4.8 8.2h4.8M512.5 1564.7l8.2 8.2m-8.2 0 8.2-8.2m-4.1 0v8.2m-2.4-8.2h4.8m-4.8 8.2h4.8M517.6 1572l8.2 8.2m-8.2 0 8.2-8.2m-4.1 0v8.2m-2.4-8.2h4.8m-4.8 8.2h4.8M522.3 1576l8.2 8.2m-8.2 0 8.2-8.2m-4.1 0v8.2m-2.4-8.2h4.8m-4.8 8.2h4.8M527.1 1577.1l8.2 8.2m-8.2 0 8.2-8.2m-4.1 0v8.2m-2.4-8.2h4.8m-4.8 8.2h4.8M531.5 1577.9l8.2 8.2m-8.2 0 8.2-8.2m-4.1 0v8.2m-2.4-8.2h4.8m-4.8 8.2h4.8M535.9 1579.4l8.2 8.2m-8.2 0 8.2-8.2m-4.1 0v8.2m-2.4-8.2h4.8m-4.8 8.2h4.8M540.1 1581.6l8.2 8.2m-8.2 0 8.2-8.2m-4.1 0v8.2m-2.4-8.2h4.8m-4.8 8.2h4.8M544 1586.2l8.2 8.2m-8.2 0 8.2-8.2m-4.1 0v8.2m-2.4-8.2h4.8m-4.8 8.2h4.8M547.9 1588.2l8.2 8.2m-8.2 0 8.2-8.2m-4.1 0v8.2m-2.4-8.2h4.8m-4.8 8.2h4.8M551.5 1586.3l8.2 8.2m-8.2 0 8.2-8.2m-4.1 0v8.2m-2.4-8.2h4.8m-4.8 8.2h4.8M555.1 1583.2l8.2 8.2m-8.2 0 8.2-8.2m-4.1 0v8.2m-2.4-8.2h4.8m-4.8 8.2h4.8M558.5 1579.5l8.2 8.2m-8.2 0 8.2-8.2m-4.1 0v8.2m-2.4-8.2h4.8m-4.8 8.2h4.8M561.8 1576.2l8.2 8.2m-8.2 0 8.2-8.2m-4.1 0v8.2m-2.4-8.2h4.8m-4.8 8.2h4.8M565 1574.2l8.2 8.2m-8.2 0 8.2-8.2m-4.1 0v8.2m-2.4-8.2h4.8m-4.8 8.2h4.8M568.1 1572.8l8.2 8.2m-8.2 0 8.2-8.2m-4.1 0v8.2m-2.4-8.2h4.8m-4.8 8.2h4.8M571.4 1571.4l8.2 8.2m-8.2 0 8.2-8.2m-4.1 0v8.2m-2.4-8.2h4.8m-4.8 8.2h4.8M574.4 1569.7l8.2 8.2m-8.2 0 8.2-8.2m-4.1 0v8.2m-2.4-8.2h4.8m-4.8 8.2h4.8M577.1 1568.2l8.2 8.2m-8.2 0 8.2-8.2m-4.1 0v8.2m-2.4-8.2h4.8m-4.8 8.2h4.8M580 1566.5l8.2 8.2m-8.2 0 8.2-8.2m-4.1 0v8.2m-2.4-8.2h4.8m-4.8 8.2h4.8M582.9 1564.8l8.2 8.2m-8.2 0 8.2-8.2m-4.1 0v8.2m-2.4-8.2h4.8m-4.8 8.2h4.8M585.9 1563.2l8.2 8.2m-8.2 0 8.2-8.2m-4.1 0v8.2m-2.4-8.2h4.8m-4.8 8.2h4.8M588.6 1561.8l8.2 8.2m-8.2 0 8.2-8.2m-4.1 0v8.2m-2.4-8.2h4.8m-4.8 8.2h4.8M591.4 1560.3l8.2 8.2m-8.2 0 8.2-8.2m-4.1 0v8.2m-2.4-8.2h4.8m-4.8 8.2h4.8M594.2 1558.9l8.2 8.2m-8.2 0 8.2-8.2m-4.1 0v8.2m-2.4-8.2h4.8m-4.8 8.2h4.8M597.1 1557.5l8.2 8.2m-8.2 0 8.2-8.2m-4.1 0v8.2m-2.4-8.2h4.8m-4.8 8.2h4.8M599.9 1556.3l8.2 8.2m-8.2 0 8.2-8.2m-4.1 0v8.2m-2.4-8.2h4.8m-4.8 8.2h4.8M602.7 1555.4l8.2 8.2m-8.2 0 8.2-8.2m-4.1 0v8.2m-2.4-8.2h4.8m-4.8 8.2h4.8M605.5 1554.6l8.2 8.2m-8.2 0 8.2-8.2m-4.1 0v8.2m-2.4-8.2h4.8m-4.8 8.2h4.8M608.4 1553.6l8.2 8.2m-8.2 0 8.2-8.2m-4.1 0v8.2m-2.4-8.2h4.8m-4.8 8.2h4.8M610.9 1552.5l8.2 8.2m-8.2 0 8.2-8.2m-4.1 0v8.2m-2.4-8.2h4.8m-4.8 8.2h4.8M613.5 1551.1l8.2 8.2m-8.2 0 8.2-8.2m-4.1 0v8.2m-2.4-8.2h4.8m-4.8 8.2h4.8M616.3 1549.2l8.2 8.2m-8.2 0 8.2-8.2m-4.1 0v8.2m-2.4-8.2h4.8m-4.8 8.2h4.8M619.1 1547.1l8.2 8.2m-8.2 0 8.2-8.2m-4.1 0v8.2m-2.4-8.2h4.8m-4.8 8.2h4.8M622 1544.7l8.2 8.2m-8.2 0 8.2-8.2m-4.1 0v8.2m-2.4-8.2h4.8m-4.8 8.2h4.8M625 1542.2l8.2 8.2m-8.2 0 8.2-8.2m-4.1 0v8.2m-2.4-8.2h4.8m-4.8 8.2h4.8M627.9 1539.7l8.2 8.2m-8.2 0 8.2-8.2m-4.1 0v8.2m-2.4-8.2h4.8m-4.8 8.2h4.8M630.8 1537.2l8.2 8.2m-8.2 0 8.2-8.2m-4.1 0v8.2m-2.4-8.2h4.8m-4.8 8.2h4.8M633.6 1534.8l8.2 8.2m-8.2 0 8.2-8.2m-4.1 0v8.2m-2.4-8.2h4.8m-4.8 8.2h4.8M636.5 1532.5l8.2 8.2m-8.2 0 8.2-8.2m-4.1 0v8.2m-2.4-8.2h4.8m-4.8 8.2h4.8M639.3 1530l8.2 8.2m-8.2 0 8.2-8.2m-4.1 0v8.2m-2.4-8.2h4.8m-4.8 8.2h4.8M642.2 1527.5l8.2 8.2m-8.2 0 8.2-8.2m-4.1 0v8.2m-2.4-8.2h4.8m-4.8 8.2h4.8M645 1524.7l8.2 8.2m-8.2 0 8.2-8.2m-4.1 0v8.2m-2.4-8.2h4.8m-4.8 8.2h4.8M647.9 1521.7l8.2 8.2m-8.2 0 8.2-8.2m-4.1 0v8.2m-2.4-8.2h4.8m-4.8 8.2h4.8M650.7 1518.3l8.2 8.2m-8.2 0 8.2-8.2m-4.1 0v8.2m-2.4-8.2h4.8m-4.8 8.2h4.8M653.6 1514.7l8.2 8.2m-8.2 0 8.2-8.2m-4.1 0v8.2m-2.4-8.2h4.8m-4.8 8.2h4.8M656.4 1510.9l8.2 8.2m-8.2 0 8.2-8.2m-4.1 0v8.2m-2.4-8.2h4.8m-4.8 8.2h4.8M659.3 1507l8.2 8.2m-8.2 0 8.2-8.2m-4.1 0v8.2m-2.4-8.2h4.8m-4.8 8.2h4.8M662.1 1503.1l8.2 8.2m-8.2 0 8.2-8.2m-4.1 0v8.2m-2.4-8.2h4.8m-4.8 8.2h4.8M665 1499.2l8.2 8.2m-8.2 0 8.2-8.2m-4.1 0v8.2m-2.4-8.2h4.8m-4.8 8.2h4.8M667.9 1495.3l8.2 8.2m-8.2 0 8.2-8.2m-4.1 0v8.2m-2.4-8.2h4.8m-4.8 8.2h4.8M670.8 1491.2l8.2 8.2m-8.2 0 8.2-8.2m-4.1 0v8.2m-2.4-8.2h4.8m-4.8 8.2h4.8M673.7 1487.2l8.2 8.2m-8.2 0 8.2-8.2m-4.1 0v8.2m-2.4-8.2h4.8m-4.8 8.2h4.8M676.6 1483.1l8.2 8.2m-8.2 0 8.2-8.2m-4.1 0v8.2m-2.4-8.2h4.8m-4.8 8.2h4.8M679.4 1479.1l8.2 8.2m-8.2 0 8.2-8.2m-4.1 0v8.2m-2.4-8.2h4.8m-4.8 8.2h4.8M682 1475.2l8.2 8.2m-8.2 0 8.2-8.2m-4.1 0v8.2m-2.4-8.2h4.8m-4.8 8.2h4.8M684.5 1471.4l8.2 8.2m-8.2 0 8.2-8.2m-4.1 0v8.2m-2.4-8.2h4.8m-4.8 8.2h4.8M687.2 1467l8.2 8.2m-8.2 0 8.2-8.2m-4.1 0v8.2m-2.4-8.2h4.8m-4.8 8.2h4.8M689.9 1462.6l8.2 8.2m-8.2 0 8.2-8.2m-4.1 0v8.2m-2.4-8.2h4.8m-4.8 8.2h4.8M692.5 1458.2l8.2 8.2m-8.2 0 8.2-8.2m-4.1 0v8.2m-2.4-8.2h4.8m-4.8 8.2h4.8M695.2 1453.8l8.2 8.2m-8.2 0 8.2-8.2m-4.1 0v8.2m-2.4-8.2h4.8m-4.8 8.2h4.8M698 1449.3l8.2 8.2m-8.2 0 8.2-8.2m-4.1 0v8.2m-2.4-8.2h4.8m-4.8 8.2h4.8M700.3 1445.6l8.2 8.2m-8.2 0 8.2-8.2m-4.1 0v8.2m-2.4-8.2h4.8m-4.8 8.2h4.8M702.6 1441.9l8.2 8.2m-8.2 0 8.2-8.2m-4.1 0v8.2m-2.4-8.2h4.8m-4.8 8.2h4.8M704.9 1438.2l8.2 8.2m-8.2 0 8.2-8.2m-4.1 0v8.2m-2.4-8.2h4.8m-4.8 8.2h4.8M707.2 1434.5l8.2 8.2m-8.2 0 8.2-8.2m-4.1 0v8.2m-2.4-8.2h4.8m-4.8 8.2h4.8M709.5 1430.8l8.2 8.2m-8.2 0 8.2-8.2m-4.1 0v8.2m-2.4-8.2h4.8m-4.8 8.2h4.8M711.7 1427l8.2 8.2m-8.2 0 8.2-8.2m-4.1 0v8.2m-2.4-8.2h4.8m-4.8 8.2h4.8M714 1423.2l8.2 8.2m-8.2 0 8.2-8.2m-4.1 0v8.2m-2.4-8.2h4.8m-4.8 8.2h4.8M716.3 1419.4l8.2 8.2m-8.2 0 8.2-8.2m-4.1 0v8.2m-2.4-8.2h4.8m-4.8 8.2h4.8M718.6 1415.6l8.2 8.2m-8.2 0 8.2-8.2m-4.1 0v8.2m-2.4-8.2h4.8m-4.8 8.2h4.8M720.9 1412l8.2 8.2m-8.2 0 8.2-8.2m-4.1 0v8.2m-2.4-8.2h4.8m-4.8 8.2h4.8M723.2 1408.5l8.2 8.2m-8.2 0 8.2-8.2m-4.1 0v8.2m-2.4-8.2h4.8m-4.8 8.2h4.8M725.4 1405.1l8.2 8.2m-8.2 0 8.2-8.2m-4.1 0v8.2m-2.4-8.2h4.8m-4.8 8.2h4.8M727.7 1401.8l8.2 8.2m-8.2 0 8.2-8.2m-4.1 0v8.2m-2.4-8.2h4.8m-4.8 8.2h4.8M730 1398.6l8.2 8.2m-8.2 0 8.2-8.2m-4.1 0v8.2m-2.4-8.2h4.8m-4.8 8.2h4.8M732.3 1395.6l8.2 8.2m-8.2 0 8.2-8.2m-4.1 0v8.2m-2.4-8.2h4.8m-4.8 8.2h4.8M734.6 1392.6l8.2 8.2m-8.2 0 8.2-8.2m-4.1 0v8.2m-2.4-8.2h4.8m-4.8 8.2h4.8M736.9 1389.9l8.2 8.2m-8.2 0 8.2-8.2m-4.1 0v8.2m-2.4-8.2h4.8m-4.8 8.2h4.8M739.2 1387.2l8.2 8.2m-8.2 0 8.2-8.2m-4.1 0v8.2m-2.4-8.2h4.8m-4.8 8.2h4.8M741.6 1384.7l8.2 8.2m-8.2 0 8.2-8.2m-4.1 0v8.2m-2.4-8.2h4.8m-4.8 8.2h4.8M743.9 1382.3l8.2 8.2m-8.2 0 8.2-8.2m-4.1 0v8.2m-2.4-8.2h4.8m-4.8 8.2h4.8M746.2 1380.1l8.2 8.2m-8.2 0 8.2-8.2m-4.1 0v8.2m-2.4-8.2h4.8m-4.8 8.2h4.8M748.4 1378.1l8.2 8.2m-8.2 0 8.2-8.2m-4.1 0v8.2m-2.4-8.2h4.8m-4.8 8.2h4.8M750.5 1376.4l8.2 8.2m-8.2 0 8.2-8.2m-4.1 0v8.2m-2.4-8.2h4.8m-4.8 8.2h4.8M752.8 1374.3l8.2 8.2m-8.2 0 8.2-8.2m-4.1 0v8.2m-2.4-8.2h4.8m-4.8 8.2h4.8M754.8 1372.4l8.2 8.2m-8.2 0 8.2-8.2m-4.1 0v8.2m-2.4-8.2h4.8m-4.8 8.2h4.8M756.8 1370.9l8.2 8.2m-8.2 0 8.2-8.2m-4.1 0v8.2m-2.4-8.2h4.8m-4.8 8.2h4.8M759 1369.9l8.2 8.2m-8.2 0 8.2-8.2m-4.1 0v8.2m-2.4-8.2h4.8m-4.8 8.2h4.8M761.3 1370.1l8.2 8.2m-8.2 0 8.2-8.2m-4.1 0v8.2m-2.4-8.2h4.8m-4.8 8.2h4.8M763.3 1371.5l8.2 8.2m-8.2 0 8.2-8.2m-4.1 0v8.2m-2.4-8.2h4.8m-4.8 8.2h4.8M765.6 1374.1l8.2 8.2m-8.2 0 8.2-8.2m-4.1 0v8.2m-2.4-8.2h4.8m-4.8 8.2h4.8M767.8 1377l8.2 8.2m-8.2 0 8.2-8.2m-4.1 0v8.2m-2.4-8.2h4.8m-4.8 8.2h4.8M774 1405.8l8.2 8.2m-8.2 0 8.2-8.2m-4.1 0v8.2m-2.4-8.2h4.8m-4.8 8.2h4.8M780.9 1454.6l8.2 8.2m-8.2 0 8.2-8.2m-4.1 0v8.2m-2.4-8.2h4.8m-4.8 8.2h4.8"/>
<path fill="none" stroke="#56b4e9" stroke-width="1.1" d="M392 1473.4v9.2m-4.2-7.2 8.4 5.2m-8.4 0 8.4-5.2m-6.4-2h4.4m-4.4 9.2h4.4M400.7 1465.7v9.2m-4.2-7.2 8.4 5.2m-8.4 0 8.4-5.2m-6.4-2h4.4m-4.4 9.2h4.4M409.2 1457v9.2m-4.2-7.2 8.4 5.2m-8.4 0 8.4-5.2m-6.4-2h4.4m-4.4 9.2h4.4M417.3 1449.1v9.2m-4.2-7.2 8.4 5.2m-8.4 0 8.4-5.2m-6.4-2h4.4m-4.4 9.2h4.4M425.2 1445.6v9.2m-4.2-7.2 8.4 5.2m-8.4 0 8.4-5.2m-6.4-2h4.4m-4.4 9.2h4.4M432.8 1447v9.2m-4.2-7.2 8.4 5.2m-8.4 0 8.4-5.2m-6.4-2h4.4m-4.4 9.2h4.4M440.3 1451.7v9.2m-4.2-7.2 8.4 5.2m-8.4 0 8.4-5.2m-6.4-2h4.4m-4.4 9.2h4.4M447.7 1455.4v9.2m-4.2-7.2 8.4 5.2m-8.4 0 8.4-5.2m-6.4-2h4.4m-4.4 9.2h4.4M454.9 1457.2v9.2m-4.2-7.2 8.4 5.2m-8.4 0 8.4-5.2m-6.4-2h4.4m-4.4 9.2h4.4M461.9 1458.3v9.2m-4.2-7.2 8.4 5.2m-8.4 0 8.4-5.2m-6.4-2h4.4m-4.4 9.2h4.4M468.6 1464.1v9.2m-4.2-7.2 8.4 5.2m-8.4 0 8.4-5.2m-6.4-2h4.4m-4.4 9.2h4.4M472.7 1483.2v9.2m-4.2-7.2 8.4 5.2m-8.4 0 8.4-5.2m-6.4-2h4.4m-4.4 9.2h4.4M479.2 1488.5v9.2m-4.2-7.2 8.4 5.2m-8.4 0 8.4-5.2m-6.4-2h4.4m-4.4 9.2h4.4M485.4 1494.7v9.2m-4.2-7.2 8.4 5.2m-8.4 0 8.4-5.2m-6.4-2h4.4m-4.4 9.2h4.4M491.4 1502.7v9.2m-4.2-7.2 8.4 5.2m-8.4 0 8.4-5.2m-6.4-2h4.4m-4.4 9.2h4.4M497 1513.7v9.2m-4.2-7.2 8.4 5.2m-8.4 0 8.4-5.2m-6.4-2h4.4m-4.4 9.2h4.4M502.1 1530.4v9.2m-4.2-7.2 8.4 5.2m-8.4 0 8.4-5.2m-6.4-2h4.4m-4.4 9.2h4.4M507.5 1542.9v9.2m-4.2-7.2 8.4 5.2m-8.4 0 8.4-5.2m-6.4-2h4.4m-4.4 9.2h4.4M512.5 1551.2v9.2m-4.2-7.2 8.4 5.2m-8.4 0 8.4-5.2m-6.4-2h4.4m-4.4 9.2h4.4M517.4 1558v9.2m-4.2-7.2 8.4 5.2m-8.4 0 8.4-5.2m-6.4-2h4.4m-4.4 9.2h4.4M522.2 1561.6v9.2m-4.2-7.2 8.4 5.2m-8.4 0 8.4-5.2m-6.4-2h4.4m-4.4 9.2h4.4M526.9 1563.1v9.2m-4.2-7.2 8.4 5.2m-8.4 0 8.4-5.2m-6.4-2h4.4m-4.4 9.2h4.4M531.4 1563.4v9.2m-4.2-7.2 8.4 5.2m-8.4 0 8.4-5.2m-6.4-2h4.4m-4.4 9.2h4.4M535.7 1563.2v9.2m-4.2-7.2 8.4 5.2m-8.4 0 8.4-5.2m-6.4-2h4.4m-4.4 9.2h4.4M539.9 1565.6v9.2m-4.2-7.2 8.4 5.2m-8.4 0 8.4-5.2m-6.4-2h4.4m-4.4 9.2h4.4M543.9 1568.7v9.2m-4.2-7.2 8.4 5.2m-8.4 0 8.4-5.2m-6.4-2h4.4m-4.4 9.2h4.4M547.9 1569.1v9.2m-4.2-7.2 8.4 5.2m-8.4 0 8.4-5.2m-6.4-2h4.4m-4.4 9.2h4.4M551.7 1568.3v9.2m-4.2-7.2 8.4 5.2m-8.4 0 8.4-5.2m-6.4-2h4.4m-4.4 9.2h4.4M555.4 1566.9v9.2m-4.2-7.2 8.4 5.2m-8.4 0 8.4-5.2m-6.4-2h4.4m-4.4 9.2h4.4M559 1565.2v9.2m-4.2-7.2 8.4 5.2m-8.4 0 8.4-5.2m-6.4-2h4.4m-4.4 9.2h4.4M562.4 1563.2v9.2m-4.2-7.2 8.4 5.2m-8.4 0 8.4-5.2m-6.4-2h4.4m-4.4 9.2h4.4M565.9 1561v9.2m-4.2-7.2 8.4 5.2m-8.4 0 8.4-5.2m-6.4-2h4.4m-4.4 9.2h4.4M569 1559.5v9.2m-4.2-7.2 8.4 5.2m-8.4 0 8.4-5.2m-6.4-2h4.4m-4.4 9.2h4.4M572 1558.4v9.2m-4.2-7.2 8.4 5.2m-8.4 0 8.4-5.2m-6.4-2h4.4m-4.4 9.2h4.4M575.2 1557.4v9.2m-4.2-7.2 8.4 5.2m-8.4 0 8.4-5.2m-6.4-2h4.4m-4.4 9.2h4.4M578.1 1556.5v9.2m-4.2-7.2 8.4 5.2m-8.4 0 8.4-5.2m-6.4-2h4.4m-4.4 9.2h4.4M580.8 1555.6v9.2m-4.2-7.2 8.4 5.2m-8.4 0 8.4-5.2m-6.4-2h4.4m-4.4 9.2h4.4M583.5 1554.7v9.2m-4.2-7.2 8.4 5.2m-8.4 0 8.4-5.2m-6.4-2h4.4m-4.4 9.2h4.4M586.3 1553.8v9.2m-4.2-7.2 8.4 5.2m-8.4 0 8.4-5.2m-6.4-2h4.4m-4.4 9.2h4.4M589 1552.9v9.2m-4.2-7.2 8.4 5.2m-8.4 0 8.4-5.2m-6.4-2h4.4m-4.4 9.2h4.4M591.9 1551.9v9.2m-4.2-7.2 8.4 5.2m-8.4 0 8.4-5.2m-6.4-2h4.4m-4.4 9.2h4.4M594.8 1550.9v9.2m-4.2-7.2 8.4 5.2m-8.4 0 8.4-5.2m-6.4-2h4.4m-4.4 9.2h4.4M597.4 1550.1v9.2m-4.2-7.2 8.4 5.2m-8.4 0 8.4-5.2m-6.4-2h4.4m-4.4 9.2h4.4M600.2 1549.2v9.2m-4.2-7.2 8.4 5.2m-8.4 0 8.4-5.2m-6.4-2h4.4m-4.4 9.2h4.4M602.9 1548.5v9.2m-4.2-7.2 8.4 5.2m-8.4 0 8.4-5.2m-6.4-2h4.4m-4.4 9.2h4.4M605.9 1547.8v9.2m-4.2-7.2 8.4 5.2m-8.4 0 8.4-5.2m-6.4-2h4.4m-4.4 9.2h4.4M608.4 1547.1v9.2m-4.2-7.2 8.4 5.2m-8.4 0 8.4-5.2m-6.4-2h4.4m-4.4 9.2h4.4M610.9 1546.4v9.2m-4.2-7.2 8.4 5.2m-8.4 0 8.4-5.2m-6.4-2h4.4m-4.4 9.2h4.4M613.4 1545.5v9.2m-4.2-7.2 8.4 5.2m-8.4 0 8.4-5.2m-6.4-2h4.4m-4.4 9.2h4.4M615.9 1544.6v9.2m-4.2-7.2 8.4 5.2m-8.4 0 8.4-5.2m-6.4-2h4.4m-4.4 9.2h4.4M618.8 1543.1v9.2m-4.2-7.2 8.4 5.2m-8.4 0 8.4-5.2m-6.4-2h4.4m-4.4 9.2h4.4M621.7 1541.4v9.2m-4.2-7.2 8.4 5.2m-8.4 0 8.4-5.2m-6.4-2h4.4m-4.4 9.2h4.4M624.6 1539.5v9.2m-4.2-7.2 8.4 5.2m-8.4 0 8.4-5.2m-6.4-2h4.4m-4.4 9.2h4.4M627.5 1537.4v9.2m-4.2-7.2 8.4 5.2m-8.4 0 8.4-5.2m-6.4-2h4.4m-4.4 9.2h4.4M630.3 1535.3v9.2m-4.2-7.2 8.4 5.2m-8.4 0 8.4-5.2m-6.4-2h4.4m-4.4 9.2h4.4M633.2 1533v9.2m-4.2-7.2 8.4 5.2m-8.4 0 8.4-5.2m-6.4-2h4.4m-4.4 9.2h4.4M636 1530.7v9.2m-4.2-7.2 8.4 5.2m-8.4 0 8.4-5.2m-6.4-2h4.4m-4.4 9.2h4.4M638.9 1528.4v9.2m-4.2-7.2 8.4 5.2m-8.4 0 8.4-5.2m-6.4-2h4.4m-4.4 9.2h4.4M641.7 1526v9.2m-4.2-7.2 8.4 5.2m-8.4 0 8.4-5.2m-6.4-2h4.4m-4.4 9.2h4.4M644.6 1523.5v9.2m-4.2-7.2 8.4 5.2m-8.4 0 8.4-5.2m-6.4-2h4.4m-4.4 9.2h4.4M647.4 1520.8v9.2m-4.2-7.2 8.4 5.2m-8.4 0 8.4-5.2m-6.4-2h4.4m-4.4 9.2h4.4M650.3 1517.8v9.2m-4.2-7.2 8.4 5.2m-8.4 0 8.4-5.2m-6.4-2h4.4m-4.4 9.2h4.4M653.1 1514.7v9.2m-4.2-7.2 8.4 5.2m-8.4 0 8.4-5.2m-6.4-2h4.4m-4.4 9.2h4.4M656 1511.2v9.2m-4.2-7.2 8.4 5.2m-8.4 0 8.4-5.2m-6.4-2h4.4m-4.4 9.2h4.4M658.8 1507.5v9.2m-4.2-7.2 8.4 5.2m-8.4 0 8.4-5.2m-6.4-2h4.4m-4.4 9.2h4.4M661.7 1503.7v9.2m-4.2-7.2 8.4 5.2m-8.4 0 8.4-5.2m-6.4-2h4.4m-4.4 9.2h4.4M664.5 1499.8v9.2m-4.2-7.2 8.4 5.2m-8.4 0 8.4-5.2m-6.4-2h4.4m-4.4 9.2h4.4M667.4 1495.9v9.2m-4.2-7.2 8.4 5.2m-8.4 0 8.4-5.2m-6.4-2h4.4m-4.4 9.2h4.4M670.2 1492.1v9.2m-4.2-7.2 8.4 5.2m-8.4 0 8.4-5.2m-6.4-2h4.4m-4.4 9.2h4.4M673.1 1488.1v9.2m-4.2-7.2 8.4 5.2m-8.4 0 8.4-5.2m-6.4-2h4.4m-4.4 9.2h4.4M676.1 1484v9.2m-4.2-7.2 8.4 5.2m-8.4 0 8.4-5.2m-6.4-2h4.4m-4.4 9.2h4.4M679 1480v9.2m-4.2-7.2 8.4 5.2m-8.4 0 8.4-5.2m-6.4-2h4.4m-4.4 9.2h4.4M681.8 1475.9v9.2m-4.2-7.2 8.4 5.2m-8.4 0 8.4-5.2m-6.4-2h4.4m-4.4 9.2h4.4M684.6 1472v9.2m-4.2-7.2 8.4 5.2m-8.4 0 8.4-5.2m-6.4-2h4.4m-4.4 9.2h4.4M687.1 1468.1v9.2m-4.2-7.2 8.4 5.2m-8.4 0 8.4-5.2m-6.4-2h4.4m-4.4 9.2h4.4M689.5 1464.3v9.2m-4.2-7.2 8.4 5.2m-8.4 0 8.4-5.2m-6.4-2h4.4m-4.4 9.2h4.4M692.2 1459.8v9.2m-4.2-7.2 8.4 5.2m-8.4 0 8.4-5.2m-6.4-2h4.4m-4.4 9.2h4.4M694.9 1455.3v9.2m-4.2-7.2 8.4 5.2m-8.4 0 8.4-5.2m-6.4-2h4.4m-4.4 9.2h4.4M697.5 1451v9.2m-4.2-7.2 8.4 5.2m-8.4 0 8.4-5.2m-6.4-2h4.4m-4.4 9.2h4.4M700.2 1446.7v9.2m-4.2-7.2 8.4 5.2m-8.4 0 8.4-5.2m-6.4-2h4.4m-4.4 9.2h4.4M703 1442.6v9.2m-4.2-7.2 8.4 5.2m-8.4 0 8.4-5.2m-6.4-2h4.4m-4.4 9.2h4.4M705.3 1439.2v9.2m-4.2-7.2 8.4 5.2m-8.4 0 8.4-5.2m-6.4-2h4.4m-4.4 9.2h4.4M707.6 1435.8v9.2m-4.2-7.2 8.4 5.2m-8.4 0 8.4-5.2m-6.4-2h4.4m-4.4 9.2h4.4M709.9 1432.5v9.2m-4.2-7.2 8.4 5.2m-8.4 0 8.4-5.2m-6.4-2h4.4m-4.4 9.2h4.4M712.2 1429v9.2m-4.2-7.2 8.4 5.2m-8.4 0 8.4-5.2m-6.4-2h4.4m-4.4 9.2h4.4M714.5 1425.4v9.2m-4.2-7.2 8.4 5.2m-8.4 0 8.4-5.2m-6.4-2h4.4m-4.4 9.2h4.4M716.8 1421.7v9.2m-4.2-7.2 8.4 5.2m-8.4 0 8.4-5.2m-6.4-2h4.4m-4.4 9.2h4.4M719 1417.9v9.2m-4.2-7.2 8.4 5.2m-8.4 0 8.4-5.2m-6.4-2h4.4m-4.4 9.2h4.4M721.3 1414.1v9.2m-4.2-7.2 8.4 5.2m-8.4 0 8.4-5.2m-6.4-2h4.4m-4.4 9.2h4.4M723.6 1410.3v9.2m-4.2-7.2 8.4 5.2m-8.4 0 8.4-5.2m-6.4-2h4.4m-4.4 9.2h4.4M725.9 1406.7v9.2m-4.2-7.2 8.4 5.2m-8.4 0 8.4-5.2m-6.4-2h4.4m-4.4 9.2h4.4M728.2 1403.3v9.2m-4.2-7.2 8.4 5.2m-8.4 0 8.4-5.2m-6.4-2h4.4m-4.4 9.2h4.4M730.5 1399.9v9.2m-4.2-7.2 8.4 5.2m-8.4 0 8.4-5.2m-6.4-2h4.4m-4.4 9.2h4.4M732.7 1396.6v9.2m-4.2-7.2 8.4 5.2m-8.4 0 8.4-5.2m-6.4-2h4.4m-4.4 9.2h4.4M735 1393.5v9.2m-4.2-7.2 8.4 5.2m-8.4 0 8.4-5.2m-6.4-2h4.4m-4.4 9.2h4.4M737.3 1390.5v9.2m-4.2-7.2 8.4 5.2m-8.4 0 8.4-5.2m-6.4-2h4.4m-4.4 9.2h4.4M739.6 1387.6v9.2m-4.2-7.2 8.4 5.2m-8.4 0 8.4-5.2m-6.4-2h4.4m-4.4 9.2h4.4M741.9 1384.9v9.2m-4.2-7.2 8.4 5.2m-8.4 0 8.4-5.2m-6.4-2h4.4m-4.4 9.2h4.4M744.2 1382.3v9.2m-4.2-7.2 8.4 5.2m-8.4 0 8.4-5.2m-6.4-2h4.4m-4.4 9.2h4.4M746.6 1379.9v9.2m-4.2-7.2 8.4 5.2m-8.4 0 8.4-5.2m-6.4-2h4.4m-4.4 9.2h4.4M749 1377.7v9.2m-4.2-7.2 8.4 5.2m-8.4 0 8.4-5.2m-6.4-2h4.4m-4.4 9.2h4.4M751.2 1375.5v9.2m-4.2-7.2 8.4 5.2m-8.4 0 8.4-5.2m-6.4-2h4.4m-4.4 9.2h4.4M753.4 1373.6v9.2m-4.2-7.2 8.4 5.2m-8.4 0 8.4-5.2m-6.4-2h4.4m-4.4 9.2h4.4M755.4 1371.7v9.2m-4.2-7.2 8.4 5.2m-8.4 0 8.4-5.2m-6.4-2h4.4m-4.4 9.2h4.4M757.6 1369.5v9.2m-4.2-7.2 8.4 5.2m-8.4 0 8.4-5.2m-6.4-2h4.4m-4.4 9.2h4.4M759.7 1367.4v9.2m-4.2-7.2 8.4 5.2m-8.4 0 8.4-5.2m-6.4-2h4.4m-4.4 9.2h4.4M762 1365.5v9.2m-4.2-7.2 8.4 5.2m-8.4 0 8.4-5.2m-6.4-2h4.4m-4.4 9.2h4.4M764.1 1364.3v9.2m-4.2-7.2 8.4 5.2m-8.4 0 8.4-5.2m-6.4-2h4.4m-4.4 9.2h4.4M766.1 1364.2v9.2m-4.2-7.2 8.4 5.2m-8.4 0 8.4-5.2m-6.4-2h4.4m-4.4 9.2h4.4M768.2 1365.2v9.2m-4.2-7.2 8.4 5.2m-8.4 0 8.4-5.2m-6.4-2h4.4m-4.4 9.2h4.4M770.2 1366.8v9.2m-4.2-7.2 8.4 5.2m-8.4 0 8.4-5.2m-6.4-2h4.4m-4.4 9.2h4.4M779 1395v9.2m-4.2-7.2 8.4 5.2m-8.4 0 8.4-5.2m-6.4-2h4.4m-4.4 9.2h4.4M785 1440.4v9.2m-4.2-7.2 8.4 5.2m-8.4 0 8.4-5.2m-6.4-2h4.4m-4.4 9.2h4.4"/>
<path fill="none" stroke="#e69f00" stroke-width="1.0" d="M293.6 1572.8h7.6v7.6h-7.6zm3.8 0v7.6m-3.8-3.8h7.6M303.5 1561.8h7.6v7.6h-7.6zm3.8 0v7.6m-3.8-3.8h7.6M313.3 1555.8h7.6v7.6h-7.6zm3.8 0v7.6m-3.8-3.8h7.6M323 1543.4h7.6v7.6h-7.6zm3.8 0v7.6m-3.8-3.8h7.6M332.6 1534.4h7.6v7.6h-7.6zm3.8 0v7.6m-3.8-3.8h7.6M341.9 1527.5h7.6v7.6h-7.6zm3.8 0v7.6m-3.8-3.8h7.6M351.1 1521.4h7.6v7.6h-7.6zm3.8 0v7.6m-3.8-3.8h7.6M360.2 1509.4h7.6v7.6h-7.6zm3.8 0v7.6m-3.8-3.8h7.6M369.4 1496.8h7.6v7.6h-7.6zm3.8 0v7.6m-3.8-3.8h7.6M378.2 1490.8h7.6v7.6h-7.6zm3.8 0v7.6m-3.8-3.8h7.6M386.9 1486.7h7.6v7.6h-7.6zm3.8 0v7.6m-3.8-3.8h7.6M395.3 1484.6h7.6v7.6h-7.6zm3.8 0v7.6m-3.8-3.8h7.6M403.5 1482.7h7.6v7.6h-7.6zm3.8 0v7.6m-3.8-3.8h7.6M411.6 1484.8h7.6v7.6h-7.6zm3.8 0v7.6m-3.8-3.8h7.6M419.5 1488.1h7.6v7.6h-7.6zm3.8 0v7.6m-3.8-3.8h7.6M427.2 1490h7.6v7.6h-7.6zm3.8 0v7.6m-3.8-3.8h7.6M434.6 1491.5h7.6v7.6h-7.6zm3.8 0v7.6m-3.8-3.8h7.6M442.2 1493.2h7.6v7.6h-7.6zm3.8 0v7.6m-3.8-3.8h7.6M449.3 1494.7h7.6v7.6h-7.6zm3.8 0v7.6m-3.8-3.8h7.6M456.2 1495.5h7.6v7.6h-7.6zm3.8 0v7.6m-3.8-3.8h7.6M463 1496.2h7.6v7.6h-7.6zm3.8 0v7.6m-3.8-3.8h7.6M469.6 1500.9h7.6v7.6h-7.6zm3.8 0v7.6m-3.8-3.8h7.6M476.2 1506h7.6v7.6h-7.6zm3.8 0v7.6m-3.8-3.8h7.6M482.4 1511.2h7.6v7.6h-7.6zm3.8 0v7.6m-3.8-3.8h7.6M488.4 1516.3h7.6v7.6h-7.6zm3.8 0v7.6m-3.8-3.8h7.6M494.1 1521.8h7.6v7.6h-7.6zm3.8 0v7.6m-3.8-3.8h7.6M499.5 1527.5h7.6v7.6h-7.6zm3.8 0v7.6m-3.8-3.8h7.6M504.9 1531.4h7.6v7.6h-7.6zm3.8 0v7.6m-3.8-3.8h7.6M510.1 1533.5h7.6v7.6h-7.6zm3.8 0v7.6m-3.8-3.8h7.6M515.1 1534.5h7.6v7.6h-7.6zm3.8 0v7.6m-3.8-3.8h7.6M520.1 1535.2h7.6v7.6h-7.6zm3.8 0v7.6m-3.8-3.8h7.6M525 1535.9h7.6v7.6h-7.6zm3.8 0v7.6m-3.8-3.8h7.6M529.5 1536.3h7.6v7.6h-7.6zm3.8 0v7.6m-3.8-3.8h7.6M534.1 1536.4h7.6v7.6h-7.6zm3.8 0v7.6m-3.8-3.8h7.6M538.6 1536h7.6v7.6h-7.6zm3.8 0v7.6m-3.8-3.8h7.6M543 1535.4h7.6v7.6h-7.6zm3.8 0v7.6m-3.8-3.8h7.6M547.3 1534.6h7.6v7.6h-7.6zm3.8 0v7.6m-3.8-3.8h7.6M551.5 1533.6h7.6v7.6h-7.6zm3.8 0v7.6m-3.8-3.8h7.6M555.2 1532.6h7.6v7.6h-7.6zm3.8 0v7.6m-3.8-3.8h7.6M558.9 1531.6h7.6v7.6h-7.6zm3.8 0v7.6m-3.8-3.8h7.6M562.5 1530.9h7.6v7.6h-7.6zm3.8 0v7.6m-3.8-3.8h7.6M566.2 1530.2h7.6v7.6h-7.6zm3.8 0v7.6m-3.8-3.8h7.6M569.8 1529.7h7.6v7.6h-7.6zm3.8 0v7.6m-3.8-3.8h7.6M573.1 1529.5h7.6v7.6h-7.6zm3.8 0v7.6m-3.8-3.8h7.6M576.6 1529.6h7.6v7.6h-7.6zm3.8 0v7.6m-3.8-3.8h7.6M579.6 1530h7.6v7.6h-7.6zm3.8 0v7.6m-3.8-3.8h7.6M582.7 1530.5h7.6v7.6h-7.6zm3.8 0v7.6m-3.8-3.8h7.6M585.9 1531h7.6v7.6h-7.6zm3.8 0v7.6m-3.8-3.8h7.6M589.1 1531.2h7.6v7.6h-7.6zm3.8 0v7.6m-3.8-3.8h7.6M591.9 1531h7.6v7.6h-7.6zm3.8 0v7.6m-3.8-3.8h7.6M595 1530.5h7.6v7.6h-7.6zm3.8 0v7.6m-3.8-3.8h7.6M598.2 1529.8h7.6v7.6h-7.6zm3.8 0v7.6m-3.8-3.8h7.6M601.3 1529h7.6v7.6h-7.6zm3.8 0v7.6m-3.8-3.8h7.6M604.2 1528.4h7.6v7.6h-7.6zm3.8 0v7.6m-3.8-3.8h7.6M607.1 1527.8h7.6v7.6h-7.6zm3.8 0v7.6m-3.8-3.8h7.6M609.9 1528.3h7.6v7.6h-7.6zm3.8 0v7.6m-3.8-3.8h7.6M612.6 1529.5h7.6v7.6h-7.6zm3.8 0v7.6m-3.8-3.8h7.6M615.5 1528.8h7.6v7.6h-7.6zm3.8 0v7.6m-3.8-3.8h7.6M618.2 1528h7.6v7.6h-7.6zm3.8 0v7.6m-3.8-3.8h7.6M621.2 1527h7.6v7.6h-7.6zm3.8 0v7.6m-3.8-3.8h7.6M624.4 1525.7h7.6v7.6h-7.6zm3.8 0v7.6m-3.8-3.8h7.6M627.5 1524.2h7.6v7.6h-7.6zm3.8 0v7.6m-3.8-3.8h7.6M630.5 1522.6h7.6v7.6h-7.6zm3.8 0v7.6m-3.8-3.8h7.6M633.4 1520.8h7.6v7.6h-7.6zm3.8 0v7.6m-3.8-3.8h7.6M636.2 1518.7h7.6v7.6h-7.6zm3.8 0v7.6m-3.8-3.8h7.6M639.1 1516.4h7.6v7.6h-7.6zm3.8 0v7.6m-3.8-3.8h7.6M641.9 1514h7.6v7.6h-7.6zm3.8 0v7.6m-3.8-3.8h7.6M644.8 1511.5h7.6v7.6h-7.6zm3.8 0v7.6m-3.8-3.8h7.6M647.6 1508.9h7.6v7.6h-7.6zm3.8 0v7.6m-3.8-3.8h7.6M650.5 1506.3h7.6v7.6h-7.6zm3.8 0v7.6m-3.8-3.8h7.6M653.3 1503.6h7.6v7.6h-7.6zm3.8 0v7.6m-3.8-3.8h7.6M656.2 1500.8h7.6v7.6h-7.6zm3.8 0v7.6m-3.8-3.8h7.6M659 1497.9h7.6v7.6h-7.6zm3.8 0v7.6m-3.8-3.8h7.6M661.9 1494.9h7.6v7.6h-7.6zm3.8 0v7.6m-3.8-3.8h7.6M664.7 1491.7h7.6v7.6h-7.6zm3.8 0v7.6m-3.8-3.8h7.6M667.6 1488.3h7.6v7.6h-7.6zm3.8 0v7.6m-3.8-3.8h7.6M670.5 1484.7h7.6v7.6h-7.6zm3.8 0v7.6m-3.8-3.8h7.6M673.5 1481h7.6v7.6h-7.6zm3.8 0v7.6m-3.8-3.8h7.6M676.4 1477.2h7.6v7.6h-7.6zm3.8 0v7.6m-3.8-3.8h7.6M679.1 1473.4h7.6v7.6h-7.6zm3.8 0v7.6m-3.8-3.8h7.6M681.8 1469.5h7.6v7.6h-7.6zm3.8 0v7.6m-3.8-3.8h7.6M684.8 1464.8h7.6v7.6h-7.6zm3.8 0v7.6m-3.8-3.8h7.6M687.5 1459.9h7.6v7.6h-7.6zm3.8 0v7.6m-3.8-3.8h7.6M690.2 1455.1h7.6v7.6h-7.6zm3.8 0v7.6m-3.8-3.8h7.6M692.8 1450.2h7.6v7.6h-7.6zm3.8 0v7.6m-3.8-3.8h7.6M695.5 1445.5h7.6v7.6h-7.6zm3.8 0v7.6m-3.8-3.8h7.6M698.3 1441h7.6v7.6h-7.6zm3.8 0v7.6m-3.8-3.8h7.6M701 1436.5h7.6v7.6h-7.6zm3.8 0v7.6m-3.8-3.8h7.6M703.8 1432.2h7.6v7.6h-7.6zm3.8 0v7.6m-3.8-3.8h7.6M706.5 1427.7h7.6v7.6h-7.6zm3.8 0v7.6m-3.8-3.8h7.6M709.3 1423.2h7.6v7.6h-7.6zm3.8 0v7.6m-3.8-3.8h7.6M712 1418.4h7.6v7.6h-7.6zm3.8 0v7.6m-3.8-3.8h7.6M714.3 1414.2h7.6v7.6h-7.6zm3.8 0v7.6m-3.8-3.8h7.6M716.6 1410h7.6v7.6h-7.6zm3.8 0v7.6m-3.8-3.8h7.6M718.9 1405.9h7.6v7.6h-7.6zm3.8 0v7.6m-3.8-3.8h7.6M721.2 1402.1h7.6v7.6h-7.6zm3.8 0v7.6m-3.8-3.8h7.6M723.5 1398.5h7.6v7.6h-7.6zm3.8 0v7.6m-3.8-3.8h7.6M725.7 1395.3h7.6v7.6h-7.6zm3.8 0v7.6m-3.8-3.8h7.6M728 1392.3h7.6v7.6h-7.6zm3.8 0v7.6m-3.8-3.8h7.6M730.3 1389.5h7.6v7.6h-7.6zm3.8 0v7.6m-3.8-3.8h7.6M732.6 1386.8h7.6v7.6h-7.6zm3.8 0v7.6m-3.8-3.8h7.6M734.9 1384.2h7.6v7.6h-7.6zm3.8 0v7.6m-3.8-3.8h7.6M737.2 1381.6h7.6v7.6h-7.6zm3.8 0v7.6m-3.8-3.8h7.6M739.5 1379h7.6v7.6h-7.6zm3.8 0v7.6m-3.8-3.8h7.6M741.9 1376.5h7.6v7.6h-7.6zm3.8 0v7.6m-3.8-3.8h7.6M744.2 1374.1h7.6v7.6h-7.6zm3.8 0v7.6m-3.8-3.8h7.6M746.5 1371.9h7.6v7.6h-7.6zm3.8 0v7.6m-3.8-3.8h7.6M748.7 1369.9h7.6v7.6h-7.6zm3.8 0v7.6m-3.8-3.8h7.6M751.2 1367.7h7.6v7.6h-7.6zm3.8 0v7.6m-3.8-3.8h7.6M753.4 1365.8h7.6v7.6h-7.6zm3.8 0v7.6m-3.8-3.8h7.6M755.8 1363.9h7.6v7.6h-7.6zm3.8 0v7.6m-3.8-3.8h7.6M758.1 1362.5h7.6v7.6h-7.6zm3.8 0v7.6m-3.8-3.8h7.6M760.3 1361.7h7.6v7.6h-7.6zm3.8 0v7.6m-3.8-3.8h7.6M762.6 1361.7h7.6v7.6h-7.6zm3.8 0v7.6m-3.8-3.8h7.6M764.9 1362.5h7.6v7.6h-7.6zm3.8 0v7.6m-3.8-3.8h7.6M767.3 1363.9h7.6v7.6h-7.6zm3.8 0v7.6m-3.8-3.8h7.6M776.1 1385.5h7.6v7.6h-7.6zm3.8 0v7.6m-3.8-3.8h7.6M782.9 1425.8h7.6v7.6h-7.6zm3.8 0v7.6m-3.8-3.8h7.6"/>
<path fill="#eee03c" stroke="none" d="M162 1722.1h7.8v7.8h-7.8zM173.3 1709.8h7.8v7.8h-7.8zM184.9 1697.6h7.8v7.8h-7.8zM196.8 1684.1h7.8v7.8h-7.8zM208.8 1670.4h7.8v7.8h-7.8zM220.8 1654.3h7.8v7.8h-7.8zM233 1639h7.8v7.8h-7.8zM245.2 1625.5h7.8v7.8h-7.8zM257.3 1611.6h7.8v7.8h-7.8zM269.3 1595h7.8v7.8h-7.8zM281.1 1579.9h7.8v7.8h-7.8zM293 1568.6h7.8v7.8h-7.8zM304.6 1556.5h7.8v7.8h-7.8zM316.2 1544.2h7.8v7.8h-7.8zM327.6 1532.9h7.8v7.8h-7.8zM339 1521.5h7.8v7.8h-7.8zM350.1 1512.3h7.8v7.8h-7.8zM361.1 1504.3h7.8v7.8h-7.8zM371.8 1499.8h7.8v7.8h-7.8zM382.3 1495.6h7.8v7.8h-7.8zM392.5 1491.3h7.8v7.8h-7.8zM402.3 1487.3h7.8v7.8h-7.8zM412 1483.4h7.8v7.8h-7.8zM421.4 1479.7h7.8v7.8h-7.8zM430.7 1477.7h7.8v7.8h-7.8zM439.4 1477.5h7.8v7.8h-7.8zM448.2 1476.8h7.8v7.8h-7.8zM456.7 1475.9h7.8v7.8h-7.8zM464.9 1475.6h7.8v7.8h-7.8zM473.1 1475.7h7.8v7.8h-7.8zM480.4 1475.8h7.8v7.8h-7.8zM487.5 1475.6h7.8v7.8h-7.8zM494.2 1475.2h7.8v7.8h-7.8zM501.2 1474.3h7.8v7.8h-7.8zM507.4 1473.3h7.8v7.8h-7.8zM513.8 1471.9h7.8v7.8h-7.8zM520.1 1470.6h7.8v7.8h-7.8zM525.9 1469.8h7.8v7.8h-7.8zM531.6 1469.3h7.8v7.8h-7.8zM537.4 1468.8h7.8v7.8h-7.8zM542.6 1468.4h7.8v7.8h-7.8zM547.9 1467.9h7.8v7.8h-7.8zM553.1 1467.8h7.8v7.8h-7.8zM557.7 1468.2h7.8v7.8h-7.8zM562.3 1469.2h7.8v7.8h-7.8zM566.9 1470.4h7.8v7.8h-7.8zM571 1471.7h7.8v7.8h-7.8zM575 1472.9h7.8v7.8h-7.8zM579 1474.3h7.8v7.8h-7.8zM583.1 1475.8h7.8v7.8h-7.8zM587.1 1477.3h7.8v7.8h-7.8zM591.2 1478.7h7.8v7.8h-7.8zM594.9 1479.9h7.8v7.8h-7.8zM598.8 1481h7.8v7.8h-7.8zM602.5 1482.1h7.8v7.8h-7.8zM606.1 1483.1h7.8v7.8h-7.8zM609.6 1484.3h7.8v7.8h-7.8zM613.2 1484.8h7.8v7.8h-7.8zM617 1484.4h7.8v7.8h-7.8zM620.5 1483.8h7.8v7.8h-7.8zM624.3 1483.1h7.8v7.8h-7.8zM628 1482.1h7.8v7.8h-7.8zM631.5 1481h7.8v7.8h-7.8zM635 1479.6h7.8v7.8h-7.8zM638.4 1478h7.8v7.8h-7.8zM641.8 1476.2h7.8v7.8h-7.8zM645.2 1474.2h7.8v7.8h-7.8zM648.6 1472h7.8v7.8h-7.8zM652.1 1469.6h7.8v7.8h-7.8zM655.5 1466.9h7.8v7.8h-7.8zM658.9 1464.1h7.8v7.8h-7.8zM662.3 1461.1h7.8v7.8h-7.8zM665.7 1458.1h7.8v7.8h-7.8zM669.2 1454.7h7.8v7.8h-7.8zM672.8 1451.2h7.8v7.8h-7.8zM676.3 1447.7h7.8v7.8h-7.8zM679.6 1444.2h7.8v7.8h-7.8zM683.2 1440.4h7.8v7.8h-7.8zM687 1436.4h7.8v7.8h-7.8zM690.5 1432.6h7.8v7.8h-7.8zM694 1428.3h7.8v7.8h-7.8zM697.7 1423.5h7.8v7.8h-7.8zM700.9 1418.8h7.8v7.8h-7.8zM704.1 1413.9h7.8v7.8h-7.8zM707.4 1408.9h7.8v7.8h-7.8zM710.6 1403.8h7.8v7.8h-7.8zM713.8 1398.5h7.8v7.8h-7.8zM717 1393.1h7.8v7.8h-7.8zM720.2 1387.9h7.8v7.8h-7.8zM723.4 1383h7.8v7.8h-7.8zM726.6 1378.5h7.8v7.8h-7.8zM729.8 1374.3h7.8v7.8h-7.8zM732.9 1370.4h7.8v7.8h-7.8zM736.1 1367h7.8v7.8h-7.8zM739.3 1364.3h7.8v7.8h-7.8zM742.5 1362h7.8v7.8h-7.8zM745.3 1360.4h7.8v7.8h-7.8zM748.5 1358.8h7.8v7.8h-7.8zM751.7 1357.4h7.8v7.8h-7.8zM754.5 1356.5h7.8v7.8h-7.8zM757.4 1355.9h7.8v7.8h-7.8zM760.1 1355.3h7.8v7.8h-7.8zM763.2 1354.8h7.8v7.8h-7.8zM766 1354.2h7.8v7.8h-7.8zM768.8 1353.7h7.8v7.8h-7.8zM771.7 1353.3h7.8v7.8h-7.8zM776.8 1366.6h7.8v7.8h-7.8zM783.7 1395.7h7.8v7.8h-7.8z"/>
<path fill="none" stroke="#1f78c1" stroke-width="1.0" d="M144.3 1732.5a3.8 3.8 0 1 0 7.6 0a3.8 3.8 0 1 0-7.6 0zh7.6m-3.8-4.4v8.8M155.9 1719.4a3.8 3.8 0 1 0 7.6 0a3.8 3.8 0 1 0-7.6 0zh7.6m-3.8-4.4v8.8M167.7 1704.3a3.8 3.8 0 1 0 7.6 0a3.8 3.8 0 1 0-7.6 0zh7.6m-3.8-4.4v8.8M179.4 1690.3a3.8 3.8 0 1 0 7.6 0a3.8 3.8 0 1 0-7.6 0zh7.6m-3.8-4.4v8.8M191.6 1677.1a3.8 3.8 0 1 0 7.6 0a3.8 3.8 0 1 0-7.6 0zh7.6m-3.8-4.4v8.8M204 1663.5a3.8 3.8 0 1 0 7.6 0a3.8 3.8 0 1 0-7.6 0zh7.6m-3.8-4.4v8.8M216.2 1649.4a3.8 3.8 0 1 0 7.6 0a3.8 3.8 0 1 0-7.6 0zh7.6m-3.8-4.4v8.8M228.4 1635.2a3.8 3.8 0 1 0 7.6 0a3.8 3.8 0 1 0-7.6 0zh7.6m-3.8-4.4v8.8M240.6 1623a3.8 3.8 0 1 0 7.6 0a3.8 3.8 0 1 0-7.6 0zh7.6m-3.8-4.4v8.8M252.8 1610.8a3.8 3.8 0 1 0 7.6 0a3.8 3.8 0 1 0-7.6 0zh7.6m-3.8-4.4v8.8M265 1599.5a3.8 3.8 0 1 0 7.6 0a3.8 3.8 0 1 0-7.6 0zh7.6m-3.8-4.4v8.8M277.3 1586.5a3.8 3.8 0 1 0 7.6 0a3.8 3.8 0 1 0-7.6 0zh7.6m-3.8-4.4v8.8M289.3 1573.4a3.8 3.8 0 1 0 7.6 0a3.8 3.8 0 1 0-7.6 0zh7.6m-3.8-4.4v8.8M301.3 1560.8a3.8 3.8 0 1 0 7.6 0a3.8 3.8 0 1 0-7.6 0zh7.6m-3.8-4.4v8.8M313 1549.8a3.8 3.8 0 1 0 7.6 0a3.8 3.8 0 1 0-7.6 0zh7.6m-3.8-4.4v8.8M324.6 1539.2a3.8 3.8 0 1 0 7.6 0a3.8 3.8 0 1 0-7.6 0zh7.6m-3.8-4.4v8.8M336.2 1528.7a3.8 3.8 0 1 0 7.6 0a3.8 3.8 0 1 0-7.6 0zh7.6m-3.8-4.4v8.8M347.7 1518.8a3.8 3.8 0 1 0 7.6 0a3.8 3.8 0 1 0-7.6 0zh7.6m-3.8-4.4v8.8M358.7 1509.4a3.8 3.8 0 1 0 7.6 0a3.8 3.8 0 1 0-7.6 0zh7.6m-3.8-4.4v8.8M369.8 1501.5a3.8 3.8 0 1 0 7.6 0a3.8 3.8 0 1 0-7.6 0zh7.6m-3.8-4.4v8.8M380.6 1493.8a3.8 3.8 0 1 0 7.6 0a3.8 3.8 0 1 0-7.6 0zh7.6m-3.8-4.4v8.8M390.9 1485.5a3.8 3.8 0 1 0 7.6 0a3.8 3.8 0 1 0-7.6 0zh7.6m-3.8-4.4v8.8M401 1478.9a3.8 3.8 0 1 0 7.6 0a3.8 3.8 0 1 0-7.6 0zh7.6m-3.8-4.4v8.8M410.9 1474.4a3.8 3.8 0 1 0 7.6 0a3.8 3.8 0 1 0-7.6 0zh7.6m-3.8-4.4v8.8M420.3 1471a3.8 3.8 0 1 0 7.6 0a3.8 3.8 0 1 0-7.6 0zh7.6m-3.8-4.4v8.8M429.6 1468.8a3.8 3.8 0 1 0 7.6 0a3.8 3.8 0 1 0-7.6 0zh7.6m-3.8-4.4v8.8M438.6 1465.5a3.8 3.8 0 1 0 7.6 0a3.8 3.8 0 1 0-7.6 0zh7.6m-3.8-4.4v8.8M447.3 1463.3a3.8 3.8 0 1 0 7.6 0a3.8 3.8 0 1 0-7.6 0zh7.6m-3.8-4.4v8.8M455.6 1461.5a3.8 3.8 0 1 0 7.6 0a3.8 3.8 0 1 0-7.6 0zh7.6m-3.8-4.4v8.8M463.8 1462a3.8 3.8 0 1 0 7.6 0a3.8 3.8 0 1 0-7.6 0zh7.6m-3.8-4.4v8.8M471.7 1460.4a3.8 3.8 0 1 0 7.6 0a3.8 3.8 0 1 0-7.6 0zh7.6m-3.8-4.4v8.8M479.4 1455.8a3.8 3.8 0 1 0 7.6 0a3.8 3.8 0 1 0-7.6 0zh7.6m-3.8-4.4v8.8M487 1454.4a3.8 3.8 0 1 0 7.6 0a3.8 3.8 0 1 0-7.6 0zh7.6m-3.8-4.4v8.8M494.3 1454a3.8 3.8 0 1 0 7.6 0a3.8 3.8 0 1 0-7.6 0zh7.6m-3.8-4.4v8.8M501.4 1453.5a3.8 3.8 0 1 0 7.6 0a3.8 3.8 0 1 0-7.6 0zh7.6m-3.8-4.4v8.8M507.9 1452.3a3.8 3.8 0 1 0 7.6 0a3.8 3.8 0 1 0-7.6 0zh7.6m-3.8-4.4v8.8M514.2 1451.1a3.8 3.8 0 1 0 7.6 0a3.8 3.8 0 1 0-7.6 0zh7.6m-3.8-4.4v8.8M520.3 1451.2a3.8 3.8 0 1 0 7.6 0a3.8 3.8 0 1 0-7.6 0zh7.6m-3.8-4.4v8.8M526.3 1451.9a3.8 3.8 0 1 0 7.6 0a3.8 3.8 0 1 0-7.6 0zh7.6m-3.8-4.4v8.8M532.3 1451.5a3.8 3.8 0 1 0 7.6 0a3.8 3.8 0 1 0-7.6 0zh7.6m-3.8-4.4v8.8M537.8 1450.3a3.8 3.8 0 1 0 7.6 0a3.8 3.8 0 1 0-7.6 0zh7.6m-3.8-4.4v8.8M543.4 1449.3a3.8 3.8 0 1 0 7.6 0a3.8 3.8 0 1 0-7.6 0zh7.6m-3.8-4.4v8.8M548.9 1449.2a3.8 3.8 0 1 0 7.6 0a3.8 3.8 0 1 0-7.6 0zh7.6m-3.8-4.4v8.8M554 1449.7a3.8 3.8 0 1 0 7.6 0a3.8 3.8 0 1 0-7.6 0zh7.6m-3.8-4.4v8.8M559 1450.4a3.8 3.8 0 1 0 7.6 0a3.8 3.8 0 1 0-7.6 0zh7.6m-3.8-4.4v8.8M563.7 1451.5a3.8 3.8 0 1 0 7.6 0a3.8 3.8 0 1 0-7.6 0zh7.6m-3.8-4.4v8.8M568.3 1452.7a3.8 3.8 0 1 0 7.6 0a3.8 3.8 0 1 0-7.6 0zh7.6m-3.8-4.4v8.8M572.9 1454.2a3.8 3.8 0 1 0 7.6 0a3.8 3.8 0 1 0-7.6 0zh7.6m-3.8-4.4v8.8M577.1 1455.8a3.8 3.8 0 1 0 7.6 0a3.8 3.8 0 1 0-7.6 0zh7.6m-3.8-4.4v8.8M581.2 1457.4a3.8 3.8 0 1 0 7.6 0a3.8 3.8 0 1 0-7.6 0zh7.6m-3.8-4.4v8.8M585.4 1459a3.8 3.8 0 1 0 7.6 0a3.8 3.8 0 1 0-7.6 0zh7.6m-3.8-4.4v8.8M589.5 1460.5a3.8 3.8 0 1 0 7.6 0a3.8 3.8 0 1 0-7.6 0zh7.6m-3.8-4.4v8.8M593.7 1461.9a3.8 3.8 0 1 0 7.6 0a3.8 3.8 0 1 0-7.6 0zh7.6m-3.8-4.4v8.8M597.9 1462.9a3.8 3.8 0 1 0 7.6 0a3.8 3.8 0 1 0-7.6 0zh7.6m-3.8-4.4v8.8M601.6 1463.4a3.8 3.8 0 1 0 7.6 0a3.8 3.8 0 1 0-7.6 0zh7.6m-3.8-4.4v8.8M605.4 1463.5a3.8 3.8 0 1 0 7.6 0a3.8 3.8 0 1 0-7.6 0zh7.6m-3.8-4.4v8.8M609.2 1463.3a3.8 3.8 0 1 0 7.6 0a3.8 3.8 0 1 0-7.6 0zh7.6m-3.8-4.4v8.8M613.3 1463a3.8 3.8 0 1 0 7.6 0a3.8 3.8 0 1 0-7.6 0zh7.6m-3.8-4.4v8.8M617.1 1462.6a3.8 3.8 0 1 0 7.6 0a3.8 3.8 0 1 0-7.6 0zh7.6m-3.8-4.4v8.8M621.2 1462a3.8 3.8 0 1 0 7.6 0a3.8 3.8 0 1 0-7.6 0zh7.6m-3.8-4.4v8.8M625.3 1461.4a3.8 3.8 0 1 0 7.6 0a3.8 3.8 0 1 0-7.6 0zh7.6m-3.8-4.4v8.8M629.4 1460.6a3.8 3.8 0 1 0 7.6 0a3.8 3.8 0 1 0-7.6 0zh7.6m-3.8-4.4v8.8M633.4 1459.9a3.8 3.8 0 1 0 7.6 0a3.8 3.8 0 1 0-7.6 0zh7.6m-3.8-4.4v8.8M637.3 1459.1a3.8 3.8 0 1 0 7.6 0a3.8 3.8 0 1 0-7.6 0zh7.6m-3.8-4.4v8.8M641.3 1458.2a3.8 3.8 0 1 0 7.6 0a3.8 3.8 0 1 0-7.6 0zh7.6m-3.8-4.4v8.8M645.3 1457a3.8 3.8 0 1 0 7.6 0a3.8 3.8 0 1 0-7.6 0zh7.6m-3.8-4.4v8.8M649.3 1455.5a3.8 3.8 0 1 0 7.6 0a3.8 3.8 0 1 0-7.6 0zh7.6m-3.8-4.4v8.8M653.3 1453.6a3.8 3.8 0 1 0 7.6 0a3.8 3.8 0 1 0-7.6 0zh7.6m-3.8-4.4v8.8M657.3 1451.4a3.8 3.8 0 1 0 7.6 0a3.8 3.8 0 1 0-7.6 0zh7.6m-3.8-4.4v8.8M661.3 1449a3.8 3.8 0 1 0 7.6 0a3.8 3.8 0 1 0-7.6 0zh7.6m-3.8-4.4v8.8M665.3 1446.3a3.8 3.8 0 1 0 7.6 0a3.8 3.8 0 1 0-7.6 0zh7.6m-3.8-4.4v8.8M669.3 1443.2a3.8 3.8 0 1 0 7.6 0a3.8 3.8 0 1 0-7.6 0zh7.6m-3.8-4.4v8.8M673.5 1439.8a3.8 3.8 0 1 0 7.6 0a3.8 3.8 0 1 0-7.6 0zh7.6m-3.8-4.4v8.8M677.5 1436.3a3.8 3.8 0 1 0 7.6 0a3.8 3.8 0 1 0-7.6 0zh7.6m-3.8-4.4v8.8M681.3 1432.7a3.8 3.8 0 1 0 7.6 0a3.8 3.8 0 1 0-7.6 0zh7.6m-3.8-4.4v8.8M685.2 1428.7a3.8 3.8 0 1 0 7.6 0a3.8 3.8 0 1 0-7.6 0zh7.6m-3.8-4.4v8.8M688.9 1424.7a3.8 3.8 0 1 0 7.6 0a3.8 3.8 0 1 0-7.6 0zh7.6m-3.8-4.4v8.8M692.8 1420a3.8 3.8 0 1 0 7.6 0a3.8 3.8 0 1 0-7.6 0zh7.6m-3.8-4.4v8.8M696.4 1415.7a3.8 3.8 0 1 0 7.6 0a3.8 3.8 0 1 0-7.6 0zh7.6m-3.8-4.4v8.8M700.1 1411.3a3.8 3.8 0 1 0 7.6 0a3.8 3.8 0 1 0-7.6 0zh7.6m-3.8-4.4v8.8M703.8 1406.8a3.8 3.8 0 1 0 7.6 0a3.8 3.8 0 1 0-7.6 0zh7.6m-3.8-4.4v8.8M707.5 1402.1a3.8 3.8 0 1 0 7.6 0a3.8 3.8 0 1 0-7.6 0zh7.6m-3.8-4.4v8.8M710.7 1397.7a3.8 3.8 0 1 0 7.6 0a3.8 3.8 0 1 0-7.6 0zh7.6m-3.8-4.4v8.8M713.9 1392.9a3.8 3.8 0 1 0 7.6 0a3.8 3.8 0 1 0-7.6 0zh7.6m-3.8-4.4v8.8M717.1 1387.9a3.8 3.8 0 1 0 7.6 0a3.8 3.8 0 1 0-7.6 0zh7.6m-3.8-4.4v8.8M720.3 1383a3.8 3.8 0 1 0 7.6 0a3.8 3.8 0 1 0-7.6 0zh7.6m-3.8-4.4v8.8M723.5 1378.5a3.8 3.8 0 1 0 7.6 0a3.8 3.8 0 1 0-7.6 0zh7.6m-3.8-4.4v8.8M726.7 1374a3.8 3.8 0 1 0 7.6 0a3.8 3.8 0 1 0-7.6 0zh7.6m-3.8-4.4v8.8M729.9 1369.7a3.8 3.8 0 1 0 7.6 0a3.8 3.8 0 1 0-7.6 0zh7.6m-3.8-4.4v8.8M733 1365.8a3.8 3.8 0 1 0 7.6 0a3.8 3.8 0 1 0-7.6 0zh7.6m-3.8-4.4v8.8M736.2 1362.3a3.8 3.8 0 1 0 7.6 0a3.8 3.8 0 1 0-7.6 0zh7.6m-3.8-4.4v8.8M739.4 1359.6a3.8 3.8 0 1 0 7.6 0a3.8 3.8 0 1 0-7.6 0zh7.6m-3.8-4.4v8.8M742.6 1357.4a3.8 3.8 0 1 0 7.6 0a3.8 3.8 0 1 0-7.6 0zh7.6m-3.8-4.4v8.8M745.8 1355.6a3.8 3.8 0 1 0 7.6 0a3.8 3.8 0 1 0-7.6 0zh7.6m-3.8-4.4v8.8M749 1354a3.8 3.8 0 1 0 7.6 0a3.8 3.8 0 1 0-7.6 0zh7.6m-3.8-4.4v8.8M752.3 1352.6a3.8 3.8 0 1 0 7.6 0a3.8 3.8 0 1 0-7.6 0zh7.6m-3.8-4.4v8.8M755.6 1351.4a3.8 3.8 0 1 0 7.6 0a3.8 3.8 0 1 0-7.6 0zh7.6m-3.8-4.4v8.8M759 1350.4a3.8 3.8 0 1 0 7.6 0a3.8 3.8 0 1 0-7.6 0zh7.6m-3.8-4.4v8.8M762.1 1349.6a3.8 3.8 0 1 0 7.6 0a3.8 3.8 0 1 0-7.6 0zh7.6m-3.8-4.4v8.8M765.2 1348.9a3.8 3.8 0 1 0 7.6 0a3.8 3.8 0 1 0-7.6 0zh7.6m-3.8-4.4v8.8M768.3 1348.5a3.8 3.8 0 1 0 7.6 0a3.8 3.8 0 1 0-7.6 0zh7.6m-3.8-4.4v8.8M771.3 1348.3a3.8 3.8 0 1 0 7.6 0a3.8 3.8 0 1 0-7.6 0zh7.6m-3.8-4.4v8.8M777.8 1361.1a3.8 3.8 0 1 0 7.6 0a3.8 3.8 0 1 0-7.6 0zh7.6m-3.8-4.4v8.8M784.6 1385.1a3.8 3.8 0 1 0 7.6 0a3.8 3.8 0 1 0-7.6 0zh7.6m-3.8-4.4v8.8"/>
<path fill="#e3211c" stroke="none" d="M153.6 1727.8a3.9 3.9 0 1 0 7.8 0a3.9 3.9 0 1 0-7.8 0zM165.8 1713.7a3.9 3.9 0 1 0 7.8 0a3.9 3.9 0 1 0-7.8 0zM178.4 1698.2a3.9 3.9 0 1 0 7.8 0a3.9 3.9 0 1 0-7.8 0zM191 1683.6a3.9 3.9 0 1 0 7.8 0a3.9 3.9 0 1 0-7.8 0zM204.1 1667.1a3.9 3.9 0 1 0 7.8 0a3.9 3.9 0 1 0-7.8 0zM217.2 1651.5a3.9 3.9 0 1 0 7.8 0a3.9 3.9 0 1 0-7.8 0zM230.4 1636a3.9 3.9 0 1 0 7.8 0a3.9 3.9 0 1 0-7.8 0zM243.4 1620.5a3.9 3.9 0 1 0 7.8 0a3.9 3.9 0 1 0-7.8 0zM256.3 1605.1a3.9 3.9 0 1 0 7.8 0a3.9 3.9 0 1 0-7.8 0zM269.5 1589.3a3.9 3.9 0 1 0 7.8 0a3.9 3.9 0 1 0-7.8 0zM282.5 1573.9a3.9 3.9 0 1 0 7.8 0a3.9 3.9 0 1 0-7.8 0zM295.3 1559.3a3.9 3.9 0 1 0 7.8 0a3.9 3.9 0 1 0-7.8 0zM308 1545.3a3.9 3.9 0 1 0 7.8 0a3.9 3.9 0 1 0-7.8 0zM320.2 1533a3.9 3.9 0 1 0 7.8 0a3.9 3.9 0 1 0-7.8 0zM332.2 1520.7a3.9 3.9 0 1 0 7.8 0a3.9 3.9 0 1 0-7.8 0zM344.2 1508.3a3.9 3.9 0 1 0 7.8 0a3.9 3.9 0 1 0-7.8 0zM356.2 1497.8a3.9 3.9 0 1 0 7.8 0a3.9 3.9 0 1 0-7.8 0zM367.9 1489.7a3.9 3.9 0 1 0 7.8 0a3.9 3.9 0 1 0-7.8 0zM379.4 1480.4a3.9 3.9 0 1 0 7.8 0a3.9 3.9 0 1 0-7.8 0zM390.5 1472.9a3.9 3.9 0 1 0 7.8 0a3.9 3.9 0 1 0-7.8 0zM401.2 1466.6a3.9 3.9 0 1 0 7.8 0a3.9 3.9 0 1 0-7.8 0zM411.6 1460.1a3.9 3.9 0 1 0 7.8 0a3.9 3.9 0 1 0-7.8 0zM421.8 1457.3a3.9 3.9 0 1 0 7.8 0a3.9 3.9 0 1 0-7.8 0zM431.4 1453.2a3.9 3.9 0 1 0 7.8 0a3.9 3.9 0 1 0-7.8 0zM440.7 1451.1a3.9 3.9 0 1 0 7.8 0a3.9 3.9 0 1 0-7.8 0zM449.8 1447.1a3.9 3.9 0 1 0 7.8 0a3.9 3.9 0 1 0-7.8 0zM458.5 1445.9a3.9 3.9 0 1 0 7.8 0a3.9 3.9 0 1 0-7.8 0zM467.1 1443.4a3.9 3.9 0 1 0 7.8 0a3.9 3.9 0 1 0-7.8 0zM475.4 1440.9a3.9 3.9 0 1 0 7.8 0a3.9 3.9 0 1 0-7.8 0zM483.4 1437.6a3.9 3.9 0 1 0 7.8 0a3.9 3.9 0 1 0-7.8 0zM491.1 1435.9a3.9 3.9 0 1 0 7.8 0a3.9 3.9 0 1 0-7.8 0zM498.4 1434a3.9 3.9 0 1 0 7.8 0a3.9 3.9 0 1 0-7.8 0zM505.6 1432.3a3.9 3.9 0 1 0 7.8 0a3.9 3.9 0 1 0-7.8 0zM512.7 1430.2a3.9 3.9 0 1 0 7.8 0a3.9 3.9 0 1 0-7.8 0zM519.6 1428.3a3.9 3.9 0 1 0 7.8 0a3.9 3.9 0 1 0-7.8 0zM526.5 1427.1a3.9 3.9 0 1 0 7.8 0a3.9 3.9 0 1 0-7.8 0zM533.1 1426.4a3.9 3.9 0 1 0 7.8 0a3.9 3.9 0 1 0-7.8 0zM539.6 1426.4a3.9 3.9 0 1 0 7.8 0a3.9 3.9 0 1 0-7.8 0zM545.6 1427a3.9 3.9 0 1 0 7.8 0a3.9 3.9 0 1 0-7.8 0zM551.6 1428.2a3.9 3.9 0 1 0 7.8 0a3.9 3.9 0 1 0-7.8 0zM557.6 1429.4a3.9 3.9 0 1 0 7.8 0a3.9 3.9 0 1 0-7.8 0zM563.1 1430.1a3.9 3.9 0 1 0 7.8 0a3.9 3.9 0 1 0-7.8 0zM568.7 1430.8a3.9 3.9 0 1 0 7.8 0a3.9 3.9 0 1 0-7.8 0zM573.8 1431.6a3.9 3.9 0 1 0 7.8 0a3.9 3.9 0 1 0-7.8 0zM578.8 1432.5a3.9 3.9 0 1 0 7.8 0a3.9 3.9 0 1 0-7.8 0zM583.9 1433.5a3.9 3.9 0 1 0 7.8 0a3.9 3.9 0 1 0-7.8 0zM588.9 1434.4a3.9 3.9 0 1 0 7.8 0a3.9 3.9 0 1 0-7.8 0zM593.5 1435.2a3.9 3.9 0 1 0 7.8 0a3.9 3.9 0 1 0-7.8 0zM598.2 1436.2a3.9 3.9 0 1 0 7.8 0a3.9 3.9 0 1 0-7.8 0zM602.7 1437.4a3.9 3.9 0 1 0 7.8 0a3.9 3.9 0 1 0-7.8 0zM607.4 1438.9a3.9 3.9 0 1 0 7.8 0a3.9 3.9 0 1 0-7.8 0zM612.2 1440.2a3.9 3.9 0 1 0 7.8 0a3.9 3.9 0 1 0-7.8 0zM616.9 1440.9a3.9 3.9 0 1 0 7.8 0a3.9 3.9 0 1 0-7.8 0zM621.7 1441.1a3.9 3.9 0 1 0 7.8 0a3.9 3.9 0 1 0-7.8 0zM626 1441a3.9 3.9 0 1 0 7.8 0a3.9 3.9 0 1 0-7.8 0zM630.4 1440.7a3.9 3.9 0 1 0 7.8 0a3.9 3.9 0 1 0-7.8 0zM634.9 1440.2a3.9 3.9 0 1 0 7.8 0a3.9 3.9 0 1 0-7.8 0zM639.5 1439.5a3.9 3.9 0 1 0 7.8 0a3.9 3.9 0 1 0-7.8 0zM644.1 1438.5a3.9 3.9 0 1 0 7.8 0a3.9 3.9 0 1 0-7.8 0zM648.6 1436.8a3.9 3.9 0 1 0 7.8 0a3.9 3.9 0 1 0-7.8 0zM653.2 1434.4a3.9 3.9 0 1 0 7.8 0a3.9 3.9 0 1 0-7.8 0zM657.8 1431.4a3.9 3.9 0 1 0 7.8 0a3.9 3.9 0 1 0-7.8 0zM662.3 1428.4a3.9 3.9 0 1 0 7.8 0a3.9 3.9 0 1 0-7.8 0zM666.9 1425.6a3.9 3.9 0 1 0 7.8 0a3.9 3.9 0 1 0-7.8 0zM671.6 1422.9a3.9 3.9 0 1 0 7.8 0a3.9 3.9 0 1 0-7.8 0zM676.3 1420.2a3.9 3.9 0 1 0 7.8 0a3.9 3.9 0 1 0-7.8 0zM680.7 1417.5a3.9 3.9 0 1 0 7.8 0a3.9 3.9 0 1 0-7.8 0zM685.2 1414.5a3.9 3.9 0 1 0 7.8 0a3.9 3.9 0 1 0-7.8 0zM689.8 1411.3a3.9 3.9 0 1 0 7.8 0a3.9 3.9 0 1 0-7.8 0zM694.1 1407.7a3.9 3.9 0 1 0 7.8 0a3.9 3.9 0 1 0-7.8 0zM698.3 1403.3a3.9 3.9 0 1 0 7.8 0a3.9 3.9 0 1 0-7.8 0zM702.7 1397.5a3.9 3.9 0 1 0 7.8 0a3.9 3.9 0 1 0-7.8 0zM706.6 1392.1a3.9 3.9 0 1 0 7.8 0a3.9 3.9 0 1 0-7.8 0zM710.6 1387.1a3.9 3.9 0 1 0 7.8 0a3.9 3.9 0 1 0-7.8 0zM714.6 1382a3.9 3.9 0 1 0 7.8 0a3.9 3.9 0 1 0-7.8 0zM718.6 1376.7a3.9 3.9 0 1 0 7.8 0a3.9 3.9 0 1 0-7.8 0zM722.6 1370.6a3.9 3.9 0 1 0 7.8 0a3.9 3.9 0 1 0-7.8 0zM726.6 1364a3.9 3.9 0 1 0 7.8 0a3.9 3.9 0 1 0-7.8 0zM730.2 1358.4a3.9 3.9 0 1 0 7.8 0a3.9 3.9 0 1 0-7.8 0zM733.8 1353.8a3.9 3.9 0 1 0 7.8 0a3.9 3.9 0 1 0-7.8 0zM737.4 1349.9a3.9 3.9 0 1 0 7.8 0a3.9 3.9 0 1 0-7.8 0zM741 1346.6a3.9 3.9 0 1 0 7.8 0a3.9 3.9 0 1 0-7.8 0zM744.6 1344a3.9 3.9 0 1 0 7.8 0a3.9 3.9 0 1 0-7.8 0zM748.3 1342.2a3.9 3.9 0 1 0 7.8 0a3.9 3.9 0 1 0-7.8 0zM752.3 1341.1a3.9 3.9 0 1 0 7.8 0a3.9 3.9 0 1 0-7.8 0zM755.9 1340.4a3.9 3.9 0 1 0 7.8 0a3.9 3.9 0 1 0-7.8 0zM760 1340a3.9 3.9 0 1 0 7.8 0a3.9 3.9 0 1 0-7.8 0zM764 1339.8a3.9 3.9 0 1 0 7.8 0a3.9 3.9 0 1 0-7.8 0zM767.9 1339.8a3.9 3.9 0 1 0 7.8 0a3.9 3.9 0 1 0-7.8 0zM771.5 1339.7a3.9 3.9 0 1 0 7.8 0a3.9 3.9 0 1 0-7.8 0zM777.7 1349.1a3.9 3.9 0 1 0 7.8 0a3.9 3.9 0 1 0-7.8 0zM785.4 1370.5a3.9 3.9 0 1 0 7.8 0a3.9 3.9 0 1 0-7.8 0z"/>
<path fill="none" stroke="#111111" stroke-width="0.95" d="M154.3 1725.7l3.2-5.4 3.2 5.4zm3.2-6.4v7.2M167.4 1710.7l3.2-5.4 3.2 5.4zm3.2-6.4v7.2M180.5 1693.6l3.2-5.4 3.2 5.4zm3.2-6.4v7.2M193.7 1677.7l3.2-5.4 3.2 5.4zm3.2-6.4v7.2M207.2 1661.1l3.2-5.4 3.2 5.4zm3.2-6.4v7.2M220.7 1642.5l3.2-5.4 3.2 5.4zm3.2-6.4v7.2M234.4 1625.1l3.2-5.4 3.2 5.4zm3.2-6.4v7.2M247.9 1607.6l3.2-5.4 3.2 5.4zm3.2-6.4v7.2M261.5 1590.1l3.2-5.4 3.2 5.4zm3.2-6.4v7.2M275.1 1572.9l3.2-5.4 3.2 5.4zm3.2-6.4v7.2M288.6 1556.1l3.2-5.4 3.2 5.4zm3.2-6.4v7.2M302.1 1538.3l3.2-5.4 3.2 5.4zm3.2-6.4v7.2M315.2 1522.6l3.2-5.4 3.2 5.4zm3.2-6.4v7.2M327.9 1509.5l3.2-5.4 3.2 5.4zm3.2-6.4v7.2M340.6 1496.9l3.2-5.4 3.2 5.4zm3.2-6.4v7.2M353.1 1485l3.2-5.4 3.2 5.4zm3.2-6.4v7.2M365.4 1474l3.2-5.4 3.2 5.4zm3.2-6.4v7.2M377.6 1463.5l3.2-5.4 3.2 5.4zm3.2-6.4v7.2M389.3 1455.5l3.2-5.4 3.2 5.4zm3.2-6.4v7.2M400.5 1449.4l3.2-5.4 3.2 5.4zm3.2-6.4v7.2M411.6 1442l3.2-5.4 3.2 5.4zm3.2-6.4v7.2M422.3 1434.8l3.2-5.4 3.2 5.4zm3.2-6.4v7.2M432.4 1430.7l3.2-5.4 3.2 5.4zm3.2-6.4v7.2M442.3 1426.3l3.2-5.4 3.2 5.4zm3.2-6.4v7.2M451.8 1421l3.2-5.4 3.2 5.4zm3.2-6.4v7.2M461 1415.9l3.2-5.4 3.2 5.4zm3.2-6.4v7.2M470.1 1411.3l3.2-5.4 3.2 5.4zm3.2-6.4v7.2M478.7 1406.4l3.2-5.4 3.2 5.4zm3.2-6.4v7.2M487 1402.2l3.2-5.4 3.2 5.4zm3.2-6.4v7.2M495.2 1399.1l3.2-5.4 3.2 5.4zm3.2-6.4v7.2M503 1396.2l3.2-5.4 3.2 5.4zm3.2-6.4v7.2M510.7 1393.6l3.2-5.4 3.2 5.4zm3.2-6.4v7.2M518.1 1391.2l3.2-5.4 3.2 5.4zm3.2-6.4v7.2M525.4 1390.2l3.2-5.4 3.2 5.4zm3.2-6.4v7.2M532.3 1390.3l3.2-5.4 3.2 5.4zm3.2-6.4v7.2M539.3 1390.3l3.2-5.4 3.2 5.4zm3.2-6.4v7.2M546.3 1389.8l3.2-5.4 3.2 5.4zm3.2-6.4v7.2M553.1 1389.5l3.2-5.4 3.2 5.4zm3.2-6.4v7.2M559.5 1389.7l3.2-5.4 3.2 5.4zm3.2-6.4v7.2M565.6 1390.2l3.2-5.4 3.2 5.4zm3.2-6.4v7.2M571.6 1391.2l3.2-5.4 3.2 5.4zm3.2-6.4v7.2M577.2 1392.3l3.2-5.4 3.2 5.4zm3.2-6.4v7.2M582.6 1393.2l3.2-5.4 3.2 5.4zm3.2-6.4v7.2M588.3 1393.9l3.2-5.4 3.2 5.4zm3.2-6.4v7.2M593.6 1394.6l3.2-5.4 3.2 5.4zm3.2-6.4v7.2M599.1 1395.6l3.2-5.4 3.2 5.4zm3.2-6.4v7.2M604.5 1396.6l3.2-5.4 3.2 5.4zm3.2-6.4v7.2M610 1397.5l3.2-5.4 3.2 5.4zm3.2-6.4v7.2M615.1 1398l3.2-5.4 3.2 5.4zm3.2-6.4v7.2M620.4 1398l3.2-5.4 3.2 5.4zm3.2-6.4v7.2M625.5 1397.6l3.2-5.4 3.2 5.4zm3.2-6.4v7.2M630.5 1397.2l3.2-5.4 3.2 5.4zm3.2-6.4v7.2M635.7 1396.6l3.2-5.4 3.2 5.4zm3.2-6.4v7.2M640.8 1395.9l3.2-5.4 3.2 5.4zm3.2-6.4v7.2M645.9 1395l3.2-5.4 3.2 5.4zm3.2-6.4v7.2M651 1393.8l3.2-5.4 3.2 5.4zm3.2-6.4v7.2M656.2 1392.4l3.2-5.4 3.2 5.4zm3.2-6.4v7.2M661.3 1390.8l3.2-5.4 3.2 5.4zm3.2-6.4v7.2M666.4 1389l3.2-5.4 3.2 5.4zm3.2-6.4v7.2M671.7 1386.8l3.2-5.4 3.2 5.4zm3.2-6.4v7.2M677 1384.4l3.2-5.4 3.2 5.4zm3.2-6.4v7.2M681.9 1382l3.2-5.4 3.2 5.4zm3.2-6.4v7.2M686.8 1379.2l3.2-5.4 3.2 5.4zm3.2-6.4v7.2M691.8 1376.1l3.2-5.4 3.2 5.4zm3.2-6.4v7.2M696.5 1372.8l3.2-5.4 3.2 5.4zm3.2-6.4v7.2M701.4 1368.9l3.2-5.4 3.2 5.4zm3.2-6.4v7.2M706.1 1364.7l3.2-5.4 3.2 5.4zm3.2-6.4v7.2M710.5 1360.3l3.2-5.4 3.2 5.4zm3.2-6.4v7.2M714.9 1355.1l3.2-5.4 3.2 5.4zm3.2-6.4v7.2M719.3 1350l3.2-5.4 3.2 5.4zm3.2-6.4v7.2M723.7 1345.3l3.2-5.4 3.2 5.4zm3.2-6.4v7.2M728.1 1340.9l3.2-5.4 3.2 5.4zm3.2-6.4v7.2M732.1 1337.1l3.2-5.4 3.2 5.4zm3.2-6.4v7.2M736.1 1333.3l3.2-5.4 3.2 5.4zm3.2-6.4v7.2M740.1 1329.7l3.2-5.4 3.2 5.4zm3.2-6.4v7.2M744.1 1326.9l3.2-5.4 3.2 5.4zm3.2-6.4v7.2M748.1 1325.2l3.2-5.4 3.2 5.4zm3.2-6.4v7.2M752.1 1324.2l3.2-5.4 3.2 5.4zm3.2-6.4v7.2M756.1 1323.4l3.2-5.4 3.2 5.4zm3.2-6.4v7.2M760.4 1322.6l3.2-5.4 3.2 5.4zm3.2-6.4v7.2M764.6 1322.1l3.2-5.4 3.2 5.4zm3.2-6.4v7.2M768.7 1321.7l3.2-5.4 3.2 5.4zm3.2-6.4v7.2M772.7 1321.7l3.2-5.4 3.2 5.4zm3.2-6.4v7.2M779.2 1328.6l3.2-5.4 3.2 5.4zm3.2-6.4v7.2M786.9 1343.1l3.2-5.4 3.2 5.4zm3.2-6.4v7.2"/>
<path fill="none" stroke="#9a0fd6" stroke-width="1.1" d="M1009.3 1373.8v9.6m-3.8-9.6h7.6m-7.6 9.6h7.6m-7.6-4.8h7.6M1016.3 1369v9.6m-3.8-9.6h7.6m-7.6 9.6h7.6m-7.6-4.8h7.6M1023.1 1353.6v9.6m-3.8-9.6h7.6m-7.6 9.6h7.6m-7.6-4.8h7.6M1029.7 1350.2v9.6m-3.8-9.6h7.6m-7.6 9.6h7.6m-7.6-4.8h7.6M1036.3 1340.7v9.6m-3.8-9.6h7.6m-7.6 9.6h7.6m-7.6-4.8h7.6M1042.7 1345v9.6m-3.8-9.6h7.6m-7.6 9.6h7.6m-7.6-4.8h7.6M1048.9 1356v9.6m-3.8-9.6h7.6m-7.6 9.6h7.6m-7.6-4.8h7.6M1055 1375.6v9.6m-3.8-9.6h7.6m-7.6 9.6h7.6m-7.6-4.8h7.6M1061.1 1391v9.6m-3.8-9.6h7.6m-7.6 9.6h7.6m-7.6-4.8h7.6M1067.2 1400.2v9.6m-3.8-9.6h7.6m-7.6 9.6h7.6m-7.6-4.8h7.6M1073.1 1413.4v9.6m-3.8-9.6h7.6m-7.6 9.6h7.6m-7.6-4.8h7.6M1075.6 1433.1v9.6m-3.8-9.6h7.6m-7.6 9.6h7.6m-7.6-4.8h7.6M1078.6 1451.2v9.6m-3.8-9.6h7.6m-7.6 9.6h7.6m-7.6-4.8h7.6M1084.2 1460.3v9.6m-3.8-9.6h7.6m-7.6 9.6h7.6m-7.6-4.8h7.6M1088.8 1477.8v9.6m-3.8-9.6h7.6m-7.6 9.6h7.6m-7.6-4.8h7.6M1092.4 1495.5v9.6m-3.8-9.6h7.6m-7.6 9.6h7.6m-7.6-4.8h7.6M1097 1508.8v9.6m-3.8-9.6h7.6m-7.6 9.6h7.6m-7.6-4.8h7.6M1102.2 1515.9v9.6m-3.8-9.6h7.6m-7.6 9.6h7.6m-7.6-4.8h7.6M1107.4 1526.2v9.6m-3.8-9.6h7.6m-7.6 9.6h7.6m-7.6-4.8h7.6M1112.4 1531.7v9.6m-3.8-9.6h7.6m-7.6 9.6h7.6m-7.6-4.8h7.6M1117.5 1538.5v9.6m-3.8-9.6h7.6m-7.6 9.6h7.6m-7.6-4.8h7.6M1122.5 1545.6v9.6m-3.8-9.6h7.6m-7.6 9.6h7.6m-7.6-4.8h7.6M1127.4 1552.2v9.6m-3.8-9.6h7.6m-7.6 9.6h7.6m-7.6-4.8h7.6M1132.1 1557.3v9.6m-3.8-9.6h7.6m-7.6 9.6h7.6m-7.6-4.8h7.6M1136.8 1559.8v9.6m-3.8-9.6h7.6m-7.6 9.6h7.6m-7.6-4.8h7.6M1141.5 1560.9v9.6m-3.8-9.6h7.6m-7.6 9.6h7.6m-7.6-4.8h7.6M1146.1 1560.6v9.6m-3.8-9.6h7.6m-7.6 9.6h7.6m-7.6-4.8h7.6M1150.6 1557v9.6m-3.8-9.6h7.6m-7.6 9.6h7.6m-7.6-4.8h7.6M1155 1551v9.6m-3.8-9.6h7.6m-7.6 9.6h7.6m-7.6-4.8h7.6M1159.5 1543.9v9.6m-3.8-9.6h7.6m-7.6 9.6h7.6m-7.6-4.8h7.6M1163.9 1535.7v9.6m-3.8-9.6h7.6m-7.6 9.6h7.6m-7.6-4.8h7.6M1168.3 1527.8v9.6m-3.8-9.6h7.6m-7.6 9.6h7.6m-7.6-4.8h7.6M1172.6 1523.2v9.6m-3.8-9.6h7.6m-7.6 9.6h7.6m-7.6-4.8h7.6M1176.8 1521.9v9.6m-3.8-9.6h7.6m-7.6 9.6h7.6m-7.6-4.8h7.6M1180.9 1521.1v9.6m-3.8-9.6h7.6m-7.6 9.6h7.6m-7.6-4.8h7.6M1185 1518.6v9.6m-3.8-9.6h7.6m-7.6 9.6h7.6m-7.6-4.8h7.6M1188.9 1515.4v9.6m-3.8-9.6h7.6m-7.6 9.6h7.6m-7.6-4.8h7.6M1192.6 1511.9v9.6m-3.8-9.6h7.6m-7.6 9.6h7.6m-7.6-4.8h7.6M1196.5 1507.2v9.6m-3.8-9.6h7.6m-7.6 9.6h7.6m-7.6-4.8h7.6M1200.4 1501.3v9.6m-3.8-9.6h7.6m-7.6 9.6h7.6m-7.6-4.8h7.6M1204.2 1495.2v9.6m-3.8-9.6h7.6m-7.6 9.6h7.6m-7.6-4.8h7.6M1208 1490.6v9.6m-3.8-9.6h7.6m-7.6 9.6h7.6m-7.6-4.8h7.6M1211.9 1487.3v9.6m-3.8-9.6h7.6m-7.6 9.6h7.6m-7.6-4.8h7.6M1215.4 1484.8v9.6m-3.8-9.6h7.6m-7.6 9.6h7.6m-7.6-4.8h7.6M1218.9 1482.1v9.6m-3.8-9.6h7.6m-7.6 9.6h7.6m-7.6-4.8h7.6M1222.4 1479.6v9.6m-3.8-9.6h7.6m-7.6 9.6h7.6m-7.6-4.8h7.6M1226.1 1476.8v9.6m-3.8-9.6h7.6m-7.6 9.6h7.6m-7.6-4.8h7.6M1229.8 1473.2v9.6m-3.8-9.6h7.6m-7.6 9.6h7.6m-7.6-4.8h7.6M1233.2 1469.2v9.6m-3.8-9.6h7.6m-7.6 9.6h7.6m-7.6-4.8h7.6M1236.4 1465.1v9.6m-3.8-9.6h7.6m-7.6 9.6h7.6m-7.6-4.8h7.6M1239.8 1460.7v9.6m-3.8-9.6h7.6m-7.6 9.6h7.6m-7.6-4.8h7.6M1243.2 1456.2v9.6m-3.8-9.6h7.6m-7.6 9.6h7.6m-7.6-4.8h7.6M1246.6 1451.8v9.6m-3.8-9.6h7.6m-7.6 9.6h7.6m-7.6-4.8h7.6M1249.9 1448v9.6m-3.8-9.6h7.6m-7.6 9.6h7.6m-7.6-4.8h7.6M1253.2 1444.6v9.6m-3.8-9.6h7.6m-7.6 9.6h7.6m-7.6-4.8h7.6M1256.4 1441.5v9.6m-3.8-9.6h7.6m-7.6 9.6h7.6m-7.6-4.8h7.6M1259.7 1438.5v9.6m-3.8-9.6h7.6m-7.6 9.6h7.6m-7.6-4.8h7.6M1262.9 1435.4v9.6m-3.8-9.6h7.6m-7.6 9.6h7.6m-7.6-4.8h7.6M1266.1 1432.1v9.6m-3.8-9.6h7.6m-7.6 9.6h7.6m-7.6-4.8h7.6M1269.3 1428.4v9.6m-3.8-9.6h7.6m-7.6 9.6h7.6m-7.6-4.8h7.6M1272.6 1424.3v9.6m-3.8-9.6h7.6m-7.6 9.6h7.6m-7.6-4.8h7.6M1275.1 1420.8v9.6m-3.8-9.6h7.6m-7.6 9.6h7.6m-7.6-4.8h7.6M1277.7 1417.2v9.6m-3.8-9.6h7.6m-7.6 9.6h7.6m-7.6-4.8h7.6M1280.3 1413.5v9.6m-3.8-9.6h7.6m-7.6 9.6h7.6m-7.6-4.8h7.6M1282.8 1409.7v9.6m-3.8-9.6h7.6m-7.6 9.6h7.6m-7.6-4.8h7.6M1285.4 1406v9.6m-3.8-9.6h7.6m-7.6 9.6h7.6m-7.6-4.8h7.6M1288 1402.2v9.6m-3.8-9.6h7.6m-7.6 9.6h7.6m-7.6-4.8h7.6M1290.6 1398.4v9.6m-3.8-9.6h7.6m-7.6 9.6h7.6m-7.6-4.8h7.6M1293.2 1394.6v9.6m-3.8-9.6h7.6m-7.6 9.6h7.6m-7.6-4.8h7.6M1295.8 1390.7v9.6m-3.8-9.6h7.6m-7.6 9.6h7.6m-7.6-4.8h7.6M1298.3 1386.8v9.6m-3.8-9.6h7.6m-7.6 9.6h7.6m-7.6-4.8h7.6M1300.9 1382.9v9.6m-3.8-9.6h7.6m-7.6 9.6h7.6m-7.6-4.8h7.6M1303.5 1379v9.6m-3.8-9.6h7.6m-7.6 9.6h7.6m-7.6-4.8h7.6M1306.1 1375.1v9.6m-3.8-9.6h7.6m-7.6 9.6h7.6m-7.6-4.8h7.6M1308.7 1371.3v9.6m-3.8-9.6h7.6m-7.6 9.6h7.6m-7.6-4.8h7.6M1311.3 1367.4v9.6m-3.8-9.6h7.6m-7.6 9.6h7.6m-7.6-4.8h7.6M1313.8 1363.5v9.6m-3.8-9.6h7.6m-7.6 9.6h7.6m-7.6-4.8h7.6M1316.4 1359.7v9.6m-3.8-9.6h7.6m-7.6 9.6h7.6m-7.6-4.8h7.6M1319 1355.8v9.6m-3.8-9.6h7.6m-7.6 9.6h7.6m-7.6-4.8h7.6M1321.5 1351.9v9.6m-3.8-9.6h7.6m-7.6 9.6h7.6m-7.6-4.8h7.6M1324.1 1348.1v9.6m-3.8-9.6h7.6m-7.6 9.6h7.6m-7.6-4.8h7.6M1326.7 1344.2v9.6m-3.8-9.6h7.6m-7.6 9.6h7.6m-7.6-4.8h7.6M1329.3 1340.3v9.6m-3.8-9.6h7.6m-7.6 9.6h7.6m-7.6-4.8h7.6M1331.9 1336.4v9.6m-3.8-9.6h7.6m-7.6 9.6h7.6m-7.6-4.8h7.6M1334.5 1332.4v9.6m-3.8-9.6h7.6m-7.6 9.6h7.6m-7.6-4.8h7.6M1337 1328.5v9.6m-3.8-9.6h7.6m-7.6 9.6h7.6m-7.6-4.8h7.6M1339.6 1324.6v9.6m-3.8-9.6h7.6m-7.6 9.6h7.6m-7.6-4.8h7.6M1342.2 1320.7v9.6m-3.8-9.6h7.6m-7.6 9.6h7.6m-7.6-4.8h7.6M1344.8 1317v9.6m-3.8-9.6h7.6m-7.6 9.6h7.6m-7.6-4.8h7.6M1347.4 1313.4v9.6m-3.8-9.6h7.6m-7.6 9.6h7.6m-7.6-4.8h7.6M1350 1309.9v9.6m-3.8-9.6h7.6m-7.6 9.6h7.6m-7.6-4.8h7.6M1352.7 1306.6v9.6m-3.8-9.6h7.6m-7.6 9.6h7.6m-7.6-4.8h7.6M1355.3 1303.3v9.6m-3.8-9.6h7.6m-7.6 9.6h7.6m-7.6-4.8h7.6M1358 1300v9.6m-3.8-9.6h7.6m-7.6 9.6h7.6m-7.6-4.8h7.6M1360.5 1296.8v9.6m-3.8-9.6h7.6m-7.6 9.6h7.6m-7.6-4.8h7.6M1363 1293.5v9.6m-3.8-9.6h7.6m-7.6 9.6h7.6m-7.6-4.8h7.6M1365.4 1290.2v9.6m-3.8-9.6h7.6m-7.6 9.6h7.6m-7.6-4.8h7.6M1368.2 1286v9.6m-3.8-9.6h7.6m-7.6 9.6h7.6m-7.6-4.8h7.6M1370.9 1281.9v9.6m-3.8-9.6h7.6m-7.6 9.6h7.6m-7.6-4.8h7.6M1373.4 1277.7v9.6m-3.8-9.6h7.6m-7.6 9.6h7.6m-7.6-4.8h7.6M1375.9 1273.5v9.6m-3.8-9.6h7.6m-7.6 9.6h7.6m-7.6-4.8h7.6M1378.4 1269.4v9.6m-3.8-9.6h7.6m-7.6 9.6h7.6m-7.6-4.8h7.6M1380.9 1265.2v9.6m-3.8-9.6h7.6m-7.6 9.6h7.6m-7.6-4.8h7.6M1383.5 1260.9v9.6m-3.8-9.6h7.6m-7.6 9.6h7.6m-7.6-4.8h7.6M1386.2 1256.5v9.6m-3.8-9.6h7.6m-7.6 9.6h7.6m-7.6-4.8h7.6M1388.8 1252.1v9.6m-3.8-9.6h7.6m-7.6 9.6h7.6m-7.6-4.8h7.6M1391.4 1247.8v9.6m-3.8-9.6h7.6m-7.6 9.6h7.6m-7.6-4.8h7.6M1393.9 1243.8v9.6m-3.8-9.6h7.6m-7.6 9.6h7.6m-7.6-4.8h7.6M1396.3 1240.2v9.6m-3.8-9.6h7.6m-7.6 9.6h7.6m-7.6-4.8h7.6M1398.5 1237v9.6m-3.8-9.6h7.6m-7.6 9.6h7.6m-7.6-4.8h7.6M1401 1233.5v9.6m-3.8-9.6h7.6m-7.6 9.6h7.6m-7.6-4.8h7.6M1403.3 1230.4v9.6m-3.8-9.6h7.6m-7.6 9.6h7.6m-7.6-4.8h7.6M1405.5 1227.6v9.6m-3.8-9.6h7.6m-7.6 9.6h7.6m-7.6-4.8h7.6M1407.6 1225.1v9.6m-3.8-9.6h7.6m-7.6 9.6h7.6m-7.6-4.8h7.6M1409.7 1222.9v9.6m-3.8-9.6h7.6m-7.6 9.6h7.6m-7.6-4.8h7.6M1411.8 1221.2v9.6m-3.8-9.6h7.6m-7.6 9.6h7.6m-7.6-4.8h7.6M1414 1219.6v9.6m-3.8-9.6h7.6m-7.6 9.6h7.6m-7.6-4.8h7.6M1416.1 1218.2v9.6m-3.8-9.6h7.6m-7.6 9.6h7.6m-7.6-4.8h7.6M1418.2 1216.8v9.6m-3.8-9.6h7.6m-7.6 9.6h7.6m-7.6-4.8h7.6M1420.3 1215.6v9.6m-3.8-9.6h7.6m-7.6 9.6h7.6m-7.6-4.8h7.6M1422.4 1214.6v9.6m-3.8-9.6h7.6m-7.6 9.6h7.6m-7.6-4.8h7.6M1424.4 1213.7v9.6m-3.8-9.6h7.6m-7.6 9.6h7.6m-7.6-4.8h7.6M1431.2 1239v9.6m-3.8-9.6h7.6m-7.6 9.6h7.6m-7.6-4.8h7.6M1439.9 1274.8v9.6m-3.8-9.6h7.6m-7.6 9.6h7.6m-7.6-4.8h7.6M1001.2 1406.5v9.6m-3.8-9.6h7.6m-7.6 9.6h7.6m-7.6-4.8h7.6M994.7 1447.8v9.6m-3.8-9.6h7.6m-7.6 9.6h7.6m-7.6-4.8h7.6M987.2 1483.5v9.6m-3.8-9.6h7.6m-7.6 9.6h7.6m-7.6-4.8h7.6M1000.6 1407.6v9.6m-3.8-9.6h7.6m-7.6 9.6h7.6m-7.6-4.8h7.6"/>
<path fill="none" stroke="#009e73" stroke-width="1.1" d="M1021.7 1409.3l8.2 8.2m-8.2 0 8.2-8.2m-4.1 0v8.2m-2.4-8.2h4.8m-4.8 8.2h4.8M1028.9 1398.5l8.2 8.2m-8.2 0 8.2-8.2m-4.1 0v8.2m-2.4-8.2h4.8m-4.8 8.2h4.8M1035.8 1404.1l8.2 8.2m-8.2 0 8.2-8.2m-4.1 0v8.2m-2.4-8.2h4.8m-4.8 8.2h4.8M1042.7 1397.6l8.2 8.2m-8.2 0 8.2-8.2m-4.1 0v8.2m-2.4-8.2h4.8m-4.8 8.2h4.8M1049.4 1404.3l8.2 8.2m-8.2 0 8.2-8.2m-4.1 0v8.2m-2.4-8.2h4.8m-4.8 8.2h4.8M1056.1 1409.5l8.2 8.2m-8.2 0 8.2-8.2m-4.1 0v8.2m-2.4-8.2h4.8m-4.8 8.2h4.8M1062.6 1422.8l8.2 8.2m-8.2 0 8.2-8.2m-4.1 0v8.2m-2.4-8.2h4.8m-4.8 8.2h4.8M1068.9 1441.1l8.2 8.2m-8.2 0 8.2-8.2m-4.1 0v8.2m-2.4-8.2h4.8m-4.8 8.2h4.8M1075.2 1451.8l8.2 8.2m-8.2 0 8.2-8.2m-4.1 0v8.2m-2.4-8.2h4.8m-4.8 8.2h4.8M1081.3 1453.8l8.2 8.2m-8.2 0 8.2-8.2m-4.1 0v8.2m-2.4-8.2h4.8m-4.8 8.2h4.8M1087.3 1460.9l8.2 8.2m-8.2 0 8.2-8.2m-4.1 0v8.2m-2.4-8.2h4.8m-4.8 8.2h4.8M1093.1 1473.4l8.2 8.2m-8.2 0 8.2-8.2m-4.1 0v8.2m-2.4-8.2h4.8m-4.8 8.2h4.8M1099 1488.2l8.2 8.2m-8.2 0 8.2-8.2m-4.1 0v8.2m-2.4-8.2h4.8m-4.8 8.2h4.8M1104.4 1504.6l8.2 8.2m-8.2 0 8.2-8.2m-4.1 0v8.2m-2.4-8.2h4.8m-4.8 8.2h4.8M1109.6 1520.8l8.2 8.2m-8.2 0 8.2-8.2m-4.1 0v8.2m-2.4-8.2h4.8m-4.8 8.2h4.8M1115.1 1528.2l8.2 8.2m-8.2 0 8.2-8.2m-4.1 0v8.2m-2.4-8.2h4.8m-4.8 8.2h4.8M1120.6 1533.5l8.2 8.2m-8.2 0 8.2-8.2m-4.1 0v8.2m-2.4-8.2h4.8m-4.8 8.2h4.8M1125.9 1538.2l8.2 8.2m-8.2 0 8.2-8.2m-4.1 0v8.2m-2.4-8.2h4.8m-4.8 8.2h4.8M1131.2 1541.9l8.2 8.2m-8.2 0 8.2-8.2m-4.1 0v8.2m-2.4-8.2h4.8m-4.8 8.2h4.8M1136.4 1543.5l8.2 8.2m-8.2 0 8.2-8.2m-4.1 0v8.2m-2.4-8.2h4.8m-4.8 8.2h4.8M1141.6 1543.5l8.2 8.2m-8.2 0 8.2-8.2m-4.1 0v8.2m-2.4-8.2h4.8m-4.8 8.2h4.8M1146.7 1541.6l8.2 8.2m-8.2 0 8.2-8.2m-4.1 0v8.2m-2.4-8.2h4.8m-4.8 8.2h4.8M1151.5 1539.1l8.2 8.2m-8.2 0 8.2-8.2m-4.1 0v8.2m-2.4-8.2h4.8m-4.8 8.2h4.8M1156.3 1536.2l8.2 8.2m-8.2 0 8.2-8.2m-4.1 0v8.2m-2.4-8.2h4.8m-4.8 8.2h4.8M1161.2 1533.2l8.2 8.2m-8.2 0 8.2-8.2m-4.1 0v8.2m-2.4-8.2h4.8m-4.8 8.2h4.8M1166 1530.3l8.2 8.2m-8.2 0 8.2-8.2m-4.1 0v8.2m-2.4-8.2h4.8m-4.8 8.2h4.8M1170.6 1527.6l8.2 8.2m-8.2 0 8.2-8.2m-4.1 0v8.2m-2.4-8.2h4.8m-4.8 8.2h4.8M1175 1525.3l8.2 8.2m-8.2 0 8.2-8.2m-4.1 0v8.2m-2.4-8.2h4.8m-4.8 8.2h4.8M1179.3 1522.4l8.2 8.2m-8.2 0 8.2-8.2m-4.1 0v8.2m-2.4-8.2h4.8m-4.8 8.2h4.8M1183.8 1518.5l8.2 8.2m-8.2 0 8.2-8.2m-4.1 0v8.2m-2.4-8.2h4.8m-4.8 8.2h4.8M1188.2 1514l8.2 8.2m-8.2 0 8.2-8.2m-4.1 0v8.2m-2.4-8.2h4.8m-4.8 8.2h4.8M1192.4 1508.7l8.2 8.2m-8.2 0 8.2-8.2m-4.1 0v8.2m-2.4-8.2h4.8m-4.8 8.2h4.8M1196.7 1502l8.2 8.2m-8.2 0 8.2-8.2m-4.1 0v8.2m-2.4-8.2h4.8m-4.8 8.2h4.8M1200.9 1495.4l8.2 8.2m-8.2 0 8.2-8.2m-4.1 0v8.2m-2.4-8.2h4.8m-4.8 8.2h4.8M1205.1 1490.6l8.2 8.2m-8.2 0 8.2-8.2m-4.1 0v8.2m-2.4-8.2h4.8m-4.8 8.2h4.8M1209.3 1487.2l8.2 8.2m-8.2 0 8.2-8.2m-4.1 0v8.2m-2.4-8.2h4.8m-4.8 8.2h4.8M1213.2 1484.3l8.2 8.2m-8.2 0 8.2-8.2m-4.1 0v8.2m-2.4-8.2h4.8m-4.8 8.2h4.8M1217.3 1481.3l8.2 8.2m-8.2 0 8.2-8.2m-4.1 0v8.2m-2.4-8.2h4.8m-4.8 8.2h4.8M1221.2 1478.4l8.2 8.2m-8.2 0 8.2-8.2m-4.1 0v8.2m-2.4-8.2h4.8m-4.8 8.2h4.8M1225.2 1474.6l8.2 8.2m-8.2 0 8.2-8.2m-4.1 0v8.2m-2.4-8.2h4.8m-4.8 8.2h4.8M1229.1 1469.9l8.2 8.2m-8.2 0 8.2-8.2m-4.1 0v8.2m-2.4-8.2h4.8m-4.8 8.2h4.8M1232.9 1464.8l8.2 8.2m-8.2 0 8.2-8.2m-4.1 0v8.2m-2.4-8.2h4.8m-4.8 8.2h4.8M1237 1459.3l8.2 8.2m-8.2 0 8.2-8.2m-4.1 0v8.2m-2.4-8.2h4.8m-4.8 8.2h4.8M1240.5 1454.7l8.2 8.2m-8.2 0 8.2-8.2m-4.1 0v8.2m-2.4-8.2h4.8m-4.8 8.2h4.8M1243.9 1450.4l8.2 8.2m-8.2 0 8.2-8.2m-4.1 0v8.2m-2.4-8.2h4.8m-4.8 8.2h4.8M1247.8 1446.1l8.2 8.2m-8.2 0 8.2-8.2m-4.1 0v8.2m-2.4-8.2h4.8m-4.8 8.2h4.8M1251 1442.9l8.2 8.2m-8.2 0 8.2-8.2m-4.1 0v8.2m-2.4-8.2h4.8m-4.8 8.2h4.8M1254.3 1439.9l8.2 8.2m-8.2 0 8.2-8.2m-4.1 0v8.2m-2.4-8.2h4.8m-4.8 8.2h4.8M1257.5 1436.9l8.2 8.2m-8.2 0 8.2-8.2m-4.1 0v8.2m-2.4-8.2h4.8m-4.8 8.2h4.8M1260.7 1433.7l8.2 8.2m-8.2 0 8.2-8.2m-4.1 0v8.2m-2.4-8.2h4.8m-4.8 8.2h4.8M1264 1430.2l8.2 8.2m-8.2 0 8.2-8.2m-4.1 0v8.2m-2.4-8.2h4.8m-4.8 8.2h4.8M1267.2 1426.2l8.2 8.2m-8.2 0 8.2-8.2m-4.1 0v8.2m-2.4-8.2h4.8m-4.8 8.2h4.8M1270.4 1421.9l8.2 8.2m-8.2 0 8.2-8.2m-4.1 0v8.2m-2.4-8.2h4.8m-4.8 8.2h4.8M1273.6 1417.4l8.2 8.2m-8.2 0 8.2-8.2m-4.1 0v8.2m-2.4-8.2h4.8m-4.8 8.2h4.8M1276.8 1412.8l8.2 8.2m-8.2 0 8.2-8.2m-4.1 0v8.2m-2.4-8.2h4.8m-4.8 8.2h4.8M1280 1408l8.2 8.2m-8.2 0 8.2-8.2m-4.1 0v8.2m-2.4-8.2h4.8m-4.8 8.2h4.8M1283.3 1403.3l8.2 8.2m-8.2 0 8.2-8.2m-4.1 0v8.2m-2.4-8.2h4.8m-4.8 8.2h4.8M1286.5 1398.6l8.2 8.2m-8.2 0 8.2-8.2m-4.1 0v8.2m-2.4-8.2h4.8m-4.8 8.2h4.8M1289.7 1393.8l8.2 8.2m-8.2 0 8.2-8.2m-4.1 0v8.2m-2.4-8.2h4.8m-4.8 8.2h4.8M1293 1389l8.2 8.2m-8.2 0 8.2-8.2m-4.1 0v8.2m-2.4-8.2h4.8m-4.8 8.2h4.8M1295.5 1385.1l8.2 8.2m-8.2 0 8.2-8.2m-4.1 0v8.2m-2.4-8.2h4.8m-4.8 8.2h4.8M1298.1 1381.2l8.2 8.2m-8.2 0 8.2-8.2m-4.1 0v8.2m-2.4-8.2h4.8m-4.8 8.2h4.8M1300.7 1377.3l8.2 8.2m-8.2 0 8.2-8.2m-4.1 0v8.2m-2.4-8.2h4.8m-4.8 8.2h4.8M1303.3 1373.4l8.2 8.2m-8.2 0 8.2-8.2m-4.1 0v8.2m-2.4-8.2h4.8m-4.8 8.2h4.8M1305.9 1369.5l8.2 8.2m-8.2 0 8.2-8.2m-4.1 0v8.2m-2.4-8.2h4.8m-4.8 8.2h4.8M1308.5 1365.7l8.2 8.2m-8.2 0 8.2-8.2m-4.1 0v8.2m-2.4-8.2h4.8m-4.8 8.2h4.8M1311 1361.8l8.2 8.2m-8.2 0 8.2-8.2m-4.1 0v8.2m-2.4-8.2h4.8m-4.8 8.2h4.8M1313.6 1357.9l8.2 8.2m-8.2 0 8.2-8.2m-4.1 0v8.2m-2.4-8.2h4.8m-4.8 8.2h4.8M1316.2 1354.1l8.2 8.2m-8.2 0 8.2-8.2m-4.1 0v8.2m-2.4-8.2h4.8m-4.8 8.2h4.8M1318.7 1350.2l8.2 8.2m-8.2 0 8.2-8.2m-4.1 0v8.2m-2.4-8.2h4.8m-4.8 8.2h4.8M1321.3 1346.3l8.2 8.2m-8.2 0 8.2-8.2m-4.1 0v8.2m-2.4-8.2h4.8m-4.8 8.2h4.8M1323.9 1342.5l8.2 8.2m-8.2 0 8.2-8.2m-4.1 0v8.2m-2.4-8.2h4.8m-4.8 8.2h4.8M1326.5 1338.5l8.2 8.2m-8.2 0 8.2-8.2m-4.1 0v8.2m-2.4-8.2h4.8m-4.8 8.2h4.8M1329.1 1334.6l8.2 8.2m-8.2 0 8.2-8.2m-4.1 0v8.2m-2.4-8.2h4.8m-4.8 8.2h4.8M1331.7 1330.6l8.2 8.2m-8.2 0 8.2-8.2m-4.1 0v8.2m-2.4-8.2h4.8m-4.8 8.2h4.8M1334.2 1326.7l8.2 8.2m-8.2 0 8.2-8.2m-4.1 0v8.2m-2.4-8.2h4.8m-4.8 8.2h4.8M1336.8 1322.9l8.2 8.2m-8.2 0 8.2-8.2m-4.1 0v8.2m-2.4-8.2h4.8m-4.8 8.2h4.8M1339.4 1319.1l8.2 8.2m-8.2 0 8.2-8.2m-4.1 0v8.2m-2.4-8.2h4.8m-4.8 8.2h4.8M1342 1315.4l8.2 8.2m-8.2 0 8.2-8.2m-4.1 0v8.2m-2.4-8.2h4.8m-4.8 8.2h4.8M1344.6 1311.8l8.2 8.2m-8.2 0 8.2-8.2m-4.1 0v8.2m-2.4-8.2h4.8m-4.8 8.2h4.8M1347.3 1308.4l8.2 8.2m-8.2 0 8.2-8.2m-4.1 0v8.2m-2.4-8.2h4.8m-4.8 8.2h4.8M1349.9 1305l8.2 8.2m-8.2 0 8.2-8.2m-4.1 0v8.2m-2.4-8.2h4.8m-4.8 8.2h4.8M1352.6 1301.7l8.2 8.2m-8.2 0 8.2-8.2m-4.1 0v8.2m-2.4-8.2h4.8m-4.8 8.2h4.8M1355.2 1298.5l8.2 8.2m-8.2 0 8.2-8.2m-4.1 0v8.2m-2.4-8.2h4.8m-4.8 8.2h4.8M1357.7 1295.2l8.2 8.2m-8.2 0 8.2-8.2m-4.1 0v8.2m-2.4-8.2h4.8m-4.8 8.2h4.8M1360.7 1291l8.2 8.2m-8.2 0 8.2-8.2m-4.1 0v8.2m-2.4-8.2h4.8m-4.8 8.2h4.8M1363.6 1286.8l8.2 8.2m-8.2 0 8.2-8.2m-4.1 0v8.2m-2.4-8.2h4.8m-4.8 8.2h4.8M1366.2 1282.7l8.2 8.2m-8.2 0 8.2-8.2m-4.1 0v8.2m-2.4-8.2h4.8m-4.8 8.2h4.8M1368.8 1278.5l8.2 8.2m-8.2 0 8.2-8.2m-4.1 0v8.2m-2.4-8.2h4.8m-4.8 8.2h4.8M1371.8 1273.5l8.2 8.2m-8.2 0 8.2-8.2m-4.1 0v8.2m-2.4-8.2h4.8m-4.8 8.2h4.8M1374.8 1268.5l8.2 8.2m-8.2 0 8.2-8.2m-4.1 0v8.2m-2.4-8.2h4.8m-4.8 8.2h4.8M1377.3 1264.3l8.2 8.2m-8.2 0 8.2-8.2m-4.1 0v8.2m-2.4-8.2h4.8m-4.8 8.2h4.8M1379.9 1259.9l8.2 8.2m-8.2 0 8.2-8.2m-4.1 0v8.2m-2.4-8.2h4.8m-4.8 8.2h4.8M1382.6 1255.5l8.2 8.2m-8.2 0 8.2-8.2m-4.1 0v8.2m-2.4-8.2h4.8m-4.8 8.2h4.8M1385.3 1251l8.2 8.2m-8.2 0 8.2-8.2m-4.1 0v8.2m-2.4-8.2h4.8m-4.8 8.2h4.8M1387.9 1246.7l8.2 8.2m-8.2 0 8.2-8.2m-4.1 0v8.2m-2.4-8.2h4.8m-4.8 8.2h4.8M1390.3 1242.8l8.2 8.2m-8.2 0 8.2-8.2m-4.1 0v8.2m-2.4-8.2h4.8m-4.8 8.2h4.8M1393.1 1238.6l8.2 8.2m-8.2 0 8.2-8.2m-4.1 0v8.2m-2.4-8.2h4.8m-4.8 8.2h4.8M1395.6 1234.9l8.2 8.2m-8.2 0 8.2-8.2m-4.1 0v8.2m-2.4-8.2h4.8m-4.8 8.2h4.8M1398 1231.6l8.2 8.2m-8.2 0 8.2-8.2m-4.1 0v8.2m-2.4-8.2h4.8m-4.8 8.2h4.8M1400.3 1228.7l8.2 8.2m-8.2 0 8.2-8.2m-4.1 0v8.2m-2.4-8.2h4.8m-4.8 8.2h4.8M1402.8 1225.7l8.2 8.2m-8.2 0 8.2-8.2m-4.1 0v8.2m-2.4-8.2h4.8m-4.8 8.2h4.8M1405.3 1223l8.2 8.2m-8.2 0 8.2-8.2m-4.1 0v8.2m-2.4-8.2h4.8m-4.8 8.2h4.8M1407.7 1220.9l8.2 8.2m-8.2 0 8.2-8.2m-4.1 0v8.2m-2.4-8.2h4.8m-4.8 8.2h4.8M1409.9 1219.2l8.2 8.2m-8.2 0 8.2-8.2m-4.1 0v8.2m-2.4-8.2h4.8m-4.8 8.2h4.8M1412.3 1217.5l8.2 8.2m-8.2 0 8.2-8.2m-4.1 0v8.2m-2.4-8.2h4.8m-4.8 8.2h4.8M1414.7 1216l8.2 8.2m-8.2 0 8.2-8.2m-4.1 0v8.2m-2.4-8.2h4.8m-4.8 8.2h4.8M1416.8 1214.9l8.2 8.2m-8.2 0 8.2-8.2m-4.1 0v8.2m-2.4-8.2h4.8m-4.8 8.2h4.8M1419.1 1213.8l8.2 8.2m-8.2 0 8.2-8.2m-4.1 0v8.2m-2.4-8.2h4.8m-4.8 8.2h4.8M1421.3 1212.9l8.2 8.2m-8.2 0 8.2-8.2m-4.1 0v8.2m-2.4-8.2h4.8m-4.8 8.2h4.8M1427.1 1232.9l8.2 8.2m-8.2 0 8.2-8.2m-4.1 0v8.2m-2.4-8.2h4.8m-4.8 8.2h4.8M1435.8 1268.7l8.2 8.2m-8.2 0 8.2-8.2m-4.1 0v8.2m-2.4-8.2h4.8m-4.8 8.2h4.8"/>
<path fill="none" stroke="#56b4e9" stroke-width="1.1" d="M971.2 1405.7v9.2m-4.2-7.2 8.4 5.2m-8.4 0 8.4-5.2m-6.4-2h4.4m-4.4 9.2h4.4M979 1419.9v9.2m-4.2-7.2 8.4 5.2m-8.4 0 8.4-5.2m-6.4-2h4.4m-4.4 9.2h4.4M986.8 1432.1v9.2m-4.2-7.2 8.4 5.2m-8.4 0 8.4-5.2m-6.4-2h4.4m-4.4 9.2h4.4M994.6 1439.2v9.2m-4.2-7.2 8.4 5.2m-8.4 0 8.4-5.2m-6.4-2h4.4m-4.4 9.2h4.4M1002 1439.8v9.2m-4.2-7.2 8.4 5.2m-8.4 0 8.4-5.2m-6.4-2h4.4m-4.4 9.2h4.4M1009.6 1448.6v9.2m-4.2-7.2 8.4 5.2m-8.4 0 8.4-5.2m-6.4-2h4.4m-4.4 9.2h4.4M1017.2 1459.3v9.2m-4.2-7.2 8.4 5.2m-8.4 0 8.4-5.2m-6.4-2h4.4m-4.4 9.2h4.4M1024.6 1459.9v9.2m-4.2-7.2 8.4 5.2m-8.4 0 8.4-5.2m-6.4-2h4.4m-4.4 9.2h4.4M1031.9 1460.5v9.2m-4.2-7.2 8.4 5.2m-8.4 0 8.4-5.2m-6.4-2h4.4m-4.4 9.2h4.4M1039.1 1461.6v9.2m-4.2-7.2 8.4 5.2m-8.4 0 8.4-5.2m-6.4-2h4.4m-4.4 9.2h4.4M1046.1 1464.3v9.2m-4.2-7.2 8.4 5.2m-8.4 0 8.4-5.2m-6.4-2h4.4m-4.4 9.2h4.4M1053.1 1465.6v9.2m-4.2-7.2 8.4 5.2m-8.4 0 8.4-5.2m-6.4-2h4.4m-4.4 9.2h4.4M1059.8 1461.7v9.2m-4.2-7.2 8.4 5.2m-8.4 0 8.4-5.2m-6.4-2h4.4m-4.4 9.2h4.4M1066.5 1461.3v9.2m-4.2-7.2 8.4 5.2m-8.4 0 8.4-5.2m-6.4-2h4.4m-4.4 9.2h4.4M1073.1 1465.8v9.2m-4.2-7.2 8.4 5.2m-8.4 0 8.4-5.2m-6.4-2h4.4m-4.4 9.2h4.4M1079.6 1468.2v9.2m-4.2-7.2 8.4 5.2m-8.4 0 8.4-5.2m-6.4-2h4.4m-4.4 9.2h4.4M1085.8 1471.5v9.2m-4.2-7.2 8.4 5.2m-8.4 0 8.4-5.2m-6.4-2h4.4m-4.4 9.2h4.4M1091.9 1476.7v9.2m-4.2-7.2 8.4 5.2m-8.4 0 8.4-5.2m-6.4-2h4.4m-4.4 9.2h4.4M1098 1487.2v9.2m-4.2-7.2 8.4 5.2m-8.4 0 8.4-5.2m-6.4-2h4.4m-4.4 9.2h4.4M1103.8 1494.8v9.2m-4.2-7.2 8.4 5.2m-8.4 0 8.4-5.2m-6.4-2h4.4m-4.4 9.2h4.4M1109.4 1500.9v9.2m-4.2-7.2 8.4 5.2m-8.4 0 8.4-5.2m-6.4-2h4.4m-4.4 9.2h4.4M1115.1 1509.7v9.2m-4.2-7.2 8.4 5.2m-8.4 0 8.4-5.2m-6.4-2h4.4m-4.4 9.2h4.4M1120.6 1513v9.2m-4.2-7.2 8.4 5.2m-8.4 0 8.4-5.2m-6.4-2h4.4m-4.4 9.2h4.4M1126 1514.4v9.2m-4.2-7.2 8.4 5.2m-8.4 0 8.4-5.2m-6.4-2h4.4m-4.4 9.2h4.4M1131.4 1515.5v9.2m-4.2-7.2 8.4 5.2m-8.4 0 8.4-5.2m-6.4-2h4.4m-4.4 9.2h4.4M1136.5 1516.1v9.2m-4.2-7.2 8.4 5.2m-8.4 0 8.4-5.2m-6.4-2h4.4m-4.4 9.2h4.4M1141.5 1516.1v9.2m-4.2-7.2 8.4 5.2m-8.4 0 8.4-5.2m-6.4-2h4.4m-4.4 9.2h4.4M1146.6 1516v9.2m-4.2-7.2 8.4 5.2m-8.4 0 8.4-5.2m-6.4-2h4.4m-4.4 9.2h4.4M1151.6 1516.6v9.2m-4.2-7.2 8.4 5.2m-8.4 0 8.4-5.2m-6.4-2h4.4m-4.4 9.2h4.4M1156.6 1517.8v9.2m-4.2-7.2 8.4 5.2m-8.4 0 8.4-5.2m-6.4-2h4.4m-4.4 9.2h4.4M1161.6 1517.8v9.2m-4.2-7.2 8.4 5.2m-8.4 0 8.4-5.2m-6.4-2h4.4m-4.4 9.2h4.4M1166.3 1516.3v9.2m-4.2-7.2 8.4 5.2m-8.4 0 8.4-5.2m-6.4-2h4.4m-4.4 9.2h4.4M1170.9 1514.5v9.2m-4.2-7.2 8.4 5.2m-8.4 0 8.4-5.2m-6.4-2h4.4m-4.4 9.2h4.4M1175.6 1513.2v9.2m-4.2-7.2 8.4 5.2m-8.4 0 8.4-5.2m-6.4-2h4.4m-4.4 9.2h4.4M1180.3 1511.9v9.2m-4.2-7.2 8.4 5.2m-8.4 0 8.4-5.2m-6.4-2h4.4m-4.4 9.2h4.4M1185 1509.2v9.2m-4.2-7.2 8.4 5.2m-8.4 0 8.4-5.2m-6.4-2h4.4m-4.4 9.2h4.4M1189.2 1505.1v9.2m-4.2-7.2 8.4 5.2m-8.4 0 8.4-5.2m-6.4-2h4.4m-4.4 9.2h4.4M1193.5 1500.4v9.2m-4.2-7.2 8.4 5.2m-8.4 0 8.4-5.2m-6.4-2h4.4m-4.4 9.2h4.4M1197.7 1495.6v9.2m-4.2-7.2 8.4 5.2m-8.4 0 8.4-5.2m-6.4-2h4.4m-4.4 9.2h4.4M1201.9 1490.4v9.2m-4.2-7.2 8.4 5.2m-8.4 0 8.4-5.2m-6.4-2h4.4m-4.4 9.2h4.4M1206.1 1485.6v9.2m-4.2-7.2 8.4 5.2m-8.4 0 8.4-5.2m-6.4-2h4.4m-4.4 9.2h4.4M1210.4 1481.6v9.2m-4.2-7.2 8.4 5.2m-8.4 0 8.4-5.2m-6.4-2h4.4m-4.4 9.2h4.4M1214.2 1478.5v9.2m-4.2-7.2 8.4 5.2m-8.4 0 8.4-5.2m-6.4-2h4.4m-4.4 9.2h4.4M1218.1 1475.5v9.2m-4.2-7.2 8.4 5.2m-8.4 0 8.4-5.2m-6.4-2h4.4m-4.4 9.2h4.4M1222.1 1473v9.2m-4.2-7.2 8.4 5.2m-8.4 0 8.4-5.2m-6.4-2h4.4m-4.4 9.2h4.4M1226.1 1470.6v9.2m-4.2-7.2 8.4 5.2m-8.4 0 8.4-5.2m-6.4-2h4.4m-4.4 9.2h4.4M1229.8 1467.7v9.2m-4.2-7.2 8.4 5.2m-8.4 0 8.4-5.2m-6.4-2h4.4m-4.4 9.2h4.4M1233.8 1463.7v9.2m-4.2-7.2 8.4 5.2m-8.4 0 8.4-5.2m-6.4-2h4.4m-4.4 9.2h4.4M1237.7 1459.6v9.2m-4.2-7.2 8.4 5.2m-8.4 0 8.4-5.2m-6.4-2h4.4m-4.4 9.2h4.4M1241.8 1455.1v9.2m-4.2-7.2 8.4 5.2m-8.4 0 8.4-5.2m-6.4-2h4.4m-4.4 9.2h4.4M1245.3 1451.3v9.2m-4.2-7.2 8.4 5.2m-8.4 0 8.4-5.2m-6.4-2h4.4m-4.4 9.2h4.4M1248.6 1447.8v9.2m-4.2-7.2 8.4 5.2m-8.4 0 8.4-5.2m-6.4-2h4.4m-4.4 9.2h4.4M1252.5 1443.9v9.2m-4.2-7.2 8.4 5.2m-8.4 0 8.4-5.2m-6.4-2h4.4m-4.4 9.2h4.4M1255.8 1440.9v9.2m-4.2-7.2 8.4 5.2m-8.4 0 8.4-5.2m-6.4-2h4.4m-4.4 9.2h4.4M1259 1437.9v9.2m-4.2-7.2 8.4 5.2m-8.4 0 8.4-5.2m-6.4-2h4.4m-4.4 9.2h4.4M1262.2 1434.8v9.2m-4.2-7.2 8.4 5.2m-8.4 0 8.4-5.2m-6.4-2h4.4m-4.4 9.2h4.4M1265.5 1431.5v9.2m-4.2-7.2 8.4 5.2m-8.4 0 8.4-5.2m-6.4-2h4.4m-4.4 9.2h4.4M1268.7 1427.8v9.2m-4.2-7.2 8.4 5.2m-8.4 0 8.4-5.2m-6.4-2h4.4m-4.4 9.2h4.4M1271.9 1423.8v9.2m-4.2-7.2 8.4 5.2m-8.4 0 8.4-5.2m-6.4-2h4.4m-4.4 9.2h4.4M1275.1 1419.4v9.2m-4.2-7.2 8.4 5.2m-8.4 0 8.4-5.2m-6.4-2h4.4m-4.4 9.2h4.4M1278.4 1414.9v9.2m-4.2-7.2 8.4 5.2m-8.4 0 8.4-5.2m-6.4-2h4.4m-4.4 9.2h4.4M1281.6 1410.2v9.2m-4.2-7.2 8.4 5.2m-8.4 0 8.4-5.2m-6.4-2h4.4m-4.4 9.2h4.4M1284.8 1405.4v9.2m-4.2-7.2 8.4 5.2m-8.4 0 8.4-5.2m-6.4-2h4.4m-4.4 9.2h4.4M1288 1400.7v9.2m-4.2-7.2 8.4 5.2m-8.4 0 8.4-5.2m-6.4-2h4.4m-4.4 9.2h4.4M1291.2 1396v9.2m-4.2-7.2 8.4 5.2m-8.4 0 8.4-5.2m-6.4-2h4.4m-4.4 9.2h4.4M1294.5 1391.2v9.2m-4.2-7.2 8.4 5.2m-8.4 0 8.4-5.2m-6.4-2h4.4m-4.4 9.2h4.4M1297.7 1386.3v9.2m-4.2-7.2 8.4 5.2m-8.4 0 8.4-5.2m-6.4-2h4.4m-4.4 9.2h4.4M1300.3 1382.4v9.2m-4.2-7.2 8.4 5.2m-8.4 0 8.4-5.2m-6.4-2h4.4m-4.4 9.2h4.4M1302.9 1378.5v9.2m-4.2-7.2 8.4 5.2m-8.4 0 8.4-5.2m-6.4-2h4.4m-4.4 9.2h4.4M1305.5 1374.6v9.2m-4.2-7.2 8.4 5.2m-8.4 0 8.4-5.2m-6.4-2h4.4m-4.4 9.2h4.4M1308 1370.7v9.2m-4.2-7.2 8.4 5.2m-8.4 0 8.4-5.2m-6.4-2h4.4m-4.4 9.2h4.4M1310.6 1366.9v9.2m-4.2-7.2 8.4 5.2m-8.4 0 8.4-5.2m-6.4-2h4.4m-4.4 9.2h4.4M1313.2 1363v9.2m-4.2-7.2 8.4 5.2m-8.4 0 8.4-5.2m-6.4-2h4.4m-4.4 9.2h4.4M1315.8 1359.1v9.2m-4.2-7.2 8.4 5.2m-8.4 0 8.4-5.2m-6.4-2h4.4m-4.4 9.2h4.4M1318.3 1355.3v9.2m-4.2-7.2 8.4 5.2m-8.4 0 8.4-5.2m-6.4-2h4.4m-4.4 9.2h4.4M1320.9 1351.4v9.2m-4.2-7.2 8.4 5.2m-8.4 0 8.4-5.2m-6.4-2h4.4m-4.4 9.2h4.4M1323.5 1347.5v9.2m-4.2-7.2 8.4 5.2m-8.4 0 8.4-5.2m-6.4-2h4.4m-4.4 9.2h4.4M1326.1 1343.7v9.2m-4.2-7.2 8.4 5.2m-8.4 0 8.4-5.2m-6.4-2h4.4m-4.4 9.2h4.4M1328.6 1339.8v9.2m-4.2-7.2 8.4 5.2m-8.4 0 8.4-5.2m-6.4-2h4.4m-4.4 9.2h4.4M1331.2 1335.9v9.2m-4.2-7.2 8.4 5.2m-8.4 0 8.4-5.2m-6.4-2h4.4m-4.4 9.2h4.4M1333.8 1331.9v9.2m-4.2-7.2 8.4 5.2m-8.4 0 8.4-5.2m-6.4-2h4.4m-4.4 9.2h4.4M1336.4 1328v9.2m-4.2-7.2 8.4 5.2m-8.4 0 8.4-5.2m-6.4-2h4.4m-4.4 9.2h4.4M1339 1324.1v9.2m-4.2-7.2 8.4 5.2m-8.4 0 8.4-5.2m-6.4-2h4.4m-4.4 9.2h4.4M1341.6 1320.2v9.2m-4.2-7.2 8.4 5.2m-8.4 0 8.4-5.2m-6.4-2h4.4m-4.4 9.2h4.4M1344.2 1316.4v9.2m-4.2-7.2 8.4 5.2m-8.4 0 8.4-5.2m-6.4-2h4.4m-4.4 9.2h4.4M1346.7 1312.8v9.2m-4.2-7.2 8.4 5.2m-8.4 0 8.4-5.2m-6.4-2h4.4m-4.4 9.2h4.4M1349.4 1309.3v9.2m-4.2-7.2 8.4 5.2m-8.4 0 8.4-5.2m-6.4-2h4.4m-4.4 9.2h4.4M1352 1305.9v9.2m-4.2-7.2 8.4 5.2m-8.4 0 8.4-5.2m-6.4-2h4.4m-4.4 9.2h4.4M1354.7 1302.5v9.2m-4.2-7.2 8.4 5.2m-8.4 0 8.4-5.2m-6.4-2h4.4m-4.4 9.2h4.4M1357.3 1299.2v9.2m-4.2-7.2 8.4 5.2m-8.4 0 8.4-5.2m-6.4-2h4.4m-4.4 9.2h4.4M1359.9 1295.9v9.2m-4.2-7.2 8.4 5.2m-8.4 0 8.4-5.2m-6.4-2h4.4m-4.4 9.2h4.4M1363 1291.8v9.2m-4.2-7.2 8.4 5.2m-8.4 0 8.4-5.2m-6.4-2h4.4m-4.4 9.2h4.4M1366 1287.7v9.2m-4.2-7.2 8.4 5.2m-8.4 0 8.4-5.2m-6.4-2h4.4m-4.4 9.2h4.4M1368.7 1283.5v9.2m-4.2-7.2 8.4 5.2m-8.4 0 8.4-5.2m-6.4-2h4.4m-4.4 9.2h4.4M1371.4 1279.3v9.2m-4.2-7.2 8.4 5.2m-8.4 0 8.4-5.2m-6.4-2h4.4m-4.4 9.2h4.4M1373.9 1275.1v9.2m-4.2-7.2 8.4 5.2m-8.4 0 8.4-5.2m-6.4-2h4.4m-4.4 9.2h4.4M1376.9 1270.1v9.2m-4.2-7.2 8.4 5.2m-8.4 0 8.4-5.2m-6.4-2h4.4m-4.4 9.2h4.4M1379.9 1265.1v9.2m-4.2-7.2 8.4 5.2m-8.4 0 8.4-5.2m-6.4-2h4.4m-4.4 9.2h4.4M1382.5 1260.8v9.2m-4.2-7.2 8.4 5.2m-8.4 0 8.4-5.2m-6.4-2h4.4m-4.4 9.2h4.4M1385.1 1256.4v9.2m-4.2-7.2 8.4 5.2m-8.4 0 8.4-5.2m-6.4-2h4.4m-4.4 9.2h4.4M1387.8 1252v9.2m-4.2-7.2 8.4 5.2m-8.4 0 8.4-5.2m-6.4-2h4.4m-4.4 9.2h4.4M1390.4 1247.6v9.2m-4.2-7.2 8.4 5.2m-8.4 0 8.4-5.2m-6.4-2h4.4m-4.4 9.2h4.4M1393 1243.4v9.2m-4.2-7.2 8.4 5.2m-8.4 0 8.4-5.2m-6.4-2h4.4m-4.4 9.2h4.4M1395.4 1239.6v9.2m-4.2-7.2 8.4 5.2m-8.4 0 8.4-5.2m-6.4-2h4.4m-4.4 9.2h4.4M1398.1 1235.6v9.2m-4.2-7.2 8.4 5.2m-8.4 0 8.4-5.2m-6.4-2h4.4m-4.4 9.2h4.4M1400.6 1232.1v9.2m-4.2-7.2 8.4 5.2m-8.4 0 8.4-5.2m-6.4-2h4.4m-4.4 9.2h4.4M1402.9 1228.9v9.2m-4.2-7.2 8.4 5.2m-8.4 0 8.4-5.2m-6.4-2h4.4m-4.4 9.2h4.4M1405.5 1225.7v9.2m-4.2-7.2 8.4 5.2m-8.4 0 8.4-5.2m-6.4-2h4.4m-4.4 9.2h4.4M1408 1222.8v9.2m-4.2-7.2 8.4 5.2m-8.4 0 8.4-5.2m-6.4-2h4.4m-4.4 9.2h4.4M1410.4 1220.4v9.2m-4.2-7.2 8.4 5.2m-8.4 0 8.4-5.2m-6.4-2h4.4m-4.4 9.2h4.4M1412.7 1218.4v9.2m-4.2-7.2 8.4 5.2m-8.4 0 8.4-5.2m-6.4-2h4.4m-4.4 9.2h4.4M1414.9 1216.8v9.2m-4.2-7.2 8.4 5.2m-8.4 0 8.4-5.2m-6.4-2h4.4m-4.4 9.2h4.4M1417.3 1215.2v9.2m-4.2-7.2 8.4 5.2m-8.4 0 8.4-5.2m-6.4-2h4.4m-4.4 9.2h4.4M1419.7 1213.8v9.2m-4.2-7.2 8.4 5.2m-8.4 0 8.4-5.2m-6.4-2h4.4m-4.4 9.2h4.4M1422.1 1212.6v9.2m-4.2-7.2 8.4 5.2m-8.4 0 8.4-5.2m-6.4-2h4.4m-4.4 9.2h4.4M1424.4 1211.7v9.2m-4.2-7.2 8.4 5.2m-8.4 0 8.4-5.2m-6.4-2h4.4m-4.4 9.2h4.4M1431.2 1228.6v9.2m-4.2-7.2 8.4 5.2m-8.4 0 8.4-5.2m-6.4-2h4.4m-4.4 9.2h4.4M1439.9 1260.5v9.2m-4.2-7.2 8.4 5.2m-8.4 0 8.4-5.2m-6.4-2h4.4m-4.4 9.2h4.4"/>
<path fill="none" stroke="#e69f00" stroke-width="1.0" d="M911.1 1574.6h7.6v7.6h-7.6zm3.8 0v7.6m-3.8-3.8h7.6M921.2 1555.8h7.6v7.6h-7.6zm3.8 0v7.6m-3.8-3.8h7.6M931 1543.2h7.6v7.6h-7.6zm3.8 0v7.6m-3.8-3.8h7.6M940.7 1526.3h7.6v7.6h-7.6zm3.8 0v7.6m-3.8-3.8h7.6M950.2 1509.4h7.6v7.6h-7.6zm3.8 0v7.6m-3.8-3.8h7.6M959.6 1498.8h7.6v7.6h-7.6zm3.8 0v7.6m-3.8-3.8h7.6M968.9 1486.8h7.6v7.6h-7.6zm3.8 0v7.6m-3.8-3.8h7.6M977.9 1476.9h7.6v7.6h-7.6zm3.8 0v7.6m-3.8-3.8h7.6M986.9 1469.9h7.6v7.6h-7.6zm3.8 0v7.6m-3.8-3.8h7.6M995.9 1464.2h7.6v7.6h-7.6zm3.8 0v7.6m-3.8-3.8h7.6M1004.5 1458.7h7.6v7.6h-7.6zm3.8 0v7.6m-3.8-3.8h7.6M1012.8 1454.8h7.6v7.6h-7.6zm3.8 0v7.6m-3.8-3.8h7.6M1021.1 1454.5h7.6v7.6h-7.6zm3.8 0v7.6m-3.8-3.8h7.6M1029.4 1454.9h7.6v7.6h-7.6zm3.8 0v7.6m-3.8-3.8h7.6M1037.8 1455.6h7.6v7.6h-7.6zm3.8 0v7.6m-3.8-3.8h7.6M1045.5 1456.4h7.6v7.6h-7.6zm3.8 0v7.6m-3.8-3.8h7.6M1053.3 1457.2h7.6v7.6h-7.6zm3.8 0v7.6m-3.8-3.8h7.6M1060.9 1458h7.6v7.6h-7.6zm3.8 0v7.6m-3.8-3.8h7.6M1068.3 1458.8h7.6v7.6h-7.6zm3.8 0v7.6m-3.8-3.8h7.6M1075.3 1459.8h7.6v7.6h-7.6zm3.8 0v7.6m-3.8-3.8h7.6M1082.2 1462h7.6v7.6h-7.6zm3.8 0v7.6m-3.8-3.8h7.6M1089 1464.8h7.6v7.6h-7.6zm3.8 0v7.6m-3.8-3.8h7.6M1095.4 1467.2h7.6v7.6h-7.6zm3.8 0v7.6m-3.8-3.8h7.6M1101.8 1470.5h7.6v7.6h-7.6zm3.8 0v7.6m-3.8-3.8h7.6M1108 1474.3h7.6v7.6h-7.6zm3.8 0v7.6m-3.8-3.8h7.6M1114 1478.3h7.6v7.6h-7.6zm3.8 0v7.6m-3.8-3.8h7.6M1119.9 1481.1h7.6v7.6h-7.6zm3.8 0v7.6m-3.8-3.8h7.6M1125.8 1482.8h7.6v7.6h-7.6zm3.8 0v7.6m-3.8-3.8h7.6M1131.6 1482.9h7.6v7.6h-7.6zm3.8 0v7.6m-3.8-3.8h7.6M1137.4 1481.3h7.6v7.6h-7.6zm3.8 0v7.6m-3.8-3.8h7.6M1142.8 1479.6h7.6v7.6h-7.6zm3.8 0v7.6m-3.8-3.8h7.6M1148.2 1477.9h7.6v7.6h-7.6zm3.8 0v7.6m-3.8-3.8h7.6M1153.7 1475.8h7.6v7.6h-7.6zm3.8 0v7.6m-3.8-3.8h7.6M1159.1 1473.1h7.6v7.6h-7.6zm3.8 0v7.6m-3.8-3.8h7.6M1164.5 1470.3h7.6v7.6h-7.6zm3.8 0v7.6m-3.8-3.8h7.6M1169.5 1468h7.6v7.6h-7.6zm3.8 0v7.6m-3.8-3.8h7.6M1174.5 1465.4h7.6v7.6h-7.6zm3.8 0v7.6m-3.8-3.8h7.6M1179.6 1461.7h7.6v7.6h-7.6zm3.8 0v7.6m-3.8-3.8h7.6M1184.2 1457.5h7.6v7.6h-7.6zm3.8 0v7.6m-3.8-3.8h7.6M1188.9 1453.9h7.6v7.6h-7.6zm3.8 0v7.6m-3.8-3.8h7.6M1193.6 1450.8h7.6v7.6h-7.6zm3.8 0v7.6m-3.8-3.8h7.6M1198.2 1447.8h7.6v7.6h-7.6zm3.8 0v7.6m-3.8-3.8h7.6M1202.6 1444.2h7.6v7.6h-7.6zm3.8 0v7.6m-3.8-3.8h7.6M1206.9 1440.5h7.6v7.6h-7.6zm3.8 0v7.6m-3.8-3.8h7.6M1211.5 1438.4h7.6v7.6h-7.6zm3.8 0v7.6m-3.8-3.8h7.6M1215.7 1437.8h7.6v7.6h-7.6zm3.8 0v7.6m-3.8-3.8h7.6M1219.9 1437.7h7.6v7.6h-7.6zm3.8 0v7.6m-3.8-3.8h7.6M1224.2 1438.5h7.6v7.6h-7.6zm3.8 0v7.6m-3.8-3.8h7.6M1228.2 1437.9h7.6v7.6h-7.6zm3.8 0v7.6m-3.8-3.8h7.6M1232.4 1437.1h7.6v7.6h-7.6zm3.8 0v7.6m-3.8-3.8h7.6M1236.5 1436h7.6v7.6h-7.6zm3.8 0v7.6m-3.8-3.8h7.6M1240.8 1434.7h7.6v7.6h-7.6zm3.8 0v7.6m-3.8-3.8h7.6M1244.8 1432.8h7.6v7.6h-7.6zm3.8 0v7.6m-3.8-3.8h7.6M1248.7 1430.5h7.6v7.6h-7.6zm3.8 0v7.6m-3.8-3.8h7.6M1252.6 1427.7h7.6v7.6h-7.6zm3.8 0v7.6m-3.8-3.8h7.6M1256.5 1424.5h7.6v7.6h-7.6zm3.8 0v7.6m-3.8-3.8h7.6M1260.4 1421.1h7.6v7.6h-7.6zm3.8 0v7.6m-3.8-3.8h7.6M1264.3 1417.6h7.6v7.6h-7.6zm3.8 0v7.6m-3.8-3.8h7.6M1267.5 1414.7h7.6v7.6h-7.6zm3.8 0v7.6m-3.8-3.8h7.6M1270.7 1411.7h7.6v7.6h-7.6zm3.8 0v7.6m-3.8-3.8h7.6M1273.9 1408.7h7.6v7.6h-7.6zm3.8 0v7.6m-3.8-3.8h7.6M1277.1 1405.5h7.6v7.6h-7.6zm3.8 0v7.6m-3.8-3.8h7.6M1280.3 1402.1h7.6v7.6h-7.6zm3.8 0v7.6m-3.8-3.8h7.6M1283.6 1398.5h7.6v7.6h-7.6zm3.8 0v7.6m-3.8-3.8h7.6M1286.8 1394.5h7.6v7.6h-7.6zm3.8 0v7.6m-3.8-3.8h7.6M1290 1390.1h7.6v7.6h-7.6zm3.8 0v7.6m-3.8-3.8h7.6M1293.3 1385.6h7.6v7.6h-7.6zm3.8 0v7.6m-3.8-3.8h7.6M1296.5 1380.9h7.6v7.6h-7.6zm3.8 0v7.6m-3.8-3.8h7.6M1299.7 1376.1h7.6v7.6h-7.6zm3.8 0v7.6m-3.8-3.8h7.6M1303 1371.5h7.6v7.6h-7.6zm3.8 0v7.6m-3.8-3.8h7.6M1306.2 1367h7.6v7.6h-7.6zm3.8 0v7.6m-3.8-3.8h7.6M1309.4 1362.5h7.6v7.6h-7.6zm3.8 0v7.6m-3.8-3.8h7.6M1312.6 1358.1h7.6v7.6h-7.6zm3.8 0v7.6m-3.8-3.8h7.6M1315.8 1353.6h7.6v7.6h-7.6zm3.8 0v7.6m-3.8-3.8h7.6M1319 1349h7.6v7.6h-7.6zm3.8 0v7.6m-3.8-3.8h7.6M1322.3 1344.4h7.6v7.6h-7.6zm3.8 0v7.6m-3.8-3.8h7.6M1325.5 1339.7h7.6v7.6h-7.6zm3.8 0v7.6m-3.8-3.8h7.6M1328.7 1334.9h7.6v7.6h-7.6zm3.8 0v7.6m-3.8-3.8h7.6M1332 1330h7.6v7.6h-7.6zm3.8 0v7.6m-3.8-3.8h7.6M1335.2 1325.1h7.6v7.6h-7.6zm3.8 0v7.6m-3.8-3.8h7.6M1338.4 1320.2h7.6v7.6h-7.6zm3.8 0v7.6m-3.8-3.8h7.6M1341.7 1315.4h7.6v7.6h-7.6zm3.8 0v7.6m-3.8-3.8h7.6M1344.9 1310.8h7.6v7.6h-7.6zm3.8 0v7.6m-3.8-3.8h7.6M1348.2 1306.2h7.6v7.6h-7.6zm3.8 0v7.6m-3.8-3.8h7.6M1351.5 1301.6h7.6v7.6h-7.6zm3.8 0v7.6m-3.8-3.8h7.6M1354.8 1297.1h7.6v7.6h-7.6zm3.8 0v7.6m-3.8-3.8h7.6M1358 1292.7h7.6v7.6h-7.6zm3.8 0v7.6m-3.8-3.8h7.6M1361 1288.3h7.6v7.6h-7.6zm3.8 0v7.6m-3.8-3.8h7.6M1363.9 1284h7.6v7.6h-7.6zm3.8 0v7.6m-3.8-3.8h7.6M1367.1 1279h7.6v7.6h-7.6zm3.8 0v7.6m-3.8-3.8h7.6M1370.1 1274h7.6v7.6h-7.6zm3.8 0v7.6m-3.8-3.8h7.6M1373.1 1269.1h7.6v7.6h-7.6zm3.8 0v7.6m-3.8-3.8h7.6M1376.1 1264h7.6v7.6h-7.6zm3.8 0v7.6m-3.8-3.8h7.6M1379.2 1258.7h7.6v7.6h-7.6zm3.8 0v7.6m-3.8-3.8h7.6M1382.4 1253h7.6v7.6h-7.6zm3.8 0v7.6m-3.8-3.8h7.6M1385.6 1247.2h7.6v7.6h-7.6zm3.8 0v7.6m-3.8-3.8h7.6M1388.7 1241.6h7.6v7.6h-7.6zm3.8 0v7.6m-3.8-3.8h7.6M1391.6 1236.7h7.6v7.6h-7.6zm3.8 0v7.6m-3.8-3.8h7.6M1394.3 1232.5h7.6v7.6h-7.6zm3.8 0v7.6m-3.8-3.8h7.6M1397.2 1228.4h7.6v7.6h-7.6zm3.8 0v7.6m-3.8-3.8h7.6M1399.8 1224.9h7.6v7.6h-7.6zm3.8 0v7.6m-3.8-3.8h7.6M1402.4 1221.8h7.6v7.6h-7.6zm3.8 0v7.6m-3.8-3.8h7.6M1404.9 1218.9h7.6v7.6h-7.6zm3.8 0v7.6m-3.8-3.8h7.6M1407.6 1215.9h7.6v7.6h-7.6zm3.8 0v7.6m-3.8-3.8h7.6M1410.1 1213.3h7.6v7.6h-7.6zm3.8 0v7.6m-3.8-3.8h7.6M1412.5 1211.1h7.6v7.6h-7.6zm3.8 0v7.6m-3.8-3.8h7.6M1415.2 1209h7.6v7.6h-7.6zm3.8 0v7.6m-3.8-3.8h7.6M1417.8 1207.3h7.6v7.6h-7.6zm3.8 0v7.6m-3.8-3.8h7.6M1420.3 1205.9h7.6v7.6h-7.6zm3.8 0v7.6m-3.8-3.8h7.6M1422.7 1204.7h7.6v7.6h-7.6zm3.8 0v7.6m-3.8-3.8h7.6M1429.3 1219.7h7.6v7.6h-7.6zm3.8 0v7.6m-3.8-3.8h7.6M1438 1247.7h7.6v7.6h-7.6zm3.8 0v7.6m-3.8-3.8h7.6"/>
<path fill="#eee03c" stroke="none" d="M816.1 1691.9h7.8v7.8h-7.8zM827.1 1676.8h7.8v7.8h-7.8zM838 1658.7h7.8v7.8h-7.8zM849.2 1642.5h7.8v7.8h-7.8zM860.7 1626.3h7.8v7.8h-7.8zM872.2 1611.1h7.8v7.8h-7.8zM884.1 1594h7.8v7.8h-7.8zM896.1 1577.1h7.8v7.8h-7.8zM908.2 1561.5h7.8v7.8h-7.8zM920.2 1545.3h7.8v7.8h-7.8zM932.2 1529.1h7.8v7.8h-7.8zM943.9 1515.2h7.8v7.8h-7.8zM955.3 1501.5h7.8v7.8h-7.8zM966.5 1485.5h7.8v7.8h-7.8zM977.7 1472.5h7.8v7.8h-7.8zM988.6 1461.5h7.8v7.8h-7.8zM999.2 1449.7h7.8v7.8h-7.8zM1009.6 1440h7.8v7.8h-7.8zM1019.7 1432.7h7.8v7.8h-7.8zM1029.6 1423.7h7.8v7.8h-7.8zM1039.3 1418.3h7.8v7.8h-7.8zM1048.9 1413.6h7.8v7.8h-7.8zM1058.1 1407.6h7.8v7.8h-7.8zM1067.3 1401.7h7.8v7.8h-7.8zM1076 1399.1h7.8v7.8h-7.8zM1084.7 1399h7.8v7.8h-7.8zM1093.1 1397h7.8v7.8h-7.8zM1101.3 1395.5h7.8v7.8h-7.8zM1109.1 1399.6h7.8v7.8h-7.8zM1116.7 1400.5h7.8v7.8h-7.8zM1124.1 1401.2h7.8v7.8h-7.8zM1131.5 1402.6h7.8v7.8h-7.8zM1138.4 1402.5h7.8v7.8h-7.8zM1145.4 1401.6h7.8v7.8h-7.8zM1152.3 1399.8h7.8v7.8h-7.8zM1158.9 1398.3h7.8v7.8h-7.8zM1165.5 1397.3h7.8v7.8h-7.8zM1172.1 1396.3h7.8v7.8h-7.8zM1178.3 1395.3h7.8v7.8h-7.8zM1184.5 1393.4h7.8v7.8h-7.8zM1190.3 1391.3h7.8v7.8h-7.8zM1196.1 1389.8h7.8v7.8h-7.8zM1201.8 1388.4h7.8v7.8h-7.8zM1207.6 1387h7.8v7.8h-7.8zM1213 1385.6h7.8v7.8h-7.8zM1218.6 1384.3h7.8v7.8h-7.8zM1224.1 1382.8h7.8v7.8h-7.8zM1229.5 1380.8h7.8v7.8h-7.8zM1234.6 1378.6h7.8v7.8h-7.8zM1240.1 1376.4h7.8v7.8h-7.8zM1244.8 1374.5h7.8v7.8h-7.8zM1249.9 1372.8h7.8v7.8h-7.8zM1254.5 1371.5h7.8v7.8h-7.8zM1259 1370.2h7.8v7.8h-7.8zM1263.5 1368.9h7.8v7.8h-7.8zM1268 1367.6h7.8v7.8h-7.8zM1272.5 1366.5h7.8v7.8h-7.8zM1277 1365.4h7.8v7.8h-7.8zM1280.9 1364.1h7.8v7.8h-7.8zM1284.7 1362.4h7.8v7.8h-7.8zM1288.6 1360.3h7.8v7.8h-7.8zM1292.5 1357.9h7.8v7.8h-7.8zM1296.4 1355.2h7.8v7.8h-7.8zM1300.3 1352.1h7.8v7.8h-7.8zM1304.1 1348.6h7.8v7.8h-7.8zM1308 1344.5h7.8v7.8h-7.8zM1311.9 1340h7.8v7.8h-7.8zM1315.7 1335.2h7.8v7.8h-7.8zM1319.6 1330.2h7.8v7.8h-7.8zM1323.4 1325.2h7.8v7.8h-7.8zM1327.3 1319.9h7.8v7.8h-7.8zM1331.2 1314.4h7.8v7.8h-7.8zM1335.1 1308.9h7.8v7.8h-7.8zM1339 1303.3h7.8v7.8h-7.8zM1342.8 1298h7.8v7.8h-7.8zM1346.8 1292.9h7.8v7.8h-7.8zM1350.8 1287.9h7.8v7.8h-7.8zM1354.7 1282.9h7.8v7.8h-7.8zM1358.5 1278h7.8v7.8h-7.8zM1362.1 1273h7.8v7.8h-7.8zM1366 1267h7.8v7.8h-7.8zM1369.6 1261h7.8v7.8h-7.8zM1373.6 1254.2h7.8v7.8h-7.8zM1377.5 1247.8h7.8v7.8h-7.8zM1381.3 1241.7h7.8v7.8h-7.8zM1385 1235.9h7.8v7.8h-7.8zM1388.5 1230.5h7.8v7.8h-7.8zM1392 1224.9h7.8v7.8h-7.8zM1395.5 1219h7.8v7.8h-7.8zM1398.8 1213.7h7.8v7.8h-7.8zM1402 1209.7h7.8v7.8h-7.8zM1405.1 1206.3h7.8v7.8h-7.8zM1408.3 1203.2h7.8v7.8h-7.8zM1411.4 1200.6h7.8v7.8h-7.8zM1414.6 1198.3h7.8v7.8h-7.8zM1417.9 1196.2h7.8v7.8h-7.8zM1421 1194.8h7.8v7.8h-7.8zM1424 1194.6h7.8v7.8h-7.8zM1427 1197.3h7.8v7.8h-7.8zM1430.1 1202.1h7.8v7.8h-7.8zM1439.8 1222.5h7.8v7.8h-7.8z"/>
<path fill="none" stroke="#111111" stroke-width="0.95" d="M813.1 1707.8l3.2-5.4 3.2 5.4zm3.2-6.4v7.2M825.8 1686.9l3.2-5.4 3.2 5.4zm3.2-6.4v7.2M838.5 1666.1l3.2-5.4 3.2 5.4zm3.2-6.4v7.2M851.5 1644.2l3.2-5.4 3.2 5.4zm3.2-6.4v7.2M864.6 1624.2l3.2-5.4 3.2 5.4zm3.2-6.4v7.2M877.7 1601.6l3.2-5.4 3.2 5.4zm3.2-6.4v7.2M891.1 1579.6l3.2-5.4 3.2 5.4zm3.2-6.4v7.2M904.6 1556.3l3.2-5.4 3.2 5.4zm3.2-6.4v7.2M918.2 1533.8l3.2-5.4 3.2 5.4zm3.2-6.4v7.2M931.8 1513.4l3.2-5.4 3.2 5.4zm3.2-6.4v7.2M945.5 1492.9l3.2-5.4 3.2 5.4zm3.2-6.4v7.2M959.2 1472.5l3.2-5.4 3.2 5.4zm3.2-6.4v7.2M972.7 1451.6l3.2-5.4 3.2 5.4zm3.2-6.4v7.2M986.2 1433l3.2-5.4 3.2 5.4zm3.2-6.4v7.2M999.8 1415.9l3.2-5.4 3.2 5.4zm3.2-6.4v7.2M1013.2 1400.6l3.2-5.4 3.2 5.4zm3.2-6.4v7.2M1026.1 1386.1l3.2-5.4 3.2 5.4zm3.2-6.4v7.2M1038.8 1370.5l3.2-5.4 3.2 5.4zm3.2-6.4v7.2M1051.5 1357.7l3.2-5.4 3.2 5.4zm3.2-6.4v7.2M1064 1347.3l3.2-5.4 3.2 5.4zm3.2-6.4v7.2M1076.3 1337l3.2-5.4 3.2 5.4zm3.2-6.4v7.2M1088 1326.4l3.2-5.4 3.2 5.4zm3.2-6.4v7.2M1099.4 1318.2l3.2-5.4 3.2 5.4zm3.2-6.4v7.2M1110.6 1309.2l3.2-5.4 3.2 5.4zm3.2-6.4v7.2M1121.2 1303.8l3.2-5.4 3.2 5.4zm3.2-6.4v7.2M1131.5 1299.9l3.2-5.4 3.2 5.4zm3.2-6.4v7.2M1141.4 1294.3l3.2-5.4 3.2 5.4zm3.2-6.4v7.2M1151.2 1289.7l3.2-5.4 3.2 5.4zm3.2-6.4v7.2M1160.8 1287.5l3.2-5.4 3.2 5.4zm3.2-6.4v7.2M1170.1 1286.6l3.2-5.4 3.2 5.4zm3.2-6.4v7.2M1178.7 1285.5l3.2-5.4 3.2 5.4zm3.2-6.4v7.2M1187.5 1284.6l3.2-5.4 3.2 5.4zm3.2-6.4v7.2M1195.8 1284.3l3.2-5.4 3.2 5.4zm3.2-6.4v7.2M1204.3 1284.4l3.2-5.4 3.2 5.4zm3.2-6.4v7.2M1212.6 1284.5l3.2-5.4 3.2 5.4zm3.2-6.4v7.2M1220.1 1284.7l3.2-5.4 3.2 5.4zm3.2-6.4v7.2M1227.3 1284.9l3.2-5.4 3.2 5.4zm3.2-6.4v7.2M1234.6 1285.2l3.2-5.4 3.2 5.4zm3.2-6.4v7.2M1241.4 1286l3.2-5.4 3.2 5.4zm3.2-6.4v7.2M1248.4 1285.9l3.2-5.4 3.2 5.4zm3.2-6.4v7.2M1254.8 1285.2l3.2-5.4 3.2 5.4zm3.2-6.4v7.2M1260.9 1284.2l3.2-5.4 3.2 5.4zm3.2-6.4v7.2M1266.8 1282.9l3.2-5.4 3.2 5.4zm3.2-6.4v7.2M1272.6 1281.2l3.2-5.4 3.2 5.4zm3.2-6.4v7.2M1278.4 1279.1l3.2-5.4 3.2 5.4zm3.2-6.4v7.2M1284.2 1276.7l3.2-5.4 3.2 5.4zm3.2-6.4v7.2M1290 1273.9l3.2-5.4 3.2 5.4zm3.2-6.4v7.2M1295.8 1270.7l3.2-5.4 3.2 5.4zm3.2-6.4v7.2M1301 1267.7l3.2-5.4 3.2 5.4zm3.2-6.4v7.2M1306.1 1264.7l3.2-5.4 3.2 5.4zm3.2-6.4v7.2M1311.3 1261.8l3.2-5.4 3.2 5.4zm3.2-6.4v7.2M1316.4 1258.9l3.2-5.4 3.2 5.4zm3.2-6.4v7.2M1321.6 1255.5l3.2-5.4 3.2 5.4zm3.2-6.4v7.2M1326.7 1251.5l3.2-5.4 3.2 5.4zm3.2-6.4v7.2M1331.9 1246.9l3.2-5.4 3.2 5.4zm3.2-6.4v7.2M1337.1 1242l3.2-5.4 3.2 5.4zm3.2-6.4v7.2M1342.3 1237.3l3.2-5.4 3.2 5.4zm3.2-6.4v7.2M1347.5 1232.8l3.2-5.4 3.2 5.4zm3.2-6.4v7.2M1352.8 1228.4l3.2-5.4 3.2 5.4zm3.2-6.4v7.2M1358 1224l3.2-5.4 3.2 5.4zm3.2-6.4v7.2M1363.3 1219.2l3.2-5.4 3.2 5.4zm3.2-6.4v7.2M1368.8 1214.1l3.2-5.4 3.2 5.4zm3.2-6.4v7.2M1374.3 1208.5l3.2-5.4 3.2 5.4zm3.2-6.4v7.2M1379.6 1202.5l3.2-5.4 3.2 5.4zm3.2-6.4v7.2M1385 1195.2l3.2-5.4 3.2 5.4zm3.2-6.4v7.2M1390.3 1188.4l3.2-5.4 3.2 5.4zm3.2-6.4v7.2M1395.3 1183.4l3.2-5.4 3.2 5.4zm3.2-6.4v7.2M1399.9 1179.5l3.2-5.4 3.2 5.4zm3.2-6.4v7.2M1404.3 1176.1l3.2-5.4 3.2 5.4zm3.2-6.4v7.2M1408.8 1172.9l3.2-5.4 3.2 5.4zm3.2-6.4v7.2M1413.1 1170.1l3.2-5.4 3.2 5.4zm3.2-6.4v7.2M1417.5 1167.4l3.2-5.4 3.2 5.4zm3.2-6.4v7.2M1421.8 1164.3l3.2-5.4 3.2 5.4zm3.2-6.4v7.2M1426.3 1162.3l3.2-5.4 3.2 5.4zm3.2-6.4v7.2M1430.5 1164.2l3.2-5.4 3.2 5.4zm3.2-6.4v7.2M1442.5 1173.9l3.2-5.4 3.2 5.4zm3.2-6.4v7.2"/></g>
<path d="M118.5 3.0H809.0V580.1H118.5ZM167.5 3.0v6.5M167.5 580.1v-6.5M266.5 3.0v6.5M266.5 580.1v-6.5M365.5 3.0v6.5M365.5 580.1v-6.5M463.5 3.0v6.5M463.5 580.1v-6.5M562.5 3.0v6.5M562.5 580.1v-6.5M661.5 3.0v6.5M661.5 580.1v-6.5M759.5 3.0v6.5M759.5 580.1v-6.5M118.5 510.5h6.5M809.0 510.5h-6.5M118.5 280.5h6.5M809.0 280.5h-6.5M118.5 49.5h6.5M809.0 49.5h-6.5M118.5 580.4H809.0V1157.5H118.5ZM167.5 580.4v6.5M167.5 1157.5v-6.5M365.5 580.4v6.5M365.5 1157.5v-6.5M562.5 580.4v6.5M562.5 1157.5v-6.5M759.5 580.4v6.5M759.5 1157.5v-6.5M118.5 1088.5h6.5M809.0 1088.5h-6.5M118.5 857.5h6.5M809.0 857.5h-6.5M118.5 626.5h6.5M809.0 626.5h-6.5M118.5 1157.4H809.0V1734.5H118.5ZM167.5 1157.4v6.5M167.5 1734.5v-6.5M365.5 1157.4v6.5M365.5 1734.5v-6.5M562.5 1157.4v6.5M562.5 1734.5v-6.5M759.5 1157.4v6.5M759.5 1734.5v-6.5M118.5 1665.5h6.5M809.0 1665.5h-6.5M118.5 1434.5h6.5M809.0 1434.5h-6.5M118.5 1203.5h6.5M809.0 1203.5h-6.5M809.5 3.0H1500.0V580.1H809.5ZM858.5 3.0v6.5M858.5 580.1v-6.5M1056.5 3.0v6.5M1056.5 580.1v-6.5M1253.5 3.0v6.5M1253.5 580.1v-6.5M1450.5 3.0v6.5M1450.5 580.1v-6.5M809.5 510.5h6.5M1500.0 510.5h-6.5M809.5 280.5h6.5M1500.0 280.5h-6.5M809.5 49.5h6.5M1500.0 49.5h-6.5M809.5 580.4H1500.0V1157.5H809.5ZM858.5 580.4v6.5M858.5 1157.5v-6.5M1056.5 580.4v6.5M1056.5 1157.5v-6.5M1253.5 580.4v6.5M1253.5 1157.5v-6.5M1450.5 580.4v6.5M1450.5 1157.5v-6.5M809.5 1088.5h6.5M1500.0 1088.5h-6.5M809.5 972.5h6.5M1500.0 972.5h-6.5M809.5 857.5h6.5M1500.0 857.5h-6.5M809.5 741.5h6.5M1500.0 741.5h-6.5M809.5 626.5h6.5M1500.0 626.5h-6.5M809.5 1157.4H1500.0V1734.5H809.5ZM858.5 1157.4v6.5M858.5 1734.5v-6.5M1056.5 1157.4v6.5M1056.5 1734.5v-6.5M1253.5 1157.4v6.5M1253.5 1734.5v-6.5M1450.5 1157.4v6.5M1450.5 1734.5v-6.5M809.5 1665.5h6.5M1500.0 1665.5h-6.5M809.5 1549.5h6.5M1500.0 1549.5h-6.5M809.5 1434.5h6.5M1500.0 1434.5h-6.5M809.5 1318.5h6.5M1500.0 1318.5h-6.5M809.5 1203.5h6.5M1500.0 1203.5h-6.5" fill="none" stroke="#7a7a7a" stroke-width="1.1"/>
<text transform="matrix(0.3431 0 0 0.3740 56.59 521.52)" font-size="100" stroke="#fff" stroke-width="1.47">0.01</text>
<text transform="matrix(0.3431 0 0 0.3740 56.59 290.68)" font-size="100" stroke="#fff" stroke-width="1.47">0.02</text>
<text transform="matrix(0.3431 0 0 0.3740 56.59 59.84)" font-size="100" stroke="#fff" stroke-width="1.47">0.03</text>
<text transform="matrix(0.3431 0 0 0.3740 56.59 1098.92)" font-size="100" stroke="#fff" stroke-width="1.47">0.01</text>
<text transform="matrix(0.3431 0 0 0.3740 56.59 868.08)" font-size="100" stroke="#fff" stroke-width="1.47">0.02</text>
<text transform="matrix(0.3431 0 0 0.3740 56.59 637.24)" font-size="100" stroke="#fff" stroke-width="1.47">0.03</text>
<text transform="matrix(0.3431 0 0 0.3740 56.59 1675.92)" font-size="100" stroke="#fff" stroke-width="1.47">0.01</text>
<text transform="matrix(0.3431 0 0 0.3740 56.59 1445.08)" font-size="100" stroke="#fff" stroke-width="1.47">0.02</text>
<text transform="matrix(0.3431 0 0 0.3740 56.59 1214.24)" font-size="100" stroke="#fff" stroke-width="1.47">0.03</text>
<text transform="matrix(0.3527 0 0 0.3578 146.08 1761.49)" font-size="100" stroke="#fff" stroke-width="1.54">0.2</text>
<text transform="matrix(0.3527 0 0 0.3578 342.67 1761.49)" font-size="100" stroke="#fff" stroke-width="1.54">0.4</text>
<text transform="matrix(0.3527 0 0 0.3578 540.20 1761.49)" font-size="100" stroke="#fff" stroke-width="1.54">0.6</text>
<text transform="matrix(0.3527 0 0 0.3578 737.64 1761.49)" font-size="100" stroke="#fff" stroke-width="1.54">0.8</text>
<text transform="matrix(0.3527 0 0 0.3578 837.08 1761.49)" font-size="100" stroke="#fff" stroke-width="1.54">0.2</text>
<text transform="matrix(0.3527 0 0 0.3578 1033.67 1761.49)" font-size="100" stroke="#fff" stroke-width="1.54">0.4</text>
<text transform="matrix(0.3527 0 0 0.3578 1231.20 1761.49)" font-size="100" stroke="#fff" stroke-width="1.54">0.6</text>
<text transform="matrix(0.3527 0 0 0.3578 1428.64 1761.49)" font-size="100" stroke="#fff" stroke-width="1.54">0.8</text>
<text transform="matrix(0.4313 0 0 0.4582 140.36 54.00)" font-size="100" stroke="#fff" stroke-width="1.20">Run</text>
<text transform="matrix(0.4313 0 0 0.4393 224.35 54.00)" font-size="100" stroke="#fff" stroke-width="1.25">1:</text>
<text transform="matrix(0.5275 0 0 0.4521 268.55 54.00)" font-size="100" font-style="italic" stroke="#fff" stroke-width="1.22">T</text>
<text transform="matrix(0.5888 0 0 0.4400 312.07 57.11)" font-size="100" stroke="#fff" stroke-width="1.25">=</text>
<text transform="matrix(0.4218 0 0 0.4361 356.39 54.00)" font-size="100" stroke="#fff" stroke-width="1.26">0.9,</text>
<text transform="matrix(0.5278 0 0 0.4849 438.98 54.00)" font-size="100" font-style="italic" stroke="#fff" stroke-width="1.13">t</text>
<text transform="matrix(0.2790 0 0 0.3050 455.97 60.70)" font-size="100" stroke="#fff" stroke-width="1.80">w</text>
<text transform="matrix(0.5802 0 0 0.4000 489.11 56.28)" font-size="100" stroke="#fff" stroke-width="1.38">=</text>
<text transform="matrix(0.4316 0 0 0.4425 532.80 54.00)" font-size="100" stroke="#fff" stroke-width="1.24">2</text>
<text transform="matrix(0.3030 0 0 0.3021 552.67 38.70)" font-size="100" stroke="#fff" stroke-width="1.82">22</text>
<text transform="matrix(0.4313 0 0 0.4582 831.36 54.00)" font-size="100" stroke="#fff" stroke-width="1.20">Run</text>
<text transform="matrix(0.4313 0 0 0.4406 915.35 54.00)" font-size="100" stroke="#fff" stroke-width="1.25">4:</text>
<text transform="matrix(0.5275 0 0 0.4521 959.55 54.00)" font-size="100" font-style="italic" stroke="#fff" stroke-width="1.22">T</text>
<text transform="matrix(0.5888 0 0 0.4400 1003.07 57.11)" font-size="100" stroke="#fff" stroke-width="1.25">=</text>
<text transform="matrix(0.4218 0 0 0.4361 1047.39 54.00)" font-size="100" stroke="#fff" stroke-width="1.26">1.0,</text>
<text transform="matrix(0.5278 0 0 0.4849 1129.98 54.00)" font-size="100" font-style="italic" stroke="#fff" stroke-width="1.13">t</text>
<text transform="matrix(0.2790 0 0 0.3050 1146.97 60.70)" font-size="100" stroke="#fff" stroke-width="1.80">w</text>
<text transform="matrix(0.5802 0 0 0.4000 1180.11 56.28)" font-size="100" stroke="#fff" stroke-width="1.38">=</text>
<text transform="matrix(0.4316 0 0 0.4425 1223.80 54.00)" font-size="100" stroke="#fff" stroke-width="1.24">2</text>
<text transform="matrix(0.3030 0 0 0.3021 1243.67 38.70)" font-size="100" stroke="#fff" stroke-width="1.82">23.75</text>
<text transform="matrix(0.4313 0 0 0.4582 140.36 631.40)" font-size="100" stroke="#fff" stroke-width="1.20">Run</text>
<text transform="matrix(0.4313 0 0 0.4380 224.35 631.40)" font-size="100" stroke="#fff" stroke-width="1.26">2:</text>
<text transform="matrix(0.5275 0 0 0.4521 268.55 631.40)" font-size="100" font-style="italic" stroke="#fff" stroke-width="1.22">T</text>
<text transform="matrix(0.5888 0 0 0.4400 312.07 634.51)" font-size="100" stroke="#fff" stroke-width="1.25">=</text>
<text transform="matrix(0.4218 0 0 0.4361 356.39 631.40)" font-size="100" stroke="#fff" stroke-width="1.26">0.9,</text>
<text transform="matrix(0.5278 0 0 0.4849 438.98 631.40)" font-size="100" font-style="italic" stroke="#fff" stroke-width="1.13">t</text>
<text transform="matrix(0.2790 0 0 0.3050 455.97 638.10)" font-size="100" stroke="#fff" stroke-width="1.80">w</text>
<text transform="matrix(0.5802 0 0 0.4000 489.11 633.68)" font-size="100" stroke="#fff" stroke-width="1.38">=</text>
<text transform="matrix(0.4316 0 0 0.4425 532.80 631.40)" font-size="100" stroke="#fff" stroke-width="1.24">2</text>
<text transform="matrix(0.3030 0 0 0.3021 552.67 616.10)" font-size="100" stroke="#fff" stroke-width="1.82">26.5</text>
<text transform="matrix(0.4313 0 0 0.4582 831.36 631.40)" font-size="100" stroke="#fff" stroke-width="1.20">Run</text>
<text transform="matrix(0.4313 0 0 0.4429 915.35 631.40)" font-size="100" stroke="#fff" stroke-width="1.24">5:</text>
<text transform="matrix(0.5275 0 0 0.4521 959.55 631.40)" font-size="100" font-style="italic" stroke="#fff" stroke-width="1.22">T</text>
<text transform="matrix(0.5888 0 0 0.4400 1003.07 634.51)" font-size="100" stroke="#fff" stroke-width="1.25">=</text>
<text transform="matrix(0.4218 0 0 0.4361 1047.39 631.40)" font-size="100" stroke="#fff" stroke-width="1.26">1.0,</text>
<text transform="matrix(0.5278 0 0 0.4849 1129.98 631.40)" font-size="100" font-style="italic" stroke="#fff" stroke-width="1.13">t</text>
<text transform="matrix(0.2790 0 0 0.3050 1146.97 638.10)" font-size="100" stroke="#fff" stroke-width="1.80">w</text>
<text transform="matrix(0.5802 0 0 0.4000 1180.11 633.68)" font-size="100" stroke="#fff" stroke-width="1.38">=</text>
<text transform="matrix(0.4316 0 0 0.4425 1223.80 631.40)" font-size="100" stroke="#fff" stroke-width="1.24">2</text>
<text transform="matrix(0.3030 0 0 0.3021 1243.67 616.10)" font-size="100" stroke="#fff" stroke-width="1.82">27.625</text>
<text transform="matrix(0.4313 0 0 0.4582 140.36 1208.40)" font-size="100" stroke="#fff" stroke-width="1.20">Run</text>
<text transform="matrix(0.4313 0 0 0.4380 224.35 1208.40)" font-size="100" stroke="#fff" stroke-width="1.26">3:</text>
<text transform="matrix(0.5275 0 0 0.4521 268.55 1208.40)" font-size="100" font-style="italic" stroke="#fff" stroke-width="1.22">T</text>
<text transform="matrix(0.5888 0 0 0.4400 312.07 1211.51)" font-size="100" stroke="#fff" stroke-width="1.25">=</text>
<text transform="matrix(0.4218 0 0 0.4361 356.39 1208.40)" font-size="100" stroke="#fff" stroke-width="1.26">0.9,</text>
<text transform="matrix(0.5278 0 0 0.4849 438.98 1208.40)" font-size="100" font-style="italic" stroke="#fff" stroke-width="1.13">t</text>
<text transform="matrix(0.2790 0 0 0.3050 455.97 1215.10)" font-size="100" stroke="#fff" stroke-width="1.80">w</text>
<text transform="matrix(0.5802 0 0 0.4000 489.11 1210.68)" font-size="100" stroke="#fff" stroke-width="1.38">=</text>
<text transform="matrix(0.4316 0 0 0.4425 532.80 1208.40)" font-size="100" stroke="#fff" stroke-width="1.24">2</text>
<text transform="matrix(0.3030 0 0 0.3021 552.67 1193.10)" font-size="100" stroke="#fff" stroke-width="1.82">31.25</text>
<text transform="matrix(0.4313 0 0 0.4582 831.36 1208.40)" font-size="100" stroke="#fff" stroke-width="1.20">Run</text>
<text transform="matrix(0.4313 0 0 0.4380 915.35 1208.40)" font-size="100" stroke="#fff" stroke-width="1.26">6:</text>
<text transform="matrix(0.5275 0 0 0.4521 959.55 1208.40)" font-size="100" font-style="italic" stroke="#fff" stroke-width="1.22">T</text>
<text transform="matrix(0.5888 0 0 0.4400 1003.07 1211.51)" font-size="100" stroke="#fff" stroke-width="1.25">=</text>
<text transform="matrix(0.4218 0 0 0.4361 1047.39 1208.40)" font-size="100" stroke="#fff" stroke-width="1.26">1.0,</text>
<text transform="matrix(0.5278 0 0 0.4849 1129.98 1208.40)" font-size="100" font-style="italic" stroke="#fff" stroke-width="1.13">t</text>
<text transform="matrix(0.2790 0 0 0.3050 1146.97 1215.10)" font-size="100" stroke="#fff" stroke-width="1.80">w</text>
<text transform="matrix(0.5802 0 0 0.4000 1180.11 1210.68)" font-size="100" stroke="#fff" stroke-width="1.38">=</text>
<text transform="matrix(0.4316 0 0 0.4425 1223.80 1208.40)" font-size="100" stroke="#fff" stroke-width="1.24">2</text>
<text transform="matrix(0.3030 0 0 0.3021 1243.67 1193.10)" font-size="100" stroke="#fff" stroke-width="1.82">31.75</text>
<g transform="translate(40.5,975.6) rotate(-90)"><text transform="matrix(0.5443 0 0 0.4622 -0.64 0.00)" font-size="100" font-style="italic" stroke="#fff" stroke-width="1.19">S</text><text transform="matrix(0.3894 0 0 0.4819 28.69 0.64)" font-size="100" stroke="#fff" stroke-width="1.14">(</text><text transform="matrix(0.5120 0 0 0.4831 40.85 0.00)" font-size="100" font-style="italic" stroke="#fff" stroke-width="1.14">t</text><text transform="matrix(0.3895 0 0 0.5178 58.72 0.74)" font-size="100" stroke="#fff" stroke-width="1.06">,</text><text transform="matrix(0.5238 0 0 0.4831 74.80 0.00)" font-size="100" font-style="italic" stroke="#fff" stroke-width="1.14">t</text><text transform="matrix(0.3027 0 0 0.2876 91.27 6.50)" font-size="100" stroke="#fff" stroke-width="1.91">w</text><text transform="matrix(0.3357 0 0 0.4945 116.22 0.79)" font-size="100" stroke="#fff" stroke-width="1.11">,</text><text transform="matrix(0.4884 0 0 0.4760 131.95 0.00)" font-size="100" font-style="italic" stroke="#fff" stroke-width="1.16">t</text><path d="M156.2 -40.3L149.6 -28.6" stroke="#000" stroke-width="2.2" stroke-linecap="round"/><text transform="matrix(0.3346 0 0 0.4317 158.77 1.76)" font-size="100" stroke="#fff" stroke-width="1.27">;</text><text transform="matrix(0.4474 0 0 0.4475 178.08 0.00)" font-size="100" font-style="italic" stroke="#fff" stroke-width="1.23">H</text><text transform="matrix(0.3699 0 0 0.4797 214.51 0.69)" font-size="100" stroke="#fff" stroke-width="1.15">)</text></g>
<text transform="matrix(0.4882 0 0 0.4652 685.98 1799.50)" font-size="100" font-style="italic" stroke="#fff" stroke-width="1.18">C</text><text transform="matrix(0.3037 0 0 0.4720 722.87 1799.75)" font-size="100" stroke="#fff" stroke-width="1.17">(</text><text transform="matrix(0.5356 0 0 0.4885 734.15 1799.50)" font-size="100" font-style="italic" stroke="#fff" stroke-width="1.13">t</text><text transform="matrix(0.2996 0 0 0.2971 751.21 1806.10)" font-size="100" stroke="#fff" stroke-width="1.85">new</text><text transform="matrix(0.3760 0 0 0.5101 805.17 1800.15)" font-size="100" stroke="#fff" stroke-width="1.08">,</text><text transform="matrix(0.5159 0 0 0.4885 820.63 1799.50)" font-size="100" font-style="italic" stroke="#fff" stroke-width="1.13">t</text><text transform="matrix(0.2860 0 0 0.3050 837.37 1806.10)" font-size="100" stroke="#fff" stroke-width="1.80">w</text><text transform="matrix(0.4350 0 0 0.4430 859.25 1801.19)" font-size="100" stroke="#fff" stroke-width="1.24">;</text><text transform="matrix(0.4680 0 0 0.4582 879.80 1799.50)" font-size="100" font-style="italic" stroke="#fff" stroke-width="1.20">H</text><text transform="matrix(0.3738 0 0 0.4720 916.20 1799.75)" font-size="100" stroke="#fff" stroke-width="1.17">)</text>
<text transform="matrix(0.4500 0 0 0.4398 1044.48 1024.40)" font-size="100" font-style="italic" stroke="#fff" stroke-width="1.25">H</text>
<text transform="matrix(0.5845 0 0 0.4200 1091.49 1027.20)" font-size="100" stroke="#fff" stroke-width="1.31">=</text>
<text transform="matrix(0.4090 0 0 0.4331 1135.24 1024.40)" font-size="100" stroke="#fff" stroke-width="1.27">0.16</text>
<path d="M990.4 1014.1H1017.6M990.4 1010.8v6.6M1017.6 1010.8v6.6" stroke="#111111" stroke-width="1" opacity="0.75" fill="none"/>
<path d="M1000.2 1017.1L1004.0 1010.5L1007.8 1017.1Z" fill="none" stroke="#111" stroke-width="1"/>
<text transform="matrix(0.4500 0 0 0.4398 1044.48 1062.10)" font-size="100" font-style="italic" stroke="#fff" stroke-width="1.25">H</text>
<text transform="matrix(0.5845 0 0 0.4200 1091.49 1064.90)" font-size="100" stroke="#fff" stroke-width="1.31">=</text>
<text transform="matrix(0.4090 0 0 0.4331 1135.24 1062.10)" font-size="100" stroke="#fff" stroke-width="1.27">0.12</text>
<path d="M990.4 1051.8H1017.6M990.4 1048.5v6.6M1017.6 1048.5v6.6" stroke="#e3211c" stroke-width="1" opacity="0.75" fill="none"/>
<circle cx="1004.0" cy="1051.8" r="3.9" fill="#e3211c"/>
<text transform="matrix(0.4500 0 0 0.4398 1044.48 1099.80)" font-size="100" font-style="italic" stroke="#fff" stroke-width="1.25">H</text>
<text transform="matrix(0.5845 0 0 0.4200 1091.49 1102.60)" font-size="100" stroke="#fff" stroke-width="1.31">=</text>
<text transform="matrix(0.4090 0 0 0.4331 1135.24 1099.80)" font-size="100" stroke="#fff" stroke-width="1.27">0.1</text>
<path d="M990.4 1089.5H1017.6M990.4 1086.2v6.6M1017.6 1086.2v6.6" stroke="#1f78c1" stroke-width="1" opacity="0.75" fill="none"/>
<circle cx="1004.0" cy="1089.5" r="3.7" fill="none" stroke="#1f78c1" stroke-width="1"/>
<text transform="matrix(0.4500 0 0 0.4398 1044.48 1137.50)" font-size="100" font-style="italic" stroke="#fff" stroke-width="1.25">H</text>
<text transform="matrix(0.5845 0 0 0.4200 1091.49 1140.30)" font-size="100" stroke="#fff" stroke-width="1.31">=</text>
<text transform="matrix(0.4090 0 0 0.4331 1135.24 1137.50)" font-size="100" stroke="#fff" stroke-width="1.27">0.08</text>
<path d="M990.4 1127.2H1017.6M990.4 1123.9v6.6M1017.6 1123.9v6.6" stroke="#eee03c" stroke-width="1" opacity="0.75" fill="none"/>
<rect x="1000.0" y="1123.2" width="8" height="8" fill="#eee03c"/>
<text transform="matrix(0.4500 0 0 0.4398 1296.98 1024.40)" font-size="100" font-style="italic" stroke="#fff" stroke-width="1.25">H</text>
<text transform="matrix(0.5845 0 0 0.4200 1343.99 1027.20)" font-size="100" stroke="#fff" stroke-width="1.31">=</text>
<text transform="matrix(0.4090 0 0 0.4331 1387.74 1024.40)" font-size="100" stroke="#fff" stroke-width="1.27">0.04</text>
<path d="M1242.4 1014.1H1269.6M1242.4 1010.8v6.6M1269.6 1010.8v6.6" stroke="#e69f00" stroke-width="1" opacity="0.75" fill="none"/>
<rect x="1252.3" y="1010.4" width="7.4" height="7.4" fill="none" stroke="#e69f00" stroke-width="1"/>
<text transform="matrix(0.4500 0 0 0.4398 1296.98 1062.10)" font-size="100" font-style="italic" stroke="#fff" stroke-width="1.25">H</text>
<text transform="matrix(0.5845 0 0 0.4200 1343.99 1064.90)" font-size="100" stroke="#fff" stroke-width="1.31">=</text>
<text transform="matrix(0.4090 0 0 0.4331 1387.74 1062.10)" font-size="100" stroke="#fff" stroke-width="1.27">0.02</text>
<path d="M1242.4 1051.8H1269.6M1242.4 1048.5v6.6M1269.6 1048.5v6.6" stroke="#56b4e9" stroke-width="1" opacity="0.75" fill="none"/>
<path d="M1256.0 1047.3V1056.3M1252.0 1049.4L1260.0 1054.2M1252.0 1054.2L1260.0 1049.4" fill="none" stroke="#56b4e9" stroke-width="1"/>
<text transform="matrix(0.4500 0 0 0.4398 1296.98 1099.80)" font-size="100" font-style="italic" stroke="#fff" stroke-width="1.25">H</text>
<text transform="matrix(0.5845 0 0 0.4200 1343.99 1102.60)" font-size="100" stroke="#fff" stroke-width="1.31">=</text>
<text transform="matrix(0.4090 0 0 0.4331 1387.74 1099.80)" font-size="100" stroke="#fff" stroke-width="1.27">0.01</text>
<path d="M1242.4 1089.5H1269.6M1242.4 1086.2v6.6M1269.6 1086.2v6.6" stroke="#009e73" stroke-width="1" opacity="0.75" fill="none"/>
<path d="M1252.0 1085.5L1260.0 1093.5M1252.0 1093.5L1260.0 1085.5" fill="none" stroke="#009e73" stroke-width="1"/>
<text transform="matrix(0.4500 0 0 0.4398 1296.98 1137.50)" font-size="100" font-style="italic" stroke="#fff" stroke-width="1.25">H</text>
<text transform="matrix(0.5845 0 0 0.4200 1343.99 1140.30)" font-size="100" stroke="#fff" stroke-width="1.31">=</text>
<text transform="matrix(0.4090 0 0 0.4331 1387.74 1137.50)" font-size="100" stroke="#fff" stroke-width="1.27">0.005</text>
<path d="M1242.4 1127.2H1269.6M1242.4 1123.9v6.6M1269.6 1123.9v6.6" stroke="#9a0fd6" stroke-width="1" opacity="0.75" fill="none"/>
<path d="M1256.0 1122.7V1131.7" fill="none" stroke="#9a0fd6" stroke-width="1.1"/>
</svg></body></html>
